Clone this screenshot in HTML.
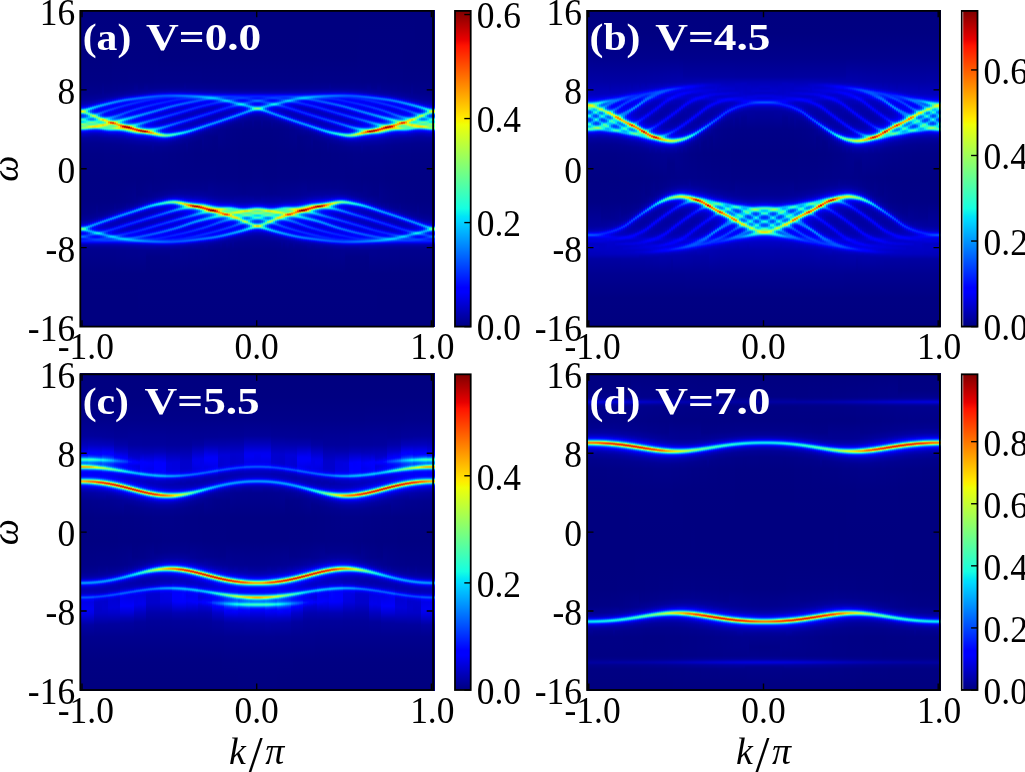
<!DOCTYPE html>
<html lang="en"><head><meta charset="utf-8"><title>Spectral function A(k,ω)</title>
<style>
html,body{margin:0;padding:0;background:#fff}
#f{position:relative;width:1025px;height:772px;overflow:hidden;background:#fff;font-family:"Liberation Serif",serif}
.hm{position:absolute;background:#00007f;overflow:hidden}
.hm i{position:absolute;top:0;height:100%;display:block}
.cb{position:absolute;background:linear-gradient(to top,#000080 0%,#00f 11%,#00f 12.5%,#00dbff 34%,#00e5f7 35%,#15ffe2 37.5%,#efff08 64%,#f7f600 65%,#ffec00 66%,#ff1300 89%,#e80000 91%,#800000 100%)}
svg{position:absolute;left:0;top:0}
.sp{fill:none;stroke:#000;stroke-width:1.8}
.tk{stroke:#000;stroke-width:1.4;fill:none}
.t{font-family:"Liberation Serif",serif;font-size:37.5px;fill:#000}
.ttl{font-family:"Liberation Serif",serif;font-weight:bold;font-size:37px;fill:#fff}
.om{font-family:"Liberation Serif",serif;font-style:italic;font-size:37px;fill:#000}
.xl{font-family:"Liberation Serif",serif;font-size:38px;fill:#000}
.it{font-style:italic}
.sl{font-size:52px}
.a0{background:linear-gradient(#000080,#000080 24px,#000081 48px,#000085 72px,#00008c 84px,#009 90px,#0000b4 94px,#0000d7 96px,#0000f9 97px,#001fff 98px,#0080ff 99px,#43ffb4 100px,#ffe000 101px,#f1fd06 102px,#2fffc7 103px,#08f 104px,#0045ff 105px,#03f 106px,#0048ff 107px,#0091ff 108px,#26ffd1 109px,#50ffa7 110px,#08efef 111px,#00cbff 112px,#24ffd2 113px,#93ff64 114px,#8bff6c 115px,#4dffaa 116px,#73ff84 117px,#a6ff51 118px,#31ffc6 119px,#007bff 120px,#001cff 121px,#0000f7 122px,#0000d6 123px,#0000c1 124px,#00009e 128px,#00008e 134px,#000086 144px,#000083 168px,#000084 192px,#00008a 204px,#00009a 210px,#0000b5 213px,#0000c8 214px,#0000e9 215px,#0012ff 216px,#0078ff 217px,#38ffbf 218px,#97ff60 219px,#21ffd6 220px,#006fff 221px,#001dff 222px,#00f 223px,#00f 224px,#001eff 225px,#0062ff 226px,#0078ff 227px,#0038ff 228px,#0010ff 229px,#0026ff 231px,#000aff 232px,#0000e8 233px,#0000c2 234px,#0000ad 235px,#009 237px,#00008e 240px,#000082 264px,#000080 288px,#000080 312px,#000080)}
.a1{background:linear-gradient(#000080,#000080 24px,#000081 48px,#000085 72px,#00008c 84px,#009 90px,#0000b4 94px,#0000d7 96px,#0000fa 97px,#0021ff 98px,#0084ff 99px,#47ffb0 100px,#faf200 101px,#e7ff0f 102px,#36ffc1 103px,#008eff 104px,#0048ff 105px,#0035ff 106px,#004bff 107px,#0094ff 108px,#23ffd4 109px,#4affad 110px,#0af2ed 111px,#00ceff 112px,#26ffd1 113px,#90ff67 114px,#8aff6c 115px,#50ffa7 116px,#a6ff51 118px,#2fffc8 119px,#0079ff 120px,#001cff 121px,#0000f7 122px,#0000d6 123px,#0000c1 124px,#00009e 128px,#00008e 134px,#000086 144px,#000083 168px,#000084 192px,#00008a 204px,#00009a 210px,#0000b5 213px,#0000c9 214px,#0000eb 215px,#0015ff 216px,#007dff 217px,#38ffbf 218px,#8aff6d 219px,#21ffd6 220px,#0072ff 221px,#001fff 222px,#00f 223px,#00f 224px,#001fff 225px,#0061ff 226px,#0075ff 227px,#0038ff 228px,#01f 229px,#0026ff 231px,#000aff 232px,#0000e8 233px,#0000c2 234px,#0000ad 235px,#009 237px,#00008e 240px,#000082 264px,#000080 288px,#000080 312px,#000080)}
.a2{background:linear-gradient(#000080,#000080 24px,#000081 48px,#000085 72px,#00008c 84px,#009 90px,#0000b5 94px,#00d 96px,#00f 97px,#0034ff 98px,#00a8ff 99px,#55ffa1 100px,#92ff65 101px,#9cff5b 102px,#5cff9b 103px,#0bf 104px,#0061ff 105px,#0047ff 106px,#005fff 107px,#0af 108px,#0df5ea 109px,#20ffd7 110px,#15ffe2 111px,#02e9f4 112px,#34ffc3 113px,#7cff7b 114px,#83ff74 115px,#62ff94 116px,#a5ff52 118px,#21ffd6 119px,#006eff 120px,#0016ff 121px,#0000f3 122px,#0000c0 124px,#00009d 128px,#00008e 134px,#000086 144px,#000083 168px,#000084 192px,#00008a 204px,#00009a 210px,#0000b8 213px,#0000cf 214px,#0000f7 215px,#002aff 216px,#009fff 217px,#27ffd0 218px,#39ffbe 219px,#19ffdd 220px,#008aff 221px,#002eff 222px,#0007ff 223px,#0007ff 224px,#002aff 225px,#005bff 226px,#0060ff 227px,#0016ff 229px,#0026ff 231px,#000aff 232px,#0000e8 233px,#0000c2 234px,#0000ad 235px,#009 237px,#00008e 240px,#000082 264px,#000080 288px,#000080 312px,#000080)}
.a3{background:linear-gradient(#000080,#000080 24px,#000081 48px,#000085 72px,#00008c 84px,#00009a 90px,#0000b9 94px,#0000e7 96px,#0009ff 97px,#005cff 98px,#00e3f9 99px,#3bffbc 100px,#16ffe0 101px,#29ffce 102px,#64ff93 103px,#26ffd1 104px,#009dff 105px,#0071ff 106px,#008aff 107px,#00c1ff 108px,#00c1ff 109px,#00cdff 110px,#1affdd 111px,#2affcd 112px,#4affad 113px,#75ff82 115px,#84ff73 116px,#abff4c 117px,#9fff58 118px,#09f0ee 119px,#005dff 120px,#000dff 121px,#00e 122px,#0000be 124px,#00009d 128px,#00008e 134px,#000086 144px,#000083 168px,#000084 192px,#00008b 204px,#00009c 210px,#0000bf 213px,#0001ff 215px,#0058ff 216px,#00c6ff 217px,#00ceff 218px,#00b8ff 219px,#00daff 220px,#00aeff 221px,#004cff 222px,#001aff 223px,#0019ff 224px,#003bff 225px,#004cff 226px,#0039ff 228px,#001fff 229px,#0026ff 231px,#000bff 232px,#0000e8 233px,#0000c2 234px,#0000ad 235px,#009 237px,#00008e 240px,#000082 264px,#000080 288px,#000080 312px,#000080)}
.a4{background:linear-gradient(#000080,#000080 24px,#000081 48px,#000085 72px,#00008c 84px,#00009b 90px,#0000be 94px,#0000d4 95px,#0000fa 96px,#002aff 97px,#09f 98px,#17ffe0 99px,#00d2ff 100px,#008fff 101px,#009fff 102px,#1bffdb 103px,#63ff94 104px,#20ffd7 105px,#00c3ff 106px,#00c9ff 107px,#00baff 108px,#008fff 109px,#009fff 110px,#0ef7e8 111px,#56ffa1 112px,#5eff99 113px,#42ffb5 114px,#65ff92 115px,#acff4a 116px,#d7ff20 117px,#8fff68 118px,#00ceff 119px,#004aff 120px,#0004ff 121px,#0000e8 122px,#0000bc 124px,#00009c 128px,#00008e 134px,#000086 144px,#000083 168px,#000084 192px,#00008a 203px,#009 209px,#0000b5 212px,#00c 213px,#0000f5 214px,#002cff 215px,#0096ff 216px,#00b6ff 217px,#0074ff 218px,#0060ff 219px,#00c0ff 221px,#003aff 223px,#0035ff 224px,#004bff 225px,#0026ff 227px,#0031ff 228px,#0026ff 231px,#000bff 232px,#0000e8 233px,#0000c2 234px,#0000ad 235px,#009 237px,#00008e 240px,#000082 264px,#000080 288px,#000080 312px,#000080)}
.a5{background:linear-gradient(#000080,#000080 24px,#000081 48px,#000085 72px,#00008d 84px,#00009c 90px,#0000b5 93px,#0000c6 94px,#0007ff 96px,#005eff 97px,#00d5ff 98px,#00d6ff 99px,#07f 100px,#0047ff 101px,#0053ff 102px,#009dff 103px,#3cffbb 104px,#87ff70 105px,#56ffa1 106px,#19ffde 107px,#00a5ff 108px,#0075ff 109px,#0089ff 110px,#02e8f5 111px,#6fff88 112px,#6bff8c 113px,#35ffc2 114px,#5dff9a 115px,#d2ff24 116px,#ffec00 117px,#77ff80 118px,#00aeff 119px,#003aff 120px,#00f 121px,#0000ca 123px,#0000ba 124px,#0000a1 127px,#00008f 133px,#000086 144px,#000083 168px,#000084 192px,#00008a 203px,#000096 208px,#0000ae 211px,#0000c1 212px,#0000e2 213px,#000eff 214px,#006dff 215px,#00afff 216px,#002eff 218px,#0026ff 219px,#0054ff 220px,#00a9ff 221px,#0af 222px,#006aff 223px,#0051ff 225px,#0024ff 226px,#01f 227px,#0035ff 229px,#0027ff 231px,#000bff 232px,#0000e8 233px,#0000c2 234px,#0000ad 235px,#009 237px,#00008e 240px,#000082 264px,#000080 288px,#000080 312px,#000080)}
.a6{background:linear-gradient(#000080,#000080 24px,#000081 48px,#000085 72px,#00008d 84px,#00009e 90px,#00b 93px,#0000d2 94px,#0000fa 95px,#002fff 96px,#009fff 97px,#00ddfe 98px,#0038ff 100px,#001cff 101px,#0027ff 102px,#005bff 103px,#00d1ff 104px,#8fff67 105px,#ceff29 106px,#47ffb0 107px,#00aeff 108px,#0079ff 109px,#008cff 110px,#02e8f5 111px,#68ff8f 112px,#6bff8c 113px,#39ffbd 114px,#62ff95 115px,#f0fd07 116px,#ffd200 117px,#60ff97 118px,#0098ff 119px,#002eff 120px,#00f 121px,#0000c8 123px,#0000ae 125px,#0000a0 127px,#00008f 133px,#000086 144px,#000083 168px,#000084 192px,#00008b 203px,#000098 208px,#0000b8 211px,#0000d3 212px,#00f 213px,#004aff 214px,#00a4ff 215px,#007dff 216px,#0029ff 217px,#0001ff 218px,#00f 219px,#0025ff 220px,#00c4ff 222px,#0084ff 224px,#0016ff 226px,#0004ff 227px,#0019ff 228px,#003cff 229px,#003dff 230px,#000cff 232px,#0000e8 233px,#0000c2 234px,#0000ad 235px,#009 237px,#00008e 240px,#000082 264px,#000080 288px,#000080 312px,#000080)}
.a7{background:linear-gradient(#000080,#000080 24px,#000081 48px,#000085 72px,#00008c 83px,#00009a 89px,#0000b3 92px,#0000c4 93px,#0000e3 94px,#000aff 95px,#06f 96px,#00cdff 97px,#00a5ff 98px,#04f 99px,#01f 100px,#0004ff 101px,#0013ff 102px,#0041ff 103px,#00a5ff 104px,#4fffa8 105px,#b8ff3f 106px,#8eff69 107px,#0bf3ec 108px,#00a1ff 109px,#00a9ff 110px,#10f9e7 111px,#48ffae 112px,#5aff9d 113px,#4effa9 114px,#77ff80 115px,#ffe800 116px,#ffd500 117px,#51ffa5 118px,#008eff 119px,#0029ff 120px,#00f 121px,#0000c7 123px,#0000ae 125px,#0000a0 127px,#00008f 133px,#000086 144px,#000083 168px,#000084 192px,#00008a 202px,#000096 207px,#0000b2 210px,#0000c8 211px,#0000f2 212px,#002cff 213px,#008fff 214px,#0090ff 215px,#0035ff 216px,#00f 217px,#0000f2 218px,#0006ff 220px,#004cff 221px,#0bf 222px,#01e7f6 223px,#0af 224px,#004aff 225px,#000eff 226px,#00f 227px,#0013ff 228px,#003fff 229px,#04f 230px,#000dff 232px,#0000e8 233px,#0000c2 234px,#0000ad 235px,#009 237px,#00008e 240px,#000082 264px,#000080 288px,#000080 312px,#000080)}
.a8{background:linear-gradient(#000080,#000080 24px,#000081 48px,#000085 72px,#00008c 83px,#00009c 89px,#0000ba 92px,#0000d1 93px,#0000fb 94px,#0034ff 95px,#00a2ff 96px,#00c0ff 97px,#0060ff 98px,#0018ff 99px,#00f 100px,#00f 101px,#0010ff 102px,#0048ff 103px,#00a3ff 104px,#00e2f9 105px,#31ffc5 106px,#8fff67 107px,#72ff85 108px,#13fee3 109px,#02e8f5 110px,#23ffd4 111px,#23ffd4 112px,#3affbc 113px,#9bff5c 115px,#ffdf00 116px,#fbf000 117px,#4fffa7 118px,#0090ff 119px,#002bff 120px,#00f 121px,#0000c8 123px,#0000ae 125px,#0000a0 127px,#00008f 133px,#000086 144px,#000083 168px,#000084 192px,#000095 206px,#0000ac 209px,#0000bf 210px,#0000e2 211px,#0012ff 212px,#0073ff 213px,#009eff 214px,#00f 216px,#00d 218px,#0000e5 219px,#00f 220px,#002eff 221px,#00a0ff 222px,#1effd9 223px,#00c6ff 224px,#004eff 225px,#000fff 226px,#00f 227px,#0013ff 228px,#0042ff 229px,#0048ff 230px,#000eff 232px,#0000e8 233px,#0000c2 234px,#0000ad 235px,#009 237px,#00008e 240px,#000082 264px,#000080 288px,#000080 312px,#000080)}
.a9{background:linear-gradient(#000080,#000080 24px,#000081 48px,#000085 72px,#00008b 82px,#009 88px,#0000b1 91px,#0000c3 92px,#0000e3 93px,#000cff 94px,#00c2ff 96px,#0087ff 97px,#002bff 98px,#00f 99px,#00f 101px,#0020ff 102px,#0065ff 103px,#008eff 104px,#0080ff 105px,#00a0ff 106px,#2affcd 107px,#a4ff52 108px,#8eff69 109px,#57ffa0 110px,#35ffc2 111px,#09f1ee 112px,#20ffd7 113px,#cfff28 115px,#ffe400 116px,#d1ff26 117px,#57ffa0 118px,#00a2ff 119px,#0034ff 120px,#00f 121px,#0000ca 123px,#0000ba 124px,#0000a1 127px,#00008f 133px,#000086 144px,#000083 168px,#000084 192px,#00008a 201px,#000097 206px,#0000b8 209px,#0000d5 210px,#00f 211px,#00a0ff 213px,#0063ff 214px,#000dff 215px,#0000eb 216px,#0000d5 217px,#0000d1 218px,#0000db 219px,#0000f8 220px,#0021ff 221px,#008aff 222px,#13fde4 223px,#00d7ff 224px,#005eff 225px,#0018ff 226px,#0005ff 227px,#0019ff 228px,#04f 229px,#0049ff 230px,#000eff 232px,#0000e8 233px,#0000c2 234px,#0000ad 235px,#009 237px,#00008e 240px,#000082 264px,#000080 288px,#000080 312px,#000080)}
.a10{background:linear-gradient(#000080,#000081 24px,#000081 48px,#000085 72px,#00008d 83px,#00009b 88px,#0000b8 91px,#0000d0 92px,#0000fb 93px,#0036ff 94px,#00a0ff 95px,#00acff 96px,#004bff 97px,#0009ff 98px,#0000fe 100px,#000aff 101px,#0070ff 103px,#003dff 105px,#0056ff 106px,#00acff 107px,#5eff99 108px,#eeff09 109px,#ceff29 110px,#54ffa3 111px,#08f0ef 112px,#18ffde 113px,#85ff71 114px,#ffe700 115px,#f1fc06 116px,#9dff5a 117px,#5fff98 118px,#00c3ff 119px,#0048ff 120px,#0003ff 121px,#0000e8 122px,#0000bd 124px,#00009d 128px,#00008e 134px,#000086 144px,#000083 168px,#000085 192px,#00008b 201px,#00009b 206px,#0000b2 208px,#0000ca 209px,#0000f7 210px,#0035ff 211px,#0094ff 212px,#007fff 213px,#0020ff 214px,#0000f2 215px,#0000d4 216px,#0000c9 217px,#0000ca 218px,#0000d7 219px,#0000f7 220px,#02f 221px,#007eff 222px,#00c6ff 223px,#00d1ff 224px,#002bff 226px,#0013ff 227px,#0045ff 229px,#0047ff 230px,#0035ff 231px,#000dff 232px,#0000e7 233px,#0000c2 234px,#0000ad 235px,#009 237px,#00008e 240px,#000082 264px,#000080 288px,#000080 312px,#000080)}
.a11{background:linear-gradient(#000080,#000081 24px,#000081 48px,#000085 72px,#000098 87px,#0000b0 90px,#0000c1 91px,#0000e1 92px,#000aff 93px,#0068ff 94px,#00b6ff 95px,#0076ff 96px,#0020ff 97px,#00f 98px,#00f 100px,#0028ff 101px,#005eff 102px,#004cff 103px,#0021ff 104px,#0018ff 105px,#002fff 106px,#0071ff 107px,#12fce4 108px,#d0ff27 109px,#ffbc00 110px,#96ff60 111px,#2affcd 112px,#2cffcb 113px,#9aff5d 114px,#fc0 115px,#d1ff26 116px,#6fff88 117px,#5bff9c 118px,#07efef 119px,#06f 120px,#0013ff 121px,#0000f2 122px,#0000c0 124px,#00009e 128px,#00008e 134px,#000086 144px,#000083 168px,#000085 192px,#00008c 201px,#009 205px,#0000ac 207px,#0000c0 208px,#0000e5 209px,#0018ff 210px,#007aff 211px,#0095ff 212px,#003aff 213px,#00f 214px,#0000d8 215px,#0000c6 216px,#0000c7 218px,#0000d9 219px,#00f 220px,#002fff 221px,#006fff 222px,#0085ff 223px,#00adff 224px,#0097ff 225px,#0049ff 226px,#0029ff 227px,#0042ff 229px,#04f 230px,#0039ff 231px,#000dff 232px,#0000e7 233px,#0000c2 234px,#0000ad 235px,#009 237px,#00008e 240px,#000082 264px,#000080 288px,#000080 312px,#000080)}
.a12{background:linear-gradient(#000080,#000081 24px,#000081 48px,#000085 72px,#00008c 82px,#00009a 87px,#0000b6 90px,#0000cd 91px,#0000f8 92px,#0031ff 93px,#0098ff 94px,#009fff 95px,#0042ff 96px,#0004ff 97px,#00f 99px,#0013ff 100px,#004bff 101px,#004eff 102px,#001dff 103px,#0002ff 104px,#0003ff 105px,#001dff 106px,#005aff 107px,#00d2ff 108px,#85ff72 109px,#ffe800 110px,#edff09 111px,#76ff81 112px,#60ff97 113px,#bdff39 114px,#ffe900 115px,#b0ff47 116px,#54ffa3 117px,#4fffa8 118px,#28ffcf 119px,#008aff 120px,#0026ff 121px,#0000fe 122px,#0000da 123px,#0000c5 124px,#00009f 128px,#00008f 134px,#000087 144px,#000083 168px,#000085 192px,#00008d 201px,#00009d 205px,#0000b8 207px,#00f 209px,#005aff 210px,#009eff 211px,#0059ff 212px,#0003ff 213px,#0000c7 215px,#0000be 216px,#0000c8 218px,#0001ff 220px,#003fff 221px,#0052ff 222px,#004cff 223px,#00a5ff 225px,#0071ff 226px,#004aff 227px,#003cff 231px,#000dff 232px,#0000e6 233px,#0000c2 234px,#0000ad 235px,#009 237px,#00008e 240px,#000082 264px,#000080 288px,#000080 312px,#000080)}
.a13{background:linear-gradient(#000080,#000081 24px,#000081 48px,#000085 72px,#00008d 82px,#00009c 87px,#0000bf 90px,#0006ff 92px,#0061ff 93px,#00acff 94px,#006dff 95px,#001aff 96px,#00f 97px,#0001ff 99px,#03f 100px,#0052ff 101px,#00f 103px,#00f 105px,#0019ff 106px,#0059ff 107px,#00c8ff 108px,#3effb9 109px,#91ff65 110px,#ffe500 111px,#eaff0d 112px,#bdff39 113px,#e3ff14 114px,#c6ff31 115px,#4effa9 117px,#3effb8 119px,#00aeff 120px,#003bff 121px,#00f 122px,#0000c9 124px,#0000b9 125px,#0000a0 128px,#00008f 134px,#000087 144px,#000083 168px,#000085 192px,#00008c 200px,#00009b 204px,#0000b2 206px,#0000ca 207px,#0000f9 208px,#0039ff 209px,#0096ff 210px,#0078ff 211px,#0019ff 212px,#0000eb 213px,#0000cb 214px,#0000ba 216px,#0000ce 218px,#0000ef 219px,#0019ff 220px,#0043ff 221px,#0020ff 223px,#0049ff 224px,#0096ff 225px,#009eff 226px,#0076ff 227px,#003aff 229px,#003dff 231px,#000cff 232px,#0000e6 233px,#0000c2 234px,#0000ad 235px,#00009a 237px,#00008e 240px,#000082 264px,#000080 288px,#000080 312px,#000080)}
.a14{background:linear-gradient(#000080,#000081 24px,#000081 48px,#000085 72px,#00008d 82px,#00009f 87px,#0000b4 89px,#0000cb 90px,#0000f4 91px,#002bff 92px,#008fff 93px,#0096ff 94px,#003cff 95px,#00f 96px,#00f 98px,#001bff 99px,#004bff 100px,#0034ff 101px,#0002ff 102px,#0000f6 104px,#00f 105px,#001fff 106px,#006aff 107px,#00c4ff 108px,#00e2f9 109px,#30ffc7 110px,#c4ff33 111px,#ff8f00 112px,#ff9e00 113px,#fbf100 114px,#8cff6b 115px,#6bff8b 116px,#59ff9e 117px,#4effa9 119px,#00c8ff 120px,#004aff 121px,#0003ff 122px,#0000bc 125px,#0000a1 128px,#00008f 134px,#000087 144px,#000083 168px,#000085 192px,#00008c 199px,#009 203px,#0000ac 205px,#0000c1 206px,#0000e6 207px,#001bff 208px,#007eff 209px,#0092ff 210px,#0034ff 211px,#0000fa 212px,#0000d2 213px,#0000bf 214px,#0000b9 216px,#0000c2 217px,#0000d9 218px,#00f 219px,#0030ff 220px,#0030ff 221px,#000aff 222px,#0002ff 223px,#0023ff 224px,#00bfff 226px,#00a8ff 227px,#06f 228px,#003bff 229px,#0043ff 230px,#003eff 231px,#000bff 232px,#0000e6 233px,#0000c2 234px,#0000ad 235px,#00009a 237px,#00008e 240px,#000082 264px,#000080 288px,#000080 312px,#000080)}
.a15{background:linear-gradient(#000080,#000081 24px,#000081 48px,#000085 72px,#00008c 81px,#00009b 86px,#0000bd 89px,#0001ff 91px,#0059ff 92px,#00a2ff 93px,#0067ff 94px,#0017ff 95px,#00f 96px,#0007ff 98px,#003aff 99px,#0041ff 100px,#000eff 101px,#0000f8 102px,#0000ec 103px,#00f 105px,#0031ff 106px,#0083ff 107px,#00acff 108px,#00a2ff 109px,#00d6ff 110px,#79ff7e 111px,#ff7c00 112px,#f60b00 113px,#ffda00 114px,#70ff87 115px,#50ffa6 116px,#68ff8f 117px,#6aff8d 118px,#5eff98 119px,#00d3ff 120px,#0050ff 121px,#0007ff 122px,#0000bd 125px,#0000a2 128px,#00008f 134px,#000087 144px,#000083 168px,#000086 192px,#00008d 199px,#00009d 203px,#0000b9 205px,#0002ff 207px,#005fff 208px,#009eff 209px,#00f 211px,#0000da 212px,#0000c2 213px,#0000b7 214px,#00b 216px,#0000ca 217px,#0000ed 218px,#0016ff 219px,#0036ff 220px,#0010ff 221px,#0000fe 222px,#000bff 224px,#05f 225px,#00c4ff 226px,#00d2ff 227px,#0076ff 228px,#04f 229px,#0048ff 230px,#003dff 231px,#000bff 232px,#0000e6 233px,#0000c2 234px,#0000ad 235px,#00009a 237px,#00008e 240px,#000082 264px,#000080 288px,#000080 312px,#000080)}
.a16{background:linear-gradient(#000080,#000081 24px,#000082 48px,#000086 72px,#00008d 81px,#00009d 86px,#0000b2 88px,#0000c7 89px,#00e 90px,#0023ff 91px,#0084ff 92px,#008fff 93px,#0039ff 94px,#00f 95px,#0000fb 96px,#00f 97px,#0046ff 99px,#00f 101px,#0000e9 102px,#0000e7 103px,#0000f7 104px,#000dff 105px,#008fff 107px,#0078ff 109px,#00b0ff 110px,#51ffa6 111px,#ffad00 112px,#d90000 113px,#fa0 114px,#7eff78 115px,#49ffae 116px,#95ff62 118px,#73ff84 119px,#00d4ff 120px,#0050ff 121px,#0008ff 122px,#0000be 125px,#0000a2 128px,#000090 134px,#000087 144px,#000083 168px,#000086 192px,#00008c 198px,#00009b 202px,#0000b2 204px,#00c 205px,#0000fc 206px,#003eff 207px,#09f 208px,#0073ff 209px,#0014ff 210px,#0000e6 211px,#0000c7 212px,#0000b9 213px,#0000b6 215px,#0000c1 216px,#0000da 217px,#00f 218px,#0030ff 219px,#0020ff 220px,#00f 221px,#0000e9 222px,#0000ed 223px,#00f 224px,#0042ff 225px,#00b3ff 226px,#00e2f9 227px,#008eff 228px,#0056ff 229px,#0051ff 230px,#003bff 231px,#000bff 232px,#0000e7 233px,#0000c2 234px,#0000ae 235px,#00009a 237px,#00008e 240px,#000082 264px,#000080 288px,#000080 312px,#000080)}
.a17{background:linear-gradient(#000080,#000081 24px,#000082 48px,#000086 72px,#00008e 81px,#0000a0 86px,#0000ba 88px,#0000d5 89px,#00f 90px,#09f 92px,#06f 93px,#0017ff 94px,#00f 95px,#00f 96px,#000eff 97px,#003dff 98px,#0031ff 99px,#00f 100px,#0000e2 102px,#0000e9 103px,#00f 104px,#0026ff 105px,#006fff 106px,#007cff 107px,#005bff 108px,#0062ff 109px,#00a7ff 110px,#4cffab 111px,#faf200 112px,#ff7200 113px,#ff7900 114px,#bdff3a 115px,#60ff96 116px,#81ff75 117px,#c5ff32 118px,#89ff6e 119px,#00d3ff 120px,#004fff 121px,#0008ff 122px,#0000bf 125px,#0000a3 128px,#000090 134px,#000087 144px,#000083 168px,#000086 192px,#009 201px,#0000ad 203px,#0000c2 204px,#0000e9 205px,#0020ff 206px,#0083ff 207px,#008fff 208px,#002fff 209px,#0000f6 210px,#0000ce 211px,#0000b4 213px,#0000ba 215px,#00c 216px,#0000f3 217px,#001eff 218px,#002eff 219px,#00f 220px,#0000e7 221px,#0000dc 222px,#0000e6 223px,#00f 224px,#003cff 225px,#09f 226px,#00ceff 227px,#00a9ff 228px,#0070ff 229px,#005cff 230px,#003aff 231px,#000cff 232px,#0000e8 233px,#0000c3 234px,#0000ae 235px,#00009a 237px,#00008e 240px,#000082 264px,#000080 288px,#000080 312px,#000080)}
.a18{background:linear-gradient(#000080,#000081 24px,#000082 48px,#000086 72px,#00008c 80px,#00009c 85px,#0000af 87px,#0000c3 88px,#0000e7 89px,#0018ff 90px,#0075ff 91px,#008dff 92px,#003cff 93px,#0001ff 94px,#00f 96px,#0029ff 97px,#003eff 98px,#000fff 99px,#0000f3 100px,#0000e1 101px,#0000e1 102px,#000aff 104px,#004cff 105px,#0078ff 106px,#0056ff 107px,#0041ff 108px,#005eff 109px,#00b9ff 110px,#59ff9d 111px,#a7ff4f 112px,#d7ff1f 113px,#ff9500 114px,#ffc700 115px,#a0ff56 116px,#a0ff57 117px,#eeff09 118px,#9eff59 119px,#00d6ff 120px,#0051ff 121px,#000aff 122px,#00e 123px,#0000c0 125px,#00009e 129px,#00008f 135px,#000087 144px,#000083 168px,#000087 192px,#00008f 198px,#00009e 201px,#0000ba 203px,#0006ff 205px,#0064ff 206px,#009eff 207px,#00f 209px,#0000d8 210px,#0000c0 211px,#0000b5 212px,#0000b6 214px,#0000c3 215px,#0000e1 216px,#0008ff 217px,#0032ff 218px,#0010ff 219px,#0000ef 220px,#0000d7 221px,#0000d5 222px,#00f 224px,#007aff 226px,#00a4ff 227px,#0bf 228px,#000dff 232px,#0000e9 233px,#0000c4 234px,#0000af 235px,#00009b 237px,#00008f 240px,#000082 264px,#000080 288px,#000080 312px,#000080)}
.a19{background:linear-gradient(#000080,#000081 24px,#000082 48px,#000086 72px,#00008f 81px,#00009f 85px,#0000b6 87px,#0000cf 88px,#0000fd 89px,#003bff 90px,#008eff 91px,#006bff 92px,#001cff 93px,#00f 94px,#00f 95px,#0013ff 96px,#003dff 97px,#00f 99px,#0000e4 100px,#00d 101px,#0000e7 102px,#00f 103px,#002dff 104px,#006aff 105px,#005aff 106px,#0035ff 107px,#0038ff 108px,#006cff 109px,#00dffc 110px,#55ffa2 111px,#4affad 112px,#60ff97 113px,#ecff0b 114px,#ff7400 115px,#ffdb00 116px,#dcff1b 117px,#ffe100 118px,#aeff49 119px,#00e4f8 120px,#005aff 121px,#0010ff 122px,#0000f3 123px,#0000c3 125px,#00009f 129px,#00008f 135px,#000087 144px,#000083 168px,#000087 192px,#000091 198px,#0000a4 201px,#0000cd 203px,#00f 204px,#0043ff 205px,#009cff 206px,#0071ff 207px,#01f 208px,#0000e4 209px,#0000c5 210px,#0000b7 211px,#0000b3 213px,#0000bc 214px,#0000d3 215px,#00f 216px,#002aff 217px,#0023ff 218px,#0000fc 219px,#0000d9 220px,#0000cd 221px,#0000d2 222px,#000aff 224px,#0046ff 225px,#0078ff 227px,#00baff 228px,#00b7ff 229px,#003eff 231px,#0010ff 232px,#0000eb 233px,#0000c5 234px,#0000b0 235px,#00009b 237px,#00008f 240px,#000082 264px,#000080 288px,#000080 312px,#000080)}
.a20{background:linear-gradient(#000080,#000081 24px,#000082 48px,#000086 72px,#000090 81px,#0000a1 85px,#0000bd 87px,#0007ff 89px,#0060ff 90px,#008dff 91px,#0007ff 93px,#0002ff 95px,#002dff 96px,#0036ff 97px,#0005ff 98px,#00d 100px,#0000e0 101px,#0000f6 102px,#0014ff 103px,#0056ff 104px,#005fff 105px,#0032ff 106px,#0023ff 107px,#003dff 108px,#008cff 109px,#19ffde 110px,#29ffce 111px,#00defd 112px,#0cf5eb 113px,#83ff74 114px,#ff8d00 115px,#ff4800 116px,#ffa200 117px,#ffc900 118px,#b8ff3f 119px,#17ffe0 120px,#006dff 121px,#001bff 122px,#0000fa 123px,#0000c6 125px,#0000a1 129px,#00008f 135px,#000087 144px,#000083 168px,#008 192px,#000090 197px,#0000a1 200px,#0000c3 202px,#0000eb 203px,#0023ff 204px,#0087ff 205px,#008fff 206px,#002dff 207px,#0000f5 208px,#0000cd 209px,#0000ba 210px,#0000b1 212px,#0000c9 214px,#0000ed 215px,#0018ff 216px,#0030ff 217px,#00f 218px,#00c 220px,#0000c9 221px,#0000d5 222px,#0000f4 223px,#001cff 224px,#04f 225px,#003dff 226px,#0057ff 227px,#00abff 228px,#00d4ff 229px,#04f 231px,#0014ff 232px,#0000ed 233px,#0000c6 234px,#0000b0 235px,#00009b 237px,#00008f 240px,#000082 264px,#000080 288px,#000080 312px,#000080)}
.a21{background:linear-gradient(#000080,#000081 24px,#000082 48px,#000086 72px,#00008e 80px,#00009c 84px,#0000b1 86px,#0000c6 87px,#00e 88px,#0024ff 89px,#007cff 90px,#07f 91px,#0028ff 92px,#00f 93px,#00f 94px,#0017ff 95px,#003aff 96px,#0000fa 98px,#0000e1 99px,#00d 100px,#0001ff 102px,#003fff 103px,#0060ff 104px,#0035ff 105px,#0017ff 106px,#001fff 107px,#0052ff 108px,#00b9ff 109px,#1bffdc 110px,#00caff 111px,#0096ff 112px,#00aeff 113px,#31ffc5 114px,#faf200 115px,#d90000 116px,#f50b00 117px,#ffa800 118px,#c1ff36 119px,#3bffbc 120px,#008dff 121px,#002dff 122px,#00f 123px,#0000cb 125px,#0000bc 126px,#0000a2 129px,#000090 135px,#008 144px,#000083 168px,#000089 192px,#000092 197px,#0000a8 200px,#0000ba 201px,#0007ff 203px,#0067ff 204px,#00a0ff 205px,#00f 207px,#0000d8 208px,#0000bf 209px,#0000b1 211px,#0000c1 213px,#0004ff 215px,#03f 216px,#0013ff 217px,#0000ec 218px,#0000ce 219px,#0000c4 220px,#0000c8 221px,#0000db 222px,#00f 223px,#002dff 224px,#0037ff 225px,#0025ff 226px,#0040ff 227px,#09f 228px,#00e3f9 229px,#004dff 231px,#0018ff 232px,#0000ef 233px,#0000c8 234px,#0000b1 235px,#00009c 237px,#00008f 240px,#000082 264px,#000080 288px,#000080 312px,#000080)}
.a22{background:linear-gradient(#000080,#000081 24px,#000082 48px,#000086 72px,#00008f 80px,#00009f 84px,#0000b7 86px,#0000d1 87px,#00f 88px,#0089ff 90px,#0059ff 91px,#0014ff 92px,#00f 93px,#0005ff 94px,#002dff 95px,#0030ff 96px,#00f 97px,#00d 99px,#0000e4 100px,#00f 101px,#005aff 103px,#0013ff 105px,#000cff 106px,#0029ff 107px,#0075ff 108px,#00dffc 109px,#00d8ff 110px,#0085ff 111px,#0064ff 112px,#007eff 113px,#00dcfe 114px,#a0ff57 115px,#ff1700 116px,#800000 117px,#f60 118px,#d2ff24 119px,#66ff90 120px,#0bf 121px,#0047ff 122px,#0006ff 123px,#0000c0 126px,#0000a4 129px,#000091 135px,#008 144px,#000083 168px,#000089 192px,#000091 196px,#0000a4 199px,#0000cd 201px,#00f 202px,#0043ff 203px,#009eff 204px,#0074ff 205px,#0013ff 206px,#0000e5 207px,#0000c6 208px,#0000b7 209px,#0000b2 211px,#00b 212px,#0000d1 213px,#00f 214px,#0029ff 215px,#0026ff 216px,#0000fd 217px,#0000d5 218px,#0000c4 219px,#0000c2 220px,#00c 221px,#000bff 223px,#0036ff 224px,#0013ff 226px,#03f 227px,#00e3f9 229px,#00abff 230px,#0057ff 231px,#001dff 232px,#0000f2 233px,#0000c9 234px,#0000b2 235px,#00009c 237px,#00008f 240px,#000082 264px,#000080 288px,#000080 312px,#000080)}
.a23{background:linear-gradient(#000080,#000081 24px,#000082 48px,#000086 72px,#00008f 80px,#0000a1 84px,#0000bd 86px,#0007ff 88px,#005dff 89px,#0084ff 90px,#003eff 91px,#0008ff 92px,#00f 93px,#0038ff 95px,#0017ff 96px,#0000f8 97px,#0000e1 98px,#0000e1 99px,#0000f5 100px,#0014ff 101px,#004eff 102px,#0045ff 103px,#0014ff 104px,#0001ff 105px,#000eff 106px,#0040ff 107px,#00a1ff 108px,#00e0fc 109px,#0052ff 111px,#0042ff 112px,#005eff 113px,#00afff 114px,#60ff97 115px,#ff7600 116px,#800000 117px,#f70c00 118px,#f5f701 119px,#94ff62 120px,#13fde4 121px,#006eff 122px,#001cff 123px,#0000fb 124px,#0000c7 126px,#0000a1 130px,#000091 135px,#008 144px,#000083 168px,#00008a 192px,#0000a1 198px,#0000c2 200px,#0000ea 201px,#02f 202px,#0087ff 203px,#0094ff 204px,#0032ff 205px,#0000f8 206px,#0000cf 207px,#00b 208px,#0000b1 210px,#0000c8 212px,#0000ec 213px,#0017ff 214px,#03f 215px,#0002ff 216px,#0000c6 218px,#0000be 219px,#0000c2 220px,#0000d3 221px,#0000fa 222px,#0021ff 223px,#002fff 224px,#000fff 225px,#0007ff 226px,#002cff 227px,#00d7ff 229px,#00b7ff 230px,#0064ff 231px,#0023ff 232px,#0000f5 233px,#0000cb 234px,#0000b3 235px,#00009d 237px,#000090 240px,#000082 264px,#000080 288px,#000080 312px,#000080)}
.a24{background:linear-gradient(#000080,#000081 24px,#000082 48px,#000087 72px,#00008e 79px,#00009c 83px,#0000af 85px,#0000c3 86px,#0000e9 87px,#001bff 88px,#0072ff 89px,#0074ff 90px,#002aff 91px,#0003ff 92px,#0008ff 93px,#002cff 94px,#002eff 95px,#00f 96px,#0000e0 98px,#0002ff 100px,#003dff 101px,#004dff 102px,#001bff 103px,#00f 104px,#00f 105px,#001bff 106px,#0064ff 107px,#00c6ff 108px,#00b4ff 109px,#005cff 110px,#002eff 111px,#002aff 112px,#0049ff 113px,#0094ff 114px,#3bffbb 115px,#ffd500 116px,#b70000 117px,#a10000 118px,#ffaf00 119px,#beff39 120px,#54ffa3 121px,#00a6ff 122px,#003bff 123px,#00f 124px,#0000be 127px,#0000a3 130px,#000092 135px,#008 144px,#000083 168px,#00008b 192px,#000097 196px,#0000a8 198px,#0000b9 199px,#0005ff 201px,#0063ff 202px,#00a5ff 203px,#00f 205px,#0000c1 207px,#0000b1 209px,#0000c0 211px,#0002ff 213px,#0034ff 214px,#0019ff 215px,#00e 216px,#00c 217px,#0000be 218px,#0000bd 219px,#0000c6 220px,#0002ff 222px,#0030ff 223px,#00f 225px,#0001ff 226px,#002dff 227px,#0080ff 228px,#00c2ff 229px,#00bdff 230px,#0029ff 232px,#0000f9 233px,#0000cd 234px,#0000b5 235px,#00009d 237px,#000090 240px,#000082 264px,#000080 288px,#000080 312px,#000080)}
.a25{background:linear-gradient(#000080,#000081 24px,#000082 48px,#000087 72px,#00008e 79px,#00009d 83px,#0000b3 85px,#0000cb 86px,#0000f6 87px,#0030ff 88px,#007eff 89px,#0060ff 90px,#001dff 91px,#0005ff 92px,#0035ff 94px,#0000f9 96px,#0000e4 97px,#0000e6 98px,#00f 99px,#004eff 101px,#00f 103px,#0002ff 105px,#0035ff 106px,#0093ff 107px,#00c5ff 108px,#0030ff 110px,#0015ff 111px,#001bff 112px,#003dff 113px,#008bff 114px,#2dffc9 115px,#c7ff30 116px,#ff8b00 117px,#c10000 118px,#ff5000 119px,#ecff0b 120px,#92ff65 121px,#06edf1 122px,#0062ff 123px,#0015ff 124px,#0000f6 125px,#0000c4 127px,#0000a6 130px,#000093 135px,#008 144px,#000084 168px,#00008c 192px,#0000a4 197px,#00c 199px,#0000fc 200px,#003eff 201px,#009fff 202px,#007fff 203px,#001bff 204px,#0000ea 205px,#0000c8 206px,#0000b2 208px,#0000ba 210px,#0000cf 211px,#0000fb 212px,#0028ff 213px,#002dff 214px,#00f 215px,#0000d6 216px,#0000c1 217px,#0000be 219px,#0000ce 220px,#0000f3 221px,#001bff 222px,#002fff 223px,#0009ff 224px,#00f 226px,#0034ff 227px,#007eff 228px,#00a8ff 229px,#0bf 230px,#0082ff 231px,#0030ff 232px,#0000fc 233px,#0000cf 234px,#0000b6 235px,#00009e 237px,#000090 240px,#000082 264px,#000080 288px,#000080 312px,#000080)}
.a26{background:linear-gradient(#000080,#000081 24px,#000082 48px,#000087 72px,#00008f 79px,#00009f 83px,#0000b8 85px,#0000d3 86px,#00f 87px,#0047ff 88px,#0080ff 89px,#0014ff 91px,#000cff 92px,#0029ff 93px,#002eff 94px,#00f 95px,#0000ed 96px,#0000e4 97px,#0000f4 98px,#01f 99px,#0046ff 100px,#0037ff 101px,#0005ff 102px,#00f 104px,#0013ff 105px,#005cff 106px,#00b6ff 107px,#0098ff 108px,#0040ff 109px,#01f 110px,#0005ff 111px,#0012ff 112px,#003bff 113px,#0091ff 114px,#2bffcc 115px,#c1ff36 117px,#ff5e00 118px,#f00700 119px,#ffb600 120px,#c8ff2e 121px,#45ffb2 122px,#0093ff 123px,#002fff 124px,#00f 125px,#0000cb 127px,#0000a8 130px,#000094 135px,#000089 144px,#000084 168px,#00008e 192px,#009 195px,#0000ad 197px,#0000c2 198px,#0000e8 199px,#001fff 200px,#0086ff 201px,#009fff 202px,#003dff 203px,#0000fe 204px,#0000d2 205px,#0000b3 207px,#0000b6 209px,#0000c6 210px,#0000e7 211px,#0013ff 212px,#0039ff 213px,#000cff 214px,#0000c6 216px,#00b 217px,#0000c3 219px,#00f 221px,#002eff 222px,#001eff 223px,#00f 224px,#0005ff 226px,#0078ff 228px,#008dff 229px,#00b3ff 230px,#0090ff 231px,#0037ff 232px,#00f 233px,#0000d1 234px,#0000b7 235px,#00009e 237px,#000090 240px,#000082 264px,#000080 288px,#000080 312px,#000080)}
.a27{background:linear-gradient(#000080,#000081 24px,#000082 48px,#000087 72px,#00009a 82px,#0000ab 84px,#0000bd 85px,#00d 86px,#0008ff 87px,#005cff 88px,#0078ff 89px,#0038ff 90px,#0010ff 91px,#0018ff 92px,#0032ff 93px,#0000fc 95px,#0000e6 96px,#0000eb 97px,#00f 98px,#0032ff 99px,#04f 100px,#0014ff 101px,#0000fe 102px,#0000f7 103px,#00f 104px,#0030ff 105px,#008cff 106px,#00b0ff 107px,#005eff 108px,#0019ff 109px,#00f 110px,#00f 111px,#01f 112px,#04f 113px,#00a7ff 114px,#1fffd7 115px,#26ffd0 116px,#4fffa8 117px,#f2fc05 118px,#fd1100 119px,#ff5000 120px,#ffe600 121px,#84ff73 122px,#00c7ff 123px,#004bff 124px,#0008ff 125px,#0000c0 128px,#0000a4 131px,#000092 136px,#000089 144px,#000084 168px,#000090 192px,#0000a9 196px,#0000ba 197px,#0006ff 199px,#06f 200px,#00aeff 201px,#0062ff 202px,#0006ff 203px,#0000c3 205px,#0000b6 206px,#0000b4 208px,#0000bf 209px,#0000d8 210px,#00f 211px,#0035ff 212px,#0024ff 213px,#0000f7 214px,#0000cf 215px,#0000bd 216px,#0000bc 218px,#00c 219px,#0000ef 220px,#0018ff 221px,#0030ff 222px,#0008ff 223px,#0000fb 225px,#0010ff 226px,#004fff 227px,#006cff 228px,#0074ff 229px,#00a7ff 230px,#009aff 231px,#0040ff 232px,#00f 233px,#0000d4 234px,#0000b8 235px,#00009f 237px,#000090 240px,#000082 264px,#000080 288px,#000080 312px,#000080)}
.a28{background:linear-gradient(#000080,#000081 24px,#000082 48px,#000087 72px,#00009b 82px,#0000af 84px,#0000c3 85px,#0000e8 86px,#001aff 87px,#006dff 88px,#0069ff 89px,#0029ff 90px,#0012ff 91px,#0025ff 92px,#002dff 93px,#0002ff 94px,#0000e7 96px,#0000f9 97px,#0018ff 98px,#0045ff 99px,#00f 101px,#0000f3 102px,#0000fb 103px,#000fff 104px,#00acff 106px,#0081ff 107px,#002cff 108px,#00f 109px,#00f 111px,#0017ff 112px,#005aff 113px,#00c0ff 114px,#00e0fc 115px,#00beff 116px,#00e2fa 117px,#7bff7c 118px,#ff7800 119px,#e10000 120px,#ff8700 121px,#c1ff36 122px,#0ff8e8 123px,#06f 124px,#0017ff 125px,#0000f8 126px,#0000c5 128px,#0000a5 131px,#000093 136px,#000089 144px,#000084 168px,#000087 185px,#000092 192px,#00009c 194px,#0000b4 196px,#0000ce 197px,#00f 198px,#0045ff 199px,#00a9ff 200px,#008aff 201px,#02f 202px,#00e 203px,#0000cb 204px,#0000b9 205px,#0000b2 207px,#0000cd 209px,#0000f6 210px,#0024ff 211px,#0037ff 212px,#00f 213px,#0000c2 215px,#0000b8 216px,#0000c2 218px,#0000da 219px,#00f 220px,#002eff 221px,#001fff 222px,#00f 223px,#0000f1 224px,#00f 225px,#02f 226px,#005cff 227px,#005eff 229px,#009aff 230px,#00a0ff 231px,#0048ff 232px,#00f 233px,#0000d6 234px,#0000ba 235px,#0000a9 236px,#000090 240px,#000082 264px,#000080 288px,#000080 312px,#000080)}
.a29{background:linear-gradient(#000080,#000081 24px,#000082 48px,#000087 72px,#00008e 78px,#00009c 82px,#0000b2 84px,#0000ca 85px,#0000f5 86px,#002eff 87px,#0076ff 88px,#0057ff 89px,#0020ff 90px,#0019ff 91px,#002eff 92px,#0000fe 94px,#0000e8 95px,#00e 96px,#0001ff 97px,#0036ff 98px,#0039ff 99px,#0007ff 100px,#0000f1 102px,#00f 103px,#002fff 104px,#008aff 105px,#009eff 106px,#0049ff 107px,#0009ff 108px,#0000fd 109px,#00f 111px,#0028ff 112px,#00c3ff 114px,#007bff 116px,#009aff 117px,#24ffd3 118px,#effe08 119px,#d30000 120px,#fa0f00 121px,#ffe900 122px,#2fffc8 123px,#007bff 124px,#0023ff 125px,#00f 126px,#0000c8 128px,#0000a7 131px,#000093 136px,#000089 144px,#000084 168px,#008 185px,#000095 192px,#0000af 195px,#0000c5 196px,#00e 197px,#0027ff 198px,#0094ff 199px,#00abff 200px,#04f 201px,#00f 202px,#0000d5 203px,#0000be 204px,#0000b2 206px,#0000c4 208px,#0000e3 209px,#000eff 210px,#003eff 211px,#0018ff 212px,#0000ec 213px,#0000c9 214px,#0000b6 216px,#00c 218px,#0000f0 219px,#0019ff 220px,#0031ff 221px,#0006ff 222px,#0000f0 224px,#00f 225px,#0038ff 226px,#005eff 227px,#0046ff 228px,#004dff 229px,#008cff 230px,#00a1ff 231px,#00f 233px,#00b 235px,#00a 236px,#000091 240px,#000082 264px,#000081 288px,#000080 312px,#000080)}
.a30{background:linear-gradient(#000080,#000081 24px,#000082 48px,#000087 72px,#00008e 78px,#00009e 82px,#0000b6 84px,#0000d1 85px,#00f 86px,#0043ff 87px,#07f 88px,#001cff 90px,#002bff 92px,#0005ff 93px,#0000e9 95px,#0000fd 96px,#0041ff 98px,#0000fe 100px,#00e 101px,#0000f8 102px,#000fff 103px,#00a3ff 105px,#006dff 106px,#001cff 107px,#00f 108px,#0000f2 109px,#0007ff 111px,#04f 112px,#009bff 113px,#009fff 114px,#0061ff 115px,#004bff 116px,#0069ff 117px,#00c6ff 118px,#8aff6d 119px,#ff3a00 120px,#800000 121px,#ff9200 122px,#50ffa7 123px,#008fff 124px,#002eff 125px,#00f 126px,#0000cb 128px,#0000a8 131px,#000093 136px,#000089 144px,#000084 168px,#008 185px,#009 192px,#0000ab 194px,#0000bd 195px,#0000df 196px,#000eff 197px,#0074ff 198px,#00beff 199px,#006dff 200px,#000cff 201px,#0000e2 202px,#0000c5 203px,#0000b7 204px,#0000b4 206px,#0000be 207px,#0000d6 208px,#00f 209px,#0035ff 210px,#0031ff 211px,#00f 212px,#0000d4 213px,#0000be 214px,#0000b8 216px,#0000c2 217px,#00f 219px,#0031ff 220px,#0000fe 222px,#0000ea 223px,#0000f6 224px,#0010ff 225px,#004eff 226px,#0054ff 227px,#03f 228px,#0041ff 229px,#007fff 230px,#009eff 231px,#0059ff 232px,#0005ff 233px,#0000bd 235px,#0000ab 236px,#000091 240px,#000082 264px,#000081 288px,#000080 312px,#000080)}
.a31{background:linear-gradient(#000080,#000081 24px,#000082 48px,#000087 72px,#00008e 78px,#0000a0 82px,#00b 84px,#0004ff 86px,#05f 87px,#006fff 88px,#0037ff 89px,#001dff 90px,#002aff 91px,#001dff 92px,#00f 93px,#0000eb 94px,#0005ff 96px,#0037ff 97px,#002fff 98px,#00f 99px,#0000f0 100px,#00e 101px,#00f 102px,#0031ff 103px,#0089ff 104px,#008dff 105px,#0037ff 106px,#00f 107px,#00e 109px,#00f 110px,#001bff 111px,#006aff 112px,#009dff 113px,#0032ff 115px,#0029ff 116px,#0046ff 117px,#0093ff 118px,#41ffb6 119px,#ffa500 120px,#800000 121px,#ff3900 122px,#79ff7e 123px,#00a8ff 124px,#003bff 125px,#00f 126px,#0000ce 128px,#0000a9 131px,#000093 136px,#000089 144px,#000084 168px,#000089 185px,#00009d 192px,#0000b7 194px,#0000d3 195px,#00f 196px,#0051ff 197px,#0bf 198px,#009aff 199px,#002bff 200px,#0000f4 201px,#0000ce 202px,#0000bc 203px,#0000b3 205px,#0000cb 207px,#0000f1 208px,#0021ff 209px,#0041ff 210px,#000cff 211px,#0000e3 212px,#0000c5 213px,#0000b8 214px,#0000bc 216px,#0000ce 217px,#0000f6 218px,#0020ff 219px,#0030ff 220px,#0001ff 221px,#0000ed 222px,#0000e9 223px,#00f 224px,#005cff 226px,#0024ff 228px,#003aff 229px,#0073ff 230px,#0098ff 231px,#0060ff 232px,#000aff 233px,#0000be 235px,#0000ac 236px,#000091 240px,#000082 264px,#000081 288px,#000080 312px,#000080)}
.a32{background:linear-gradient(#000080,#000081 24px,#000082 48px,#000087 72px,#00009a 81px,#0000ad 83px,#0000c0 84px,#0000e4 85px,#0015ff 86px,#0064ff 87px,#0063ff 88px,#002dff 89px,#02f 90px,#002aff 91px,#0009ff 92px,#0000f5 93px,#0000eb 94px,#00f 95px,#001fff 96px,#003cff 97px,#01f 98px,#0000f8 99px,#0000ea 100px,#0000f7 101px,#01f 102px,#005fff 103px,#009aff 104px,#000eff 106px,#0000f6 107px,#0000e9 108px,#00f 110px,#003bff 111px,#08f 112px,#07f 113px,#03f 114px,#0012ff 115px,#0012ff 116px,#002fff 117px,#0072ff 118px,#13fde4 119px,#eeff09 120px,#9e0000 121px,#df0000 122px,#afff48 123px,#00caff 124px,#004cff 125px,#0009ff 126px,#0000c0 129px,#0000a3 132px,#000091 137px,#000089 144px,#000084 168px,#00008b 186px,#0000a4 192px,#0000c8 194px,#0000f3 195px,#002fff 196px,#00a2ff 197px,#00c1ff 198px,#0054ff 199px,#00f 200px,#0000c2 202px,#0000b3 204px,#0000c3 206px,#0009ff 208px,#0042ff 209px,#0000f7 211px,#0000ce 212px,#0000bc 213px,#0000b9 215px,#0000c5 216px,#0008ff 218px,#0035ff 219px,#0000f7 221px,#0000e4 222px,#0005ff 224px,#0045ff 225px,#005aff 226px,#002bff 227px,#0019ff 228px,#0035ff 229px,#0090ff 231px,#0065ff 232px,#000eff 233px,#0000e1 234px,#0000bf 235px,#0000ac 236px,#000091 240px,#000082 264px,#000081 288px,#000080 312px,#000080)}
.a33{background:linear-gradient(#000080,#000081 24px,#000082 48px,#000087 72px,#00009b 81px,#0000b0 83px,#0000c6 84px,#0000ef 85px,#0026ff 86px,#006cff 87px,#05f 88px,#0028ff 89px,#0020ff 91px,#00f 92px,#00e 93px,#0006ff 95px,#0035ff 96px,#0028ff 97px,#00f 98px,#0000ec 99px,#0000ec 100px,#00f 101px,#0035ff 102px,#0089ff 103px,#007dff 104px,#0028ff 105px,#00f 106px,#0000e9 107px,#0000e7 108px,#0000f9 109px,#0016ff 110px,#0061ff 111px,#0082ff 112px,#000dff 114px,#00f 115px,#0002ff 116px,#001fff 117px,#005fff 118px,#00defc 119px,#b7ff40 120px,#ff4100 121px,#e10000 122px,#f2fb04 123px,#12fce4 124px,#0065ff 125px,#0015ff 126px,#0000f5 127px,#0000c2 129px,#0000a4 132px,#000091 137px,#000089 144px,#000084 168px,#00008c 186px,#00009a 190px,#0000ac 192px,#0000c0 193px,#0000e2 194px,#01f 195px,#007bff 196px,#00d4ff 197px,#0087ff 198px,#001bff 199px,#0000ec 200px,#0000cb 201px,#00b 202px,#0000b5 204px,#0000be 205px,#0000d4 206px,#00f 207px,#03f 208px,#003fff 209px,#0001ff 210px,#0000c2 212px,#0000b8 213px,#0000bf 215px,#0000d4 216px,#00f 217px,#002aff 218px,#002bff 219px,#00f 220px,#0000e6 221px,#0000e2 222px,#0000f9 223px,#001eff 224px,#005bff 225px,#0048ff 226px,#0019ff 227px,#0012ff 228px,#03f 229px,#08f 231px,#006aff 232px,#0013ff 233px,#0000e3 234px,#0000c0 235px,#0000ad 236px,#000091 240px,#000086 247px,#000082 264px,#000081 288px,#000080 312px,#000080)}
.a34{background:linear-gradient(#000080,#000081 24px,#000082 48px,#000087 72px,#000093 79px,#0000a5 82px,#00c 84px,#0000fc 85px,#006eff 87px,#0026ff 89px,#0028ff 90px,#0000fb 92px,#00e 93px,#00f 94px,#0037ff 96px,#000cff 97px,#0000e8 99px,#0000f7 100px,#0013ff 101px,#0064ff 102px,#0091ff 103px,#0003ff 105px,#0000e2 107px,#0000ea 108px,#00f 109px,#0079ff 111px,#0059ff 112px,#0016ff 113px,#00f 114px,#00f 116px,#0017ff 117px,#0057ff 118px,#00d4ff 119px,#90ff67 120px,#ffce00 121px,#ff4800 122px,#ffb000 123px,#49ffae 124px,#0087ff 125px,#0026ff 126px,#00f 127px,#0000dc 128px,#0000c6 129px,#0000a4 132px,#000092 137px,#000089 144px,#000084 168px,#00008e 186px,#00009e 190px,#0000b8 192px,#0000d3 193px,#00f 194px,#004fff 195px,#00c7ff 196px,#00bdff 197px,#0046ff 198px,#00f 199px,#0000d7 200px,#0000c1 201px,#0000b5 203px,#0000ca 205px,#0000ed 206px,#001cff 207px,#004bff 208px,#001dff 209px,#00e 210px,#0000cb 211px,#0000b6 213px,#0000ca 215px,#0000eb 216px,#0015ff 217px,#0037ff 218px,#000cff 219px,#0000ef 220px,#0000de 221px,#0000e7 222px,#00f 223px,#003cff 224px,#0061ff 225px,#000aff 227px,#000fff 228px,#0053ff 230px,#0080ff 231px,#006fff 232px,#0018ff 233px,#0000e6 234px,#0000c2 235px,#0000ad 236px,#000091 240px,#000086 247px,#000082 264px,#000081 288px,#000080 312px,#000080)}
.a35{background:linear-gradient(#000080,#000081 24px,#000082 48px,#000087 72px,#000090 78px,#00009e 81px,#0000b7 83px,#0000d3 84px,#00f 85px,#0046ff 86px,#006aff 87px,#003cff 88px,#0026ff 89px,#0023ff 90px,#0001ff 91px,#0000f3 92px,#0006ff 94px,#0032ff 95px,#0023ff 96px,#00f 97px,#0000ea 98px,#0000ec 99px,#00f 100px,#003aff 101px,#0089ff 102px,#006dff 103px,#001aff 104px,#0000f8 105px,#0000e2 106px,#0000e1 107px,#0000f4 108px,#0013ff 109px,#005bff 110px,#006cff 111px,#0029ff 112px,#00f 113px,#0000f0 114px,#0000ef 115px,#00f 116px,#0013ff 117px,#0058ff 118px,#00d7ff 119px,#6bff8c 120px,#a9ff4e 121px,#ffc400 122px,#ff8900 123px,#8dff6a 124px,#00b4ff 125px,#003cff 126px,#00f 127px,#0000ca 129px,#0000a6 132px,#000094 136px,#000089 144px,#000084 168px,#00008f 186px,#0000a4 190px,#0000c7 192px,#0000ef 193px,#0027ff 194px,#009dff 195px,#00e4f8 196px,#0016ff 198px,#0000ea 199px,#0000cb 200px,#0000bc 201px,#0000b8 203px,#0000c3 204px,#0004ff 206px,#04f 207px,#003aff 208px,#00f 209px,#0000d7 210px,#0000c0 211px,#0000b8 212px,#0000c2 214px,#00f 216px,#0034ff 217px,#0023ff 218px,#0000fd 219px,#0000e0 220px,#00d 221px,#0000f1 222px,#0014ff 223px,#0058ff 224px,#0054ff 225px,#001aff 226px,#0001ff 227px,#0010ff 228px,#0048ff 230px,#0079ff 231px,#0073ff 232px,#001dff 233px,#0000e9 234px,#0000c3 235px,#0000ae 236px,#000091 240px,#000087 247px,#000082 264px,#000081 288px,#000080 312px,#000080)}
.a36{background:linear-gradient(#000080,#000081 24px,#000082 48px,#000087 72px,#000090 78px,#00009f 81px,#00b 83px,#0006ff 85px,#0053ff 86px,#0062ff 87px,#0034ff 88px,#0019ff 90px,#00f 91px,#0000f2 92px,#00f 93px,#03f 95px,#0009ff 96px,#0000e8 98px,#0000f8 99px,#0017ff 100px,#0068ff 101px,#0087ff 102px,#003aff 103px,#00f 104px,#0000e6 105px,#0000dc 106px,#0000e5 107px,#00f 108px,#006cff 110px,#0043ff 111px,#0003ff 112px,#0000e3 114px,#0000e7 115px,#0000fb 116px,#0014ff 117px,#0060ff 118px,#00defd 119px,#3fffb8 120px,#4cffab 121px,#b2ff45 122px,#ffa100 123px,#d3ff24 124px,#08efef 125px,#0059ff 126px,#000bff 127px,#0000ec 128px,#0000bc 130px,#0000a0 133px,#000089 144px,#000084 168px,#000089 181px,#000095 187px,#0000ab 190px,#0000bd 191px,#0000db 192px,#0004ff 193px,#06f 194px,#00e0fb 195px,#00c3ff 196px,#0045ff 197px,#00f 198px,#0000d9 199px,#0000c3 200px,#0000b8 202px,#0000bf 203px,#0000d2 204px,#0000fc 205px,#002fff 206px,#004fff 207px,#0014ff 208px,#0000e8 209px,#0000c9 210px,#0000b8 212px,#0000be 213px,#0000d0 214px,#0000f7 215px,#0023ff 216px,#0035ff 217px,#0002ff 218px,#0000d9 220px,#0000e1 221px,#00f 222px,#06f 224px,#0007ff 226px,#00f 227px,#003fff 230px,#0072ff 231px,#0076ff 232px,#02f 233px,#0000ec 234px,#0000c4 235px,#0000af 236px,#000091 240px,#000087 247px,#000082 264px,#000081 288px,#000080 312px,#000080)}
.a37{background:linear-gradient(#000080,#000081 24px,#000082 48px,#008 72px,#000091 78px,#0000a0 81px,#0000bf 83px,#0000e2 84px,#0012ff 85px,#005dff 86px,#0059ff 87px,#002eff 88px,#0000fc 91px,#0000f6 92px,#0003ff 93px,#002dff 94px,#02f 95px,#00f 96px,#0000ea 97px,#0000ed 98px,#00f 99px,#0087ff 101px,#005dff 102px,#000eff 103px,#0000ef 104px,#0000dc 105px,#0000dc 106px,#0000ef 107px,#000eff 108px,#0053ff 109px,#005aff 110px,#0017ff 111px,#0000f5 112px,#0000df 113px,#0000da 114px,#0000e3 115px,#0000fb 116px,#001bff 117px,#0071ff 118px,#00e2f9 119px,#08efef 120px,#00ddfd 121px,#44ffb3 122px,#ebff0c 123px,#ffe100 124px,#47ffb0 125px,#0082ff 126px,#001fff 127px,#0000f8 128px,#0000d5 129px,#0000c0 130px,#0000a1 133px,#000092 137px,#000089 144px,#000085 168px,#00008a 181px,#000097 187px,#0000b4 190px,#0000cb 191px,#0000f6 192px,#0031ff 193px,#00aeff 194px,#0df6e9 195px,#008aff 196px,#001cff 197px,#0000ef 198px,#0000ce 199px,#0000ba 201px,#0000ca 203px,#0000e9 204px,#0015ff 205px,#0053ff 206px,#0035ff 207px,#00f 208px,#0000d4 209px,#0000c0 210px,#0000b9 211px,#0000c7 213px,#0000e5 214px,#000cff 215px,#003aff 216px,#0000f4 218px,#0000da 219px,#0000d8 220px,#0000eb 221px,#000cff 222px,#0053ff 223px,#005eff 224px,#001fff 225px,#00f 226px,#00f 227px,#0038ff 230px,#006cff 231px,#07f 232px,#0026ff 233px,#0000ef 234px,#0000c6 235px,#0000b0 236px,#000091 240px,#000087 247px,#000082 264px,#000081 288px,#000080 312px,#000080)}
.a38{background:linear-gradient(#000080,#000080 24px,#000082 48px,#008 72px,#000091 78px,#0000a2 81px,#0000c3 83px,#0000ea 84px,#001eff 85px,#0062ff 86px,#004fff 87px,#002aff 88px,#0020ff 89px,#0003ff 90px,#00f 92px,#0030ff 94px,#000bff 95px,#0000f4 96px,#0000ea 97px,#0000fc 98px,#001eff 99px,#006eff 100px,#007aff 101px,#002aff 102px,#0000fd 103px,#0000df 104px,#0000d7 105px,#0000e0 106px,#00f 107px,#0060ff 109px,#00f 111px,#0000e1 112px,#0000d4 113px,#0000d5 114px,#0000e2 115px,#00f 116px,#002aff 117px,#008cff 118px,#00d4ff 119px,#00a5ff 120px,#008bff 121px,#00c9ff 122px,#77ff80 123px,#ffea00 124px,#8dff69 125px,#00b8ff 126px,#0039ff 127px,#00f 128px,#0000c4 130px,#0000a2 133px,#000092 137px,#000089 144px,#000085 168px,#00008a 181px,#00009a 187px,#0000be 190px,#0006ff 192px,#0069ff 193px,#06edf1 194px,#00ddfe 195px,#0058ff 196px,#0001ff 197px,#0000c8 199px,#0000bd 201px,#0000c5 202px,#0000dc 203px,#00f 204px,#0042ff 205px,#0052ff 206px,#000fff 207px,#0000e5 208px,#0000c8 209px,#0000ba 211px,#0000c1 212px,#0000d6 213px,#00f 214px,#002fff 215px,#0030ff 216px,#00f 217px,#0000e1 218px,#0000d5 219px,#00d 220px,#0000fe 221px,#002cff 222px,#0069ff 223px,#04f 224px,#0008ff 225px,#00f 227px,#001dff 228px,#0031ff 230px,#06f 231px,#0076ff 232px,#002aff 233px,#0000f2 234px,#0000c7 235px,#0000b0 236px,#00009b 238px,#000091 240px,#000087 247px,#000082 264px,#000081 288px,#000080 312px,#000080)}
.a39{background:linear-gradient(#000080,#000080 24px,#000081 48px,#008 72px,#000091 78px,#0000a3 81px,#0000c7 83px,#0000f2 84px,#0029ff 85px,#0064ff 86px,#0027ff 88px,#001aff 89px,#00f 90px,#00f 92px,#0027ff 93px,#0024ff 94px,#00f 95px,#0000ed 96px,#0005ff 98px,#004aff 99px,#0084ff 100px,#004aff 101px,#0001ff 102px,#0000d6 104px,#0000d7 105px,#0000ec 106px,#000cff 107px,#004dff 108px,#004aff 109px,#0008ff 110px,#0000d3 112px,#0000cd 113px,#0000d3 114px,#00f 116px,#0045ff 117px,#00a7ff 118px,#00a8ff 119px,#0063ff 120px,#004dff 121px,#0078ff 122px,#10f9e7 123px,#b6ff41 124px,#beff39 125px,#0ef7e9 126px,#0059ff 127px,#0007ff 128px,#0000c9 130px,#0000a3 133px,#000092 137px,#000089 144px,#000085 168px,#00008a 180px,#000098 186px,#0000b4 189px,#0000ca 190px,#0000f3 191px,#002aff 192px,#00a7ff 193px,#21ffd6 194px,#00b2ff 195px,#0035ff 196px,#0000fe 197px,#0000d8 198px,#0000c0 200px,#0000c3 201px,#0000d2 202px,#0000f7 203px,#0028ff 204px,#005fff 205px,#0000fc 207px,#0000d3 208px,#0000c0 209px,#0000ba 210px,#00c 212px,#00e 213px,#0019ff 214px,#003dff 215px,#01f 216px,#00e 217px,#0000d7 218px,#0000d6 219px,#0009ff 221px,#0051ff 222px,#06f 223px,#0025ff 224px,#00f 225px,#0005ff 227px,#0021ff 228px,#001dff 229px,#002cff 230px,#0061ff 231px,#0074ff 232px,#002dff 233px,#0000f4 234px,#0000c8 235px,#0000b1 236px,#00009b 238px,#000091 240px,#000087 247px,#000082 264px,#000081 288px,#000080 312px,#000080)}
.a40{background:linear-gradient(#000080,#000080 24px,#000081 48px,#008 72px,#000092 78px,#0000a4 81px,#0000cb 83px,#0000fa 84px,#0063ff 86px,#0025ff 88px,#00f 90px,#00f 91px,#000fff 92px,#002eff 93px,#0010ff 94px,#0000f9 95px,#00e 96px,#00f 97px,#0028ff 98px,#0075ff 99px,#006aff 100px,#0019ff 101px,#0000f2 102px,#0000d8 103px,#0000d3 104px,#0000de 105px,#00f 106px,#05f 108px,#0021ff 109px,#0000f6 110px,#0000d6 111px,#0000ca 112px,#0000d4 114px,#0000ef 115px,#0013ff 116px,#006aff 117px,#00a8ff 118px,#002eff 120px,#0020ff 121px,#0041ff 122px,#009fff 123px,#5aff9d 124px,#beff38 125px,#3cffbb 126px,#007aff 127px,#0016ff 128px,#00e 129px,#0000cd 130px,#0000b9 131px,#0000a3 133px,#000092 137px,#000089 144px,#000085 168px,#00008a 180px,#00009b 186px,#0000bd 189px,#00f 191px,#0059ff 192px,#02e8f5 193px,#1fffd8 194px,#0085ff 195px,#001aff 196px,#0000f0 197px,#0000d3 198px,#0000c4 200px,#0000cd 201px,#0000e8 202px,#000eff 203px,#0057ff 204px,#0053ff 205px,#0009ff 206px,#0000c8 208px,#0000bc 210px,#0000c5 211px,#00f 213px,#0039ff 214px,#002bff 215px,#00f 216px,#0000de 217px,#0000d3 218px,#0000dc 219px,#0000fd 220px,#002cff 221px,#006dff 222px,#004bff 223px,#0009ff 224px,#00f 226px,#0021ff 228px,#0016ff 229px,#0029ff 230px,#005cff 231px,#0071ff 232px,#002fff 233px,#0000f5 234px,#0000c9 235px,#0000b1 236px,#00009b 238px,#000091 240px,#000087 247px,#000082 264px,#000081 288px,#000080 312px,#000080)}
.a41{background:linear-gradient(#000080,#000080 24px,#000081 48px,#008 72px,#000092 78px,#0000a5 81px,#0000cf 83px,#00f 84px,#003cff 85px,#0061ff 86px,#003bff 87px,#000cff 89px,#00f 90px,#00f 91px,#001fff 92px,#0026ff 93px,#00f 94px,#0000f2 95px,#0000f6 96px,#000dff 97px,#05f 98px,#007dff 99px,#0038ff 100px,#00f 101px,#0000df 102px,#0000d1 103px,#0000d5 104px,#0000eb 105px,#000dff 106px,#004aff 107px,#003bff 108px,#00f 109px,#0000de 110px,#0000ca 111px,#0000c5 112px,#0000ca 113px,#0000db 114px,#00f 115px,#0035ff 116px,#008dff 117px,#0083ff 118px,#03f 119px,#0008ff 120px,#0002ff 121px,#001dff 122px,#06f 123px,#13fde4 124px,#9bff5c 125px,#57ffa0 126px,#0094ff 127px,#02f 128px,#0000f4 129px,#0000cf 130px,#0000ba 131px,#0000a3 133px,#000091 137px,#008 144px,#000085 168px,#00008a 179px,#000098 185px,#0000b3 188px,#0000c8 189px,#00e 190px,#0020ff 191px,#0096ff 192px,#2fffc8 193px,#05ecf2 194px,#005cff 195px,#0005ff 196px,#0000d0 198px,#0000c8 199px,#00c 200px,#0000de 201px,#00f 202px,#0040ff 203px,#0069ff 204px,#002aff 205px,#0000f7 206px,#0000d1 207px,#0000bc 209px,#0000c0 210px,#0000d1 211px,#0000f8 212px,#003fff 214px,#000bff 215px,#0000ea 216px,#0000d5 217px,#0000d5 218px,#000aff 220px,#0054ff 221px,#006bff 222px,#0027ff 223px,#00f 224px,#0000f5 225px,#00f 226px,#001aff 227px,#001bff 228px,#0010ff 229px,#0028ff 230px,#0057ff 231px,#006eff 232px,#002fff 233px,#0000f6 234px,#0000c9 235px,#0000b1 236px,#00009b 238px,#000091 240px,#000087 247px,#000082 264px,#000081 288px,#000080 312px,#000080)}
.a42{background:linear-gradient(#000080,#000080 24px,#000081 48px,#008 72px,#000092 78px,#0000a6 81px,#0000b6 82px,#0000d2 83px,#00f 84px,#0043ff 85px,#0060ff 86px,#0039ff 87px,#0006ff 89px,#00f 90px,#0009ff 91px,#0029ff 92px,#0000fe 94px,#0000f3 95px,#00f 96px,#0032ff 97px,#0078ff 98px,#005aff 99px,#000cff 100px,#0000ea 101px,#0000d4 102px,#0000d0 103px,#00d 104px,#00f 105px,#002fff 106px,#004bff 107px,#0013ff 108px,#0000eb 109px,#0000ce 110px,#0000c3 111px,#0000ce 113px,#0000e8 114px,#000cff 115px,#0060ff 116px,#008fff 117px,#0009ff 119px,#0000fc 120px,#0008ff 122px,#0047ff 123px,#00cbff 124px,#76ff80 125px,#59ff9d 126px,#009dff 127px,#0025ff 128px,#0000f5 129px,#0000cf 130px,#0000b9 131px,#0000a2 133px,#000091 137px,#008 144px,#000085 168px,#00008b 179px,#00009b 185px,#0000bc 188px,#0000d7 189px,#00f 190px,#004bff 191px,#00dcfe 192px,#43ffb4 193px,#00bfff 194px,#003cff 195px,#00f 196px,#0000e0 197px,#0000d0 198px,#0000cd 199px,#0000d8 200px,#0000f9 201px,#0026ff 202px,#006cff 203px,#004eff 204px,#0002ff 205px,#0000c7 207px,#0000be 208px,#0000c9 210px,#000bff 212px,#0041ff 213px,#0000fd 215px,#0000dc 216px,#0000d3 217px,#00d 218px,#00f 219px,#0030ff 220px,#0072ff 221px,#004dff 222px,#0009ff 223px,#0000f6 224px,#0004ff 226px,#0021ff 227px,#000bff 229px,#0028ff 230px,#0053ff 231px,#006aff 232px,#002fff 233px,#0000f6 234px,#0000c9 235px,#0000b1 236px,#00009b 238px,#000091 240px,#000087 247px,#000082 264px,#000081 288px,#000080 312px,#000080)}
.a43{background:linear-gradient(#000080,#000080 24px,#000081 48px,#008 72px,#000093 78px,#0000a7 81px,#0000b8 82px,#00f 84px,#0049ff 85px,#005fff 86px,#0039ff 87px,#0002ff 89px,#00f 90px,#0026ff 92px,#0003ff 93px,#0000f7 94px,#0000fc 95px,#0014ff 96px,#005dff 97px,#0074ff 98px,#0029ff 99px,#0000fa 100px,#0000d9 101px,#0000cf 102px,#0000d4 103px,#0000ec 104px,#01f 105px,#0048ff 106px,#002dff 107px,#0000fe 108px,#0000d6 109px,#0000c5 110px,#0000c0 111px,#0000c6 112px,#0000d7 113px,#0000fe 114px,#03f 115px,#0082ff 116px,#0065ff 117px,#0017ff 118px,#0000fa 119px,#0000ea 120px,#00f 122px,#003dff 123px,#00bcff 124px,#65ff91 125px,#49ffae 126px,#0090ff 127px,#001eff 128px,#0000f0 129px,#00c 130px,#0000b7 131px,#0000a1 133px,#000090 137px,#008 144px,#000085 168px,#00008a 178px,#000098 184px,#0000b2 187px,#0000c6 188px,#0000e7 189px,#0013ff 190px,#007dff 191px,#2dffca 192px,#3effb8 193px,#09f 194px,#0027ff 195px,#0000fc 196px,#0000de 197px,#0000d3 198px,#0000d7 199px,#0000ed 200px,#000fff 201px,#005cff 202px,#006dff 203px,#0021ff 204px,#0000f2 205px,#0000d0 206px,#0000be 208px,#0000c4 209px,#0000d8 210px,#00f 211px,#0031ff 212px,#003eff 213px,#0005ff 214px,#0000d5 216px,#0000d6 217px,#0000ec 218px,#000eff 219px,#005bff 220px,#006eff 221px,#0027ff 222px,#00f 223px,#0000f0 224px,#0000fe 225px,#0020ff 227px,#0008ff 228px,#000aff 229px,#004fff 231px,#0067ff 232px,#002dff 233px,#0000f5 234px,#0000c8 235px,#0000b1 236px,#00009b 238px,#000091 240px,#000087 247px,#000082 264px,#000081 288px,#000080 312px,#000080)}
.a44{background:linear-gradient(#000080,#000080 24px,#000081 48px,#008 72px,#000090 77px,#00009e 80px,#0000b9 82px,#0003ff 84px,#004eff 85px,#005fff 86px,#003aff 87px,#0001ff 89px,#0006ff 90px,#0023ff 91px,#0019ff 92px,#00f 93px,#0000f7 94px,#00f 95px,#0039ff 96px,#0078ff 97px,#004dff 98px,#0002ff 99px,#0000d1 101px,#0000cf 102px,#0000de 103px,#00f 104px,#03f 105px,#0041ff 106px,#0006ff 107px,#0000c9 109px,#0000c0 110px,#00c 112px,#0000e8 113px,#000fff 114px,#0061ff 115px,#0078ff 116px,#002dff 117px,#00f 118px,#0000e4 119px,#0000de 120px,#00f 122px,#0040ff 123px,#00c5ff 124px,#5fff98 125px,#29ffce 126px,#0072ff 127px,#000eff 128px,#0000e5 129px,#0000c5 130px,#0000b2 131px,#00009e 133px,#00008f 137px,#000087 144px,#000085 168px,#00008c 179px,#00009b 184px,#0000b9 187px,#0000d0 188px,#0000f8 189px,#002fff 190px,#00b0ff 191px,#54ffa3 192px,#30ffc7 193px,#007fff 194px,#001bff 195px,#0000f8 196px,#0000e0 197px,#0000db 198px,#00f 200px,#007eff 202px,#0047ff 203px,#00f 204px,#00d 205px,#0000c7 206px,#0000bf 207px,#0000ce 209px,#00e 210px,#0019ff 211px,#0048ff 212px,#0000f8 214px,#0000da 215px,#0000d4 216px,#0000e0 217px,#00f 218px,#0078ff 220px,#004cff 221px,#0007ff 222px,#0000f3 223px,#0000f0 224px,#00f 225px,#0021ff 226px,#0017ff 227px,#00f 228px,#000bff 229px,#004cff 231px,#0064ff 232px,#0029ff 233px,#0000f2 234px,#0000c7 235px,#0000b0 236px,#00009a 238px,#000091 240px,#000087 247px,#000082 264px,#000081 288px,#000080 312px,#000080)}
.a45{background:linear-gradient(#000080,#000080 24px,#000081 48px,#008 72px,#000090 77px,#00009e 80px,#00b 82px,#0006ff 84px,#0052ff 85px,#0061ff 86px,#0019ff 88px,#0004ff 89px,#0025ff 91px,#0009ff 92px,#00f 94px,#0018ff 95px,#0060ff 96px,#006cff 97px,#0020ff 98px,#0000f5 99px,#0000d7 100px,#0000cd 101px,#0000d4 102px,#0000ef 103px,#0016ff 104px,#0045ff 105px,#001fff 106px,#0000f3 107px,#0000d0 108px,#0000be 110px,#0000c4 111px,#0000d8 112px,#00f 113px,#0079ff 115px,#0047ff 116px,#00f 117px,#0000d7 119px,#0000d8 120px,#0002ff 122px,#004fff 123px,#00defd 124px,#57ffa0 125px,#00e1fa 126px,#004dff 127px,#00f 128px,#0000be 130px,#0000a3 132px,#000090 136px,#000087 144px,#000086 168px,#00008d 179px,#00009d 184px,#0000be 187px,#0000d9 188px,#00f 189px,#0047ff 190px,#00daff 191px,#6eff89 192px,#27ffd0 193px,#0073ff 194px,#0017ff 195px,#0000fa 196px,#0000e7 197px,#0000e8 198px,#00f 199px,#0029ff 200px,#07f 201px,#006eff 202px,#001aff 203px,#0000ef 204px,#0000d0 205px,#0000c0 207px,#0000c8 208px,#00f 210px,#003eff 211px,#003cff 212px,#00f 213px,#0000d5 215px,#0000d9 216px,#0000f1 217px,#0017ff 218px,#06f 219px,#006fff 220px,#0023ff 221px,#00f 222px,#0000ec 223px,#0000f7 224px,#0026ff 226px,#000aff 227px,#00f 228px,#000eff 229px,#0062ff 232px,#0025ff 233px,#0000ef 234px,#0000c5 235px,#0000af 236px,#000091 240px,#000082 264px,#000081 288px,#000080 312px,#000080)}
.a46{background:linear-gradient(#000080,#000080 24px,#000081 48px,#008 72px,#000090 77px,#00009f 80px,#00b 82px,#0000dc 83px,#0008ff 84px,#05f 85px,#0065ff 86px,#0017ff 88px,#0009ff 89px,#001cff 90px,#001eff 91px,#00f 92px,#00f 94px,#0074ff 96px,#0046ff 97px,#00f 98px,#0000d0 100px,#0000cf 101px,#0000e0 102px,#00f 103px,#0036ff 104px,#0036ff 105px,#00f 106px,#0000da 107px,#0000c4 108px,#0000bd 109px,#00c 111px,#0000eb 112px,#0016ff 113px,#0064ff 114px,#005fff 115px,#0013ff 116px,#00e 117px,#0000d5 118px,#0000cf 119px,#0000d6 120px,#0000ed 121px,#000eff 122px,#0069ff 123px,#16ffe1 124px,#3fffb8 125px,#00a2ff 126px,#0027ff 127px,#0000f3 128px,#00c 129px,#0000b6 130px,#00009f 132px,#00008f 136px,#000087 144px,#000086 168px,#00008e 179px,#00009e 184px,#0000c2 187px,#0001ff 189px,#0056ff 190px,#0bf3ec 191px,#81ff76 192px,#2dffca 193px,#0078ff 194px,#001dff 195px,#00f 196px,#0000f3 197px,#0000fd 198px,#0015ff 199px,#0060ff 200px,#008bff 201px,#00f 203px,#00d 204px,#0000c9 205px,#0000c2 206px,#0000c5 207px,#0000d5 208px,#0000f9 209px,#004dff 211px,#001cff 212px,#0000f5 213px,#0000da 214px,#0000d6 215px,#0000e4 216px,#00f 217px,#007eff 219px,#0047ff 220px,#0002ff 221px,#0000ef 222px,#0000ec 223px,#00f 224px,#001fff 225px,#001fff 226px,#00f 227px,#00f 228px,#005fff 232px,#001fff 233px,#0000eb 234px,#0000c3 235px,#0000ae 236px,#000091 240px,#000082 264px,#000081 288px,#000080 312px,#000080)}
.a47{background:linear-gradient(#000080,#000080 24px,#000081 48px,#008 72px,#000090 77px,#00009f 80px,#0000bc 82px,#0000dc 83px,#0008ff 84px,#0057ff 85px,#0069ff 86px,#0017ff 88px,#01f 89px,#0023ff 90px,#00f 92px,#00f 93px,#0017ff 94px,#005bff 95px,#0069ff 96px,#001fff 97px,#0000f4 98px,#0000d6 99px,#0000ce 100px,#0000d6 101px,#0000f4 102px,#0041ff 104px,#0012ff 105px,#0000e9 106px,#0000cb 107px,#0000bc 109px,#0000c4 110px,#0000da 111px,#00f 112px,#0042ff 113px,#006bff 114px,#002bff 115px,#0000fb 116px,#0000d8 117px,#0000cb 118px,#0000cb 119px,#0000d8 120px,#0000f6 121px,#0021ff 122px,#0090ff 123px,#2effc9 124px,#12fce5 125px,#06f 126px,#0006ff 127px,#0000c0 129px,#00009c 132px,#00008e 136px,#000087 144px,#000086 168px,#00008e 179px,#00009f 184px,#0000c4 187px,#0001ff 189px,#05f 190px,#0bf3ec 191px,#92ff65 192px,#4fffa8 193px,#0095ff 194px,#0030ff 195px,#0003ff 196px,#00f 197px,#000bff 198px,#0046ff 199px,#0091ff 200px,#0072ff 201px,#001aff 202px,#0000f0 203px,#0000d3 204px,#0000c6 205px,#0000ce 207px,#0000e8 208px,#000dff 209px,#004aff 210px,#003bff 211px,#00f 212px,#0000e4 213px,#0000d7 214px,#00d 215px,#0000f9 216px,#0023ff 217px,#0073ff 218px,#006bff 219px,#001dff 220px,#0000fa 221px,#0000e8 222px,#0008ff 224px,#0029ff 225px,#00f 227px,#00f 228px,#002cff 230px,#004fff 231px,#005cff 232px,#0017ff 233px,#0000e6 234px,#0000c0 235px,#0000ac 236px,#000090 240px,#000082 264px,#000081 288px,#000080 312px,#000080)}
.a48{background:linear-gradient(#000080,#000080 24px,#000081 48px,#008 72px,#000090 77px,#00009f 80px,#0000bc 82px,#0000dc 83px,#0008ff 84px,#0058ff 85px,#006fff 86px,#001aff 88px,#02f 90px,#0005ff 91px,#00f 92px,#00f 93px,#006fff 95px,#0047ff 96px,#00f 97px,#0000d1 99px,#0000d1 100px,#0002ff 102px,#0039ff 103px,#002bff 104px,#0000fd 105px,#0000d4 106px,#0000c1 107px,#00b 108px,#0000ce 110px,#0000f0 111px,#001fff 112px,#0063ff 113px,#0045ff 114px,#00f 115px,#0000ca 117px,#0000ca 119px,#0000dc 120px,#00f 121px,#003cff 122px,#00beff 123px,#2fffc8 124px,#00b6ff 125px,#03f 126px,#0000f9 127px,#0000ce 128px,#0000b6 129px,#00009f 131px,#00008f 135px,#000086 144px,#000086 168px,#00008f 179px,#0000a0 184px,#0000c3 187px,#00f 189px,#0047ff 190px,#00d8ff 191px,#96ff61 192px,#8dff6a 193px,#00d2ff 194px,#0054ff 195px,#001eff 196px,#0015ff 197px,#0035ff 198px,#0080ff 199px,#009dff 200px,#0048ff 201px,#00f 202px,#0000ce 204px,#0000c7 205px,#0000cb 206px,#00d 207px,#00f 208px,#0036ff 209px,#0052ff 210px,#0019ff 211px,#0000f4 212px,#0000dc 213px,#0000d9 214px,#0008ff 216px,#05f 217px,#0082ff 218px,#00f 220px,#0000eb 221px,#0000e8 222px,#00f 223px,#001dff 224px,#0026ff 225px,#0001ff 226px,#00f 228px,#001dff 229px,#002dff 230px,#0054ff 231px,#0058ff 232px,#000fff 233px,#0000e0 234px,#0000be 235px,#0000ab 236px,#000090 240px,#000082 264px,#000081 288px,#000080 312px,#000080)}
.a49{background:linear-gradient(#000080,#000080 24px,#000081 48px,#008 72px,#000090 77px,#00009f 80px,#00b 82px,#0006ff 84px,#0058ff 85px,#0074ff 86px,#001eff 88px,#001cff 90px,#00f 91px,#00f 92px,#0012ff 93px,#0053ff 94px,#0068ff 95px,#02f 96px,#0000f6 97px,#0000d8 98px,#0000d0 99px,#0000d9 100px,#0000fa 101px,#003bff 103px,#0006ff 104px,#0000c6 106px,#00b 108px,#0000c5 109px,#00f 111px,#0048ff 112px,#0059ff 113px,#0014ff 114px,#0000ea 115px,#0000cd 116px,#0000c2 117px,#00c 119px,#0000e4 120px,#0005ff 121px,#005fff 122px,#03e9f4 123px,#14fee3 124px,#0075ff 125px,#000dff 126px,#0000e2 127px,#0000c1 128px,#0000af 129px,#00009c 131px,#00008c 136px,#000086 144px,#000086 168px,#00008d 178px,#0000a0 184px,#0000c0 187px,#0000d8 188px,#00f 189px,#0031ff 190px,#00adff 191px,#7aff7c 192px,#cfff27 193px,#40ffb7 194px,#0090ff 195px,#0047ff 196px,#003eff 197px,#006dff 198px,#00b1ff 199px,#0084ff 200px,#0025ff 201px,#0000fb 202px,#0000db 203px,#00c 205px,#0000d6 206px,#0000f3 207px,#001bff 208px,#0057ff 209px,#003bff 210px,#00f 211px,#0000e6 212px,#0000db 213px,#0000e4 214px,#00f 215px,#0037ff 216px,#0082ff 217px,#0061ff 218px,#0012ff 219px,#0000f4 220px,#0000e4 221px,#0003ff 223px,#002bff 224px,#00f 226px,#0000fd 227px,#0008ff 228px,#0030ff 230px,#005aff 231px,#0051ff 232px,#0007ff 233px,#00b 235px,#0000a9 236px,#000090 240px,#000082 264px,#000081 288px,#000080 312px,#000080)}
.a50{background:linear-gradient(#000080,#000080 24px,#000081 48px,#008 72px,#000090 77px,#00009f 80px,#00b 82px,#0004ff 84px,#0056ff 85px,#007aff 86px,#0048ff 87px,#0025ff 88px,#0026ff 89px,#00f 91px,#00f 92px,#002bff 93px,#0068ff 94px,#004bff 95px,#0003ff 96px,#0000d3 98px,#0000d3 99px,#0008ff 101px,#003aff 102px,#0000f3 104px,#0000ce 105px,#0000b9 107px,#0000cf 109px,#0000f4 110px,#0025ff 111px,#005cff 112px,#0000fb 114px,#0000d4 115px,#0000c2 116px,#0000bd 117px,#0000d0 119px,#0000ef 120px,#001bff 121px,#08f 122px,#16ffe1 123px,#00c5ff 124px,#0040ff 125px,#00f 126px,#0000d1 127px,#0000b7 128px,#00009f 130px,#00008d 135px,#000086 144px,#000086 168px,#00008d 178px,#00009f 184px,#0000bd 187px,#0000d2 188px,#0000f3 189px,#001bff 190px,#007eff 191px,#42ffb5 192px,#ebff0c 193px,#a9ff4e 194px,#04ebf3 195px,#0083ff 196px,#07f 197px,#00aeff 198px,#00c1ff 199px,#0061ff 200px,#000fff 201px,#0000f1 202px,#0000da 203px,#0000d1 204px,#0000d5 205px,#0004ff 207px,#0046ff 208px,#0059ff 209px,#001aff 210px,#0000f7 211px,#0000e1 212px,#0000e1 213px,#0000f9 214px,#001eff 215px,#0071ff 216px,#007dff 217px,#002cff 218px,#00f 219px,#0000e5 220px,#0000e3 221px,#0000fa 222px,#002cff 224px,#0006ff 225px,#00f 227px,#0035ff 230px,#0061ff 231px,#0049ff 232px,#00f 233px,#0000d5 234px,#0000b8 235px,#0000a7 236px,#000090 240px,#000082 264px,#000081 288px,#000080 312px,#000080)}
.a51{background:linear-gradient(#000080,#000080 24px,#000081 48px,#008 72px,#000090 77px,#00009f 80px,#0000ba 82px,#0001ff 84px,#0054ff 85px,#007fff 86px,#004dff 87px,#002cff 88px,#0027ff 89px,#000cff 90px,#00f 91px,#000eff 92px,#0048ff 93px,#0067ff 94px,#0028ff 95px,#0000fb 96px,#0000db 97px,#0000d2 98px,#00d 99px,#00f 100px,#0029ff 101px,#03f 102px,#00f 103px,#0000d9 104px,#0000c2 105px,#0000b9 106px,#0000c5 108px,#0004ff 110px,#0049ff 111px,#0047ff 112px,#0002ff 113px,#0000c5 115px,#00b 117px,#0000d8 119px,#00f 120px,#003dff 121px,#0bf 122px,#0ef6e9 123px,#0081ff 124px,#0014ff 125px,#0000e5 126px,#0000c2 127px,#0000af 128px,#00009b 130px,#00008c 135px,#000086 144px,#000086 168px,#00008d 178px,#00009f 184px,#0000ba 187px,#0007ff 190px,#0054ff 191px,#04eaf3 192px,#c6ff31 193px,#ffde00 194px,#6aff8d 195px,#00d7ff 196px,#00c0ff 197px,#03e9f4 198px,#00b4ff 199px,#0047ff 200px,#0003ff 201px,#0000dc 203px,#0000d8 204px,#0000e2 205px,#00f 206px,#002cff 207px,#0064ff 208px,#003eff 209px,#00f 210px,#0000e3 212px,#0000f2 213px,#000cff 214px,#0059ff 215px,#008cff 216px,#00f 218px,#0000de 220px,#00f 222px,#002bff 223px,#001fff 224px,#00f 225px,#0000f5 226px,#00f 227px,#003dff 230px,#06f 231px,#003eff 232px,#00f 233px,#0000d0 234px,#0000b5 235px,#00009d 237px,#00008f 240px,#000082 264px,#000081 288px,#000080 312px,#000080)}
.a52{background:linear-gradient(#000080,#000080 24px,#000081 48px,#008 72px,#00009e 80px,#0000b9 82px,#00f 84px,#0050ff 85px,#0082ff 86px,#0054ff 87px,#03f 88px,#0026ff 89px,#0009ff 90px,#0001ff 91px,#0023ff 92px,#005fff 93px,#0051ff 94px,#000aff 95px,#0000ea 96px,#0000d6 97px,#0000d7 98px,#0000ef 99px,#01f 100px,#0039ff 101px,#0012ff 102px,#0000e9 103px,#0000c9 104px,#0000b8 106px,#0000be 107px,#0000d0 108px,#0000f8 109px,#0052ff 111px,#001cff 112px,#0000ed 113px,#0000cb 114px,#0000b8 116px,#0000c9 118px,#000cff 120px,#006dff 121px,#00e6f6 122px,#00c2ff 123px,#0041ff 124px,#00f 125px,#0000d0 126px,#0000b6 127px,#00009e 129px,#00008c 134px,#000085 144px,#000086 168px,#00008e 178px,#00009e 184px,#0000ac 186px,#0000c6 188px,#00f 190px,#0035ff 191px,#0af 192px,#7fff78 193px,#ffb200 194px,#dfff17 195px,#4cffaa 196px,#28ffce 197px,#22ffd4 198px,#00a0ff 199px,#0037ff 200px,#00f 201px,#0000e1 203px,#0000e3 204px,#0000f6 205px,#0013ff 206px,#0058ff 207px,#0062ff 208px,#001eff 209px,#0000fd 210px,#0000ea 211px,#00f 213px,#008cff 215px,#06f 216px,#0013ff 217px,#0000f2 218px,#00d 219px,#0000de 220px,#0000f6 221px,#0030ff 223px,#000aff 224px,#0000f5 226px,#0002ff 227px,#02f 228px,#0027ff 229px,#0069ff 231px,#0000f8 233px,#0000ca 234px,#0000b2 235px,#00009c 237px,#00008f 240px,#000082 264px,#000081 288px,#000080 312px,#000080)}
.a53{background:linear-gradient(#000080,#000080 24px,#000081 48px,#008 72px,#000093 78px,#0000a8 81px,#0000b8 82px,#0000d4 83px,#00f 84px,#004cff 85px,#0085ff 86px,#003aff 88px,#0008ff 90px,#000dff 91px,#06f 93px,#00f 95px,#0000e0 96px,#0000d7 97px,#0000e3 98px,#00f 99px,#0030ff 100px,#0028ff 101px,#0000fc 102px,#0000d2 103px,#0000be 104px,#0000b7 105px,#0000c5 107px,#0000e2 108px,#000bff 109px,#004aff 110px,#0035ff 111px,#00f 112px,#0000d4 113px,#0000bf 114px,#0000b8 116px,#0000d3 118px,#0000fa 119px,#0032ff 120px,#0af 121px,#00e4f8 122px,#000eff 124px,#0000e1 125px,#0000bf 126px,#0000ad 127px,#000095 130px,#000085 144px,#000086 168px,#00008d 178px,#00009d 184px,#0000c2 188px,#0000d8 189px,#0000f9 190px,#001eff 191px,#007cff 192px,#3bffbc 193px,#ffd400 194px,#ff9d00 195px,#b3ff44 196px,#32ffc5 198px,#0093ff 199px,#0031ff 200px,#00f 201px,#0000ea 203px,#0002ff 205px,#0074ff 207px,#0045ff 208px,#0006ff 209px,#0000f0 211px,#00f 212px,#002dff 213px,#0080ff 214px,#0080ff 215px,#002aff 216px,#0000fe 217px,#0000e0 218px,#0000d9 219px,#0000e6 220px,#00f 221px,#002dff 222px,#0023ff 223px,#00f 224px,#0000f0 225px,#0000fb 226px,#0026ff 228px,#002aff 229px,#0051ff 230px,#0067ff 231px,#0023ff 232px,#0000ed 233px,#0000c5 234px,#0000af 235px,#00009b 237px,#00008f 240px,#000082 264px,#000081 288px,#000080 312px,#000080)}
.a54{background:linear-gradient(#000080,#000080 24px,#000081 48px,#008 72px,#000093 78px,#0000a7 81px,#0000d2 83px,#00f 84px,#0087ff 86px,#0023ff 89px,#000cff 90px,#001eff 91px,#0054ff 92px,#0058ff 93px,#0014ff 94px,#0000f1 95px,#0000db 96px,#00d 97px,#0000f7 98px,#0035ff 100px,#0004ff 101px,#0000c4 103px,#0000b7 105px,#0000be 106px,#0000d3 107px,#00f 108px,#0031ff 109px,#0046ff 110px,#0009ff 111px,#0000c4 113px,#0000b8 114px,#0000ba 116px,#0000c7 117px,#0000e3 118px,#0009ff 119px,#006aff 120px,#00d9ff 121px,#0af 122px,#0031ff 123px,#0000f5 124px,#0000ca 125px,#0000b3 126px,#000097 129px,#00008a 134px,#000085 144px,#000086 168px,#00008d 178px,#00009d 184px,#0000bf 188px,#0000ef 190px,#000dff 191px,#0059ff 192px,#03e9f4 193px,#d3ff24 194px,#ff5800 195px,#ffba00 196px,#bfff38 197px,#3affbd 198px,#008cff 199px,#0031ff 200px,#0002ff 201px,#0000f7 203px,#00f 204px,#0026ff 205px,#006dff 206px,#006cff 207px,#0024ff 208px,#00f 209px,#0000f5 210px,#00f 211px,#001cff 212px,#006cff 213px,#0094ff 214px,#00f 216px,#0000d8 218px,#0000dc 219px,#0000f6 220px,#0034ff 222px,#000cff 223px,#0000f6 224px,#00e 225px,#00f 226px,#001dff 227px,#002eff 229px,#005dff 230px,#0060ff 231px,#0014ff 232px,#0000e3 233px,#0000c0 234px,#0000ac 235px,#009 237px,#00008e 240px,#000082 264px,#000081 288px,#000080 312px,#000080)}
.a55{background:linear-gradient(#000080,#000080 24px,#000081 48px,#008 72px,#000093 78px,#0000a7 81px,#0000d0 83px,#00f 84px,#08f 86px,#0071ff 87px,#02f 89px,#0014ff 90px,#0032ff 91px,#0060ff 92px,#003dff 93px,#00f 94px,#0000e6 95px,#0000dc 96px,#0005ff 98px,#0034ff 99px,#001bff 100px,#0000f0 101px,#00c 102px,#0000b6 104px,#0000c8 106px,#0000e8 107px,#0014ff 108px,#0048ff 109px,#02f 110px,#0000f2 111px,#00c 112px,#0000b4 114px,#0000bf 116px,#0000d3 117px,#0000fc 118px,#0037ff 119px,#00acff 120px,#00cbff 121px,#005aff 122px,#00f 123px,#0000b9 125px,#000098 128px,#00008b 133px,#000085 144px,#000086 168px,#00008f 179px,#0000a1 185px,#0000bc 188px,#00f 191px,#003eff 192px,#00b3ff 193px,#8cff6b 194px,#ff5300 195px,#ff2400 196px,#ffd900 197px,#46ffb1 198px,#0090ff 199px,#0037ff 200px,#000aff 201px,#00f 203px,#0017ff 204px,#0057ff 205px,#0085ff 206px,#000cff 208px,#00f 210px,#000eff 211px,#009aff 213px,#0067ff 214px,#0013ff 215px,#0000f1 216px,#0000db 217px,#0000d7 218px,#00f 220px,#0030ff 221px,#0026ff 222px,#00f 223px,#0000ed 224px,#0006ff 226px,#0027ff 227px,#0023ff 228px,#0035ff 229px,#0069ff 230px,#0054ff 231px,#0005ff 232px,#00b 234px,#00a 235px,#000098 237px,#00008e 240px,#000082 264px,#000081 288px,#000080 312px,#000080)}
.a56{background:linear-gradient(#000080,#000080 24px,#000081 48px,#008 72px,#000093 78px,#0000a6 81px,#0000ce 83px,#0000fe 84px,#003aff 85px,#0089ff 86px,#007dff 87px,#0025ff 89px,#001fff 90px,#0047ff 91px,#005bff 92px,#001fff 93px,#0000f9 94px,#0000e1 95px,#0000e3 96px,#00f 97px,#0024ff 98px,#002eff 99px,#00f 100px,#0000d7 101px,#0000c0 102px,#0000b7 104px,#0000c0 105px,#0000d7 106px,#00f 107px,#0038ff 108px,#0037ff 109px,#00f 110px,#0000d6 111px,#0000bf 112px,#0000b5 113px,#0000b9 115px,#0000c8 116px,#0000e6 117px,#01f 118px,#07f 119px,#00cfff 120px,#0083ff 121px,#0017ff 122px,#0000e5 123px,#0000c1 124px,#0000ad 125px,#000095 128px,#00008a 133px,#000085 144px,#000086 168px,#00008f 179px,#0000a0 185px,#0000ae 187px,#0000c9 189px,#00f 191px,#002bff 192px,#008cff 193px,#4fffa8 194px,#f80 195px,#850000 196px,#ff7800 197px,#62ff95 198px,#00a2ff 199px,#04f 200px,#0017ff 201px,#0008ff 202px,#0014ff 203px,#0043ff 204px,#08f 205px,#0076ff 206px,#002aff 207px,#00f 208px,#0004ff 210px,#003bff 211px,#008eff 212px,#0089ff 213px,#002fff 214px,#00f 215px,#0000e1 216px,#0000d6 217px,#00d 218px,#0000f9 219px,#0037ff 221px,#000cff 222px,#0000f4 223px,#0000ea 224px,#0000fe 225px,#0029ff 227px,#0021ff 228px,#0040ff 229px,#0071ff 230px,#04f 231px,#00f 232px,#0000d2 233px,#0000b6 234px,#0000a7 235px,#00008e 240px,#000082 264px,#000081 288px,#000080 312px,#000080)}
.a57{background:linear-gradient(#000080,#000080 24px,#000081 48px,#008 72px,#000092 78px,#0000a6 81px,#0000cd 83px,#0000fa 84px,#0035ff 85px,#08f 86px,#008aff 87px,#002aff 89px,#002fff 90px,#0058ff 91px,#0046ff 92px,#0006ff 93px,#0000e2 95px,#0000f2 96px,#000eff 97px,#0034ff 98px,#000fff 99px,#0000e7 100px,#0000c7 101px,#0000b6 103px,#0000cb 105px,#0000f0 106px,#001fff 107px,#0042ff 108px,#000eff 109px,#0000e4 110px,#0000c5 111px,#0000b2 113px,#0000c0 115px,#0000d7 116px,#00f 117px,#0048ff 118px,#00b6ff 119px,#00a7ff 120px,#0035ff 121px,#0000f6 122px,#0000ca 123px,#0000b2 124px,#000096 127px,#000089 133px,#000084 144px,#000086 168px,#00008f 179px,#0000a0 185px,#0000c6 189px,#0000fc 191px,#001dff 192px,#0070ff 193px,#22ffd5 194px,#ffd300 195px,#800000 196px,#ff1400 197px,#96ff61 198px,#00c5ff 199px,#005bff 200px,#002bff 201px,#0020ff 202px,#0039ff 203px,#0079ff 204px,#09f 205px,#0013ff 207px,#00f 208px,#00f 209px,#0024ff 210px,#0074ff 211px,#00a1ff 212px,#0007ff 214px,#0000d9 216px,#0000d8 217px,#0005ff 219px,#0036ff 220px,#0025ff 221px,#00f 222px,#0000ea 223px,#00e 224px,#00f 225px,#0027ff 226px,#02f 228px,#0073ff 230px,#0032ff 231px,#0000f7 232px,#0000ca 233px,#0000a5 235px,#00008d 240px,#000082 264px,#000081 288px,#000080 312px,#000080)}
.a58{background:linear-gradient(#000080,#000080 24px,#000081 48px,#008 72px,#000092 78px,#0000a5 81px,#0000cb 83px,#0000f6 84px,#002eff 85px,#0086ff 86px,#0097ff 87px,#005dff 88px,#0034ff 89px,#005bff 91px,#00f 93px,#0000e8 94px,#0000e9 95px,#00f 96px,#002aff 97px,#0026ff 98px,#0000fc 99px,#0000d2 100px,#0000be 101px,#0000b6 102px,#0000c3 104px,#0004ff 106px,#003dff 107px,#0026ff 108px,#0000f6 109px,#0000cd 110px,#0000b3 112px,#0000ba 114px,#0000cb 115px,#0000ef 116px,#02f 117px,#008eff 118px,#0bf 119px,#0056ff 120px,#00f 121px,#0000d4 122px,#0000b8 123px,#000097 126px,#000089 132px,#000084 144px,#000086 168px,#00008f 179px,#00009f 185px,#0000c4 189px,#0000f5 191px,#0013ff 192px,#005dff 193px,#02e8f4 194px,#d7ff1f 195px,#b50000 196px,#a20000 197px,#e7ff10 198px,#15ffe2 199px,#007fff 200px,#0048ff 201px,#0042ff 202px,#006cff 203px,#00a9ff 204px,#0083ff 205px,#0032ff 206px,#0007ff 207px,#00f 208px,#0014ff 209px,#0052ff 210px,#00a2ff 211px,#0081ff 212px,#0025ff 213px,#0000fc 214px,#0000e0 215px,#0000d8 216px,#0000e1 217px,#00f 218px,#0025ff 219px,#0039ff 220px,#000aff 221px,#0000e7 223px,#0000f9 224px,#002dff 226px,#001cff 227px,#0027ff 228px,#005fff 229px,#006dff 230px,#001fff 231px,#0000eb 232px,#0000c4 233px,#0000a3 235px,#00008d 240px,#000082 264px,#000081 288px,#000080 312px,#000080)}
.a59{background:linear-gradient(#000080,#000080 24px,#000081 48px,#008 72px,#000092 78px,#0000a5 81px,#0000c9 83px,#0000f2 84px,#0027ff 85px,#0082ff 86px,#00a3ff 87px,#0068ff 88px,#0043ff 89px,#05f 90px,#004fff 91px,#01f 92px,#0000f5 93px,#0000e8 94px,#0000f7 95px,#0014ff 96px,#0032ff 97px,#0007ff 98px,#0000c5 100px,#0000b6 102px,#0000bd 103px,#0000d0 104px,#0000fb 105px,#002aff 106px,#0037ff 107px,#00f 108px,#0000d8 109px,#0000bf 110px,#0000b2 112px,#0000c3 114px,#0005ff 116px,#00b9ff 118px,#0078ff 119px,#01f 120px,#0000e1 121px,#0000be 122px,#0000ab 123px,#009 125px,#000089 131px,#000084 144px,#000086 168px,#00008f 179px,#00009f 185px,#0000c1 189px,#0000ef 191px,#000aff 192px,#004eff 193px,#00cbff 194px,#a3ff54 195px,#ff4800 196px,#9b0000 197px,#ff8f00 198px,#5cff9b 199px,#00b3ff 200px,#0071ff 201px,#0073ff 202px,#00a9ff 203px,#00b5ff 204px,#005fff 205px,#001eff 206px,#0005ff 207px,#000bff 208px,#0035ff 209px,#08f 210px,#00a6ff 211px,#004fff 212px,#0005ff 213px,#0000dc 215px,#00d 216px,#0000f1 217px,#000fff 218px,#003dff 219px,#00f 221px,#0000e8 222px,#0000eb 223px,#00f 224px,#0026ff 225px,#0027ff 226px,#0017ff 227px,#0032ff 228px,#006fff 229px,#005fff 230px,#000cff 231px,#0000df 232px,#0000be 233px,#0000a1 235px,#00008d 240px,#000082 264px,#000081 288px,#000080 312px,#000080)}
.a60{background:linear-gradient(#000080,#000080 24px,#000081 48px,#008 72px,#000092 78px,#0000a4 81px,#0000c7 83px,#00e 84px,#0021ff 85px,#007cff 86px,#00aeff 87px,#07f 88px,#0057ff 89px,#0061ff 90px,#0038ff 91px,#00f 92px,#00e 93px,#00e 94px,#00f 95px,#002bff 96px,#0021ff 97px,#0000f7 98px,#0000cf 99px,#0000bd 100px,#0000b7 101px,#0000c7 103px,#0000e7 104px,#01f 105px,#003dff 106px,#0013ff 107px,#0000e7 108px,#0000c6 109px,#0000b1 111px,#0000bd 113px,#0000d2 114px,#0000fd 115px,#003bff 116px,#00a3ff 117px,#0096ff 118px,#002bff 119px,#0000f0 120px,#0000c6 121px,#0000b0 122px,#000095 125px,#008 131px,#000084 144px,#000086 168px,#00008e 179px,#00009e 185px,#0000be 189px,#0001ff 192px,#003fff 193px,#00afff 194px,#75ff82 195px,#ffb400 196px,#fb1000 197px,#f20 198px,#bfff38 199px,#14fee3 200px,#00abff 201px,#00b4ff 202px,#00dbff 203px,#009dff 204px,#0043ff 205px,#0015ff 206px,#000bff 207px,#02f 208px,#00b0ff 210px,#0082ff 211px,#0026ff 212px,#00f 213px,#0000e4 214px,#00d 215px,#0000e7 216px,#00f 217px,#0031ff 218px,#0039ff 219px,#0005ff 220px,#0000ef 221px,#0000e5 222px,#0000f6 223px,#01f 224px,#0030ff 225px,#001cff 226px,#0016ff 227px,#0041ff 228px,#0079ff 229px,#004cff 230px,#00f 231px,#0000d5 232px,#0000b9 233px,#0000a9 234px,#000098 236px,#00008d 240px,#000082 264px,#000081 288px,#000080 312px,#000080)}
.a61{background:linear-gradient(#000080,#000080 24px,#000081 48px,#000087 72px,#000092 78px,#0000a3 81px,#0000c5 83px,#0000eb 84px,#001aff 85px,#0073ff 86px,#00b4ff 87px,#006eff 89px,#005fff 90px,#0020ff 91px,#00f 92px,#0000ed 93px,#0000fa 94px,#0030ff 96px,#0004ff 97px,#0000c4 99px,#0000b8 101px,#0000c0 102px,#0000d7 103px,#00f 104px,#0032ff 105px,#0029ff 106px,#0000fa 107px,#0000cf 108px,#0000ba 109px,#0000b2 110px,#0000b8 112px,#0000c8 113px,#0000ea 114px,#001bff 115px,#0080ff 116px,#00a9ff 117px,#004aff 118px,#00f 119px,#0000d0 120px,#0000a5 122px,#000092 125px,#000084 144px,#000086 168px,#000090 180px,#0000a2 186px,#00b 189px,#0000cb 190px,#00f 192px,#002cff 193px,#008eff 194px,#44ffb3 195px,#e4ff13 196px,#ff7f00 197px,#e40000 198px,#ffa700 199px,#6bff8c 200px,#14fee3 201px,#16ffe0 202px,#03e9f4 203px,#007fff 204px,#0034ff 205px,#0016ff 206px,#001aff 207px,#04f 208px,#0098ff 209px,#00afff 210px,#0053ff 211px,#0009ff 212px,#0000e1 214px,#0000e3 215px,#0000fb 216px,#04f 218px,#0000fc 220px,#0000e5 221px,#0000e9 222px,#00f 223px,#0027ff 224px,#002bff 225px,#01f 226px,#001aff 227px,#0054ff 228px,#007bff 229px,#0037ff 230px,#0000fb 231px,#0000cd 232px,#0000a6 234px,#000097 236px,#00008c 240px,#000082 264px,#000081 288px,#000080 312px,#000080)}
.a62{background:linear-gradient(#000080,#000080 24px,#000081 48px,#000087 72px,#000092 78px,#0000a3 81px,#0000c3 83px,#0000e7 84px,#0015ff 85px,#00b6ff 87px,#00a4ff 88px,#0083ff 89px,#0052ff 90px,#000eff 91px,#0000f8 92px,#0000f2 93px,#00f 94px,#0029ff 95px,#0020ff 96px,#0000f8 97px,#0000d0 98px,#0000be 99px,#0000b8 100px,#0000bc 101px,#00c 102px,#0000f1 103px,#001dff 104px,#0037ff 105px,#0001ff 106px,#0000c0 108px,#0000b1 110px,#0000c1 112px,#00f 114px,#00abff 116px,#006bff 117px,#0009ff 118px,#00b 120px,#00009e 122px,#00008d 126px,#000084 144px,#000086 168px,#00008f 180px,#0000a0 186px,#0000c5 190px,#0000f8 192px,#0017ff 193px,#0067ff 194px,#0ef7e9 195px,#a6ff51 196px,#ffde00 197px,#ff3600 198px,#ff2300 199px,#e3ff14 200px,#6eff89 201px,#4effa8 202px,#00ddfd 203px,#006cff 204px,#0031ff 205px,#001fff 206px,#0032ff 207px,#00beff 209px,#008bff 210px,#002dff 211px,#00f 212px,#0000ea 213px,#0000e4 214px,#0009ff 216px,#003eff 217px,#0036ff 218px,#00f 219px,#0000e3 221px,#0000f4 222px,#000fff 223px,#03f 224px,#000aff 226px,#0024ff 227px,#0067ff 228px,#0074ff 229px,#02f 230px,#0000ed 231px,#0000c5 232px,#0000a4 234px,#00008c 240px,#000082 264px,#000081 288px,#000080 312px,#000080)}
.a63{background:linear-gradient(#000080,#000080 24px,#000081 48px,#000087 72px,#000091 78px,#0000a2 81px,#0000c2 83px,#0000e5 84px,#0010ff 85px,#00b2ff 87px,#00beff 88px,#0090ff 89px,#0042ff 90px,#0003ff 91px,#0000f7 92px,#0000fd 93px,#002fff 95px,#0006ff 96px,#0000c6 98px,#0000ba 100px,#0000c4 101px,#0005ff 103px,#0036ff 104px,#0018ff 105px,#0000ec 106px,#0000c8 107px,#0000b1 109px,#00b 111px,#0000cf 112px,#0000f9 113px,#0034ff 114px,#0098ff 115px,#008bff 116px,#0024ff 117px,#0000ec 118px,#0000c3 119px,#0000ae 120px,#009 122px,#00008c 126px,#000084 144px,#000086 168px,#00008f 180px,#00009e 186px,#0000bf 190px,#0000ea 192px,#0003ff 193px,#0042ff 194px,#00b5ff 195px,#67ff90 196px,#d3ff24 197px,#ff9800 198px,#ce0000 199px,#ff6300 200px,#e0ff17 201px,#75ff82 202px,#00d2ff 203px,#0067ff 204px,#0037ff 205px,#0031ff 206px,#0056ff 207px,#00a8ff 208px,#00beff 209px,#005fff 210px,#0012ff 211px,#0000f9 212px,#0000e9 213px,#00e 214px,#00f 215px,#002fff 216px,#0046ff 217px,#0014ff 218px,#0000f5 219px,#0000e2 220px,#0000e7 221px,#00f 222px,#0026ff 223px,#002fff 224px,#000eff 225px,#000aff 226px,#03f 227px,#0079ff 228px,#0064ff 229px,#000eff 230px,#0000e0 231px,#0000bf 232px,#0000a1 234px,#00008c 240px,#000082 264px,#000081 288px,#000080 312px,#000080)}
.a64{background:linear-gradient(#000080,#000080 24px,#000081 48px,#000087 72px,#000091 78px,#0000a2 81px,#0000c0 83px,#000bff 85px,#0af 87px,#00d4ff 88px,#0097ff 89px,#0038ff 90px,#00f 91px,#00f 93px,#0027ff 94px,#0023ff 95px,#0000fc 96px,#0000d3 97px,#0000c0 98px,#00b 99px,#0000c0 100px,#0000d3 101px,#0000fd 102px,#0028ff 103px,#002cff 104px,#00f 105px,#0000d2 106px,#0000bc 107px,#0000b2 108px,#0000b7 110px,#0000c6 111px,#0000e6 112px,#0014ff 113px,#0076ff 114px,#00a1ff 115px,#0046ff 116px,#00f 117px,#0000ce 118px,#0000a5 120px,#000096 122px,#00008b 126px,#000084 144px,#000086 168px,#009 185px,#0000af 189px,#0000de 192px,#00f 193px,#0023ff 194px,#007bff 195px,#24ffd3 196px,#a4ff52 197px,#ffeb00 198px,#ff1800 199px,#9c0000 200px,#ff7c00 201px,#94ff63 202px,#00d6ff 203px,#006fff 204px,#0047ff 205px,#004dff 206px,#0086ff 207px,#00cfff 208px,#009dff 209px,#003aff 210px,#0001ff 211px,#0000f0 213px,#00f 214px,#0020ff 215px,#004cff 216px,#00f 218px,#0000e5 219px,#0000e0 220px,#0000f2 221px,#000dff 222px,#0035ff 223px,#0003ff 225px,#000eff 226px,#0083ff 228px,#004fff 229px,#00f 230px,#0000d6 231px,#0000b9 232px,#0000a9 233px,#000095 236px,#00008b 240px,#000082 264px,#000081 288px,#000080 312px,#000080)}
.a65{background:linear-gradient(#000080,#000080 24px,#000081 48px,#000087 72px,#000091 78px,#0000a1 81px,#0000bf 83px,#0008ff 85px,#009fff 87px,#00e0fb 88px,#009bff 89px,#0035ff 90px,#0002ff 91px,#00f 92px,#0030ff 94px,#000cff 95px,#0000e7 96px,#0000ca 97px,#0000be 99px,#0000ca 100px,#0000ea 101px,#0013ff 102px,#0035ff 103px,#0006ff 104px,#0000c1 106px,#0000b1 108px,#0000bf 110px,#0000d7 111px,#00f 112px,#00a2ff 114px,#006cff 115px,#000bff 116px,#00b 118px,#00009e 120px,#00008a 126px,#000083 144px,#000086 168px,#000098 185px,#0000ac 189px,#0000d4 192px,#0009ff 194px,#004dff 195px,#00c5ff 196px,#6fff88 197px,#cfff28 198px,#ff7500 199px,#800000 200px,#d30000 201px,#c1ff35 202px,#09f1ee 203px,#0084ff 204px,#0060ff 205px,#0074ff 206px,#00bdff 207px,#00d5ff 208px,#0073ff 209px,#0020ff 210px,#00f 211px,#0000f7 212px,#00f 213px,#0014ff 214px,#0048ff 215px,#003dff 216px,#0003ff 217px,#0000de 219px,#0000e5 220px,#00f 221px,#0026ff 222px,#0031ff 223px,#000cff 224px,#00f 225px,#0018ff 226px,#005dff 227px,#0083ff 228px,#0038ff 229px,#0000fb 230px,#0000cd 231px,#0000a6 233px,#000094 236px,#00008b 240px,#000082 264px,#000081 288px,#000080 312px,#000080)}
.a66{background:linear-gradient(#000080,#000080 24px,#000081 48px,#000087 72px,#000091 78px,#0000a1 81px,#0000be 83px,#0005ff 85px,#0046ff 86px,#00ddfd 88px,#00a0ff 89px,#003aff 90px,#000aff 91px,#0008ff 92px,#0027ff 93px,#0029ff 94px,#00f 95px,#0000d9 96px,#0000c5 97px,#0000bf 98px,#0000c5 99px,#0000dc 100px,#00f 101px,#0031ff 102px,#001bff 103px,#0000ef 104px,#0000c9 105px,#0000b8 106px,#0000b2 108px,#00c 110px,#0000f3 111px,#002aff 112px,#008dff 113px,#008dff 114px,#0028ff 115px,#00e 116px,#0000c4 117px,#0000ae 118px,#009 120px,#008 127px,#000083 144px,#000086 168px,#000097 185px,#0000a9 189px,#0000cb 192px,#00f 194px,#002bff 195px,#008aff 196px,#34ffc3 197px,#adff4a 198px,#ffc200 199px,#900000 200px,#800000 201px,#ffdf00 202px,#33ffc4 203px,#00a8ff 204px,#0084ff 205px,#00a7ff 206px,#03eaf3 207px,#00b9ff 208px,#004fff 209px,#01f 210px,#00f 211px,#00f 212px,#000cff 213px,#0040ff 214px,#004eff 215px,#0014ff 216px,#0000f4 217px,#0000df 218px,#0000de 219px,#0000f1 220px,#000eff 221px,#0037ff 222px,#00f 224px,#00f 225px,#0029ff 226px,#0076ff 227px,#0076ff 228px,#001eff 229px,#0000ea 230px,#0000c4 231px,#0000a4 233px,#000093 236px,#00008b 240px,#000082 264px,#000081 288px,#000080 312px,#000080)}
.a67{background:linear-gradient(#000080,#000080 24px,#000081 48px,#000087 72px,#000091 78px,#0000a0 81px,#0000bd 83px,#0002ff 85px,#003fff 86px,#00cdff 88px,#00a8ff 89px,#0047ff 90px,#0018ff 91px,#001cff 92px,#0035ff 93px,#0017ff 94px,#0000f1 95px,#0000d0 96px,#0000c3 97px,#0000c4 98px,#0000d3 99px,#0000f9 100px,#02f 101px,#002cff 102px,#00f 103px,#0000d3 104px,#0000bc 105px,#0000b1 107px,#0000c4 109px,#0000e2 110px,#000dff 111px,#006cff 112px,#00a0ff 113px,#00f 115px,#0000d0 116px,#0000b4 117px,#000096 120px,#000087 127px,#000083 144px,#000086 168px,#000095 185px,#0000a6 189px,#0000c5 192px,#0000f7 194px,#0015ff 195px,#0061ff 196px,#02e9f4 197px,#8fff68 198px,#ffeb00 199px,#ff2a00 200px,#800 201px,#ff7800 202px,#75ff82 203px,#00ddfd 204px,#00b7ff 205px,#00e4f8 206px,#10f9e7 207px,#0093ff 208px,#0037ff 209px,#000aff 210px,#00f 211px,#000aff 212px,#0059ff 214px,#00f 216px,#0000e3 217px,#0000db 218px,#0000e5 219px,#00f 220px,#002aff 221px,#03f 222px,#0009ff 223px,#00f 224px,#0007ff 225px,#0089ff 227px,#005dff 228px,#0006ff 229px,#0000bd 231px,#0000ab 232px,#000095 235px,#00008a 240px,#000082 264px,#000081 288px,#000080 312px,#000080)}
.a68{background:linear-gradient(#000080,#000080 24px,#000081 48px,#000087 72px,#000090 78px,#0000a0 81px,#0000bc 83px,#00f 85px,#00b2ff 88px,#00aeff 89px,#005eff 90px,#002eff 91px,#0036ff 93px,#0003ff 94px,#00c 96px,#0000c6 97px,#0000cd 98px,#0000e9 99px,#000eff 100px,#0032ff 101px,#0008ff 102px,#0000c2 104px,#0000b5 105px,#0000b3 107px,#0000be 108px,#0000d5 109px,#00f 110px,#0048ff 111px,#009eff 112px,#006eff 113px,#000cff 114px,#00d 115px,#0000bc 116px,#0000a9 117px,#000093 120px,#000087 127px,#000083 144px,#000085 168px,#000095 185px,#0000a4 189px,#0000c0 192px,#0005ff 195px,#0046ff 196px,#0bf 197px,#72ff84 198px,#f7f500 199px,#ff3c00 201px,#ff3800 202px,#d0ff26 203px,#37ffbf 204px,#12fbe5 205px,#2effc9 206px,#04eaf3 207px,#0073ff 208px,#002aff 209px,#000bff 210px,#000cff 211px,#002eff 212px,#005cff 213px,#0040ff 214px,#0002ff 215px,#0000eb 216px,#0000db 217px,#0000de 218px,#0000f4 219px,#0013ff 220px,#003bff 221px,#00f 223px,#00f 224px,#0018ff 225px,#0064ff 226px,#008bff 227px,#003cff 228px,#0000fe 229px,#0000cf 230px,#0000a7 232px,#000094 235px,#00008a 240px,#000082 264px,#000081 288px,#000080 312px,#000080)}
.a69{background:linear-gradient(#000080,#000080 24px,#000081 48px,#000087 72px,#000090 78px,#00009f 81px,#00b 83px,#00f 85px,#06f 87px,#0090ff 88px,#00acff 89px,#004dff 91px,#004aff 92px,#00f 94px,#0000db 95px,#00c 96px,#00c 97px,#0000de 98px,#00f 99px,#002dff 100px,#001cff 101px,#0000f1 102px,#0000cb 103px,#0000b8 104px,#0000b2 106px,#0000cb 108px,#0000f1 109px,#0027ff 110px,#0089ff 111px,#008cff 112px,#0029ff 113px,#00e 114px,#0000c4 115px,#0000ae 116px,#000090 120px,#000083 144px,#000085 168px,#000094 185px,#0000a2 189px,#0000bc 192px,#0000cd 193px,#00f 195px,#0034ff 196px,#009cff 197px,#5aff9d 198px,#f8f400 199px,#ffe100 200px,#ffda00 201px,#f60 202px,#ffb000 203px,#8fff68 204px,#59ff9e 205px,#4dffaa 206px,#00ceff 207px,#005eff 208px,#0026ff 209px,#0017ff 210px,#002aff 211px,#005aff 212px,#0057ff 213px,#0016ff 214px,#0000f6 215px,#0000e0 216px,#0000db 217px,#00f 219px,#0031ff 220px,#0032ff 221px,#0006ff 222px,#00f 224px,#0034ff 225px,#0084ff 226px,#07f 227px,#001bff 228px,#0000e8 229px,#0000c4 230px,#0000a4 232px,#000093 235px,#00008a 240px,#000082 264px,#000081 288px,#000080 312px,#000080)}
.a70{background:linear-gradient(#000080,#000080 24px,#000081 48px,#000087 72px,#000090 78px,#00009f 81px,#0000ba 83px,#00f 85px,#0059ff 87px,#006eff 88px,#009aff 89px,#00a0ff 90px,#0076ff 91px,#005aff 92px,#001dff 93px,#0000f6 94px,#0000d8 95px,#0000d0 96px,#0000d8 97px,#0000f9 98px,#001eff 99px,#002cff 100px,#00f 101px,#0000d6 102px,#0000be 103px,#0000b3 104px,#0000b6 106px,#0000c4 107px,#0000e2 108px,#000cff 109px,#006aff 110px,#009dff 111px,#00f 113px,#0000cf 114px,#0000b4 115px,#00009b 117px,#00008e 120px,#000083 144px,#000085 168px,#000093 185px,#0000a1 189px,#0000ba 192px,#0000e0 194px,#00f 195px,#002aff 196px,#008cff 197px,#48ffae 198px,#ecff0b 199px,#d9ff1e 200px,#aaff4d 201px,#ffe500 202px,#ff7500 203px,#ffe900 204px,#aeff48 205px,#5aff9d 206px,#00b9ff 207px,#0056ff 208px,#002dff 209px,#002dff 210px,#0054ff 211px,#006bff 212px,#00f 214px,#0000e7 215px,#0000dc 216px,#0000e2 217px,#0000fc 218px,#003fff 220px,#0019ff 221px,#00f 222px,#00f 223px,#0010ff 224px,#0059ff 225px,#0095ff 226px,#0053ff 227px,#00f 228px,#0000ba 230px,#0000a0 232px,#000089 240px,#000082 264px,#000081 288px,#000080 312px,#000080)}
.a71{background:linear-gradient(#000080,#000080 24px,#000081 48px,#000087 72px,#000090 78px,#00009e 81px,#0000b9 83px,#00f 85px,#0030ff 86px,#004eff 87px,#0052ff 88px,#007dff 89px,#00b9ff 90px,#00a5ff 91px,#0064ff 92px,#0015ff 93px,#0000f2 94px,#0000db 95px,#0000d9 96px,#000cff 98px,#0032ff 99px,#000dff 100px,#0000e5 101px,#0000c5 102px,#0000b7 103px,#0000b4 105px,#0000bf 106px,#0000d6 107px,#00f 108px,#009cff 110px,#006aff 111px,#000aff 112px,#00b 114px,#0000a9 115px,#000097 117px,#00008d 120px,#000083 144px,#000085 168px,#000093 185px,#0000a0 189px,#0000b8 192px,#00d 194px,#00f 195px,#0026ff 196px,#0087ff 197px,#3fffb8 198px,#cbff2c 199px,#b6ff41 200px,#71ff86 201px,#9dff59 202px,#ffa500 203px,#ff6300 204px,#fd0 205px,#63ff94 206px,#00b3ff 207px,#005bff 208px,#003fff 209px,#0051ff 210px,#07f 211px,#0053ff 212px,#000fff 213px,#0000f5 214px,#0000e2 215px,#0000e0 216px,#0009ff 218px,#003cff 219px,#0030ff 220px,#0001ff 221px,#00f 223px,#002cff 224px,#0081ff 225px,#08f 226px,#002bff 227px,#0000f2 228px,#0000c9 229px,#0000a6 231px,#000094 234px,#000089 240px,#000082 264px,#000081 288px,#000080 312px,#000080)}
.a72{background:linear-gradient(#000080,#000080 24px,#000081 48px,#000087 72px,#000090 78px,#00009e 81px,#0000b8 83px,#00f 85px,#002fff 86px,#0045ff 87px,#003cff 88px,#0060ff 89px,#00baff 90px,#00d0ff 91px,#0015ff 93px,#0000f5 94px,#0000e2 95px,#0000e8 96px,#00f 97px,#002bff 98px,#0023ff 99px,#0000f9 100px,#0000d0 101px,#0000bc 102px,#0000b4 104px,#0000cd 106px,#0000f3 107px,#0029ff 108px,#008aff 109px,#08f 110px,#0025ff 111px,#0000ec 112px,#0000c3 113px,#0000a1 115px,#00008c 120px,#000083 144px,#000085 168px,#000092 185px,#00009f 189px,#0000b7 192px,#0000db 194px,#0000fe 195px,#0026ff 196px,#08f 197px,#39ffbe 198px,#9fff58 199px,#96ff60 200px,#5aff9c 201px,#61ff96 202px,#eaff0d 203px,#ff2800 204px,#ff7600 205px,#7cff7b 206px,#00c2ff 207px,#006eff 208px,#005eff 209px,#007cff 210px,#0078ff 211px,#0031ff 212px,#00f 213px,#0000e3 215px,#0000ea 216px,#00f 217px,#002dff 218px,#0041ff 219px,#0013ff 220px,#00f 221px,#0000fd 222px,#000dff 223px,#009cff 225px,#0063ff 226px,#0008ff 227px,#0000be 229px,#0000a2 231px,#000093 234px,#000089 240px,#000082 264px,#000081 288px,#000080 312px,#000080)}
.a73{background:linear-gradient(#000080,#000080 24px,#000081 48px,#000087 72px,#000090 78px,#00009e 81px,#0000b8 83px,#0000d5 84px,#00f 85px,#002dff 86px,#003eff 87px,#002fff 88px,#004bff 89px,#00a7ff 90px,#00e1fb 91px,#0020ff 93px,#00f 94px,#0000f1 95px,#00f 96px,#03f 98px,#0003ff 99px,#0000c3 101px,#0000b4 103px,#0000c6 105px,#0000e4 106px,#000fff 107px,#006dff 108px,#009bff 109px,#04f 110px,#00f 111px,#0000cd 112px,#0000a4 114px,#000095 116px,#00008a 120px,#000083 144px,#000085 168px,#000092 185px,#00009f 189px,#0000b6 192px,#0000da 194px,#0000fd 195px,#0025ff 196px,#0089ff 197px,#32ffc5 198px,#76ff80 199px,#73ff84 200px,#59ff9e 201px,#4cffaa 202px,#b1ff46 203px,#ff5c00 204px,#ff3e00 205px,#b2ff45 206px,#06edf0 207px,#0093ff 208px,#008bff 209px,#009aff 210px,#005fff 211px,#0017ff 212px,#0000fe 213px,#0000eb 214px,#0000ea 215px,#0000fe 216px,#001aff 217px,#0047ff 218px,#002aff 219px,#00f 220px,#00f 222px,#002bff 223px,#0083ff 224px,#0094ff 225px,#0036ff 226px,#0000fa 227px,#0000cd 228px,#0000b6 229px,#00009f 231px,#000089 240px,#000082 264px,#000081 288px,#000080 312px,#000080)}
.a74{background:linear-gradient(#000080,#000080 24px,#000081 48px,#000087 72px,#00008f 78px,#00009d 81px,#0000b8 83px,#0000d5 84px,#00f 85px,#002cff 86px,#0039ff 87px,#0028ff 88px,#0040ff 89px,#008cff 90px,#00c9ff 91px,#009aff 92px,#0039ff 93px,#0003ff 94px,#00f 95px,#000fff 96px,#0036ff 97px,#0000f5 99px,#0000cf 100px,#0000b6 102px,#0000c2 104px,#0000d9 105px,#00f 106px,#009dff 108px,#0065ff 109px,#0006ff 110px,#0000ba 112px,#0000a8 113px,#000093 116px,#00008a 120px,#000083 144px,#000085 168px,#000092 185px,#00009e 189px,#0000b5 192px,#0000d8 194px,#0000fa 195px,#02f 196px,#0084ff 197px,#27ffd0 198px,#5aff9d 199px,#50ffa6 200px,#5cff9a 201px,#58ff9f 202px,#a0ff57 203px,#ffc200 204px,#ff7a00 205px,#faf100 206px,#47ffb0 207px,#00d1ff 208px,#00c2ff 209px,#009cff 210px,#04f 211px,#0009ff 212px,#0000f0 214px,#000bff 216px,#003fff 217px,#0040ff 218px,#000cff 219px,#0000fd 220px,#0000fd 221px,#000eff 222px,#00a4ff 224px,#006eff 225px,#000fff 226px,#0000e2 227px,#0000c1 228px,#0000af 229px,#00009c 231px,#008 240px,#000082 264px,#000081 288px,#000080 312px,#000080)}
.a75{background:linear-gradient(#000080,#000080 24px,#000081 48px,#000087 72px,#00008f 78px,#00009d 81px,#0000b7 83px,#0000d4 84px,#00f 85px,#0029ff 86px,#0036ff 87px,#0028ff 88px,#003dff 89px,#0097ff 91px,#00a8ff 92px,#0020ff 94px,#0014ff 95px,#0031ff 96px,#0039ff 97px,#0003ff 98px,#0000c6 100px,#0000b9 102px,#0000d1 104px,#0000f7 105px,#002fff 106px,#008eff 107px,#0083ff 108px,#0020ff 109px,#0000e9 110px,#0000c2 111px,#0000a1 113px,#000090 116px,#000089 120px,#000083 144px,#000085 168px,#000091 185px,#00009d 189px,#0000b3 192px,#0000d4 194px,#0000f4 195px,#0018ff 196px,#0072ff 197px,#14fee3 198px,#4bffac 199px,#3affbc 200px,#7aff7d 202px,#adff4a 203px,#d0ff27 204px,#e6ff10 205px,#ffd400 206px,#a8ff4f 207px,#3cffbb 208px,#0bf3ec 209px,#008dff 210px,#0034ff 211px,#0004ff 212px,#0002ff 215px,#0032ff 216px,#004fff 217px,#00f 219px,#0000f9 220px,#00f 221px,#002fff 222px,#008aff 223px,#009eff 224px,#003eff 225px,#00f 226px,#0000d1 227px,#0000b8 228px,#0000a0 230px,#000090 234px,#008 240px,#000082 264px,#000081 288px,#000080 312px,#000080)}
.a76{background:linear-gradient(#000080,#000080 24px,#000081 48px,#000087 72px,#00008f 78px,#00009d 81px,#0000b7 83px,#0000d4 84px,#00f 85px,#0027ff 86px,#0035ff 87px,#002dff 88px,#0064ff 91px,#009bff 92px,#008bff 93px,#0049ff 94px,#003aff 95px,#004cff 96px,#0000fb 98px,#0000d4 99px,#0000bc 101px,#0000cb 103px,#0000e9 104px,#0015ff 105px,#0073ff 106px,#09f 107px,#003eff 108px,#0000fc 109px,#00c 110px,#0000a4 112px,#000091 115px,#008 120px,#000083 144px,#000085 168px,#000091 185px,#00009c 189px,#0000b0 192px,#0000ce 194px,#0009ff 196px,#0056ff 197px,#00d8ff 198px,#43ffb3 199px,#36ffc1 200px,#58ff9f 201px,#a6ff51 202px,#c6ff31 203px,#8fff68 204px,#76ff81 205px,#ceff29 206px,#ffe800 207px,#a4ff53 208px,#29ffce 209px,#08f 210px,#0032ff 211px,#0008ff 212px,#0001ff 214px,#0053ff 216px,#003aff 217px,#0005ff 218px,#00f 220px,#0012ff 221px,#00adff 223px,#0076ff 224px,#0014ff 225px,#0000e6 226px,#0000c4 227px,#0000b1 228px,#00009d 230px,#008 240px,#000082 264px,#000081 288px,#000080 312px,#000080)}
.a77{background:linear-gradient(#000080,#000080 24px,#000081 48px,#000087 72px,#00008f 78px,#00009d 81px,#0000b6 83px,#0000d3 84px,#00f 85px,#0024ff 86px,#0035ff 87px,#003dff 89px,#03f 90px,#003bff 91px,#0079ff 92px,#00abff 93px,#0081ff 94px,#05f 96px,#0012ff 97px,#0000ec 98px,#0000cf 99px,#0000c0 101px,#0000c8 102px,#00f 104px,#009eff 106px,#0060ff 107px,#0003ff 108px,#0000ba 110px,#00009e 112px,#00008f 115px,#008 120px,#000083 144px,#000085 168px,#000090 185px,#0000ad 192px,#0000c8 194px,#00f 196px,#0038ff 197px,#0af 198px,#37ffc0 199px,#42ffb5 200px,#5eff98 201px,#cbff2c 202px,#d9ff1e 203px,#64ff93 204px,#2fffc8 205px,#6dff8a 206px,#ffe800 207px,#ffdf00 208px,#53ffa3 209px,#009aff 210px,#003fff 211px,#0016ff 212px,#000dff 213px,#0023ff 214px,#0052ff 215px,#0051ff 216px,#0018ff 217px,#00f 218px,#00f 220px,#0035ff 221px,#0094ff 222px,#00a8ff 223px,#04f 224px,#00f 225px,#0000d4 226px,#0000ba 227px,#0000a1 229px,#000090 233px,#008 240px,#000082 264px,#000081 288px,#000080 312px,#000080)}
.a78{background:linear-gradient(#000080,#000080 24px,#000081 48px,#000087 72px,#00008f 78px,#00009d 81px,#0000b6 83px,#0000d3 84px,#00f 85px,#0021ff 86px,#0040ff 88px,#0037ff 89px,#001cff 90px,#001fff 91px,#05f 92px,#00b0ff 93px,#00c1ff 94px,#09f 95px,#004fff 96px,#0004ff 97px,#0000ce 99px,#0000c5 100px,#0000c8 101px,#0000d8 102px,#0000fe 103px,#0036ff 104px,#0092ff 105px,#0080ff 106px,#001dff 107px,#0000e8 108px,#0000c2 109px,#0000a1 111px,#000091 114px,#000087 120px,#000083 144px,#000085 168px,#000090 185px,#0000ab 192px,#0000c2 194px,#0000d7 195px,#0000f9 196px,#001fff 197px,#007dff 198px,#1dffda 199px,#57ffa0 200px,#76ff80 201px,#e0ff17 202px,#daff1d 203px,#50ffa6 204px,#0df6ea 205px,#2fffc7 206px,#b1ff46 207px,#ffd400 208px,#9bff5c 209px,#00d6ff 210px,#0063ff 211px,#03f 212px,#0031ff 213px,#05f 214px,#06f 215px,#002eff 216px,#00f 217px,#00f 219px,#0018ff 220px,#00b9ff 222px,#007dff 223px,#0018ff 224px,#0000e9 225px,#0000c6 226px,#0000b2 227px,#00009f 229px,#000090 233px,#008 240px,#000082 264px,#000081 288px,#000080 312px,#000080)}
.a79{background:linear-gradient(#000080,#000080 24px,#000081 48px,#000087 72px,#00008f 78px,#00009c 81px,#0000b6 83px,#0000d3 84px,#00f 85px,#001fff 86px,#0047ff 88px,#000dff 90px,#000dff 91px,#003aff 92px,#009fff 93px,#0df6e9 94px,#00c1ff 95px,#004dff 96px,#00f 97px,#0000d2 99px,#0000cd 100px,#0000d6 101px,#0000f3 102px,#001eff 103px,#007bff 104px,#0097ff 105px,#003aff 106px,#0000fa 107px,#0000cb 108px,#0000a5 110px,#000092 113px,#000087 120px,#000082 144px,#000084 168px,#00008e 184px,#0000a9 192px,#0000be 194px,#0000ed 196px,#000cff 197px,#005aff 198px,#00e1fb 199px,#69ff8e 200px,#a0ff57 201px,#e5ff11 202px,#c4ff32 203px,#50ffa6 204px,#09f1ed 205px,#1cffdb 206px,#9cff5b 208px,#bfff38 209px,#4cffab 210px,#00abff 211px,#0069ff 212px,#006dff 213px,#0080ff 214px,#0010ff 216px,#00f 217px,#0005ff 219px,#0041ff 220px,#00a3ff 221px,#00b0ff 222px,#0047ff 223px,#00f 224px,#0000d6 225px,#0000bc 226px,#0000a3 228px,#000091 232px,#000087 240px,#000082 264px,#000081 288px,#000080 312px,#000080)}
.a80{background:linear-gradient(#000080,#000080 24px,#000081 48px,#000087 72px,#00008f 78px,#00009c 81px,#0000b6 83px,#0000d2 84px,#00f 85px,#004bff 88px,#0004ff 90px,#0003ff 91px,#002aff 92px,#008aff 93px,#19ffde 94px,#00dcfe 95px,#0058ff 96px,#0006ff 97px,#0000da 99px,#0000da 100px,#0000ed 101px,#000cff 102px,#0061ff 103px,#00a1ff 104px,#0058ff 105px,#00f 106px,#0000b9 108px,#00009e 110px,#00008e 114px,#000087 120px,#000082 144px,#000084 168px,#00008e 184px,#0000a7 192px,#00c 195px,#0001ff 197px,#04f 198px,#00bfff 199px,#70ff87 200px,#d1ff26 201px,#deff19 202px,#1fffd8 205px,#20ffd7 208px,#67ff90 209px,#99ff5e 210px,#36ffc1 211px,#00caff 212px,#00b5ff 213px,#007aff 214px,#002dff 215px,#0002ff 216px,#00f 218px,#0026ff 219px,#00c8ff 221px,#007eff 222px,#0018ff 223px,#0000ea 224px,#0000c8 225px,#0000b4 226px,#0000a0 228px,#000090 232px,#000087 240px,#000082 264px,#000081 288px,#000080 312px,#000080)}
.a81{background:linear-gradient(#000080,#000080 24px,#000081 48px,#000087 72px,#00008f 78px,#00009c 81px,#0000b6 83px,#0000d2 84px,#00f 85px,#0049ff 88px,#0003ff 90px,#00f 91px,#0025ff 92px,#007cff 93px,#00e4f8 94px,#00e6f7 95px,#0074ff 96px,#0019ff 97px,#0000fb 98px,#0000e9 99px,#0002ff 101px,#0049ff 102px,#009eff 103px,#07f 104px,#0016ff 105px,#0000e5 106px,#0000c1 107px,#0000ad 108px,#00009a 110px,#000086 120px,#000082 144px,#000084 168px,#00008d 184px,#0000a7 192px,#0000cb 195px,#00f 197px,#003aff 198px,#00afff 199px,#75ff82 200px,#fbf000 201px,#ceff29 202px,#71ff85 203px,#30ffc6 206px,#00daff 207px,#00afff 208px,#00defd 209px,#6aff8d 210px,#a8ff4f 211px,#62ff95 212px,#00e4f8 213px,#006aff 214px,#0023ff 215px,#0004ff 216px,#00f 217px,#0017ff 218px,#0059ff 219px,#00bdff 220px,#00b4ff 221px,#04f 222px,#00f 223px,#0000d7 224px,#0000bd 225px,#0000a4 227px,#000090 232px,#000087 240px,#000082 264px,#000081 288px,#000080 312px,#000080)}
.a82{background:linear-gradient(#000080,#000080 24px,#000081 48px,#000087 72px,#00008f 78px,#00009c 81px,#0000b5 83px,#0000d2 84px,#00f 85px,#0043ff 88px,#0007ff 90px,#0004ff 91px,#002aff 92px,#0072ff 93px,#00a9ff 94px,#00ceff 95px,#009cff 96px,#003aff 97px,#0003ff 98px,#0001ff 100px,#0037ff 101px,#0090ff 102px,#0093ff 103px,#0030ff 104px,#0000f5 105px,#0000ca 106px,#0000b3 107px,#00009d 109px,#00008d 113px,#000086 120px,#000082 144px,#000084 168px,#00008d 184px,#0000a7 192px,#0000cb 195px,#00f 197px,#003bff 198px,#00b1ff 199px,#81ff76 200px,#ffd300 201px,#bcff3b 202px,#52ffa5 203px,#56ffa0 204px,#72ff85 205px,#38ffbf 206px,#00b7ff 207px,#0081ff 208px,#0095ff 209px,#15ffe2 210px,#adff4a 211px,#c7ff30 212px,#25ffd2 213px,#007aff 214px,#0030ff 215px,#0014ff 216px,#0018ff 217px,#0043ff 218px,#00a1ff 219px,#00d8ff 220px,#0015ff 222px,#0000ea 223px,#0000c9 224px,#0000b6 225px,#0000a1 227px,#00008f 232px,#000087 240px,#000082 264px,#000081 288px,#000080 312px,#000080)}
.a83{background:linear-gradient(#000080,#000080 24px,#000081 48px,#000087 72px,#00008f 78px,#00009c 81px,#0000b5 83px,#0000d2 84px,#00f 85px,#002eff 87px,#0038ff 88px,#002eff 89px,#0012ff 90px,#000fff 91px,#0063ff 93px,#006eff 94px,#009bff 95px,#00b9ff 96px,#0026ff 98px,#0014ff 99px,#0031ff 100px,#0080ff 101px,#00a9ff 102px,#00f 104px,#0000d6 105px,#0000ba 106px,#0000a0 108px,#00008f 112px,#000086 120px,#000082 144px,#000084 168px,#00008e 184px,#0000a8 192px,#0000cd 195px,#0003ff 197px,#0047ff 198px,#00c8ff 199px,#98ff5f 200px,#ffdb00 201px,#aaff4d 202px,#43ffb4 203px,#4dffaa 204px,#84ff72 205px,#3cffbb 206px,#00acff 207px,#0074ff 208px,#0081ff 209px,#00d5ff 210px,#5bff9c 211px,#a0ff57 212px,#66ff91 213px,#00bcff 214px,#0058ff 215px,#0035ff 216px,#0042ff 217px,#08f 218px,#00e3f9 219px,#00b2ff 220px,#003dff 221px,#00f 222px,#0000d7 223px,#0000bf 224px,#00009f 227px,#00008f 232px,#000087 240px,#000082 264px,#000081 288px,#000080 312px,#000080)}
.a84{background:linear-gradient(#000080,#000080 24px,#000081 48px,#000087 72px,#00008f 78px,#00009c 81px,#0000b5 83px,#0000d2 84px,#00f 85px,#002aff 87px,#0030ff 89px,#02f 91px,#0043ff 92px,#004bff 93px,#003eff 94px,#0064ff 95px,#00b1ff 96px,#00a4ff 97px,#005bff 98px,#0048ff 99px,#0079ff 100px,#00b7ff 101px,#07f 102px,#0014ff 103px,#0000e6 104px,#0000c4 105px,#0000b0 106px,#00009c 108px,#00008e 112px,#000086 120px,#000082 144px,#000084 168px,#00008f 185px,#0000a9 192px,#0000bf 194px,#0000ef 196px,#000eff 197px,#005dff 198px,#0af2ed 199px,#b0ff47 200px,#e4ff13 201px,#47ffb0 203px,#4dffa9 204px,#70ff86 205px,#3cffbb 206px,#00baff 207px,#0082ff 208px,#0094ff 209px,#00d0ff 210px,#00e3f9 211px,#1fffd7 212px,#67ff90 213px,#33ffc3 214px,#00a5ff 215px,#006fff 216px,#08f 217px,#00dffc 218px,#03e9f4 219px,#0070ff 220px,#01f 221px,#0000eb 222px,#0000cb 223px,#0000b8 224px,#00009e 227px,#00008f 232px,#000087 240px,#000082 264px,#000081 288px,#000080 312px,#000080)}
.a85{background:linear-gradient(#000080,#000080 24px,#000081 48px,#000087 72px,#00008f 78px,#00009c 81px,#0000b5 83px,#0000d2 84px,#00f 85px,#001cff 86px,#0027ff 87px,#001fff 88px,#004aff 92px,#001dff 94px,#0038ff 95px,#0089ff 96px,#00cfff 97px,#00a7ff 98px,#0098ff 99px,#00c7ff 100px,#00a5ff 101px,#0038ff 102px,#0000fd 103px,#0000d1 104px,#0000b8 105px,#0000a0 107px,#00008d 112px,#000086 120px,#000082 144px,#000084 168px,#000090 185px,#0000ab 192px,#0000c3 194px,#0000d8 195px,#0000f9 196px,#001fff 197px,#007dff 198px,#34ffc2 199px,#b7ff3f 200px,#abff4b 201px,#8aff6c 202px,#5dff9a 203px,#46ffb1 205px,#2effc9 206px,#00dcff 207px,#0af 208px,#0bf 209px,#00b6ff 210px,#008bff 211px,#0098ff 212px,#0ff8e8 213px,#5fff97 214px,#29ffce 215px,#00d0ff 216px,#08efef 217px,#2bffcc 218px,#00b2ff 219px,#003aff 220px,#00f 221px,#0000c3 223px,#0000a2 226px,#000090 231px,#000087 240px,#000082 264px,#000081 288px,#000080 312px,#000080)}
.a86{background:linear-gradient(#000080,#000080 24px,#000081 48px,#000087 72px,#00008f 78px,#00009c 81px,#0000b6 83px,#0000d2 84px,#00f 85px,#001cff 86px,#0024ff 87px,#0015ff 88px,#0026ff 89px,#004cff 90px,#005aff 91px,#0047ff 92px,#001aff 93px,#0008ff 94px,#001cff 95px,#005fff 96px,#00d1ff 97px,#19ffdd 98px,#18ffdf 99px,#02e7f5 100px,#006eff 101px,#000eff 102px,#0000e5 103px,#0000c5 104px,#0000b2 105px,#000098 108px,#000086 120px,#000082 144px,#000085 168px,#000090 185px,#0000ad 192px,#0000c7 194px,#00f 196px,#0031ff 197px,#00a0ff 198px,#5cff9b 199px,#aeff49 200px,#7aff7d 201px,#7eff79 203px,#5cff9a 204px,#1dffd9 205px,#11fae6 206px,#18ffdf 207px,#04ebf2 208px,#00d5ff 209px,#008cff 210px,#0058ff 211px,#005aff 212px,#009aff 213px,#30ffc6 214px,#7eff78 215px,#66ff91 216px,#68ff8f 217px,#1fffd8 218px,#0075ff 219px,#0017ff 220px,#0000f2 221px,#0000d1 222px,#0000be 223px,#0000a1 226px,#000090 231px,#000087 240px,#000082 264px,#000081 288px,#000080 312px,#000080)}
.a87{background:linear-gradient(#000080,#000080 24px,#000081 48px,#000087 72px,#00008f 78px,#00009c 81px,#0000b6 83px,#0000d2 84px,#00f 85px,#001dff 86px,#02f 87px,#0010ff 88px,#0020ff 89px,#0058ff 90px,#0073ff 91px,#000cff 93px,#00f 94px,#000dff 95px,#0045ff 96px,#00bcff 97px,#59ff9e 98px,#67ff90 99px,#00d5ff 100px,#0047ff 101px,#00f 102px,#0000bf 104px,#00009d 107px,#00008c 112px,#000086 120px,#000082 144px,#000085 168px,#000090 185px,#00009b 189px,#0000ae 192px,#0000ca 194px,#00f 196px,#003fff 197px,#00bcff 198px,#75ff82 199px,#a0ff57 200px,#5bff9c 201px,#69ff8e 202px,#9bff5c 203px,#5eff99 204px,#03eaf3 205px,#00daff 206px,#2bffcc 207px,#3bffbc 208px,#00d3ff 209px,#006dff 210px,#003fff 211px,#003eff 212px,#006bff 213px,#00dcff 214px,#93ff64 215px,#f0fe07 216px,#a1ff55 217px,#00dffc 218px,#0051ff 219px,#0006ff 220px,#00b 223px,#0000a0 226px,#000090 231px,#000087 240px,#000082 264px,#000081 288px,#000080 312px,#000080)}
.a88{background:linear-gradient(#000080,#000080 24px,#000081 48px,#000087 72px,#00008f 78px,#00009c 81px,#0000b6 83px,#0000d2 84px,#00f 85px,#001dff 86px,#0021ff 87px,#000eff 88px,#001eff 89px,#005bff 90px,#007bff 91px,#0009ff 93px,#00f 94px,#0009ff 95px,#003eff 96px,#00b4ff 97px,#6cff8b 98px,#7fff78 99px,#00caff 100px,#003dff 101px,#00f 102px,#0000d7 103px,#0000bd 104px,#00009c 107px,#00008c 112px,#000086 120px,#000082 144px,#000085 168px,#000090 185px,#00009b 189px,#0000ae 192px,#0000cb 194px,#00f 196px,#04f 197px,#00c5ff 198px,#7cff7b 199px,#9bff5c 200px,#53ffa4 201px,#64ff93 202px,#a4ff52 203px,#5dff9a 204px,#00e1fa 205px,#00d1ff 206px,#2fffc8 207px,#4effa9 208px,#00ceff 209px,#0065ff 210px,#0039ff 211px,#0037ff 212px,#005fff 213px,#00c7ff 214px,#8eff69 215px,#ffbf00 216px,#abff4b 217px,#00cfff 218px,#0048ff 219px,#0001ff 220px,#0000ba 223px,#0000a0 226px,#000090 231px,#000087 240px,#000082 264px,#000081 288px,#000080 312px,#000080)}
.b0{background:linear-gradient(#000080,#000082 24px,#00008e 48px,#0000a6 72px,#0000c1 85px,#0000db 88px,#00f 90px,#001aff 91px,#0058ff 92px,#00c8ff 93px,#84ff73 94px,#ffcf00 95px,#e7ff10 96px,#82ff74 97px,#6cff8a 98px,#40ffb7 99px,#00bdff 100px,#006aff 101px,#0049ff 102px,#004fff 103px,#0080ff 104px,#00e3f9 105px,#30ffc6 106px,#00ceff 107px,#0069ff 108px,#0036ff 109px,#0027ff 110px,#0037ff 111px,#006dff 112px,#00d8ff 113px,#47ffb0 114px,#23ffd3 115px,#00bfff 116px,#00b9ff 117px,#1dffda 118px,#63ff94 119px,#1fffd7 120px,#007cff 121px,#0020ff 122px,#0000fa 123px,#0000d9 124px,#0000c4 125px,#0000a5 128px,#000091 134px,#000087 144px,#000082 168px,#000085 192px,#00009e 216px,#0000ab 219px,#0000c1 221px,#0000d8 222px,#00f 223px,#005eff 225px,#0038ff 226px,#00f 227px,#0000d9 229px,#0000e1 231px,#0000c4 234px,#0000cd 237px,#0000c3 240px,#0000b9 245px,#0000a2 249px,#000091 264px,#000083 288px,#000080 312px,#000080)}
.b1{background:linear-gradient(#000080,#000082 24px,#00008e 48px,#0000a6 72px,#0000c1 85px,#0000db 88px,#00f 90px,#001bff 91px,#0059ff 92px,#00caff 93px,#82ff75 94px,#ffdc00 95px,#eaff0d 96px,#8bff6c 97px,#34ffc2 99px,#00c5ff 100px,#0074ff 101px,#0050ff 102px,#0057ff 103px,#008aff 104px,#00defd 105px,#17ffdf 106px,#00cdff 107px,#0073ff 108px,#003dff 109px,#002dff 110px,#003fff 111px,#0079ff 112px,#00daff 113px,#2bffcc 114px,#1bffdb 115px,#00c9ff 116px,#00c2ff 117px,#22ffd5 118px,#62ff95 119px,#1dffda 120px,#007bff 121px,#001fff 122px,#0000fa 123px,#0000d8 124px,#0000c4 125px,#0000a5 128px,#000091 134px,#000087 144px,#000082 168px,#000085 192px,#00009e 216px,#0000ab 219px,#0000c1 221px,#0000d8 222px,#00f 223px,#005eff 225px,#0038ff 226px,#00f 227px,#0000d9 229px,#0000e1 231px,#0000c4 234px,#0000cd 237px,#0000c3 240px,#0000b9 245px,#0000a2 249px,#000091 264px,#000083 288px,#000080 312px,#000080)}
.b2{background:linear-gradient(#000080,#000082 24px,#00008e 48px,#0000a6 72px,#0000c1 85px,#0000dc 88px,#00f 90px,#001eff 91px,#0060ff 92px,#00d5ff 93px,#77ff80 94px,#d2ff24 95px,#f1fc06 96px,#acff4b 97px,#3cffbb 98px,#01e7f6 99px,#00d7ff 100px,#0083ff 102px,#008bff 103px,#00b0ff 104px,#0af 105px,#0097ff 106px,#0af 107px,#009fff 108px,#006bff 109px,#0058ff 110px,#0075ff 111px,#0af 112px,#00a5ff 114px,#00ceff 115px,#07eef0 116px,#0cf4eb 117px,#3dffba 118px,#5dff9a 119px,#11fbe5 120px,#0074ff 121px,#001cff 122px,#0000f8 123px,#0000d7 124px,#0000c3 125px,#0000a4 128px,#000091 134px,#000087 144px,#000082 168px,#000085 192px,#00009e 216px,#0000ab 219px,#0000c1 221px,#0000d8 222px,#00f 223px,#005aff 225px,#0037ff 226px,#00f 227px,#0000d9 229px,#0000e1 231px,#0000c4 234px,#00c 237px,#0000c3 240px,#0000b9 245px,#0000a2 249px,#000091 264px,#000083 288px,#000080 312px,#000080)}
.b3{background:linear-gradient(#000080,#000082 24px,#00008d 48px,#0000a6 72px,#0000c1 85px,#00d 88px,#00f 90px,#0025ff 91px,#006fff 92px,#02e8f5 93px,#60ff97 94px,#8cff6a 95px,#c9ff2e 96px,#b5ff42 97px,#3cffbb 98px,#00caff 99px,#00b9ff 100px,#00dffc 101px,#09f1ee 102px,#00e4f8 103px,#0068ff 105px,#0052ff 106px,#006bff 107px,#00a6ff 108px,#00c2ff 109px,#00beff 111px,#005dff 113px,#005cff 114px,#008eff 115px,#09f1ee 116px,#4affad 117px,#6cff8b 118px,#5bff9b 119px,#01e7f5 120px,#0067ff 121px,#0015ff 122px,#0000f4 123px,#0000c1 125px,#00009f 129px,#00008f 135px,#000087 144px,#000082 168px,#000085 192px,#00009e 216px,#0000ab 219px,#0000c2 221px,#0000d9 222px,#00f 223px,#05f 225px,#0035ff 226px,#00f 227px,#0000da 229px,#0000e1 231px,#0000c4 234px,#00c 237px,#0000c3 240px,#0000b9 245px,#0000a2 249px,#000091 264px,#000083 288px,#000080 312px,#000080)}
.b4{background:linear-gradient(#000080,#000082 24px,#00008d 48px,#0000a6 72px,#0000bc 84px,#0000d1 87px,#0001ff 90px,#0031ff 91px,#0085ff 92px,#10fae6 93px,#44ffb3 94px,#61ff96 96px,#8eff69 97px,#6dff8a 98px,#0ff8e8 99px,#00c6ff 100px,#02e9f4 101px,#39ffbe 102px,#1effd9 103px,#00a0ff 104px,#005aff 105px,#0043ff 106px,#0054ff 107px,#0094ff 108px,#14fee3 109px,#2dffca 110px,#00b8ff 111px,#0061ff 112px,#003dff 113px,#0041ff 114px,#006fff 115px,#00d8ff 116px,#70ff87 117px,#9eff59 118px,#60ff96 119px,#00d1ff 120px,#0056ff 121px,#000cff 122px,#00e 123px,#0000c0 125px,#00009e 129px,#00008f 135px,#000087 144px,#000082 168px,#000085 192px,#00009e 216px,#0000b5 220px,#0000dc 222px,#00f 223px,#0030ff 224px,#004cff 225px,#0030ff 226px,#00f 227px,#0000db 229px,#0000e0 231px,#0000c5 234px,#00c 237px,#0000c3 240px,#0000b9 245px,#0000a2 249px,#000091 264px,#000083 288px,#000080 312px,#000080)}
.b5{background:linear-gradient(#000080,#000082 24px,#00008d 48px,#0000a6 72px,#0000bd 84px,#0000d2 87px,#0000f6 89px,#0009ff 90px,#0042ff 91px,#00a1ff 92px,#19ffde 93px,#23ffd4 94px,#02e8f5 95px,#00e1fa 96px,#3cffbb 97px,#8eff69 98px,#71ff86 99px,#38ffbf 100px,#1bffdb 101px,#00d6ff 102px,#00c1ff 104px,#008cff 105px,#0069ff 106px,#0079ff 107px,#00b2ff 108px,#00d4ff 109px,#00d5ff 110px,#00bcff 111px,#07f 112px,#004bff 113px,#0049ff 114px,#0075ff 115px,#00ddfe 116px,#6dff89 117px,#a7ff50 118px,#66ff91 119px,#00c1ff 120px,#0049ff 121px,#0005ff 122px,#0000be 125px,#0000a3 128px,#000090 134px,#000087 144px,#000082 168px,#000085 192px,#00009e 216px,#0000b6 220px,#0000c5 221px,#00f 223px,#0032ff 224px,#0041ff 225px,#0029ff 226px,#00f 227px,#00d 229px,#0000e0 231px,#0000c5 234px,#0000cb 237px,#0000c4 240px,#0000b9 245px,#0000a2 249px,#000091 264px,#000083 288px,#000080 312px,#000080)}
.b6{background:linear-gradient(#000080,#000082 24px,#00008d 48px,#0000a6 72px,#0000bd 84px,#0000d4 87px,#0000fd 89px,#0014ff 90px,#0058ff 91px,#00bfff 92px,#14fee3 93px,#00d1ff 94px,#0096ff 95px,#0093ff 96px,#00d7ff 97px,#6eff89 98px,#dbff1c 99px,#9bff5c 100px,#15ffe2 101px,#009cff 102px,#0081ff 103px,#009fff 104px,#00d0ff 105px,#00d3ff 106px,#00d0ff 107px,#00acff 108px,#0075ff 109px,#006aff 110px,#00abff 112px,#008aff 113px,#0079ff 114px,#00a3ff 115px,#14fee3 116px,#4effa9 117px,#7bff7c 118px,#5cff9b 119px,#00bfff 120px,#0047ff 121px,#0004ff 122px,#0000bd 125px,#0000a3 128px,#000090 134px,#000087 144px,#000082 168px,#000085 192px,#00009f 216px,#0000b8 220px,#0000c9 221px,#0008ff 223px,#03f 224px,#03f 225px,#00f 227px,#0000de 229px,#0000df 231px,#0000c6 234px,#0000c4 240px,#0000b9 245px,#0000a2 249px,#000091 264px,#000083 288px,#000080 312px,#000080)}
.b7{background:linear-gradient(#000080,#000082 24px,#00008d 48px,#0000a6 72px,#0000bd 84px,#0000d6 87px,#00f 89px,#0023ff 90px,#0073ff 91px,#00d5ff 92px,#00d7ff 93px,#008eff 94px,#06f 95px,#0073ff 96px,#00b8ff 97px,#43ffb3 98px,#acff4b 99px,#bbff3c 100px,#45ffb2 101px,#00b9ff 102px,#0082ff 103px,#008aff 104px,#00cfff 105px,#36ffc1 106px,#16ffe0 107px,#0093ff 108px,#0050ff 109px,#003bff 110px,#004cff 111px,#0086ff 112px,#00cdff 113px,#00e2f9 114px,#12fce4 115px,#29ffce 117px,#43ffb4 118px,#36ffc1 119px,#00c6ff 120px,#0053ff 121px,#000aff 122px,#0000ec 123px,#0000be 125px,#00009e 129px,#00008f 135px,#000087 144px,#000082 168px,#000085 192px,#00008f 207px,#00009f 216px,#00b 220px,#0000cf 221px,#0000f3 222px,#0015ff 223px,#0030ff 224px,#00f 227px,#0000df 229px,#0000de 231px,#0000c6 234px,#0000c4 240px,#0000bd 244px,#0000a2 249px,#000091 264px,#000083 288px,#000080 312px,#000080)}
.b8{background:linear-gradient(#000080,#000082 24px,#00008d 48px,#0000a5 72px,#0000be 84px,#0000d9 87px,#00f 89px,#0037ff 90px,#0091ff 91px,#00d0ff 92px,#0064ff 94px,#0059ff 95px,#007eff 96px,#00b9ff 97px,#00d4ff 98px,#1bffdb 99px,#7dff7a 100px,#9cff5b 101px,#37ffc0 102px,#00c8ff 103px,#0bf 104px,#00dffc 105px,#01e7f6 106px,#00defd 107px,#00adff 108px,#0064ff 109px,#003dff 110px,#003bff 111px,#005fff 112px,#00b6ff 113px,#40ffb6 114px,#60ff97 115px,#32ffc5 116px,#11fae6 118px,#03e9f4 119px,#00c5ff 120px,#0063ff 121px,#0014ff 122px,#0000f2 123px,#0000c0 125px,#00009e 129px,#00008f 135px,#000087 144px,#000082 168px,#000085 192px,#000090 207px,#0000a0 216px,#00a 218px,#0000c1 220px,#0000d9 221px,#00f 222px,#02f 223px,#0024ff 224px,#000eff 225px,#00f 227px,#0000e9 228px,#0000e1 229px,#0000e2 230px,#0000c7 234px,#0000c4 240px,#0000bd 244px,#0000a2 249px,#000091 264px,#000083 288px,#000080 312px,#000080)}
.b9{background:linear-gradient(#000080,#000082 24px,#00008d 48px,#0000a5 72px,#0000be 84px,#0000ce 86px,#0000f5 88px,#000dff 89px,#004eff 90px,#00a3ff 91px,#00b0ff 92px,#0076ff 93px,#005aff 94px,#008bff 96px,#006bff 98px,#008eff 99px,#0df6ea 100px,#90ff66 101px,#b9ff3e 102px,#67ff90 103px,#2effc9 104px,#00d5ff 105px,#0094ff 106px,#008cff 107px,#00abff 108px,#009dff 109px,#0068ff 110px,#05f 111px,#0070ff 112px,#00beff 113px,#25ffd1 114px,#4fffa7 115px,#5fff97 116px,#2affcc 117px,#00c7ff 118px,#00b6ff 119px,#00bfff 120px,#007bff 121px,#0024ff 122px,#0000fc 123px,#0000d8 124px,#0000c3 125px,#0000a4 128px,#000090 134px,#000087 144px,#000082 168px,#000085 192px,#000091 208px,#0000a1 216px,#0000b7 219px,#0000c9 220px,#0000e9 221px,#000aff 222px,#0028ff 223px,#00f 225px,#0000fe 227px,#0000e9 228px,#0000c9 234px,#0000c5 240px,#0000be 244px,#0000a2 249px,#000091 264px,#000083 288px,#000080 312px,#000080)}
.b10{background:linear-gradient(#000080,#000082 24px,#00008d 48px,#0000a5 72px,#0000bf 84px,#0000d0 86px,#0000fd 88px,#001bff 89px,#00a0ff 91px,#008dff 92px,#06f 93px,#07f 95px,#0056ff 96px,#0035ff 97px,#0032ff 98px,#004fff 99px,#0097ff 100px,#36ffc1 101px,#ddff1a 102px,#fd0 103px,#7fff77 104px,#00d8ff 105px,#007fff 106px,#0064ff 107px,#0079ff 108px,#00aeff 109px,#00b6ff 110px,#00a0ff 111px,#00d9ff 113px,#00d7ff 114px,#10f9e7 115px,#37ffbf 116px,#24ffd2 117px,#00c5ff 118px,#00a6ff 119px,#00baff 120px,#0097ff 121px,#003dff 122px,#00f 123px,#0000c8 125px,#0000ad 127px,#0000a0 129px,#00008f 135px,#000087 144px,#000082 168px,#000085 192px,#000091 208px,#0000a3 216px,#0000be 219px,#0000d6 220px,#00f 221px,#001fff 222px,#0021ff 223px,#00f 224px,#0000f9 227px,#0000ea 228px,#0000e4 230px,#0000d1 232px,#0000c5 240px,#0000be 244px,#0000a2 249px,#000091 264px,#000083 288px,#000080 312px,#000080)}
.b11{background:linear-gradient(#000080,#000082 24px,#00008d 48px,#0000a5 72px,#0000b1 80px,#0000c0 84px,#0000d3 86px,#00f 88px,#002bff 89px,#0070ff 90px,#0091ff 91px,#0079ff 92px,#006eff 93px,#0070ff 94px,#0020ff 96px,#0010ff 97px,#0016ff 98px,#03f 99px,#006fff 100px,#00e4f8 101px,#91ff66 102px,#ffdb00 103px,#e2ff15 104px,#40ffb6 105px,#00acff 106px,#0070ff 107px,#0069ff 108px,#0095ff 109px,#04eaf3 110px,#2fffc8 111px,#1bffdc 112px,#0cf 113px,#00bdff 114px,#00beff 115px,#00abff 116px,#00daff 118px,#00c3ff 119px,#00c6ff 120px,#00b2ff 121px,#0057ff 122px,#000bff 123px,#0000eb 124px,#0000bc 126px,#0000a1 129px,#00008f 135px,#000087 144px,#000082 168px,#000086 192px,#000091 208px,#0000a5 216px,#0000b7 218px,#0000c9 219px,#0000e9 220px,#000bff 221px,#0029ff 222px,#000dff 223px,#0000f8 224px,#0000ea 225px,#0000f5 227px,#0000d0 232px,#0000c5 240px,#0000bf 244px,#0000a2 249px,#000091 264px,#000083 288px,#000080 312px,#000080)}
.b12{background:linear-gradient(#000080,#000082 24px,#00008d 48px,#0000a5 72px,#00b 83px,#0000d6 86px,#0003ff 88px,#0073ff 90px,#0084ff 91px,#0070ff 93px,#0017ff 95px,#0001ff 96px,#00f 97px,#000dff 98px,#0031ff 99px,#0073ff 100px,#00caff 101px,#18ffdf 102px,#60ff97 103px,#dbff1b 104px,#d8ff1f 105px,#48ffaf 106px,#00c1ff 107px,#0097ff 108px,#00b2ff 109px,#1affdd 110px,#4cffab 111px,#2fffc8 112px,#00e5f7 113px,#00b7ff 114px,#007aff 115px,#005bff 116px,#0070ff 117px,#00b4ff 118px,#06edf1 119px,#09f1ed 120px,#00d2ff 121px,#006fff 122px,#0019ff 123px,#0000f4 124px,#0000d3 125px,#0000bf 126px,#0000a2 129px,#000091 134px,#000087 144px,#000082 168px,#000086 192px,#000093 209px,#0000a8 216px,#0000bf 218px,#0000d9 219px,#00f 220px,#0025ff 221px,#0020ff 222px,#00f 223px,#0000e6 224px,#0000de 225px,#0000f0 227px,#0000e4 230px,#0000cf 232px,#0000c5 240px,#0000bf 244px,#0000a2 249px,#000091 264px,#000083 288px,#000080 312px,#000080)}
.b13{background:linear-gradient(#000080,#000082 24px,#00008d 48px,#0000a5 72px,#00b 83px,#0000cb 85px,#0000f5 87px,#0010ff 88px,#0073ff 90px,#0083ff 91px,#07f 92px,#0014ff 94px,#00f 95px,#00f 96px,#00f 97px,#0019ff 98px,#0086ff 100px,#007eff 102px,#00acff 103px,#37ffc0 104px,#d5ff21 105px,#ffe700 106px,#89ff6e 107px,#36ffc0 108px,#0ef6e9 110px,#09f1ed 111px,#32ffc4 112px,#25ffd2 113px,#00a6ff 114px,#0058ff 115px,#003bff 116px,#0045ff 117px,#007dff 118px,#00e5f8 119px,#3bffbc 120px,#15ffe1 121px,#0084ff 122px,#0024ff 123px,#0000fb 124px,#0000d8 125px,#0000c3 126px,#0000a4 129px,#000092 134px,#000087 144px,#000082 168px,#000086 192px,#000093 209px,#0000ad 216px,#0000ce 218px,#0000f4 219px,#0019ff 220px,#002cff 221px,#0004ff 222px,#0000d7 224px,#0000d5 225px,#0000ed 227px,#00e 229px,#0000ce 232px,#0000c5 240px,#0000bf 244px,#0000a2 249px,#000091 264px,#000083 288px,#000080 312px,#000080)}
.b14{background:linear-gradient(#000080,#000082 24px,#00008d 48px,#0000a5 72px,#0000bc 83px,#0000ce 85px,#0000e0 86px,#00f 87px,#001eff 88px,#0079ff 90px,#0080ff 91px,#0017ff 93px,#00f 94px,#00f 96px,#01f 97px,#006cff 99px,#0035ff 101px,#0032ff 102px,#0050ff 103px,#0098ff 104px,#35ffc2 105px,#f3fa04 106px,#ff6b00 107px,#ffe000 108px,#6aff8d 109px,#12fbe5 110px,#00e6f7 111px,#00e2fa 113px,#00bcff 114px,#006fff 115px,#0041ff 116px,#003cff 117px,#0062ff 118px,#00c0ff 119px,#48ffaf 120px,#3cffbb 121px,#009fff 122px,#0032ff 123px,#00f 124px,#0000c6 126px,#0000a5 129px,#000092 134px,#000087 144px,#000082 168px,#000086 192px,#000096 210px,#0000a3 214px,#0000b5 216px,#0000c7 217px,#0000e8 218px,#000dff 219px,#0031ff 220px,#0000f3 222px,#0000d7 223px,#00c 224px,#0000cd 225px,#0000ea 227px,#0000f1 229px,#0000d3 231px,#0000cd 232px,#0000d3 234px,#0000c6 237px,#0000c6 240px,#0000bf 244px,#0000a2 249px,#000091 264px,#000083 288px,#000080 312px,#000080)}
.b15{background:linear-gradient(#000080,#000082 24px,#00008d 48px,#0000a5 72px,#0000bd 83px,#0000d2 85px,#00f 87px,#005dff 89px,#007dff 90px,#005bff 91px,#001fff 92px,#00f 93px,#00f 95px,#0012ff 96px,#0042ff 97px,#005dff 98px,#0014ff 100px,#0007ff 101px,#000eff 102px,#0028ff 103px,#005eff 104px,#00c5ff 105px,#74ff83 106px,#ffbf00 107px,#ff4e00 108px,#ffd100 109px,#7dff79 110px,#0bf3ec 111px,#00a0ff 112px,#0090ff 113px,#00afff 114px,#00acff 115px,#0073ff 116px,#0054ff 117px,#0067ff 118px,#00b3ff 119px,#2dffc9 120px,#3cffbb 121px,#00c2ff 122px,#004cff 123px,#0004ff 124px,#00b 127px,#0000a1 130px,#000091 135px,#008 144px,#000082 168px,#000086 192px,#000097 210px,#0000a8 214px,#0000c3 216px,#0004ff 218px,#0031ff 219px,#0000fc 221px,#0000d9 222px,#0000c4 224px,#0000c8 225px,#0000f6 228px,#0000f5 229px,#0000d1 231px,#0000cd 232px,#0000d6 234px,#0000c6 237px,#0000c6 240px,#0000c0 244px,#0000a2 249px,#000091 264px,#000083 288px,#000080 312px,#000080)}
.b16{background:linear-gradient(#000080,#000082 24px,#00008d 48px,#0000a5 72px,#0000b9 82px,#0000c8 84px,#0000f2 86px,#000dff 87px,#0068ff 89px,#0063ff 90px,#002dff 91px,#0004ff 92px,#00f 94px,#0018ff 95px,#0046ff 96px,#004eff 97px,#00f 99px,#0004ff 102px,#0026ff 103px,#0065ff 104px,#00bfff 105px,#16ffe1 106px,#58ff9e 107px,#f2fb04 108px,#ff5200 109px,#ffca00 110px,#57ffa0 111px,#00bcff 112px,#007dff 113px,#007aff 114px,#00a4ff 115px,#00bdff 116px,#09f 117px,#0091ff 118px,#00c4ff 119px,#0ef7e8 120px,#10f9e7 121px,#00d7ff 122px,#0073ff 123px,#001cff 124px,#0000f6 125px,#0000d5 126px,#0000c1 127px,#0000a3 130px,#000092 135px,#008 144px,#000083 168px,#000086 192px,#00009c 211px,#0000b1 214px,#0000c1 215px,#00d 216px,#00f 217px,#0031ff 218px,#0027ff 219px,#00f 220px,#0000dc 221px,#0000c0 223px,#0000c5 225px,#0000fe 228px,#0000f8 229px,#0000d0 231px,#00c 232px,#0000d9 234px,#0000c9 236px,#0000c6 240px,#0000c0 244px,#0000a2 249px,#000091 264px,#000083 288px,#000080 312px,#000080)}
.b17{background:linear-gradient(#000080,#000082 24px,#00008d 48px,#0000a5 72px,#0000ba 82px,#00c 84px,#0000df 85px,#00f 86px,#0020ff 87px,#004fff 88px,#005dff 89px,#01f 91px,#00f 92px,#0002ff 93px,#0049ff 95px,#003eff 96px,#0010ff 97px,#00f 98px,#0000f3 99px,#00f 101px,#0012ff 102px,#0048ff 103px,#008cff 104px,#0af 106px,#00dffc 107px,#38ffbf 108px,#aaff4d 109px,#ffa300 110px,#ffdc00 111px,#57ffa0 112px,#00bcff 113px,#007cff 114px,#0078ff 115px,#00a8ff 116px,#00e5f7 117px,#0cf5ea 119px,#00defd 120px,#00c2ff 121px,#0cf 122px,#009bff 123px,#003dff 124px,#00f 125px,#0000c8 127px,#0000a5 130px,#000093 135px,#008 144px,#000083 168px,#000086 192px,#000090 205px,#0000a0 211px,#0000c0 214px,#00f 216px,#0032ff 217px,#002dff 218px,#00f 219px,#0000c8 221px,#00b 223px,#0000c5 225px,#0000f3 227px,#00f 228px,#0000f9 229px,#00d 230px,#0000ce 231px,#00c 232px,#0000dc 234px,#0000c9 236px,#0000c6 240px,#0000c0 244px,#0000a3 249px,#000091 264px,#000083 288px,#000080 312px,#000080)}
.b18{background:linear-gradient(#000080,#000082 24px,#00008d 48px,#0000a5 72px,#0000bc 82px,#0000d2 84px,#0001ff 86px,#0034ff 87px,#0050ff 88px,#0041ff 89px,#0008ff 91px,#000aff 92px,#0048ff 94px,#002fff 95px,#0002ff 96px,#0000eb 98px,#0000ec 99px,#0000fb 100px,#0009ff 101px,#007aff 103px,#0083ff 104px,#0083ff 106px,#07f 107px,#0086ff 108px,#00d6ff 109px,#7fff78 110px,#ffb500 111px,#ffd000 112px,#63ff94 113px,#00c8ff 114px,#0089ff 115px,#008cff 116px,#00ceff 117px,#44ffb3 118px,#4affad 119px,#00ddfd 120px,#00a7ff 121px,#00b6ff 122px,#00b4ff 123px,#01f 125px,#0000ef 126px,#0000bd 128px,#0000a2 131px,#000091 136px,#008 144px,#000083 168px,#000086 192px,#000090 204px,#0000a0 210px,#0000c0 213px,#00f 215px,#0036ff 216px,#0030ff 217px,#00f 218px,#0000c7 220px,#0000b7 222px,#0000c6 225px,#0000db 226px,#0000fc 227px,#00f 228px,#0000f5 229px,#0000d9 230px,#0000cd 231px,#00c 232px,#0000de 234px,#0000c9 236px,#0000cd 239px,#0000c6 240px,#0000c0 244px,#0000a3 249px,#000091 264px,#000083 288px,#000080 312px,#000080)}
.b19{background:linear-gradient(#000080,#000082 24px,#00008d 48px,#0000a5 72px,#0000b8 81px,#0000c8 83px,#0000d9 84px,#0000f6 85px,#0015ff 86px,#0040ff 87px,#0040ff 88px,#0017ff 90px,#0015ff 91px,#0045ff 93px,#00f 95px,#0000ef 96px,#0000e8 98px,#0005ff 100px,#0075ff 102px,#007bff 103px,#0070ff 104px,#0057ff 105px,#0031ff 106px,#0023ff 107px,#0032ff 108px,#0061ff 109px,#00c4ff 110px,#7cff7b 111px,#ffac00 112px,#ffbf00 113px,#73ff84 114px,#00e2fa 115px,#00b3ff 116px,#00d2ff 117px,#25ffd2 118px,#35ffc2 119px,#12fce4 120px,#00b9ff 121px,#00b1ff 122px,#00c5ff 123px,#0089ff 124px,#002eff 125px,#00f 126px,#0000db 127px,#0000c5 128px,#0000a4 131px,#000092 136px,#000089 144px,#000083 168px,#000086 192px,#00008f 203px,#0000a0 209px,#0000b2 211px,#0000c5 212px,#0000e7 213px,#000eff 214px,#0040ff 215px,#0028ff 216px,#00f 217px,#0000d8 218px,#0000c3 219px,#0000b4 221px,#0000bc 224px,#0000ca 225px,#00f 227px,#00f 228px,#0000d5 230px,#0000cb 231px,#0000e0 234px,#0000c9 236px,#0000ce 239px,#0000c7 240px,#0000c0 244px,#0000a3 249px,#000091 264px,#000083 288px,#000080 312px,#000080)}
.b20{background:linear-gradient(#000080,#000082 24px,#00008d 48px,#0000a5 72px,#0000ba 81px,#0000cd 83px,#00f 85px,#0026ff 86px,#003eff 87px,#0024ff 89px,#0020ff 90px,#0043ff 92px,#00f 94px,#0000e3 96px,#0000e6 97px,#0005ff 99px,#07f 101px,#007fff 102px,#0067ff 103px,#000cff 105px,#00f 106px,#0004ff 108px,#02f 109px,#005cff 110px,#00c9ff 111px,#89ff6e 112px,#ff9500 113px,#ffa600 114px,#93ff64 115px,#34ffc2 116px,#1affdd 117px,#00d7ff 118px,#00baff 119px,#00d7ff 120px,#04eaf3 121px,#00d4ff 122px,#00dbff 123px,#00b5ff 124px,#0052ff 125px,#0008ff 126px,#0000bc 129px,#0000a8 131px,#000093 136px,#000089 144px,#000083 168px,#000087 192px,#000091 203px,#0000a2 208px,#0000b8 210px,#0000d0 211px,#0000fb 212px,#0045ff 214px,#0015ff 215px,#0000ef 216px,#0000ce 217px,#0000bd 218px,#0000b1 220px,#0000b1 222px,#0000bf 224px,#0000d1 225px,#0000f0 226px,#00f 227px,#00f 228px,#0000d2 230px,#0000ca 231px,#0000e1 234px,#0000c9 236px,#0000cf 238px,#0000c7 240px,#0000c5 243px,#0000a3 249px,#000091 264px,#000083 288px,#000080 312px,#000080)}
.b21{background:linear-gradient(#000080,#000082 24px,#00008d 48px,#0000a5 72px,#0000bc 81px,#0000d3 83px,#0000ec 84px,#0006ff 85px,#0030ff 86px,#002bff 89px,#0043ff 91px,#00f 93px,#0000e3 95px,#0000e6 96px,#0008ff 98px,#0080ff 100px,#0085ff 101px,#0056ff 102px,#001aff 103px,#00f 104px,#0000e8 106px,#00f 109px,#02f 110px,#0063ff 111px,#00daff 112px,#a4ff53 113px,#ff6500 114px,#ff6a00 115px,#d3ff24 116px,#43ffb4 117px,#00baff 118px,#0085ff 119px,#0090ff 120px,#00d1ff 121px,#1cffdb 122px,#1effd8 123px,#01e6f6 124px,#007bff 125px,#0021ff 126px,#0000fa 127px,#0000d8 128px,#0000c3 129px,#0000a4 132px,#000092 137px,#000089 144px,#000083 168px,#000087 192px,#00008f 201px,#00009e 206px,#0000b0 208px,#0000c2 209px,#000bff 211px,#04f 212px,#0037ff 213px,#00f 214px,#0000c4 216px,#0000ad 219px,#0000b1 222px,#0000c5 224px,#00f 226px,#00f 227px,#0000fa 228px,#0000cf 230px,#0000ca 231px,#0000e2 234px,#0000ca 236px,#0000d1 238px,#0000c7 240px,#0000c5 243px,#0000a3 249px,#000091 264px,#000083 288px,#000080 312px,#000080)}
.b22{background:linear-gradient(#000080,#000082 24px,#00008d 48px,#0000a5 72px,#0000b0 78px,#0000be 81px,#0000da 83px,#0000f9 84px,#0031ff 86px,#002dff 88px,#0041ff 89px,#0047ff 90px,#00f 92px,#0000e5 94px,#0000e8 95px,#0000f9 96px,#000eff 97px,#008dff 99px,#0082ff 100px,#0003ff 102px,#0000f0 103px,#0000de 104px,#0000d6 106px,#0000e4 108px,#0001ff 110px,#002cff 111px,#07f 112px,#17ffe0 113px,#dfff18 114px,#fc1100 115px,#ff5300 116px,#9cff5b 117px,#01e7f5 118px,#008fff 119px,#007aff 120px,#00a0ff 121px,#14fee3 122px,#4fffa8 123px,#32ffc4 124px,#00a6ff 125px,#003aff 126px,#00f 127px,#0000ca 129px,#0000a7 132px,#000093 137px,#00008a 144px,#000083 168px,#000087 192px,#000091 201px,#0000a1 205px,#0000b8 207px,#0000d2 208px,#00f 209px,#0030ff 210px,#004eff 211px,#001bff 212px,#0000f1 213px,#0000ce 214px,#0000b2 216px,#00a 219px,#0000b3 222px,#0000d0 224px,#0000ef 225px,#00f 226px,#0000fe 227px,#0000cd 230px,#0000ca 231px,#0000e3 234px,#0000cb 236px,#0000d3 238px,#0000c8 240px,#0000c6 243px,#0000a3 249px,#000091 264px,#000083 288px,#000080 312px,#000080)}
.b23{background:linear-gradient(#000080,#000082 24px,#00008d 48px,#0000a5 72px,#0000b9 80px,#0000cd 82px,#00f 84px,#0020ff 85px,#002cff 86px,#002bff 87px,#004eff 89px,#00f 91px,#0000e8 93px,#0000ec 94px,#00f 95px,#0018ff 96px,#0098ff 98px,#0070ff 99px,#0023ff 100px,#00f 101px,#0000e3 102px,#0000d3 103px,#0000c9 105px,#0000d8 108px,#0000fe 110px,#01f 111px,#004cff 112px,#00b2ff 113px,#57ff9f 114px,#f9f300 115px,#ff4100 116px,#ff9b00 117px,#76ff81 118px,#00d5ff 119px,#0091ff 120px,#0093ff 121px,#00daff 122px,#5cff9b 123px,#69ff8e 124px,#00d5ff 125px,#0054ff 126px,#000bff 127px,#0000ed 128px,#0000bf 130px,#00a 132px,#000094 137px,#00008a 144px,#000083 168px,#008 192px,#000092 200px,#0000a5 204px,#0000c4 206px,#0000e8 207px,#0013ff 208px,#0050ff 209px,#003eff 210px,#00f 211px,#0000c3 213px,#00a 216px,#0000a9 219px,#0000b9 222px,#0000c8 223px,#00f 225px,#00f 226px,#0000ec 227px,#00c 230px,#0000ca 231px,#0000e3 233px,#0000e3 234px,#0000cd 236px,#0000d4 238px,#0000c8 240px,#0000c7 243px,#0000a3 249px,#000091 264px,#000083 288px,#000080 312px,#000080)}
.b24{background:linear-gradient(#000080,#000082 24px,#00008d 48px,#0000a5 72px,#00b 80px,#0000d3 82px,#0004ff 84px,#0025ff 85px,#0039ff 87px,#004fff 88px,#0034ff 89px,#0004ff 90px,#0000ed 92px,#00f 94px,#0029ff 95px,#0075ff 96px,#0097ff 97px,#000cff 99px,#0000f1 100px,#0000cb 102px,#0000c1 105px,#0000d2 108px,#0000f9 110px,#0010ff 111px,#0092ff 113px,#00bdff 114px,#22ffd5 115px,#bdff39 116px,#ff6700 117px,#ffa800 118px,#76ff81 119px,#00e2f9 120px,#00b3ff 121px,#00d7ff 122px,#49ffae 123px,#74ff83 124px,#1bffdc 125px,#0079ff 126px,#0020ff 127px,#0000fc 128px,#0000da 129px,#0000c5 130px,#0000a5 133px,#000095 137px,#00008a 144px,#000083 168px,#008 192px,#000090 198px,#0000a0 202px,#0000b8 204px,#0000d2 205px,#00f 206px,#0036ff 207px,#005aff 208px,#0025ff 209px,#0000f7 210px,#0000d0 211px,#00b 212px,#00a 214px,#0000a6 216px,#0000b5 221px,#0000c3 222px,#0000fe 224px,#00f 225px,#0000dc 227px,#00c 230px,#00c 231px,#0000e6 233px,#0000ce 236px,#0000d5 238px,#0000c9 240px,#0000cd 242px,#0000a3 249px,#000091 264px,#000083 288px,#000080 312px,#000080)}
.b25{background:linear-gradient(#000080,#000082 24px,#00008d 48px,#0000a6 72px,#0000bd 80px,#0000d9 82px,#0000f8 83px,#0047ff 87px,#003cff 88px,#0012ff 89px,#00f 90px,#0000f5 91px,#0000fc 92px,#0009ff 93px,#0041ff 94px,#008aff 95px,#0082ff 96px,#03f 97px,#00f 98px,#0000d0 100px,#0000bf 102px,#00b 104px,#0000c7 107px,#0000d3 108px,#00f 110px,#002cff 111px,#004cff 112px,#0042ff 113px,#0046ff 114px,#0074ff 115px,#00e1fb 116px,#a3ff53 117px,#ff7200 118px,#ff9600 119px,#90ff67 120px,#25ffd1 121px,#1bffdc 122px,#43ffb4 123px,#4bffac 124px,#2bffcc 125px,#00adff 126px,#0042ff 127px,#0001ff 128px,#0000cd 130px,#0000a8 133px,#000096 137px,#00008b 144px,#000083 168px,#000089 192px,#000093 198px,#0000a3 201px,#0000c2 203px,#0000e5 204px,#01f 205px,#0056ff 206px,#0052ff 207px,#000eff 208px,#0000e6 209px,#0000c7 210px,#0000b6 211px,#0000a8 213px,#0000a4 216px,#0000b3 220px,#0000d8 222px,#0000fa 223px,#00f 224px,#0000d6 226px,#0000d0 227px,#0000d0 231px,#0000ea 233px,#0000d0 236px,#0000d7 238px,#0000ca 240px,#0000cf 242px,#0000a3 249px,#000091 264px,#000083 288px,#000080 312px,#000080)}
.b26{background:linear-gradient(#000080,#000082 24px,#00008d 48px,#0000a6 72px,#0000b0 77px,#0000c0 80px,#0000cd 81px,#00f 83px,#0031ff 85px,#0040ff 86px,#003bff 87px,#0002ff 89px,#00f 91px,#001fff 92px,#0060ff 93px,#0090ff 94px,#005fff 95px,#0015ff 96px,#0000f5 97px,#0000d9 98px,#0000c9 99px,#0000b7 103px,#00b 105px,#0000cd 107px,#00f 109px,#0021ff 110px,#0026ff 111px,#000aff 112px,#00f 113px,#0005ff 114px,#0020ff 115px,#0059ff 116px,#00c6ff 117px,#88ff6f 118px,#ff7f00 119px,#ff6300 120px,#d7ff20 121px,#7dff7a 122px,#59ff9e 123px,#26ffd1 124px,#16ffe1 125px,#00dcfe 126px,#0074ff 127px,#001fff 128px,#0000fb 129px,#0000d9 130px,#0000c4 131px,#0000ac 133px,#000098 137px,#00008b 144px,#000083 168px,#00008a 192px,#000095 197px,#0000a8 200px,#0000d0 202px,#00f 203px,#006aff 205px,#003dff 206px,#00f 207px,#0000d8 208px,#0000b2 210px,#0000a6 212px,#0000a4 216px,#0000ab 218px,#0000bf 220px,#0000d6 221px,#0000f9 222px,#00f 223px,#0000d4 225px,#0000c8 226px,#0000d0 230px,#0000ec 233px,#0000d5 235px,#0000d7 238px,#0000cb 240px,#0000d1 242px,#0000b0 246px,#0000a3 249px,#000091 264px,#000083 288px,#000080 312px,#000080)}
.b27{background:linear-gradient(#000080,#000082 24px,#00008d 48px,#0000a6 72px,#00b 79px,#0000d3 81px,#0004ff 83px,#0026ff 84px,#003dff 85px,#003bff 86px,#02f 87px,#0007ff 89px,#0012ff 90px,#003cff 91px,#0078ff 92px,#007dff 93px,#00f 95px,#0000e6 96px,#0000d0 97px,#0000bc 99px,#0000b5 103px,#00c 106px,#00f 108px,#001bff 109px,#0000f8 111px,#0000e6 112px,#0000e4 113px,#00f 115px,#0013ff 116px,#004cff 117px,#00b2ff 118px,#6fff88 119px,#f80 120px,#f30900 121px,#f90 122px,#a4ff53 123px,#2cffcb 124px,#07eef0 125px,#09f1ed 126px,#00acff 127px,#0047ff 128px,#0004ff 129px,#0000bd 132px,#0000a9 134px,#000096 138px,#00008c 144px,#000083 168px,#00008c 192px,#0000a3 198px,#0000c1 200px,#0000e3 201px,#000fff 202px,#005cff 203px,#006bff 204px,#0024ff 205px,#0000f3 206px,#0000cd 207px,#0000ae 209px,#0000a2 212px,#0000a6 216px,#0000bf 219px,#0000d6 220px,#0000fb 221px,#00f 222px,#0000f0 223px,#0000d3 224px,#0000c0 226px,#0000d4 230px,#00e 232px,#0000d5 235px,#0000d8 238px,#00c 240px,#0000d3 242px,#0000b0 246px,#0000a3 249px,#000091 264px,#000083 288px,#000080 312px,#000080)}
.b28{background:linear-gradient(#000080,#000082 24px,#00008d 48px,#0000a6 72px,#0000bd 79px,#0000da 81px,#0000fa 82px,#0013ff 83px,#0034ff 84px,#003fff 85px,#0018ff 87px,#001cff 88px,#002fff 89px,#007bff 91px,#0062ff 92px,#0020ff 93px,#0000fc 94px,#0000dc 95px,#0000ca 96px,#0000b5 99px,#0000b8 103px,#0000ce 105px,#0003ff 107px,#01f 108px,#00f 109px,#0000e1 110px,#0000d1 111px,#0000ce 113px,#0000e5 115px,#0000fd 116px,#01f 117px,#004cff 118px,#00b4ff 119px,#75ff82 120px,#ff6900 121px,#960000 122px,#ff9000 123px,#7eff79 124px,#22ffd5 125px,#18ffdf 126px,#00e0fb 127px,#0076ff 128px,#0021ff 129px,#0000fd 130px,#0000db 131px,#0000c6 132px,#0000ad 134px,#000098 138px,#00008c 144px,#000084 168px,#00008e 192px,#0000a7 197px,#0000cf 199px,#0000fd 200px,#0035ff 201px,#007bff 202px,#005bff 203px,#000dff 204px,#0000e4 205px,#0000c5 206px,#0000b5 207px,#0000a6 209px,#0000a1 213px,#00a 216px,#0000c0 218px,#0000d9 219px,#00f 220px,#00f 221px,#00e 222px,#0000d1 223px,#00b 225px,#0000c1 227px,#0000f4 232px,#0000d5 235px,#0000dc 237px,#0000ce 240px,#0000d6 242px,#0000b0 246px,#0000a3 249px,#000091 264px,#000083 288px,#000080 312px,#000080)}
.b29{background:linear-gradient(#000080,#000082 24px,#00008d 48px,#0000a6 72px,#0000af 76px,#0000c1 79px,#0000ce 80px,#00f 82px,#003dff 84px,#001fff 86px,#0027ff 87px,#006cff 89px,#0072ff 90px,#004dff 91px,#000fff 92px,#0000f1 93px,#0000d6 94px,#0000bd 96px,#0000b2 99px,#0000b8 102px,#0000c2 103px,#0000d3 104px,#0000f4 105px,#0009ff 106px,#0002ff 107px,#0000d1 109px,#0000c4 110px,#0000bf 112px,#0000d5 115px,#00f 117px,#02f 118px,#006eff 119px,#09f1ee 120px,#9cff5a 121px,#ffa300 122px,#ff1900 123px,#ffa600 124px,#8bff6b 125px,#44ffb3 126px,#2affcd 127px,#00b4ff 128px,#0048ff 129px,#0006ff 130px,#0000bf 133px,#00a 135px,#000097 139px,#00008d 144px,#000084 168px,#000087 184px,#000092 192px,#0000ad 196px,#0000c0 197px,#000bff 199px,#005eff 200px,#0089ff 201px,#00f 203px,#0000bf 205px,#0000a9 207px,#0000a1 212px,#0000b5 216px,#0000c5 217px,#00f 219px,#00f 220px,#0000ca 222px,#0000b7 224px,#0000bf 227px,#0000f7 231px,#0000f4 232px,#0000d7 234px,#0000de 237px,#0000d0 240px,#0000da 242px,#0000af 246px,#0000a6 248px,#000091 264px,#000083 288px,#000080 312px,#000080)}
.b30{background:linear-gradient(#000080,#000082 24px,#00008d 48px,#0000a7 72px,#00b 78px,#0000d4 80px,#0000ef 81px,#0009ff 82px,#0030ff 83px,#003dff 84px,#002cff 85px,#002eff 86px,#006fff 88px,#006cff 89px,#0043ff 90px,#0007ff 91px,#0000d3 93px,#0000b7 96px,#0000b3 99px,#00b 101px,#00d 103px,#00f 104px,#000aff 105px,#00f 106px,#0000da 107px,#00b 109px,#0000b7 112px,#0000ce 115px,#0000fd 117px,#001bff 118px,#06f 119px,#00bfff 120px,#08efef 121px,#45ffb2 122px,#e1ff16 123px,#ff4800 124px,#ff9200 125px,#b4ff42 126px,#6cff8a 127px,#17ffe0 128px,#007eff 129px,#0026ff 130px,#00f 131px,#0000c9 133px,#0000af 135px,#000098 139px,#00008e 144px,#000084 168px,#000089 185px,#000098 192px,#0000b4 195px,#0000cb 196px,#0000f5 197px,#002bff 198px,#0084ff 199px,#08f 200px,#0031ff 201px,#0000fb 202px,#0000d2 203px,#00b 204px,#0000a3 207px,#0000a7 213px,#0000ba 215px,#0000d1 216px,#0000f6 217px,#0003ff 218px,#0000fc 219px,#0000d7 220px,#0000c2 221px,#0000b2 223px,#0000b2 225px,#0000c0 227px,#0000f6 230px,#00f 231px,#0000da 233px,#0000d4 234px,#0000df 237px,#0000d3 240px,#00d 242px,#0000b8 245px,#0000a6 248px,#000091 264px,#000083 288px,#000080 312px,#000080)}
.b31{background:linear-gradient(#000080,#000082 24px,#00008d 48px,#0000a7 72px,#0000be 78px,#0000db 80px,#0000fc 81px,#003aff 83px,#0037ff 85px,#0064ff 87px,#006aff 88px,#0043ff 89px,#0007ff 90px,#0000c5 93px,#0000b4 96px,#0000bf 100px,#0000ce 101px,#0001ff 103px,#00f 104px,#00c 106px,#0000bc 107px,#0000b0 109px,#0000b3 112px,#0000cd 115px,#00f 117px,#0030ff 118px,#0070ff 119px,#007aff 120px,#006fff 121px,#0095ff 122px,#1cffda 123px,#d1ff25 124px,#ff4500 125px,#ff7600 126px,#deff18 127px,#67ff90 128px,#00bfff 129px,#004cff 130px,#000aff 131px,#0000ef 132px,#0000c1 134px,#0000ab 136px,#00008e 144px,#000084 168px,#00008a 185px,#0000a1 192px,#0000bc 194px,#00f 196px,#00a2ff 198px,#007dff 199px,#0020ff 200px,#0000f0 201px,#00c 202px,#0000ad 204px,#0000a0 209px,#0000b3 213px,#0000c5 214px,#00f 216px,#00f 217px,#0000c9 219px,#0000ba 220px,#0000ae 222px,#0000b7 226px,#0000c2 227px,#0000f1 229px,#00f 230px,#0000fe 231px,#0000d4 233px,#0000e0 237px,#0000d6 240px,#0000e1 242px,#0000b7 245px,#0000a6 248px,#000091 264px,#000083 288px,#000080 312px,#000080)}
.b32{background:linear-gradient(#000080,#000082 24px,#00008d 48px,#0000a7 72px,#0000c1 78px,#0000ce 79px,#00f 81px,#0028ff 82px,#0040ff 83px,#0060ff 87px,#0045ff 88px,#000cff 89px,#0000ef 90px,#0000c6 92px,#0000b4 96px,#0000c5 99px,#0000d9 100px,#0000fd 101px,#0000fd 103px,#0000d8 104px,#0000c1 105px,#0000af 107px,#0000ab 109px,#0000b8 113px,#0000d3 115px,#0000f2 116px,#0013ff 117px,#0049ff 118px,#004aff 119px,#002bff 120px,#0026ff 121px,#0043ff 122px,#008bff 123px,#2dffca 124px,#faf100 125px,#ff1900 126px,#ff5b00 127px,#d1ff26 128px,#1fffd8 129px,#07f 130px,#0023ff 131px,#00f 132px,#0000c9 134px,#0000af 136px,#00009c 139px,#00008f 144px,#000084 168px,#00008e 186px,#00009d 190px,#0000b1 192px,#0000c6 193px,#0000eb 194px,#001bff 195px,#007cff 196px,#00b5ff 197px,#0069ff 198px,#000fff 199px,#0000e6 200px,#0000c7 201px,#0000ab 203px,#0000a1 208px,#0000a7 210px,#0000bc 212px,#0000d5 213px,#0000fd 214px,#0000f8 216px,#0000d3 217px,#0000be 218px,#0000ab 221px,#0000ae 224px,#0000ba 226px,#0000c7 227px,#00f 229px,#00f 230px,#0000d0 233px,#0000e2 236px,#0000db 240px,#0000e5 242px,#0000b6 245px,#0000a6 248px,#000091 264px,#000083 288px,#000080 312px,#000080)}
.b33{background:linear-gradient(#000080,#000082 24px,#00008d 48px,#0000a8 72px,#00b 77px,#0000d4 79px,#0000f0 80px,#000cff 81px,#0037ff 82px,#0049ff 83px,#05f 85px,#0054ff 86px,#003eff 87px,#0012ff 88px,#0000f7 89px,#0000d9 90px,#0000bf 92px,#0000b9 96px,#0000cd 98px,#00f 100px,#00f 101px,#0000cb 103px,#0000ba 104px,#0000a8 108px,#0000ad 111px,#0000bc 113px,#0000cb 114px,#0006ff 116px,#03f 117px,#002bff 118px,#0007ff 119px,#00f 120px,#00f 121px,#0013ff 122px,#0045ff 123px,#00a3ff 124px,#5bff9b 125px,#ff9600 126px,#b10000 127px,#ff7b00 128px,#6fff88 129px,#00acff 130px,#0040ff 131px,#0004ff 132px,#0000d2 134px,#0000b4 136px,#00009e 139px,#000090 144px,#000085 168px,#000091 186px,#00a 190px,#0000d3 192px,#00f 193px,#003fff 194px,#00a8ff 195px,#00b9ff 196px,#0056ff 197px,#0002ff 198px,#0000c3 200px,#0000a5 203px,#0000a0 206px,#00a 209px,#0000c8 211px,#0000eb 212px,#0002ff 213px,#00f 214px,#0000c4 216px,#0000b5 217px,#00a 219px,#0000af 224px,#0000bf 226px,#0000d2 227px,#0000f3 228px,#0003ff 229px,#00f 230px,#0000d2 232px,#00c 233px,#0000e5 236px,#0000db 238px,#0000e0 240px,#0000ea 241px,#0000e8 242px,#0000b5 245px,#0000a9 247px,#000091 264px,#000083 288px,#000080 312px,#000080)}
.b34{background:linear-gradient(#000080,#000082 24px,#00008d 48px,#0000a8 72px,#0000bd 77px,#0000dc 79px,#0000fe 80px,#0045ff 82px,#0057ff 83px,#0058ff 84px,#0050ff 85px,#0036ff 86px,#000eff 87px,#00f 88px,#0000e2 89px,#0000c2 91px,#0000b9 94px,#0000c5 96px,#0000d8 97px,#0000f9 98px,#0004ff 99px,#0000fe 100px,#0000d8 101px,#0000b4 103px,#0000a7 106px,#0000ab 110px,#0000b9 112px,#0000c8 113px,#0003ff 115px,#0026ff 116px,#0000fb 118px,#0000e7 119px,#0000e4 120px,#00f 122px,#001cff 123px,#0060ff 124px,#00defd 125px,#b6ff41 126px,#ff1900 127px,#d90000 128px,#dfff18 129px,#0ff9e7 130px,#006aff 131px,#001cff 132px,#0000fc 133px,#0000c7 135px,#0000ae 137px,#000090 144px,#000085 168px,#00008a 180px,#000097 186px,#0000af 189px,#0000c2 190px,#000aff 192px,#06f 193px,#00cfff 194px,#00b7ff 195px,#0048ff 196px,#00f 197px,#0000c1 199px,#0000a4 202px,#0000a1 205px,#0000ae 208px,#0000bd 209px,#0000d7 210px,#00f 211px,#0000f5 213px,#0000d0 214px,#0000b0 216px,#0000a6 220px,#0000b2 224px,#0000ca 226px,#00f 228px,#0000f3 230px,#0000d9 231px,#00c 232px,#0000cb 233px,#0000e9 236px,#00d 238px,#0000e6 240px,#0000f1 241px,#0000ea 242px,#0000c0 244px,#0000a9 247px,#000091 264px,#000083 288px,#000080 312px,#000080)}
.b35{background:linear-gradient(#000080,#000082 24px,#00008d 48px,#0000a8 72px,#0000c1 77px,#0000ce 78px,#00f 80px,#0032ff 81px,#0053ff 82px,#005cff 83px,#0052ff 84px,#0035ff 85px,#0009ff 86px,#0000fc 87px,#0000c8 90px,#0000bc 92px,#0000c1 94px,#0000cd 95px,#0000e6 96px,#00f 97px,#00f 98px,#0000ba 101px,#0000a6 105px,#00a 109px,#0000b8 111px,#0000c9 112px,#0007ff 114px,#001aff 115px,#00f 116px,#0000d2 118px,#0000d1 120px,#0005ff 123px,#003dff 124px,#00a1ff 125px,#5aff9d 126px,#ffc100 127px,#ff1b00 128px,#ff8e00 129px,#6aff8d 130px,#00a6ff 131px,#003cff 132px,#0001ff 133px,#0000cf 135px,#0000b2 137px,#00009d 140px,#000091 144px,#000085 168px,#00008a 179px,#009 185px,#0000b5 188px,#0000ca 189px,#0000f0 190px,#0020ff 191px,#008aff 192px,#07efef 193px,#00b9ff 194px,#0043ff 195px,#00f 196px,#0000da 197px,#0000c1 198px,#0000a5 201px,#00a 206px,#0000c7 208px,#0000ea 209px,#0002ff 210px,#00f 211px,#0000c4 213px,#0000b4 214px,#0000a8 216px,#0000a6 220px,#0000b0 223px,#0000c6 225px,#00f 227px,#0000fa 229px,#0000d1 231px,#0000c9 232px,#0000cb 233px,#0000ed 236px,#0000df 238px,#00e 240px,#0000f7 241px,#0000eb 242px,#0000bf 244px,#0000a9 247px,#000091 264px,#000083 288px,#000080 312px,#000080)}
.b36{background:linear-gradient(#000080,#000082 24px,#00008d 48px,#0000a9 72px,#0000c4 77px,#0000d5 78px,#0000f2 79px,#0012ff 80px,#0045ff 81px,#005bff 82px,#0057ff 83px,#003cff 84px,#000cff 85px,#0000f8 86px,#0000c6 90px,#0000c1 91px,#0000c9 93px,#0000db 94px,#0000fb 95px,#0003ff 96px,#0000fb 97px,#0000d7 98px,#0000c1 99px,#0000ad 101px,#0000a7 103px,#0000a5 106px,#0000b0 109px,#0000cf 111px,#0000f3 112px,#000eff 113px,#000bff 114px,#0000f2 115px,#0000d3 116px,#0000c4 117px,#0000c7 120px,#0000d3 121px,#00f 123px,#002dff 124px,#08f 125px,#2affcd 126px,#a6ff51 127px,#ffc100 128px,#ff6800 129px,#d2ff24 130px,#0ff8e8 131px,#0067ff 132px,#0018ff 133px,#0000f8 134px,#0000d8 135px,#0000b6 137px,#00009e 140px,#000091 144px,#000086 168px,#00008c 179px,#00009a 184px,#0000b9 187px,#0000d1 188px,#0000fa 189px,#0030ff 190px,#00a4ff 191px,#1dffda 192px,#00c6ff 193px,#004aff 194px,#00f 195px,#0000c3 197px,#0000a6 200px,#0000a4 203px,#0000ae 205px,#0000bc 206px,#0000d6 207px,#00f 208px,#0008ff 209px,#0000f9 210px,#0000d1 211px,#00b 212px,#0000a8 214px,#0000a4 216px,#0000a7 220px,#0000b6 223px,#0000c4 224px,#00f 226px,#0000f6 228px,#00c 231px,#0000c8 232px,#0000cd 233px,#0000ed 235px,#0000f0 236px,#0000e1 238px,#0000f6 240px,#0000fc 241px,#0000bd 244px,#0000ad 246px,#000091 264px,#000083 288px,#000080 312px,#000080)}
.b37{background:linear-gradient(#000080,#000082 24px,#00008d 48px,#0000a9 72px,#0000b5 75px,#0000c9 77px,#00d 78px,#00f 79px,#0052ff 81px,#0059ff 82px,#0046ff 83px,#0016ff 84px,#0000fb 85px,#0000e5 86px,#0000c9 90px,#0000d5 92px,#00f 94px,#00f 95px,#0000e5 96px,#0000c9 97px,#0000b9 98px,#0000a6 102px,#0000a7 106px,#0000b2 108px,#0000d7 110px,#00f 111px,#000fff 112px,#00f 113px,#0000c6 115px,#0000ba 116px,#0000b6 118px,#0000c1 120px,#0000e2 122px,#00f 123px,#002bff 124px,#0086ff 125px,#0ef7e9 126px,#46ffb1 127px,#9dff5a 128px,#ffb200 129px,#ffc900 130px,#59ff9e 131px,#09f 132px,#0032ff 133px,#00f 134px,#0000ca 136px,#0000ae 138px,#000092 144px,#000086 168px,#00008c 178px,#00009b 183px,#00b 186px,#0000d3 187px,#0000fe 188px,#0035ff 189px,#00adff 190px,#30ffc7 191px,#00e5f7 192px,#005fff 193px,#0008ff 194px,#0000c9 196px,#0000a8 199px,#0000a6 202px,#0000b4 204px,#0000c7 205px,#0003ff 207px,#00f 208px,#0000c5 210px,#0000b3 211px,#0000a6 213px,#0000a2 216px,#0000a9 220px,#0000b5 222px,#0000c3 223px,#00f 225px,#00f 226px,#00d 228px,#0000c9 232px,#0000d1 233px,#0000f6 235px,#0000e3 237px,#0000e4 238px,#00f 240px,#00f 241px,#0000bc 244px,#0000ac 246px,#000091 264px,#000083 288px,#000080 312px,#000080)}
.b38{background:linear-gradient(#000080,#000082 24px,#00008d 48px,#00a 72px,#0000c0 76px,#0000ce 77px,#0002ff 79px,#0039ff 80px,#0057ff 81px,#004dff 82px,#00f 84px,#0000db 86px,#0000d5 89px,#0000d6 90px,#0000e4 91px,#00f 92px,#0002ff 93px,#0000f6 94px,#0000d4 95px,#0000c0 96px,#00a 99px,#0000a8 105px,#0000b5 107px,#0000c5 108px,#00f 110px,#0009ff 111px,#0000f4 112px,#0000d0 113px,#0000bd 114px,#0000b3 115px,#0000b1 118px,#0000bf 120px,#0000cd 121px,#00f 123px,#003cff 124px,#0097ff 125px,#00cdff 126px,#00d8ff 127px,#39ffbe 128px,#d4ff22 129px,#ffb500 130px,#98ff5f 131px,#00caff 132px,#004bff 133px,#0006ff 134px,#0000cf 136px,#0000b0 138px,#000092 144px,#000087 168px,#00008d 177px,#00009c 182px,#0000bc 185px,#0000d4 186px,#00f 187px,#0035ff 188px,#00afff 189px,#3fffb8 190px,#1effd9 191px,#007aff 192px,#0018ff 193px,#0000f0 194px,#0000cf 195px,#0000bc 196px,#0000ab 198px,#0000a7 200px,#0000bc 203px,#0000d5 204px,#00f 205px,#000aff 206px,#0000fd 207px,#0000d4 208px,#0000ae 210px,#0000a4 212px,#0000a2 216px,#0000b6 221px,#0000c4 222px,#00f 224px,#00f 225px,#0000d6 227px,#0000ce 228px,#0000ca 231px,#0000d8 233px,#0000fc 235px,#0000e2 237px,#00f 240px,#00f 241px,#0000ca 243px,#0000ac 246px,#000091 264px,#000083 288px,#000080 312px,#000080)}
.b39{background:linear-gradient(#000080,#000082 24px,#00008d 48px,#00a 72px,#0000c3 76px,#0000d4 77px,#0000f2 78px,#0014ff 79px,#0047ff 80px,#0051ff 81px,#0006ff 83px,#0000f1 84px,#00d 85px,#0000d6 86px,#0000e6 89px,#0001ff 91px,#00f 92px,#0000ca 94px,#0000b2 96px,#0000a5 101px,#0000af 105px,#00c 107px,#0000f0 108px,#0006ff 109px,#00f 110px,#0000c5 112px,#0000ae 114px,#0000ab 117px,#0000c0 120px,#0000d2 121px,#0000f0 122px,#0013ff 123px,#005eff 124px,#0093ff 125px,#0082ff 126px,#0083ff 127px,#00ceff 128px,#78ff7e 129px,#ffd600 130px,#cfff27 131px,#17ffe0 132px,#0069ff 133px,#0015ff 134px,#0000f4 135px,#0000d4 136px,#0000b2 138px,#0000a1 140px,#000092 144px,#000087 168px,#00008d 176px,#00009c 181px,#0000bc 184px,#0000d4 185px,#0000fc 186px,#0030ff 187px,#00a6ff 188px,#46ffb1 189px,#41ffb6 190px,#009fff 191px,#002dff 192px,#0000fe 193px,#0000d8 194px,#0000c2 195px,#0000ae 197px,#00a 199px,#0000b5 201px,#0000c6 202px,#0002ff 204px,#0006ff 205px,#0000eb 206px,#0000c8 207px,#00a 209px,#0000a0 212px,#0000a3 216px,#0000b9 220px,#00f 223px,#00f 224px,#0000cd 226px,#0000c4 227px,#0000d1 232px,#0000fc 234px,#0000fc 235px,#0000e9 236px,#0000e2 237px,#00f 239px,#0002ff 240px,#00f 241px,#0000c8 243px,#0000b9 244px,#0000ac 246px,#000091 264px,#000083 288px,#000080 312px,#000080)}
.b40{background:linear-gradient(#000080,#000082 24px,#00008d 48px,#0000ab 72px,#0000c7 76px,#0000db 77px,#00f 78px,#004cff 80px,#003eff 81px,#0013ff 82px,#00f 83px,#0000e5 84px,#0000d8 85px,#0000d7 86px,#00f 89px,#0007ff 90px,#00f 91px,#0000dc 92px,#0000c5 93px,#0000ac 96px,#0000a6 101px,#0000b2 104px,#0000d8 106px,#00f 107px,#0007ff 108px,#0000f8 109px,#0000d2 110px,#00b 111px,#00a 113px,#00a 117px,#0000c6 120px,#00f 122px,#006dff 124px,#003bff 126px,#0048ff 127px,#008bff 128px,#2fffc8 129px,#daff1d 130px,#f0fe07 131px,#43ffb3 132px,#08f 133px,#0025ff 134px,#0000fd 135px,#0000d9 136px,#0000b4 138px,#0000a2 140px,#000092 144px,#008 153px,#008 168px,#00008f 176px,#00009c 180px,#0000ba 183px,#0000d0 184px,#0000f5 185px,#0023ff 186px,#008fff 187px,#3cffbb 188px,#68ff8f 189px,#00d7ff 190px,#004eff 191px,#0002ff 192px,#0000ca 194px,#0000ae 197px,#0000bc 200px,#0000d2 201px,#0000f9 202px,#000dff 203px,#00f 204px,#0000bf 206px,#0000a8 208px,#00009f 212px,#0000a6 216px,#0000bf 219px,#0000d6 220px,#0000fb 221px,#0001ff 222px,#0000f6 223px,#0000d6 224px,#0000c4 225px,#0000bc 227px,#0000d0 231px,#00f 234px,#0000e5 236px,#0000e3 237px,#00f 239px,#000aff 240px,#00f 241px,#0000c5 243px,#0000ab 246px,#000091 264px,#000083 288px,#000080 312px,#000080)}
.b41{background:linear-gradient(#000080,#000082 24px,#00008d 48px,#0000ab 72px,#0000b5 74px,#0000cb 76px,#00f 78px,#0031ff 79px,#0045ff 80px,#00f 82px,#0000d8 85px,#00d 86px,#00f 88px,#000bff 89px,#00f 90px,#0000db 91px,#0000c5 92px,#0000b1 94px,#00a 96px,#0000af 102px,#0000c9 104px,#00f 106px,#00f 107px,#0000c5 109px,#0000b4 110px,#0000a6 112px,#0000ab 117px,#0000be 119px,#0000d2 120px,#0000f7 121px,#0021ff 122px,#0052ff 123px,#003dff 124px,#0017ff 125px,#000dff 126px,#0024ff 127px,#0062ff 128px,#00e3f8 129px,#a6ff51 130px,#f4f903 131px,#62ff95 132px,#009fff 133px,#0031ff 134px,#00f 135px,#00d 136px,#0000b5 138px,#0000a2 140px,#000092 144px,#008 153px,#008 168px,#000091 176px,#0000a1 180px,#0000b6 182px,#0000ca 183px,#0000e9 184px,#000eff 185px,#0068ff 186px,#18ffdf 187px,#83ff73 188px,#3affbd 189px,#08f 190px,#02f 191px,#0000f9 192px,#0000d7 193px,#0000c4 194px,#0000b4 196px,#0000b8 198px,#0000c5 199px,#00f 201px,#0010ff 202px,#0000fb 203px,#0000d1 204px,#0000b9 205px,#0000a6 207px,#0000a0 212px,#0000ad 216px,#0000c9 218px,#00f 220px,#00f 221px,#0000c9 223px,#0000bc 224px,#0000b6 226px,#0000d7 231px,#00f 233px,#00f 234px,#0000e2 236px,#0000e7 237px,#0000fd 238px,#000fff 240px,#0000fb 241px,#0000d8 242px,#0000c3 243px,#0000ab 246px,#000091 264px,#000083 288px,#000080 312px,#000080)}
.b42{background:linear-gradient(#000080,#000082 24px,#00008d 48px,#0000ac 72px,#0000bf 75px,#0000cf 76px,#0000eb 77px,#0009ff 78px,#0037ff 79px,#0035ff 80px,#000aff 81px,#0000f8 82px,#00d 84px,#0000dc 85px,#00f 87px,#000eff 88px,#00f 89px,#0000c7 91px,#0000ba 92px,#0000a9 96px,#0000b3 101px,#0000d5 103px,#0000fc 104px,#0005ff 105px,#0000f9 106px,#0000d2 107px,#00b 108px,#0000a7 110px,#0000a2 112px,#0000ae 117px,#0000ca 119px,#0000eb 120px,#0010ff 121px,#003eff 122px,#002bff 123px,#0001ff 124px,#00f 126px,#01f 127px,#004eff 128px,#00c8ff 129px,#89ff6e 130px,#e8ff0f 131px,#66ff91 132px,#00a3ff 133px,#0032ff 134px,#00f 135px,#0000dc 136px,#0000b4 138px,#0000a2 140px,#000092 144px,#008 153px,#000089 168px,#000093 176px,#0000a7 180px,#0000c1 182px,#00f 184px,#0038ff 185px,#00b4ff 186px,#68ff8e 187px,#8dff6a 188px,#09f0ee 189px,#005eff 190px,#000dff 191px,#0000ed 192px,#0000d2 193px,#0000c3 194px,#00b 196px,#0000d1 198px,#0000f4 199px,#000eff 200px,#000bff 201px,#0000ec 202px,#0000c8 203px,#0000b5 204px,#0000a1 207px,#0000a5 213px,#0000c0 216px,#00f 218px,#0001ff 219px,#0000f0 220px,#0000d0 221px,#0000bf 222px,#0000b1 225px,#0000bf 228px,#0000e4 231px,#0000fa 232px,#00f 233px,#0000e2 236px,#00f 238px,#0018ff 239px,#0010ff 240px,#0000f5 241px,#0000d4 242px,#0000c1 243px,#0000af 245px,#0000a1 250px,#000091 264px,#000083 288px,#000080 312px,#000080)}
.b43{background:linear-gradient(#000080,#000082 24px,#00008d 48px,#0000ac 72px,#0000c1 75px,#0000d3 76px,#0000f3 77px,#0013ff 78px,#0036ff 79px,#00f 81px,#0000ed 82px,#0000df 84px,#0000e7 85px,#00f 86px,#0009ff 87px,#00f 88px,#0000cb 90px,#0000bd 91px,#00a 96px,#0000b8 100px,#0000c8 101px,#00f 103px,#00f 104px,#0000c5 106px,#00a 108px,#0000a0 111px,#0000a6 115px,#0000b5 117px,#0000c6 118px,#0008ff 120px,#002fff 121px,#0000fe 123px,#0000e8 124px,#0000e7 125px,#000aff 127px,#004cff 128px,#00caff 129px,#8aff6d 130px,#d4ff23 131px,#4affad 132px,#008dff 133px,#0026ff 134px,#0000fb 135px,#0000d6 136px,#0000b1 138px,#0000a0 140px,#000091 144px,#008 154px,#000089 168px,#000092 175px,#0000a3 179px,#0000b9 181px,#00c 182px,#0000ec 183px,#01f 184px,#0069ff 185px,#1bffdc 186px,#a4ff53 187px,#77ff80 188px,#00bfff 189px,#0042ff 190px,#00f 191px,#0000e7 192px,#0000d1 193px,#0000c4 195px,#00c 196px,#00f 198px,#001aff 199px,#0001ff 200px,#0000c2 202px,#0000b2 203px,#0000a4 205px,#00009f 208px,#0000ad 213px,#0000cd 215px,#0000f1 216px,#0002ff 217px,#00f 218px,#0000c4 220px,#0000b1 222px,#0000ae 224px,#0000b8 227px,#0000f8 231px,#00f 232px,#00f 233px,#0000e4 235px,#0000e5 236px,#0000f6 237px,#000aff 238px,#0024ff 239px,#000cff 240px,#00e 241px,#0000d0 242px,#0000bf 243px,#0000af 245px,#000091 264px,#000083 288px,#000080 312px,#000080)}
.b44{background:linear-gradient(#000080,#000082 24px,#00008d 48px,#0000ac 72px,#0000c3 75px,#0000d7 76px,#0000fb 77px,#002cff 79px,#000aff 80px,#0000f6 81px,#0000e6 82px,#0000e3 83px,#00f 86px,#00f 87px,#0000c2 90px,#0000b7 91px,#0000ac 96px,#0000bf 99px,#0000d5 100px,#0000f9 101px,#0004ff 102px,#0000fa 103px,#0000d3 104px,#0000af 106px,#00009f 110px,#0000a5 114px,#0000b4 116px,#0000c6 117px,#0000e7 118px,#0009ff 119px,#0023ff 120px,#0003ff 121px,#0000d7 123px,#0000d4 124px,#00d 125px,#0000f3 126px,#000eff 127px,#0059ff 128px,#00e5f7 129px,#9cff5b 130px,#b0ff47 131px,#18ffdf 132px,#0067ff 133px,#0010ff 134px,#0000ed 135px,#0000cd 136px,#0000ad 138px,#000090 144px,#000089 168px,#000093 175px,#0000a7 179px,#0000c1 181px,#0000d9 182px,#00f 183px,#0030ff 184px,#00a2ff 185px,#60ff97 186px,#c3ff34 187px,#53ffa3 188px,#09f 189px,#002fff 190px,#00f 191px,#0000e6 192px,#0000d5 193px,#0000d1 194px,#0000d9 195px,#0000f3 196px,#0020ff 198px,#00f 199px,#0000bf 201px,#0000b0 202px,#0000a3 204px,#0000a0 208px,#0000b2 212px,#0000c1 213px,#00f 215px,#0001ff 216px,#00b 219px,#0000ac 223px,#00b 227px,#0000c8 228px,#0000f9 230px,#00f 231px,#00f 232px,#0000e5 234px,#0000e3 235px,#0000ea 236px,#00f 237px,#001cff 238px,#002bff 239px,#0005ff 240px,#00c 242px,#0000ae 245px,#000091 264px,#000083 288px,#000080 312px,#000080)}
.b45{background:linear-gradient(#000080,#000082 24px,#00008d 48px,#0000ad 72px,#0000c6 75px,#0000dc 76px,#00f 77px,#001eff 78px,#001dff 79px,#00f 80px,#0000e3 82px,#00f 85px,#00f 86px,#0000cb 89px,#0000b5 91px,#0000b2 96px,#0000c8 98px,#00f 100px,#00f 101px,#0000c6 103px,#0000ab 105px,#0000a0 108px,#0000a1 112px,#0000b6 115px,#0000ca 116px,#00e 117px,#000eff 118px,#0016ff 119px,#0000fd 120px,#0000da 121px,#0000ca 122px,#0000c6 123px,#0000db 125px,#0000f7 126px,#0019ff 127px,#0072ff 128px,#24ffd3 129px,#aaff4d 130px,#74ff83 131px,#00baff 132px,#003cff 133px,#00f 134px,#0000c3 136px,#0000b3 137px,#00009b 140px,#00008f 144px,#00008a 168px,#000092 174px,#0000a3 178px,#0000c9 181px,#0003ff 183px,#004eff 184px,#00d7ff 185px,#98ff5f 186px,#cbff2c 187px,#38ffbe 188px,#0083ff 189px,#0026ff 190px,#00f 191px,#0000eb 192px,#0000e2 193px,#0000ea 194px,#00f 195px,#0023ff 196px,#0026ff 197px,#00f 198px,#0000d8 199px,#0000b1 201px,#0000a0 205px,#0000ac 210px,#00c 212px,#0000f0 213px,#0003ff 214px,#00f 215px,#0000dc 216px,#0000c3 217px,#0000b6 218px,#0000ab 223px,#0000c1 227px,#0000d4 228px,#0000f4 229px,#0004ff 230px,#0002ff 231px,#0000e2 233px,#0000e6 235px,#0000f4 236px,#0006ff 237px,#002fff 238px,#002bff 239px,#00f 240px,#0000c9 242px,#0000ae 245px,#000091 264px,#000083 288px,#000080 312px,#000080)}
.b46{background:linear-gradient(#000080,#000082 24px,#00008c 48px,#0000ad 72px,#0000c8 75px,#00f 77px,#001cff 78px,#0000fb 80px,#0000e6 81px,#0000e3 82px,#00f 84px,#00f 85px,#0000c6 89px,#0000b4 91px,#0000b2 94px,#0000c2 96px,#0000d7 97px,#0000fb 98px,#0003ff 99px,#0000f7 100px,#0000d2 101px,#00b 102px,#0000a8 104px,#0000a1 106px,#0000a0 110px,#0000ad 113px,#0000d1 115px,#0000fb 116px,#0013ff 117px,#0005ff 118px,#00c 120px,#0000bf 121px,#0000bf 123px,#00d 125px,#00f 126px,#002bff 127px,#0098ff 128px,#4dffa9 129px,#9cff5b 130px,#2affcd 131px,#0076ff 132px,#0017ff 133px,#0000ef 134px,#0000ce 135px,#0000ac 137px,#000098 140px,#00008e 144px,#00008a 168px,#000093 174px,#0000a5 178px,#00b 180px,#0000ed 182px,#000eff 183px,#0061ff 184px,#0ff8e8 185px,#b7ff3f 186px,#d1ff26 187px,#32ffc5 188px,#0080ff 189px,#0029ff 190px,#00f 191px,#0000fa 192px,#000bff 194px,#0036ff 195px,#0031ff 196px,#00f 197px,#0000c2 199px,#0000b3 200px,#0000a6 202px,#0000a1 205px,#0000b1 209px,#0000c0 210px,#00f 212px,#0003ff 213px,#0000f0 214px,#0000ce 215px,#00b 216px,#0000a9 219px,#0000af 224px,#0000be 226px,#0003ff 229px,#000bff 230px,#0000fc 231px,#0000e3 232px,#0000db 233px,#0000e1 234px,#00f 236px,#003dff 238px,#00f 240px,#0000dc 241px,#0000c6 242px,#0000ae 245px,#000091 264px,#000083 288px,#000080 312px,#000080)}
.b47{background:linear-gradient(#000080,#000082 24px,#00008c 48px,#0000ad 72px,#0000cb 75px,#00f 77px,#0014ff 78px,#00f 79px,#0000e2 81px,#00f 84px,#0000f7 85px,#0000e0 86px,#0000b6 91px,#0000be 94px,#0000ce 95px,#0000eb 96px,#00f 97px,#00f 98px,#0000c3 100px,#0000b4 101px,#0000a3 104px,#00009f 108px,#0000b0 112px,#0000bf 113px,#00f 115px,#01f 116px,#00f 117px,#0000d7 118px,#0000c1 119px,#0000b7 120px,#0000bd 123px,#0000cb 124px,#00f 126px,#0047ff 127px,#00cbff 128px,#70ff87 129px,#68ff8f 130px,#00bdff 131px,#003dff 132px,#00f 133px,#0000c1 135px,#0000a6 137px,#00008d 144px,#00008a 168px,#000093 174px,#0000a6 178px,#0000bc 180px,#00e 182px,#000fff 183px,#0061ff 184px,#0ef7e8 185px,#bcff3a 186px,#e6ff11 187px,#47ffaf 188px,#0093ff 189px,#0039ff 190px,#0010ff 191px,#0008ff 192px,#001eff 193px,#0048ff 194px,#04f 195px,#0009ff 196px,#0000e6 197px,#0000c8 198px,#0000ae 200px,#0000a3 204px,#0000a7 206px,#0000b7 208px,#0000cb 209px,#0000ef 210px,#0004ff 211px,#00f 212px,#0000c3 214px,#0000ad 216px,#0000a7 220px,#0000b3 224px,#0000cb 226px,#00f 228px,#000cff 229px,#00f 230px,#0000da 232px,#0000da 233px,#0000f9 235px,#000aff 236px,#0035ff 237px,#0042ff 238px,#0019ff 239px,#0000f7 240px,#0000d6 241px,#0000c3 242px,#0000ad 245px,#000091 264px,#000083 288px,#000080 312px,#000080)}
.b48{background:linear-gradient(#000080,#000082 24px,#00008c 48px,#00009f 66px,#0000ae 72px,#0000bd 74px,#0002ff 77px,#0009ff 78px,#00f 79px,#0000ea 80px,#0000e2 81px,#00f 83px,#00f 84px,#0000d5 86px,#0000ba 91px,#0000c7 93px,#00d 94px,#00f 95px,#00f 96px,#0000f0 97px,#0000ce 98px,#0000ba 99px,#0000a5 102px,#0000a0 107px,#00a 110px,#0000c6 112px,#0000e9 113px,#0006ff 114px,#0007ff 115px,#0000b9 118px,#0000ae 120px,#0000c1 123px,#0000d3 124px,#0000f4 125px,#001cff 126px,#007fff 127px,#2dffca 128px,#71ff85 129px,#09f1ee 130px,#005eff 131px,#0008ff 132px,#0000c7 134px,#0000a8 136px,#000096 139px,#00008b 144px,#00008a 168px,#000094 174px,#0000a6 178px,#00b 180px,#0008ff 183px,#0052ff 184px,#00dbff 185px,#a6ff51 186px,#ffe600 187px,#7bff7c 188px,#00c0ff 189px,#005bff 190px,#0034ff 191px,#003bff 192px,#0061ff 193px,#005eff 194px,#001dff 195px,#0000f5 196px,#0000d2 197px,#0000b3 199px,#0000a6 203px,#0000b2 206px,#0000c0 207px,#00f 209px,#0006ff 210px,#0000f4 211px,#0000cf 212px,#00b 213px,#0000a8 216px,#0000a8 220px,#0000b3 223px,#0000cb 225px,#00f 227px,#00f 229px,#0000dc 231px,#0000d6 232px,#0000dc 233px,#00f 235px,#0049ff 237px,#003fff 238px,#000bff 239px,#0000ec 240px,#0000d0 241px,#0000c1 242px,#0000ad 245px,#000091 264px,#000083 288px,#000080 312px,#000080)}
.b49{background:linear-gradient(#000080,#000082 24px,#00008c 48px,#00009f 66px,#0000ae 72px,#0000bf 74px,#0000d2 75px,#0000f1 76px,#00f 77px,#00f 78px,#0000e6 80px,#0000e3 81px,#00f 83px,#0000ce 86px,#0000c2 90px,#0000d2 92px,#00f 94px,#00f 95px,#0000de 96px,#0000c4 97px,#0000ad 99px,#0000a1 106px,#0000ad 109px,#0000d0 111px,#0000f9 112px,#000bff 113px,#00f 114px,#0000c0 116px,#0000ac 118px,#0000ac 120px,#0000c9 123px,#0003ff 125px,#0053ff 126px,#00dcfe 127px,#5dff9a 128px,#1effd9 129px,#0073ff 130px,#0013ff 131px,#0000eb 132px,#0000ca 133px,#0000b6 134px,#0000a0 136px,#00008a 144px,#00008a 168px,#000093 174px,#0000a5 178px,#0000c9 181px,#00f 183px,#003cff 184px,#00b1ff 185px,#78ff7f 186px,#ffd500 187px,#c5ff31 188px,#1dffd9 189px,#0093ff 190px,#0070ff 191px,#0084ff 192px,#0082ff 193px,#00f 195px,#0000c9 197px,#0000ad 200px,#0000af 204px,#0000cb 206px,#0000ed 207px,#0005ff 208px,#00f 209px,#0000c5 211px,#0000b5 212px,#0000a5 216px,#0000b4 222px,#0000d0 224px,#0000f0 225px,#0001ff 226px,#00f 227px,#0000e6 229px,#0000d8 232px,#0000e4 233px,#00f 234px,#0016ff 235px,#0041ff 236px,#0053ff 237px,#0032ff 238px,#00f 239px,#0000e2 240px,#0000be 242px,#0000ac 245px,#000092 264px,#000083 288px,#000080 312px,#000080)}
.b50{background:linear-gradient(#000080,#000082 24px,#00008c 48px,#00009f 66px,#0000ae 72px,#0000c1 74px,#0000f5 76px,#00f 77px,#00f 78px,#0000e3 80px,#0000fb 83px,#0000d1 85px,#0000ca 86px,#0000ce 90px,#0000db 91px,#0000f8 92px,#00f 93px,#0000f8 94px,#0000d5 95px,#0000bf 96px,#0000a4 100px,#0000a4 106px,#0000b1 108px,#0000c1 109px,#00f 111px,#0008ff 112px,#0000f2 113px,#00c 114px,#0000b8 115px,#0000ad 116px,#0000ad 120px,#0000c3 122px,#0000da 123px,#00f 124px,#0037ff 125px,#00b0ff 126px,#41ffb6 127px,#22ffd5 128px,#007dff 129px,#0018ff 130px,#0000ed 131px,#0000ca 132px,#0000b6 133px,#0000a0 135px,#000092 138px,#000089 144px,#00008a 168px,#000096 175px,#0000ab 179px,#0000c5 181px,#0000dc 182px,#00f 183px,#0027ff 184px,#0087ff 185px,#40ffb6 186px,#feee00 187px,#ffd500 188px,#70ff86 189px,#00e5f7 190px,#00c3ff 191px,#00b9ff 192px,#001cff 194px,#0000f8 195px,#0000d8 196px,#0000c6 197px,#0000b3 199px,#0000ae 201px,#0000c1 204px,#0000d8 205px,#00f 206px,#000cff 207px,#00f 208px,#0000d7 209px,#0000b2 211px,#0000a5 216px,#0000b7 221px,#0000dc 223px,#00f 224px,#0000fa 226px,#0000e0 227px,#0000d6 228px,#0000de 232px,#0000f1 233px,#0008ff 234px,#0037ff 235px,#0054ff 236px,#0050ff 237px,#0020ff 238px,#0000fc 239px,#0000da 240px,#00b 242px,#0000ab 245px,#000092 264px,#000083 288px,#000080 312px,#000080)}
.b51{background:linear-gradient(#000080,#000082 24px,#00008c 48px,#00009f 66px,#0000af 72px,#0000c3 74px,#0000f7 76px,#00f 77px,#0000e2 80px,#0000f6 82px,#0000f0 83px,#00c 85px,#0000c8 86px,#0000d7 89px,#0000e1 90px,#0000fc 91px,#00f 92px,#0000f3 93px,#0000d2 94px,#0000bd 95px,#0000b2 96px,#0000a3 100px,#0000a7 105px,#0000b7 107px,#00c 108px,#0000f1 109px,#0007ff 110px,#00f 111px,#0000c0 113px,#0000b1 114px,#0000a5 117px,#0000b2 120px,#0000d2 122px,#0000f6 123px,#0024ff 124px,#008fff 125px,#25ffd2 126px,#1bffdc 127px,#007dff 128px,#0018ff 129px,#0000ec 130px,#0000c9 131px,#0000b5 132px,#00009f 134px,#00008f 138px,#008 144px,#00008a 168px,#0000a3 178px,#0000c1 181px,#0000f5 183px,#0014ff 184px,#0063ff 185px,#0cf4eb 186px,#c9ff2d 187px,#ff9800 188px,#d7ff20 189px,#57ffa0 190px,#25ffd2 191px,#00c0ff 192px,#05f 193px,#000dff 194px,#0000f1 195px,#0000c6 197px,#0000b4 200px,#0000bc 202px,#0000cb 203px,#0003ff 205px,#000bff 206px,#0000f2 207px,#0000ce 208px,#0000ba 209px,#0000af 210px,#0000a6 216px,#0000bc 220px,#00f 223px,#00f 224px,#0000d1 226px,#0000ca 227px,#0000df 231px,#00f 233px,#0051ff 235px,#005aff 236px,#0043ff 237px,#000dff 238px,#0000ef 239px,#0000d2 240px,#0000b9 242px,#0000ab 245px,#000092 264px,#000083 288px,#000080 312px,#000080)}
.b52{background:linear-gradient(#000080,#000082 24px,#00008c 48px,#00009f 66px,#0000af 72px,#0000c5 74px,#0000f6 76px,#0000fd 77px,#0000e1 80px,#0000f3 82px,#0000d3 84px,#0000c8 86px,#0000e8 89px,#0000fe 90px,#00f 91px,#0000f3 92px,#0000d2 93px,#0000be 94px,#0000ac 96px,#0000a3 100px,#00a 104px,#0000bf 106px,#00f 108px,#0007ff 109px,#0000f3 110px,#0000cd 111px,#0000ac 113px,#0000a4 117px,#0000b9 120px,#0000cb 121px,#0000ec 122px,#0014ff 123px,#0074ff 124px,#0bf3ec 125px,#0ef7e9 126px,#0078ff 127px,#0015ff 128px,#0000ea 129px,#0000c7 130px,#0000b3 131px,#00009e 133px,#00008f 137px,#000087 144px,#00008a 168px,#000095 175px,#0000a8 179px,#0000ce 182px,#0001ff 184px,#003fff 185px,#00aeff 186px,#75ff81 187px,#ff9f00 188px,#ff8d00 189px,#ccff2b 190px,#61ff96 191px,#00c8ff 192px,#0052ff 193px,#000eff 194px,#0000f5 195px,#0000cb 197px,#0000bf 200px,#0000d9 202px,#0000fd 203px,#01f 204px,#0003ff 205px,#0000c7 207px,#0000ae 209px,#0000a5 212px,#00a 216px,#0000c5 219px,#00f 221px,#0001ff 222px,#0000f1 223px,#0000d5 224px,#0000c2 226px,#0000cb 228px,#0000eb 231px,#00f 232px,#001eff 233px,#004aff 234px,#005aff 235px,#0056ff 236px,#00f 238px,#00c 240px,#0000b7 242px,#00a 245px,#000092 264px,#000083 288px,#000080 312px,#000080)}
.b53{background:linear-gradient(#000080,#000082 24px,#00008c 48px,#00009f 66px,#0000b0 72px,#0000c7 74px,#0000f4 76px,#0000f5 77px,#0000e1 79px,#0000ec 82px,#0000c8 85px,#0000d7 87px,#00f 89px,#00f 90px,#0000f6 91px,#0000d4 92px,#0000c0 93px,#0000a9 96px,#0000a5 100px,#0000ae 103px,#0000cb 105px,#0000ed 106px,#0004ff 107px,#00f 108px,#0000c0 110px,#0000b0 111px,#0000a4 113px,#0000a7 117px,#0000b7 119px,#0000c8 120px,#0000e7 121px,#000eff 122px,#006aff 123px,#00dffc 124px,#00dcff 125px,#0064ff 126px,#0009ff 127px,#0000c2 129px,#00009d 132px,#00008e 136px,#000087 144px,#00008a 168px,#000094 175px,#0000a5 179px,#0000c7 182px,#0000fd 184px,#001eff 185px,#0071ff 186px,#1cffdb 187px,#ebff0c 188px,#ff2e00 189px,#ff7500 190px,#aeff49 191px,#01e7f5 192px,#0063ff 193px,#001aff 194px,#00f 195px,#0000e4 196px,#00c 198px,#0000d4 200px,#0004ff 202px,#001aff 203px,#00f 204px,#0000c3 206px,#0000ad 208px,#0000a5 212px,#0000b3 216px,#0000d2 218px,#0000f5 219px,#0003ff 220px,#00f 221px,#0000de 222px,#0000c9 223px,#0000bc 225px,#0000cd 228px,#00f 231px,#0018ff 232px,#0043ff 233px,#0057ff 234px,#005bff 235px,#0049ff 236px,#001bff 237px,#0000fa 238px,#0000da 239px,#0000c7 240px,#0000b5 242px,#0000a7 246px,#000092 264px,#000083 288px,#000080 312px,#000080)}
.b54{background:linear-gradient(#000080,#000082 24px,#00008c 48px,#00009f 66px,#0000b0 72px,#0000c9 74px,#0000f1 76px,#00d 79px,#0000e7 82px,#0000ca 85px,#0000d0 86px,#00f 88px,#0003ff 89px,#0000fd 90px,#0000da 91px,#0000b6 93px,#0000a8 96px,#0000a8 100px,#0000b2 102px,#0000bf 103px,#0000d9 104px,#00f 105px,#0000f4 107px,#0000ce 108px,#0000b8 109px,#0000a2 112px,#0000ac 117px,#0000c8 119px,#0000e8 120px,#0010ff 121px,#00d4ff 123px,#00b7ff 124px,#0046ff 125px,#00f 126px,#0000d6 127px,#00b 128px,#00009a 131px,#00008c 136px,#000086 144px,#00008a 168px,#000094 175px,#0000a3 179px,#0000c0 182px,#0005ff 185px,#0043ff 186px,#00b1ff 187px,#79ff7e 188px,#ff6300 189px,#b60000 190px,#ffc300 191px,#3dffb9 192px,#008cff 193px,#0034ff 194px,#0003ff 195px,#0000df 198px,#0000e8 199px,#00f 200px,#001aff 201px,#001eff 202px,#00f 203px,#0000d8 204px,#0000c1 205px,#00a 208px,#00a 213px,#0000c6 216px,#00f 218px,#0001ff 219px,#0000c2 222px,#0000ba 225px,#0000c6 227px,#00f 230px,#001aff 231px,#0042ff 232px,#005bff 234px,#0052ff 235px,#0038ff 236px,#0008ff 237px,#0000c3 240px,#0000b3 242px,#0000a7 246px,#000092 264px,#000083 288px,#000080 312px,#000080)}
.b55{background:linear-gradient(#000080,#000082 24px,#00008c 48px,#00009f 66px,#0000b1 72px,#0000ec 76px,#0000db 79px,#0000e6 81px,#0000cd 85px,#0000d7 86px,#0000f2 87px,#0001ff 88px,#00f 89px,#0000c9 91px,#0000ba 92px,#0000a8 96px,#0000ab 99px,#0000b8 101px,#0001ff 104px,#00f 105px,#0000c2 107px,#0000b1 108px,#0000a1 111px,#0000a2 114px,#0000b8 117px,#0000ca 118px,#0000ec 119px,#0019ff 120px,#0079ff 121px,#00c9ff 122px,#008bff 123px,#0024ff 124px,#0000f1 125px,#0000ca 126px,#0000b4 127px,#000098 130px,#00008b 135px,#000085 144px,#000089 168px,#000093 175px,#0000a7 180px,#0000c9 183px,#00f 185px,#02f 186px,#0075ff 187px,#1fffd7 188px,#f5f701 189px,#cf0000 190px,#f20 191px,#b2ff45 192px,#00defd 193px,#0063ff 194px,#02f 195px,#00f 196px,#00f 198px,#000eff 199px,#0031ff 200px,#0025ff 201px,#00f 202px,#0000da 203px,#0000b7 205px,#0000a8 209px,#0000ad 212px,#0000bd 214px,#0000d1 215px,#0000f4 216px,#00f 218px,#0000c8 220px,#0000b6 223px,#00b 225px,#0000ce 227px,#00f 229px,#0049ff 231px,#0056ff 233px,#0045ff 235px,#00f 237px,#00c 239px,#0000bf 240px,#0000a7 246px,#000092 264px,#000083 288px,#000080 312px,#000080)}
.b56{background:linear-gradient(#000080,#000082 24px,#00008c 48px,#00009f 66px,#0000b1 72px,#0000e7 76px,#0000d8 78px,#0000e4 81px,#0000cf 84px,#0000d2 85px,#0000e2 86px,#00f 87px,#00f 88px,#0000f5 89px,#0000d4 90px,#0000b6 92px,#00a 96px,#0000b5 99px,#0000c2 100px,#00f 102px,#0004ff 103px,#0000f2 104px,#0000cd 105px,#0000b7 106px,#0000ac 107px,#0000a0 110px,#0000a3 113px,#0000ba 116px,#0000cf 117px,#0000f5 118px,#0028ff 119px,#008aff 120px,#00b4ff 121px,#0006ff 123px,#0000de 124px,#0000bf 125px,#0000ad 126px,#000096 129px,#000085 144px,#000089 168px,#000092 175px,#0000a4 180px,#0000c2 183px,#0000f0 185px,#000bff 186px,#004cff 187px,#00c0ff 188px,#82ff75 189px,#ff9c00 190px,#f20900 191px,#ff8700 192px,#71ff86 193px,#00b7ff 194px,#0056ff 195px,#0028ff 196px,#001cff 197px,#004dff 199px,#0035ff 200px,#00f 201px,#0000cb 203px,#0000bd 204px,#0000ab 208px,#0000b8 212px,#0000c6 213px,#00f 215px,#0003ff 216px,#0000f1 217px,#0000d2 218px,#0000c1 219px,#0000b5 222px,#0000ca 226px,#00d 227px,#0000fe 228px,#0021ff 229px,#0054ff 230px,#005cff 231px,#003aff 235px,#0015ff 236px,#0000f8 237px,#0000d9 238px,#0000bc 240px,#0000a7 246px,#000092 264px,#000083 288px,#000080 312px,#000080)}
.b57{background:linear-gradient(#000080,#000082 24px,#00008c 48px,#0000a0 67px,#0000b2 72px,#00d 75px,#0000e3 76px,#0000d5 78px,#0000e2 81px,#0000d2 84px,#0000d9 85px,#00f 87px,#00f 88px,#0000cb 90px,#0000bc 91px,#0000af 93px,#0000af 96px,#0000bd 98px,#0000cf 99px,#0000f1 100px,#0003ff 101px,#00f 102px,#0000bf 104px,#0000b0 105px,#0000a1 108px,#0000a3 112px,#0000bd 115px,#0000d5 116px,#00f 117px,#003bff 118px,#0097ff 119px,#0093ff 120px,#0035ff 121px,#0000fc 122px,#0000cf 123px,#0000b6 124px,#000098 127px,#00008a 133px,#000085 144px,#000089 168px,#000093 176px,#0000a8 181px,#0000cb 184px,#00f 186px,#002bff 187px,#0086ff 188px,#2dffca 189px,#b7ff3f 190px,#ffab00 191px,#ff2f00 192px,#ffc200 193px,#52ffa5 194px,#00b0ff 195px,#006cff 196px,#0063ff 197px,#0075ff 198px,#0056ff 199px,#0015ff 200px,#0000f4 201px,#0000d7 202px,#0000c6 203px,#0000af 207px,#0000b1 209px,#0000bf 211px,#0000d2 212px,#0000f4 213px,#0006ff 214px,#00f 215px,#0000e1 216px,#0000c8 217px,#0000bc 218px,#0000b5 222px,#0000c9 225px,#0000da 226px,#0000f9 227px,#001bff 228px,#0057ff 229px,#0069ff 230px,#0038ff 233px,#003fff 234px,#002eff 235px,#0004ff 236px,#0000d2 238px,#0000ba 240px,#0000a6 246px,#000092 264px,#000083 288px,#000080 312px,#000080)}
.b58{background:linear-gradient(#000080,#000082 24px,#00008c 48px,#0000a0 67px,#0000b2 72px,#0000da 75px,#0000de 76px,#0000d2 78px,#0000df 81px,#0000d5 84px,#0000f8 86px,#00f 87px,#0000ba 91px,#0000b0 94px,#0000b9 96px,#0000c6 97px,#00f 99px,#00f 100px,#0000eb 101px,#0000c9 102px,#0000ac 104px,#0000a1 107px,#0000a4 111px,#0000c1 114px,#00f 116px,#0098ff 118px,#006dff 119px,#0014ff 120px,#0000e6 121px,#0000c3 122px,#0000af 123px,#000096 126px,#000089 132px,#000084 144px,#000089 168px,#000092 176px,#0000a4 181px,#0000c2 184px,#0000f1 186px,#000dff 187px,#0053ff 188px,#00c8ff 189px,#55ffa2 190px,#9bff5b 191px,#ffd100 192px,#ff3e00 193px,#ffc300 194px,#66ff91 195px,#07eef0 196px,#0cf 197px,#0094ff 198px,#003eff 199px,#0003ff 200px,#0000c7 203px,#0000b8 205px,#0000bc 209px,#0000c9 210px,#00f 212px,#0008ff 213px,#0000f7 214px,#0000d5 215px,#0000c2 216px,#0000b2 219px,#0000b8 222px,#0000c9 224px,#0000da 225px,#0000f8 226px,#001aff 227px,#0056ff 228px,#0070ff 229px,#0067ff 230px,#0043ff 231px,#002bff 232px,#003dff 234px,#00f 236px,#00c 238px,#0000b8 240px,#0000a6 246px,#000092 264px,#000083 288px,#000080 312px,#000080)}
.b59{background:linear-gradient(#000080,#000082 24px,#00008c 48px,#0000a0 67px,#0000b3 72px,#0000d7 75px,#0000d0 78px,#0000dc 80px,#0000da 84px,#0000fa 86px,#0000c5 90px,#0000b6 92px,#0000b7 94px,#0000d1 96px,#0000f1 97px,#00f 98px,#00f 99px,#0000d9 100px,#0000b1 102px,#0000a5 104px,#0000a0 108px,#0000b5 112px,#0000c6 113px,#0000e5 114px,#000eff 115px,#0061ff 116px,#008bff 117px,#00f 119px,#0000d5 120px,#0000a9 122px,#000095 125px,#000089 131px,#000084 144px,#008 168px,#000093 177px,#0000a7 182px,#0000c9 185px,#00f 187px,#0028ff 188px,#0082ff 189px,#10fae7 190px,#6dff8a 192px,#f9f300 193px,#ff3000 194px,#ff7500 195px,#c6ff31 196px,#41ffb5 197px,#00a1ff 198px,#003fff 199px,#0007ff 200px,#0000cd 203px,#0000bd 206px,#0000c6 208px,#0000d6 209px,#0000f6 210px,#0009ff 211px,#0001ff 212px,#0000cd 214px,#0000b7 216px,#0000b3 219px,#0000bf 222px,#00d 224px,#0000fd 225px,#0021ff 226px,#005eff 227px,#0073ff 228px,#0065ff 229px,#0021ff 231px,#0026ff 232px,#003cff 233px,#0035ff 234px,#0010ff 235px,#0000f6 236px,#0000d8 237px,#0000c7 238px,#0000b6 240px,#0000a6 246px,#000092 264px,#000083 288px,#000080 312px,#000080)}
.b60{background:linear-gradient(#000080,#000082 24px,#00008c 48px,#0000a0 67px,#0000b4 72px,#0000d4 75px,#0000cf 78px,#0000db 80px,#0000d7 83px,#0000f3 86px,#0000bd 91px,#0000bc 93px,#0000d9 95px,#0000fb 96px,#00f 97px,#0000f3 98px,#0000cf 99px,#0000af 101px,#0000a1 105px,#0000ad 110px,#0000cd 112px,#0000f2 113px,#0023ff 114px,#0071ff 115px,#006fff 116px,#001eff 117px,#0000ed 118px,#0000c6 119px,#0000b1 120px,#00009c 122px,#00008e 126px,#000084 144px,#008 168px,#000092 177px,#0000a3 182px,#0000bf 185px,#0008ff 188px,#004dff 189px,#00b6ff 190px,#18ffdf 191px,#1dffda 192px,#52ffa5 193px,#f6f701 194px,#d50000 195px,#ef0600 196px,#cbff2c 197px,#09f1ee 198px,#006cff 199px,#0023ff 200px,#00f 201px,#0000da 203px,#0000ca 205px,#0000d3 207px,#00f 209px,#0012ff 210px,#00f 211px,#0000c8 213px,#0000b3 216px,#0000b6 219px,#0000c2 221px,#0000ce 222px,#00f 224px,#006fff 226px,#0075ff 227px,#002aff 229px,#001bff 230px,#001bff 231px,#003fff 233px,#0027ff 234px,#0001ff 235px,#0000d1 237px,#0000b4 240px,#0000a6 246px,#000092 264px,#000083 288px,#000080 312px,#000080)}
.b61{background:linear-gradient(#000080,#000081 24px,#00008c 48px,#0000a0 67px,#0000b4 72px,#0000d2 75px,#0000cd 78px,#0000da 80px,#0000d4 82px,#0000f0 85px,#0000d9 87px,#0000c0 92px,#0000db 94px,#0000fc 95px,#00f 96px,#00e 97px,#0000cd 98px,#0000af 100px,#0000a2 105px,#0000a9 108px,#0000be 110px,#0000d6 111px,#00f 112px,#0075ff 114px,#0048ff 115px,#00f 116px,#00b 118px,#0000a0 120px,#00008a 127px,#000084 144px,#008 168px,#000093 178px,#0000a6 183px,#0000c6 186px,#0000dc 187px,#00f 188px,#0026ff 189px,#00e0fb 191px,#09f1ed 192px,#12fce4 193px,#69ff8e 194px,#ffd600 195px,#ff1600 196px,#f30 197px,#b9ff3e 198px,#00e6f6 199px,#0067ff 200px,#02f 201px,#00f 202px,#0000e3 204px,#0000df 205px,#0000e6 206px,#0000fe 207px,#01f 208px,#0014ff 209px,#0000fd 210px,#0000da 211px,#0000c7 212px,#0000b7 214px,#0000b4 216px,#0000c6 220px,#0000ef 222px,#000dff 223px,#0050ff 224px,#0084ff 225px,#0069ff 226px,#002eff 227px,#000fff 228px,#000cff 229px,#0017ff 230px,#0040ff 232px,#0035ff 233px,#00f 235px,#0000cb 237px,#0000b3 240px,#000092 264px,#000083 288px,#000080 312px,#000080)}
.b62{background:linear-gradient(#000080,#000081 24px,#00008c 48px,#0000a0 67px,#0000b5 72px,#0000cf 75px,#0000cd 78px,#0000d9 80px,#0000d3 82px,#0000ec 85px,#0000d2 87px,#0000d3 89px,#0000c6 91px,#0000ca 92px,#0000db 93px,#0000fa 94px,#00f 95px,#0000ed 96px,#00c 97px,#0000ba 98px,#0000a9 100px,#0000a3 103px,#0000a7 106px,#0000b5 108px,#0000c5 109px,#0000e3 110px,#000aff 111px,#0053ff 112px,#0065ff 113px,#0020ff 114px,#0000ef 115px,#0000c7 116px,#0000b2 117px,#000097 120px,#008 128px,#000083 144px,#000087 168px,#000090 177px,#0000a3 183px,#0000be 186px,#0006ff 189px,#004bff 190px,#00b3ff 191px,#0ff8e7 192px,#15ffe2 193px,#3fffb7 194px,#bbff3c 196px,#ff9100 197px,#ff4a00 198px,#cfff27 199px,#11fbe5 200px,#0075ff 201px,#002eff 202px,#0008ff 203px,#00f 204px,#00f 205px,#0027ff 207px,#0000f8 209px,#0000d9 210px,#0000be 212px,#0000b8 216px,#00c 219px,#0000df 220px,#00f 221px,#0028ff 222px,#0074ff 223px,#008aff 224px,#0013ff 226px,#00f 227px,#00f 228px,#000dff 229px,#0041ff 231px,#003bff 232px,#000cff 234px,#0000f4 235px,#0000d7 236px,#0000c6 237px,#0000b2 240px,#000092 264px,#000083 288px,#000080 312px,#000080)}
.b63{background:linear-gradient(#000080,#000081 24px,#00008c 48px,#0000a0 67px,#0000b5 72px,#0000cd 75px,#00c 78px,#0000d7 80px,#0000d2 82px,#0000e8 84px,#0000e7 85px,#0000cd 87px,#0000d5 89px,#0000d0 91px,#0000db 92px,#0000f7 93px,#00f 94px,#00e 95px,#0000ce 96px,#00b 97px,#00a 99px,#0000a6 104px,#0000ba 107px,#0000ce 108px,#0000f4 109px,#02f 110px,#0060ff 111px,#0045ff 112px,#00f 113px,#0000bc 115px,#0000ab 116px,#000092 120px,#000083 144px,#000087 168px,#00008f 177px,#0000a0 183px,#0000c5 187px,#0000db 188px,#0000fd 189px,#02f 190px,#007aff 191px,#08efef 192px,#3affbd 193px,#49ffae 194px,#24ffd3 196px,#67ff90 197px,#ffda00 198px,#ff5400 199px,#ecff0b 200px,#29ffce 201px,#008cff 202px,#0049ff 203px,#03f 204px,#0042ff 206px,#0018ff 207px,#0000fb 208px,#00d 209px,#0000c3 211px,#00b 213px,#0000c0 216px,#0000d4 218px,#0006ff 220px,#0090ff 222px,#07f 223px,#002dff 224px,#00f 225px,#00f 228px,#0045ff 230px,#0040ff 231px,#0021ff 233px,#00f 234px,#0000d0 236px,#0000c2 237px,#0000b1 240px,#000092 264px,#000083 288px,#000080 312px,#000080)}
.b64{background:linear-gradient(#000080,#000081 24px,#00008c 48px,#0000a0 67px,#0000b6 72px,#0000cb 75px,#0000d5 80px,#0000d0 82px,#0000e7 84px,#0000cb 87px,#0000de 91px,#00f 93px,#0000f2 94px,#0000d1 95px,#0000bd 96px,#0000a8 99px,#0000ac 104px,#0000c0 106px,#0000d9 107px,#00f 108px,#003aff 109px,#005bff 110px,#02f 111px,#0000f2 112px,#0000c9 113px,#0000a6 115px,#00008f 120px,#000083 144px,#000087 168px,#000090 178px,#0000a3 184px,#0000be 187px,#0006ff 190px,#004bff 191px,#00c3ff 192px,#55ffa2 193px,#69ff8e 194px,#1bffdc 195px,#00c1ff 196px,#00cdff 197px,#43ffb3 198px,#f5f702 199px,#ff5600 200px,#ffe900 201px,#46ffb1 202px,#00c2ff 203px,#0071ff 205px,#002eff 206px,#00f 207px,#0000d8 209px,#0000c5 211px,#0000c1 214px,#0000ce 216px,#0000de 217px,#0000fb 218px,#001eff 219px,#006cff 220px,#0098ff 221px,#0018ff 223px,#00f 224px,#0000f0 225px,#0000ef 226px,#00f 227px,#0015ff 228px,#0045ff 229px,#0049ff 230px,#0031ff 231px,#0019ff 233px,#00f 234px,#0000df 235px,#0000cb 236px,#0000b0 240px,#000092 264px,#000083 288px,#000080 312px,#000080)}
.b65{background:linear-gradient(#000080,#000081 24px,#00008c 48px,#0000a0 67px,#0000b6 72px,#0000ca 75px,#0000cf 82px,#0000e6 84px,#0000ca 87px,#00f 92px,#0000f8 93px,#0000d7 94px,#0000b5 96px,#0000a8 99px,#0000af 103px,#0000c8 105px,#0000e8 106px,#000fff 107px,#004dff 108px,#04f 109px,#0002ff 110px,#0000bd 112px,#0000ad 113px,#000097 116px,#00008d 120px,#000083 144px,#000087 168px,#00008f 178px,#0000a1 184px,#0000ae 186px,#0000c8 188px,#00f 190px,#002dff 191px,#0093ff 192px,#3bffbc 193px,#7aff7d 194px,#25ffd2 195px,#00acff 196px,#008fff 197px,#00b5ff 198px,#3cffbb 199px,#f8f500 200px,#ff4100 201px,#ffb700 202px,#87ff6f 203px,#09f1ee 204px,#0075ff 205px,#0028ff 206px,#00f 207px,#0000d2 210px,#0000c8 212px,#0000cd 214px,#0000e9 216px,#00f 217px,#0038ff 218px,#0086ff 219px,#008fff 220px,#0045ff 221px,#0009ff 222px,#0000f8 223px,#0000ea 224px,#0000ea 225px,#000bff 227px,#003bff 228px,#004fff 229px,#0036ff 230px,#002aff 231px,#002bff 232px,#000eff 233px,#0000f4 234px,#0000d7 235px,#0000c7 236px,#0000af 240px,#000092 264px,#000083 288px,#000080 312px,#000080)}
.b66{background:linear-gradient(#000080,#000081 24px,#00008c 48px,#0000a0 67px,#0000b6 72px,#0000c8 75px,#0000c7 77px,#0000d2 79px,#0000cf 82px,#0000e5 84px,#00c 86px,#0000ca 87px,#00f 91px,#00f 92px,#0000c7 94px,#0000b1 96px,#0000a9 99px,#0000b4 102px,#0000d5 104px,#00f 105px,#0050ff 107px,#001fff 108px,#0000f1 109px,#0000c9 110px,#0000a7 112px,#000096 115px,#00008c 120px,#000083 144px,#000086 168px,#00008f 178px,#00009f 184px,#0000c2 188px,#0000f6 190px,#0019ff 191px,#006fff 192px,#0af2ed 193px,#56ffa1 194px,#39ffbd 195px,#00c4ff 196px,#0083ff 197px,#0080ff 198px,#0bf 199px,#52ffa5 200px,#ffbf00 201px,#e10000 202px,#ff9e00 203px,#5bff9c 204px,#00a5ff 205px,#0045ff 206px,#000fff 207px,#0000fe 208px,#0000dc 210px,#0000d3 212px,#0000e1 214px,#0000f8 215px,#01f 216px,#0091ff 218px,#007eff 219px,#0035ff 220px,#00f 221px,#0000e6 223px,#0000e7 224px,#0005ff 226px,#03f 227px,#004aff 228px,#0029ff 230px,#0029ff 232px,#0001ff 233px,#0000d1 235px,#0000c3 236px,#0000ae 240px,#000092 264px,#000083 288px,#000080 312px,#000080)}
.b67{background:linear-gradient(#000080,#000081 24px,#00008c 48px,#0000a0 67px,#0000b6 72px,#0000d1 79px,#0000c9 81px,#0000e3 84px,#0000cb 86px,#0000cb 87px,#0000d6 88px,#00f 90px,#00f 91px,#0000f0 92px,#0000d1 93px,#0000bf 94px,#0000af 96px,#0000b2 100px,#0000c9 102px,#0000e7 103px,#000cff 104px,#04f 105px,#0039ff 106px,#00f 107px,#0000bc 109px,#0000a3 111px,#000095 114px,#00008b 120px,#000083 144px,#000086 168px,#00008e 178px,#00009d 184px,#0000bc 188px,#0000e9 190px,#0006ff 191px,#004eff 192px,#00bcff 193px,#1fffd8 194px,#26ffd1 195px,#08f0ee 196px,#00a3ff 197px,#007fff 198px,#0097ff 199px,#0cf4eb 200px,#98ff5e 201px,#ff9a00 202px,#ff3400 203px,#faf200 204px,#2dffc9 205px,#0087ff 206px,#0036ff 207px,#0009ff 208px,#0000fd 209px,#0000e5 211px,#0000e6 212px,#00f 214px,#0029ff 215px,#0068ff 216px,#008cff 217px,#0070ff 218px,#002bff 219px,#00f 220px,#0000e4 222px,#0000e5 223px,#0002ff 225px,#0030ff 226px,#0045ff 227px,#0029ff 229px,#0036ff 231px,#00f 233px,#0000df 234px,#0000cb 235px,#0000b9 237px,#0000ae 240px,#000092 264px,#000083 288px,#000080 312px,#000080)}
.b68{background:linear-gradient(#000080,#000081 24px,#00008c 48px,#0000a0 67px,#0000b6 72px,#0000d0 79px,#0000c8 81px,#0000e1 84px,#0000cb 86px,#00c 87px,#0000da 88px,#0000f5 89px,#00f 91px,#0000c8 93px,#0000b0 96px,#0000b1 98px,#0000c1 100px,#0000d5 101px,#0000fc 102px,#0046ff 104px,#0017ff 105px,#0000ec 106px,#0000c8 107px,#0000a8 109px,#000094 113px,#00008a 120px,#000083 144px,#000086 168px,#00008f 179px,#00009f 185px,#0000ac 187px,#0000c5 189px,#0000dc 190px,#00f 191px,#002dff 192px,#008bff 193px,#00dbff 194px,#01e6f6 196px,#00e2f9 197px,#00b5ff 198px,#00b6ff 199px,#08f0ee 200px,#32ffc5 201px,#70ff86 202px,#ffe300 203px,#ff6e00 204px,#d5ff21 205px,#19ffde 206px,#007bff 207px,#0032ff 208px,#000bff 209px,#00f 210px,#00f 212px,#0013ff 213px,#0072ff 215px,#0083ff 216px,#0067ff 217px,#0026ff 218px,#00f 219px,#0000e4 221px,#0000e5 222px,#0002ff 224px,#002fff 225px,#0043ff 226px,#002cff 227px,#0021ff 228px,#0039ff 231px,#0010ff 232px,#0000f3 233px,#0000d7 234px,#0000c7 235px,#0000ad 240px,#000092 264px,#000083 288px,#000080 312px,#000080)}
.b69{background:linear-gradient(#000080,#000081 24px,#00008c 48px,#0000a0 67px,#0000b5 72px,#0000cf 79px,#0000c7 81px,#0000df 84px,#0000cb 86px,#0000ce 87px,#0000df 88px,#0000fe 89px,#0001ff 90px,#0000f7 91px,#0000d6 92px,#0000c2 93px,#0000b3 96px,#0000c8 99px,#0001ff 101px,#0038ff 102px,#0037ff 103px,#00f 104px,#0000be 106px,#0000a5 108px,#000094 112px,#00008a 120px,#000083 144px,#000086 168px,#000090 180px,#0000a2 186px,#0000bd 189px,#00e 191px,#0010ff 192px,#00b8ff 194px,#00c0ff 195px,#00b1ff 196px,#00defd 197px,#24ffd3 198px,#25ffd1 199px,#0cf4eb 200px,#00c4ff 201px,#00cfff 202px,#43ffb4 203px,#ecff0b 204px,#ff8900 205px,#c3ff34 206px,#11fae6 207px,#007bff 208px,#003bff 209px,#001fff 210px,#001dff 211px,#0036ff 212px,#005fff 213px,#007fff 215px,#0064ff 216px,#0025ff 217px,#00f 218px,#0000e5 220px,#0000e7 221px,#0005ff 223px,#03f 224px,#0043ff 225px,#0024ff 226px,#0014ff 227px,#04f 230px,#0030ff 231px,#00f 232px,#0000d0 234px,#0000c3 235px,#0000ad 240px,#000092 264px,#000083 288px,#000080 312px,#000080)}
.b70{background:linear-gradient(#000080,#000081 24px,#00008c 48px,#0000a0 67px,#0000b5 72px,#0000ce 79px,#0000c7 81px,#0000db 83px,#0000dc 84px,#0000cb 86px,#0000d1 87px,#00f 89px,#00f 90px,#0000c0 93px,#0000b8 96px,#0000cd 98px,#000cff 100px,#003cff 101px,#0027ff 102px,#0000fd 103px,#0000d2 104px,#0000ba 105px,#0000a4 107px,#000094 111px,#000089 120px,#000083 144px,#000086 168px,#00008f 180px,#00009f 186px,#0000ad 188px,#0000c7 190px,#00f 192px,#0039ff 193px,#0094ff 194px,#00c0ff 195px,#00a6ff 196px,#00b9ff 197px,#28ffcf 198px,#5bff9b 199px,#16ffe1 200px,#00a3ff 201px,#0087ff 202px,#00acff 203px,#31ffc6 204px,#dcff1a 205px,#ff9700 206px,#c0ff37 207px,#17ffe0 208px,#0091ff 209px,#0068ff 210px,#007dff 212px,#007aff 213px,#0084ff 214px,#0067ff 215px,#0027ff 216px,#00f 217px,#0000ea 219px,#0000ec 220px,#0000fc 221px,#000eff 222px,#003cff 223px,#0042ff 224px,#001dff 225px,#0008ff 226px,#0010ff 227px,#0049ff 229px,#0049ff 230px,#001dff 231px,#0000fd 232px,#00d 233px,#0000c0 235px,#0000ac 240px,#000092 264px,#000083 288px,#000080 312px,#000080)}
.b71{background:linear-gradient(#000080,#000081 24px,#00008c 48px,#0000a0 67px,#0000b5 72px,#0000cd 79px,#0000c6 81px,#0000da 83px,#00c 86px,#0000d4 87px,#00f 89px,#00f 90px,#00c 92px,#0000bf 93px,#0000c0 96px,#0000ce 97px,#0000ea 98px,#000cff 99px,#0039ff 100px,#02f 101px,#0000f9 102px,#0000d0 103px,#0000b9 104px,#0000a4 106px,#000093 111px,#000089 120px,#000083 144px,#000086 168px,#00008e 180px,#00009e 186px,#0000c0 190px,#0000d4 191px,#0000f6 192px,#001cff 193px,#00c0ff 195px,#00c5ff 197px,#0cf4eb 198px,#16ffe1 199px,#10fae7 200px,#00c5ff 201px,#0085ff 202px,#0076ff 203px,#009fff 204px,#25ffd2 205px,#cfff28 206px,#ff9500 207px,#d9ff1d 208px,#48ffaf 209px,#05ecf2 210px,#00b9ff 211px,#09f 212px,#009aff 213px,#0073ff 214px,#0030ff 215px,#0004ff 216px,#0000f1 218px,#00f 220px,#001dff 221px,#0048ff 222px,#003eff 223px,#0014ff 224px,#00f 225px,#0002ff 226px,#0020ff 227px,#004cff 228px,#005bff 229px,#003cff 230px,#0009ff 231px,#0000ef 232px,#0000d5 233px,#0000be 235px,#0000ac 240px,#000092 264px,#000083 288px,#000080 312px,#000080)}
.b72{background:linear-gradient(#000080,#000081 24px,#00008c 48px,#0000a0 67px,#0000b5 72px,#00c 79px,#0000c6 81px,#0000d8 83px,#0000cd 86px,#0000d6 87px,#00f 89px,#0000f8 90px,#00c 92px,#0000c1 93px,#0000c2 95px,#0000ce 96px,#0007ff 98px,#0035ff 99px,#02f 100px,#0000fa 101px,#0000d1 102px,#0000ba 103px,#0000a4 105px,#000094 110px,#000089 120px,#000082 144px,#000085 168px,#00008c 179px,#00009c 186px,#0000ba 190px,#0000e5 192px,#0002ff 193px,#0048ff 194px,#00aeff 195px,#05ebf2 196px,#0af3ec 197px,#00e5f7 198px,#00acff 199px,#009aff 200px,#00baff 201px,#00b5ff 202px,#0083ff 203px,#0075ff 204px,#009dff 205px,#21ffd6 206px,#ceff28 207px,#ff6400 208px,#ffb400 209px,#81ff75 210px,#1effd9 211px,#00dbff 212px,#0046ff 214px,#0014ff 215px,#00f 216px,#0006ff 219px,#0053ff 221px,#0037ff 222px,#000cff 223px,#00f 225px,#01f 226px,#006cff 228px,#0057ff 229px,#00f 231px,#0000d0 233px,#0000c4 234px,#0000ac 240px,#000092 264px,#000083 288px,#000080 312px,#000080)}
.b73{background:linear-gradient(#000080,#000081 24px,#00008c 48px,#0000a0 67px,#0000b5 72px,#0000cb 79px,#0000c6 81px,#0000d6 83px,#0000cd 86px,#0000f8 89px,#0000f2 90px,#0000cd 92px,#0000c4 93px,#0000cd 95px,#0000e4 96px,#00f 97px,#002eff 98px,#0025ff 99px,#00f 100px,#0000d4 101px,#0000bc 102px,#0000a0 105px,#000089 120px,#000082 144px,#000085 168px,#00008c 179px,#00009a 186px,#0000b5 190px,#0000d9 192px,#0000fd 193px,#0027ff 194px,#0087ff 195px,#18ffdf 196px,#3cffba 197px,#02e8f5 198px,#0087ff 199px,#005cff 200px,#0067ff 201px,#009cff 202px,#00b5ff 203px,#0093ff 204px,#008bff 205px,#00c2ff 206px,#4bffac 207px,#e5ff12 208px,#ff6100 209px,#ff8f00 210px,#b4ff43 211px,#1effd9 212px,#0087ff 213px,#003dff 214px,#0016ff 215px,#0005ff 216px,#0005ff 217px,#001aff 218px,#0045ff 219px,#005aff 220px,#0006ff 222px,#00f 224px,#0007ff 225px,#0034ff 226px,#0070ff 227px,#0073ff 228px,#0017ff 230px,#0000fa 231px,#0000dc 232px,#0000c1 234px,#0000ac 240px,#000092 264px,#000083 288px,#000080 312px,#000080)}
.b74{background:linear-gradient(#000080,#000081 24px,#00008c 48px,#00009f 67px,#0000b5 72px,#0000c0 74px,#0000c6 81px,#0000d4 83px,#0000ce 86px,#0000ec 88px,#0000f2 89px,#0000ef 90px,#0000ca 93px,#0000ce 94px,#0000df 95px,#00f 96px,#0025ff 97px,#002aff 98px,#00f 99px,#0000bf 101px,#0000a1 104px,#000093 109px,#008 120px,#000082 144px,#000085 168px,#009 186px,#0000b2 190px,#0000d2 192px,#0000f0 193px,#0012ff 194px,#0065ff 195px,#07eef0 196px,#59ff9e 197px,#14fee3 198px,#0086ff 199px,#0049ff 200px,#003dff 201px,#0059ff 202px,#009cff 203px,#00d2ff 204px,#00d1ff 205px,#0af2ed 207px,#3fffb8 208px,#ccff2b 209px,#ff6800 210px,#ff9e00 211px,#76ff80 212px,#00c2ff 213px,#0062ff 214px,#0035ff 215px,#0028ff 216px,#0038ff 217px,#005fff 218px,#0061ff 219px,#0005ff 221px,#0002ff 224px,#0029ff 225px,#06f 226px,#0083ff 227px,#0068ff 228px,#0007ff 230px,#0000d7 232px,#0000bf 234px,#0000ac 240px,#000092 264px,#000083 288px,#000080 312px,#000080)}
.b75{background:linear-gradient(#000080,#000081 24px,#00008c 48px,#00009f 67px,#0000b5 72px,#0000c0 74px,#0000c7 81px,#0000d2 83px,#0000cf 86px,#0000eb 88px,#00e 89px,#00e 90px,#0000d3 93px,#0000dc 94px,#0000f8 95px,#0017ff 96px,#002dff 97px,#0005ff 98px,#0000c5 100px,#0000a3 103px,#000093 109px,#008 120px,#000082 144px,#000085 168px,#000096 185px,#0000a7 189px,#0000cd 192px,#0006ff 194px,#0050ff 195px,#00c9ff 196px,#3dffba 197px,#27ffd0 198px,#00a6ff 199px,#0056ff 200px,#0039ff 201px,#0043ff 202px,#0079ff 203px,#00dffc 204px,#38ffbf 205px,#17ffe0 206px,#00e4f8 207px,#1dffda 208px,#3fffb8 209px,#75ff82 210px,#eeff09 211px,#ffe700 212px,#6aff8d 213px,#00c8ff 214px,#007dff 215px,#0070ff 216px,#0084ff 217px,#0072ff 218px,#0036ff 219px,#000bff 220px,#00f 221px,#0001ff 223px,#0023ff 224px,#005bff 225px,#0080ff 226px,#007fff 227px,#0061ff 228px,#00f 230px,#0000d2 232px,#0000c6 233px,#0000b5 236px,#0000ac 240px,#000092 264px,#000083 288px,#000080 312px,#000080)}
.b76{background:linear-gradient(#000080,#000081 24px,#00008c 48px,#00009f 67px,#0000b5 72px,#0000bf 74px,#0000d0 86px,#0000ea 88px,#0000ef 90px,#0000de 93px,#0000ef 94px,#0006ff 95px,#002bff 96px,#0014ff 97px,#0000f1 98px,#0000cd 99px,#0000b9 100px,#0000a0 103px,#008 120px,#000082 144px,#000085 168px,#000095 185px,#0000a6 189px,#0000c9 192px,#00f 194px,#0042ff 195px,#00a9ff 196px,#0bf3ec 197px,#10fae7 198px,#00d4ff 199px,#0084ff 200px,#0057ff 201px,#005dff 202px,#0091ff 203px,#00d4ff 204px,#1bffdb 205px,#41ffb6 206px,#36ffc1 207px,#00e1fb 208px,#00a9ff 209px,#00b3ff 210px,#22ffd5 211px,#aeff49 212px,#f4f903 213px,#1cffdb 215px,#00daff 216px,#00a0ff 217px,#0051ff 218px,#001dff 219px,#0003ff 220px,#0005ff 222px,#0023ff 223px,#0057ff 224px,#0076ff 225px,#0080ff 227px,#005bff 228px,#001eff 229px,#00f 230px,#0000e1 231px,#0000c4 233px,#0000ac 240px,#000092 264px,#000083 288px,#000080 312px,#000080)}
.b77{background:linear-gradient(#000080,#000081 24px,#00008c 48px,#00009f 67px,#0000b5 72px,#0000bd 73px,#0000d2 86px,#0000e8 88px,#0000f4 91px,#0000ec 93px,#00f 94px,#001eff 95px,#0024ff 96px,#00f 97px,#0000d9 98px,#0000c0 99px,#0000a3 102px,#000093 108px,#008 120px,#000082 144px,#000085 168px,#000094 185px,#0000a4 189px,#0000c4 192px,#0000db 193px,#00f 194px,#0030ff 195px,#008cff 196px,#00cbff 197px,#00c6ff 198px,#00d5ff 199px,#00caff 200px,#00a0ff 201px,#00a4ff 202px,#00bcff 203px,#00beff 204px,#02e8f5 205px,#37ffbf 206px,#2bffcc 207px,#00bdff 208px,#0079ff 209px,#006bff 210px,#0090ff 211px,#10f9e7 212px,#a6ff51 213px,#ffda00 214px,#c4ff33 215px,#3bffbc 216px,#009eff 217px,#004aff 218px,#001fff 219px,#000eff 220px,#01f 221px,#002aff 222px,#0059ff 223px,#0072ff 224px,#006fff 225px,#0085ff 226px,#08f 227px,#0010ff 229px,#0000f6 230px,#0000dc 231px,#0000c3 233px,#0000ac 240px,#000092 264px,#000083 288px,#000080 312px,#000080)}
.b78{background:linear-gradient(#000080,#000081 24px,#00008c 48px,#00009f 67px,#0000b5 72px,#0000bd 73px,#00c 84px,#0000e6 89px,#0000fc 91px,#0000fd 93px,#000cff 94px,#0028ff 95px,#000dff 96px,#0000eb 97px,#0000ca 98px,#0000b8 99px,#0000a6 101px,#000094 107px,#008 120px,#000082 144px,#000085 168px,#000094 185px,#0000a2 189px,#0000c0 192px,#0000d4 193px,#0000f5 194px,#001bff 195px,#00b7ff 197px,#00b0ff 199px,#05ecf1 200px,#2affcd 201px,#1cffdb 202px,#00daff 203px,#00d5ff 205px,#00b6ff 206px,#00bfff 208px,#0065ff 210px,#006bff 211px,#00a6ff 212px,#3bffbc 213px,#e3ff14 214px,#ffd000 215px,#7dff7a 216px,#00c9ff 217px,#0065ff 218px,#0036ff 219px,#0029ff 220px,#003aff 221px,#0063ff 222px,#0076ff 223px,#0065ff 224px,#0073ff 225px,#009cff 226px,#008aff 227px,#003fff 228px,#0004ff 229px,#0000d8 231px,#0000c2 233px,#0000ac 240px,#000092 264px,#000083 288px,#000080 312px,#000080)}
.b79{background:linear-gradient(#000080,#000081 24px,#00008c 48px,#00009f 67px,#0000b5 72px,#0000bd 73px,#0000ca 84px,#0000e4 89px,#00f 91px,#0001ff 93px,#001fff 94px,#0021ff 95px,#00f 96px,#0000d9 97px,#0000c0 98px,#0000a4 101px,#000094 107px,#008 120px,#000082 144px,#000085 168px,#000093 185px,#0000a1 189px,#0000bc 192px,#0008ff 195px,#0050ff 196px,#00a9ff 197px,#0bf 198px,#00b1ff 199px,#03e9f4 200px,#51ffa6 201px,#5aff9c 202px,#30ffc6 203px,#05ecf2 204px,#09f 205px,#0064ff 206px,#0062ff 207px,#00aeff 209px,#0091ff 210px,#0081ff 211px,#00a9ff 212px,#17ffe0 213px,#abff4c 215px,#bbff3c 216px,#3effb9 217px,#00a9ff 218px,#006aff 219px,#0061ff 220px,#007dff 221px,#0082ff 222px,#0062ff 223px,#0060ff 224px,#00b6ff 226px,#007dff 227px,#002cff 228px,#00f 229px,#0000d5 231px,#0000c1 233px,#0000ac 240px,#000092 264px,#000083 288px,#000080 312px,#000080)}
.b80{background:linear-gradient(#000080,#000081 24px,#00008c 48px,#00009f 67px,#0000b5 72px,#0000c4 77px,#0000ca 84px,#0000e0 87px,#0000e3 89px,#00f 91px,#0007ff 92px,#002aff 94px,#0010ff 95px,#0000ef 96px,#0000cd 97px,#0000ba 98px,#0000a2 101px,#008 120px,#000082 144px,#000085 168px,#000093 185px,#0000a0 189px,#0000b9 192px,#0000c9 193px,#00f 195px,#0039ff 196px,#09f 197px,#00dbff 198px,#00e4f8 199px,#18ffdf 200px,#2affcd 201px,#50ffa7 202px,#64ff92 203px,#0bf3ec 204px,#0081ff 205px,#0048ff 206px,#003aff 207px,#0051ff 208px,#00caff 210px,#00e0fb 212px,#00c7ff 214px,#18ffdf 215px,#81ff76 216px,#9bff5c 217px,#35ffc2 218px,#00d0ff 219px,#00bdff 220px,#009fff 221px,#0069ff 222px,#0057ff 223px,#07f 224px,#0bf 225px,#00beff 226px,#0064ff 227px,#001aff 228px,#0000fe 229px,#0000e3 230px,#0000c8 232px,#0000b7 235px,#0000ac 240px,#000092 264px,#000083 288px,#000080 312px,#000080)}
.b81{background:linear-gradient(#000080,#000081 24px,#00008c 48px,#00009f 67px,#0000b5 72px,#0000c4 77px,#0000c9 84px,#0000e1 87px,#0000e2 89px,#0000f6 90px,#0006ff 91px,#0028ff 93px,#002aff 94px,#00f 95px,#0000e0 96px,#0000b5 98px,#0000a1 101px,#008 120px,#000082 144px,#000085 168px,#000093 185px,#0000a0 189px,#0000b8 192px,#00d 194px,#00f 195px,#002bff 196px,#008bff 197px,#13fce4 198px,#3bffbc 199px,#20ffd6 201px,#26ffd1 202px,#15ffe2 203px,#02e8f5 204px,#005cff 206px,#003bff 207px,#003fff 208px,#006bff 209px,#00c9ff 210px,#36ffc1 211px,#16ffe1 212px,#00a7ff 213px,#0082ff 214px,#009dff 215px,#15ffe2 216px,#91ff65 217px,#b7ff40 218px,#6bff8b 219px,#09f1ee 220px,#008eff 221px,#0063ff 222px,#006dff 223px,#00e4f8 225px,#00abff 226px,#004aff 227px,#000bff 228px,#0000f5 229px,#0000de 230px,#0000c6 232px,#0000ac 240px,#000092 264px,#000083 288px,#000080 312px,#000080)}
.b82{background:linear-gradient(#000080,#000081 24px,#00008c 48px,#00009f 67px,#0000b5 72px,#0000cb 81px,#0000c8 84px,#0000e1 87px,#0000e2 89px,#0000f7 90px,#0036ff 93px,#0023ff 94px,#00f 95px,#0000d7 96px,#0000b3 98px,#0000a0 101px,#008 120px,#000082 144px,#000085 168px,#000093 185px,#0000a0 189px,#0000b7 192px,#0000da 194px,#0000fc 195px,#0021ff 196px,#007dff 197px,#20ffd7 198px,#75ff81 199px,#5dff9a 200px,#33ffc4 201px,#00d7ff 202px,#0091ff 203px,#0089ff 204px,#00a9ff 205px,#009cff 206px,#006bff 207px,#005fff 208px,#0084ff 209px,#00c7ff 210px,#00e4f8 211px,#00e3f9 212px,#0084ff 214px,#0084ff 215px,#00c4ff 216px,#5aff9d 217px,#dcff1b 218px,#b0ff47 219px,#22ffd5 220px,#00a3ff 221px,#0084ff 222px,#00a3ff 223px,#02e8f4 224px,#06edf1 225px,#008dff 226px,#0034ff 227px,#00f 228px,#0000db 230px,#0000c6 232px,#0000ac 240px,#000092 264px,#000083 288px,#000080 312px,#000080)}
.b83{background:linear-gradient(#000080,#000081 24px,#00008c 48px,#00009f 67px,#0000b5 72px,#00c 81px,#0000c8 84px,#00d 86px,#0000e1 89px,#0000f8 90px,#0012ff 91px,#0037ff 92px,#003fff 93px,#0000f5 95px,#0000d1 96px,#0000b1 98px,#0000a0 101px,#008 120px,#000082 144px,#000085 168px,#000093 185px,#0000a0 189px,#0000b7 192px,#0000db 194px,#0000fc 195px,#0021ff 196px,#007bff 197px,#23ffd3 198px,#95ff62 199px,#92ff65 200px,#35ffc2 201px,#00a5ff 202px,#005dff 203px,#004aff 204px,#0063ff 205px,#00a1ff 206px,#00c5ff 207px,#00c5ff 209px,#0076ff 211px,#0081ff 212px,#00b2ff 213px,#00c0ff 214px,#00b9ff 215px,#00e5f7 216px,#34ffc3 217px,#98ff5e 219px,#61ff95 220px,#07eef0 221px,#00cdff 222px,#0af2ed 223px,#24ffd2 224px,#00dcfe 225px,#0070ff 226px,#0023ff 227px,#00f 228px,#0000d9 230px,#0000c5 232px,#0000ac 240px,#000092 264px,#000083 288px,#000080 312px,#000080)}
.b84{background:linear-gradient(#000080,#000081 24px,#00008c 48px,#00009f 67px,#0000b5 72px,#00c 81px,#0000c4 83px,#0000de 86px,#0000e0 89px,#0000f9 90px,#0016ff 91px,#0043ff 92px,#0045ff 93px,#0014ff 94px,#0000ef 95px,#0000ce 96px,#0000b0 98px,#00009d 102px,#008 120px,#000082 144px,#000085 168px,#000093 185px,#0000a1 189px,#0000b9 192px,#0000de 194px,#00f 195px,#002aff 196px,#008aff 197px,#2affcd 198px,#8bff6b 199px,#9dff5a 200px,#32ffc5 201px,#09f 202px,#0051ff 203px,#003aff 204px,#0049ff 205px,#0085ff 206px,#08f0ef 207px,#32ffc5 208px,#00c9ff 209px,#006eff 210px,#0048ff 211px,#004cff 212px,#007aff 213px,#00d7ff 214px,#33ffc4 215px,#21ffd6 216px,#00d6ff 217px,#00e0fb 218px,#47ffb0 219px,#8dff6a 220px,#45ffb2 222px,#32ffc4 224px,#00c3ff 225px,#0058ff 226px,#0017ff 227px,#00f 228px,#0000d7 230px,#0000c5 232px,#0000ad 240px,#000092 264px,#000083 288px,#000080 312px,#000080)}
.b85{background:linear-gradient(#000080,#000081 24px,#00008c 48px,#00009f 67px,#0000b5 72px,#0000cd 81px,#0000c4 83px,#0000df 86px,#0000d9 88px,#0000e0 89px,#0000f9 90px,#0018ff 91px,#004bff 92px,#0049ff 93px,#01f 94px,#0000ec 95px,#00c 96px,#0000af 98px,#00009d 102px,#008 120px,#000082 144px,#000085 168px,#000093 185px,#0000a1 189px,#0000ba 192px,#0000ca 193px,#00f 195px,#0036ff 196px,#009fff 197px,#34ffc2 198px,#71ff86 199px,#68ff8f 200px,#31ffc5 201px,#00b5ff 202px,#0067ff 203px,#004fff 204px,#06f 205px,#00a5ff 206px,#00cfff 207px,#00d2ff 208px,#00c0ff 209px,#007fff 210px,#0053ff 211px,#0052ff 212px,#007eff 213px,#00ceff 214px,#15ffe1 215px,#0ef7e8 216px,#00c6ff 217px,#00b7ff 218px,#0ef7e9 219px,#7eff78 220px,#c8ff2e 221px,#70ff87 223px,#37ffbf 224px,#00a9ff 225px,#0047ff 226px,#000fff 227px,#0000fc 228px,#0000d6 230px,#0000c4 232px,#0000ad 240px,#000092 264px,#000083 288px,#000080 312px,#000080)}
.b86{background:linear-gradient(#000080,#000081 24px,#00008c 48px,#00009f 67px,#0000b5 72px,#0000c5 77px,#0000c2 79px,#0000cd 81px,#0000c3 83px,#0000e0 86px,#0000d8 88px,#0000df 89px,#0000f8 90px,#0019ff 91px,#0051ff 92px,#004cff 93px,#000fff 94px,#0000ea 95px,#0000cb 96px,#0000af 98px,#00009d 102px,#008 120px,#000082 144px,#000085 168px,#000094 185px,#0000a2 189px,#00b 192px,#00c 193px,#00f 195px,#0041ff 196px,#00b2ff 197px,#41ffb6 198px,#5aff9c 199px,#27ffd0 200px,#0ef7e9 201px,#00e1fa 202px,#00a7ff 203px,#0095ff 204px,#00adff 205px,#009bff 206px,#006cff 207px,#0067ff 208px,#00abff 210px,#0090ff 211px,#008eff 212px,#00afff 213px,#00a8ff 214px,#008dff 215px,#00a0ff 216px,#0cf 217px,#00d5ff 218px,#10fae7 219px,#71ff85 220px,#dfff18 221px,#e2ff15 222px,#a5ff51 223px,#34ffc2 224px,#0095ff 225px,#003cff 226px,#0009ff 227px,#0000f9 228px,#0000d5 230px,#0000c4 232px,#0000ad 240px,#000092 264px,#000083 288px,#000080 312px,#000080)}
.b87{background:linear-gradient(#000080,#000081 24px,#00008c 48px,#00009f 67px,#0000b5 72px,#0000c5 77px,#0000c1 79px,#0000cd 81px,#0000c3 83px,#0000e1 86px,#0000d7 88px,#0000de 89px,#0000f8 90px,#0019ff 91px,#0054ff 92px,#004eff 93px,#000eff 94px,#0000e9 95px,#0000cb 96px,#0000af 98px,#00009d 102px,#008 120px,#000082 144px,#000085 168px,#000094 185px,#0000a2 189px,#0000bc 192px,#0002ff 195px,#0046ff 196px,#00bdff 197px,#4fffa8 198px,#4dffa9 199px,#00e4f8 200px,#00c0ff 201px,#03e9f4 202px,#20ffd7 203px,#10f9e7 204px,#00acff 205px,#005cff 206px,#0036ff 207px,#0034ff 208px,#0057ff 209px,#02e8f5 211px,#08efef 212px,#00b6ff 213px,#0070ff 214px,#0053ff 215px,#0061ff 216px,#009dff 217px,#0ff8e8 218px,#73ff84 220px,#baff3d 221px,#ffdb00 222px,#d1ff25 223px,#2fffc7 224px,#008aff 225px,#0036ff 226px,#0007ff 227px,#0000f8 228px,#0000d5 230px,#0000c4 232px,#0000ad 240px,#000092 264px,#000083 288px,#000080 312px,#000080)}
.b88{background:linear-gradient(#000080,#000081 24px,#00008c 48px,#00009f 67px,#0000b5 72px,#0000c5 77px,#0000c1 79px,#0000cd 81px,#0000c3 83px,#0000e1 86px,#0000d7 88px,#0000de 89px,#0000f8 90px,#0019ff 91px,#0054ff 92px,#004eff 93px,#000eff 94px,#0000e9 95px,#0000cb 96px,#0000af 98px,#00009d 102px,#008 120px,#000082 144px,#000085 168px,#000094 185px,#0000a2 189px,#0000bc 192px,#0002ff 195px,#0047ff 196px,#00bfff 197px,#52ffa4 198px,#4affac 199px,#00d9ff 200px,#00b3ff 201px,#00e3f9 202px,#3fffb8 203px,#24ffd2 204px,#009eff 205px,#004eff 206px,#002cff 207px,#002bff 208px,#004bff 209px,#0097ff 210px,#16ffe0 211px,#21ffd6 212px,#00aeff 213px,#0063ff 214px,#0049ff 215px,#0056ff 216px,#008eff 217px,#10f9e7 218px,#5eff99 219px,#71ff86 220px,#adff49 221px,#ffd100 222px,#dcff1b 223px,#2effc9 224px,#08f 225px,#0035ff 226px,#0006ff 227px,#0000f7 228px,#0000d5 230px,#0000c4 232px,#0000ad 240px,#000092 264px,#000083 288px,#000080 312px,#000080)}
.c0{background:linear-gradient(#000080,#000082 24px,#00008c 48px,#00009c 63px,#00b 72px,#0000da 77px,#00f 81px,#0006ff 82px,#0023ff 83px,#0053ff 84px,#00a7ff 85px,#28ffcf 86px,#3fffb8 87px,#00d9ff 88px,#008fff 89px,#007aff 90px,#009cff 91px,#23ffd4 92px,#e9ff0e 93px,#ff8000 94px,#90ff66 95px,#00baff 96px,#004cff 97px,#0016ff 98px,#00f 99px,#0000f7 101px,#00f 103px,#001cff 104px,#0057ff 105px,#00c6ff 106px,#8bff6c 107px,#ff9c00 108px,#ffd400 109px,#48ffae 110px,#008fff 111px,#002fff 112px,#00f 113px,#0000bf 116px,#0000a0 120px,#00008e 128px,#000084 144px,#000082 168px,#008 192px,#000090 199px,#00009f 203px,#0000b2 205px,#0000c5 206px,#0000e7 207px,#01f 208px,#0069ff 209px,#00a3ff 210px,#0063ff 211px,#000fff 212px,#0000ea 213px,#0000cd 214px,#0000b7 216px,#0000b4 218px,#0000c0 220px,#0000ce 221px,#0000e9 222px,#000bff 223px,#0052ff 224px,#0052ff 225px,#0015ff 226px,#00f 227px,#0000eb 229px,#0000f4 236px,#0000e9 240px,#0000a3 252px,#00008e 264px,#000083 288px,#000080 312px,#000080)}
.c1{background:linear-gradient(#000080,#000082 24px,#00008c 48px,#00009c 63px,#00b 72px,#0000da 77px,#00f 81px,#0006ff 82px,#02f 83px,#0053ff 84px,#00a6ff 85px,#28ffcf 86px,#3fffb8 87px,#00d9ff 88px,#008fff 89px,#007aff 90px,#009bff 91px,#22ffd5 92px,#e7ff10 93px,#ff8100 94px,#90ff66 95px,#00baff 96px,#004cff 97px,#0016ff 98px,#00f 99px,#0000f7 101px,#00f 103px,#001cff 104px,#0056ff 105px,#00c6ff 106px,#8bff6c 107px,#ff9b00 108px,#ffd300 109px,#49ffad 110px,#0090ff 111px,#0030ff 112px,#00f 113px,#0000bf 116px,#0000a0 120px,#00008e 128px,#000084 144px,#000082 168px,#008 192px,#000090 199px,#00009f 203px,#0000b2 205px,#0000c5 206px,#0000e7 207px,#01f 208px,#0069ff 209px,#00a3ff 210px,#0063ff 211px,#000fff 212px,#0000ea 213px,#0000cd 214px,#0000b7 216px,#0000b4 218px,#0000c0 220px,#0000ce 221px,#0000e9 222px,#000cff 223px,#0052ff 224px,#0052ff 225px,#0014ff 226px,#00f 227px,#0000eb 229px,#0000f4 236px,#0000e9 240px,#0000a3 252px,#00008e 264px,#000083 288px,#000080 312px,#000080)}
.c2{background:linear-gradient(#000080,#000082 24px,#00008c 48px,#00009c 63px,#00b 72px,#0000d9 77px,#00f 81px,#0006ff 82px,#02f 83px,#0051ff 84px,#00a4ff 85px,#26ffd1 86px,#3dffba 87px,#00d8ff 88px,#008dff 89px,#07f 90px,#0097ff 91px,#1bffdc 92px,#dcff1b 93px,#f80 94px,#91ff66 95px,#00baff 96px,#004cff 97px,#0016ff 98px,#00f 99px,#0000f7 101px,#00f 103px,#001cff 104px,#0056ff 105px,#00c5ff 106px,#89ff6e 107px,#ff9800 108px,#ffc700 109px,#52ffa5 110px,#0096ff 111px,#03f 112px,#00f 113px,#0000bf 116px,#0000a0 120px,#00008e 128px,#000084 144px,#000082 168px,#008 192px,#000090 199px,#00009f 203px,#0000b3 205px,#0000c6 206px,#0000e8 207px,#0013ff 208px,#006cff 209px,#00a3ff 210px,#0060ff 211px,#000dff 212px,#0000e9 213px,#0000cd 214px,#0000b7 216px,#0000b4 218px,#0000c0 220px,#0000cf 221px,#0000ea 222px,#000dff 223px,#0053ff 224px,#0050ff 225px,#0013ff 226px,#00f 227px,#0000eb 229px,#0000f4 236px,#0000e9 240px,#0000a3 252px,#00008e 264px,#000083 288px,#000080 312px,#000080)}
.c3{background:linear-gradient(#000080,#000082 24px,#00008c 48px,#00009c 63px,#0000ba 72px,#0000d9 77px,#00f 81px,#0005ff 82px,#0020ff 83px,#004eff 84px,#009fff 85px,#21ffd6 86px,#3affbd 87px,#00d5ff 88px,#008aff 89px,#0073ff 90px,#008fff 91px,#0ff8e8 92px,#c7ff30 93px,#ff9400 94px,#93ff63 95px,#00bcff 96px,#004cff 97px,#0016ff 98px,#00f 99px,#0000f6 101px,#00f 103px,#001cff 104px,#05f 105px,#00c2ff 106px,#86ff71 107px,#ff9300 108px,#ffb000 109px,#63ff94 110px,#00a2ff 111px,#003aff 112px,#0001ff 113px,#0000c1 116px,#0000a1 120px,#00008e 128px,#000084 144px,#000082 168px,#008 192px,#000091 199px,#00009f 203px,#0000b3 205px,#0000c7 206px,#0000ea 207px,#0017ff 208px,#0071ff 209px,#00a2ff 210px,#000aff 212px,#00c 214px,#0000b6 216px,#0000b4 218px,#0000c1 220px,#0000cf 221px,#0000eb 222px,#0010ff 223px,#0056ff 224px,#004dff 225px,#01f 226px,#0000fe 227px,#0000ea 229px,#0000f4 236px,#0000e9 240px,#0000a3 252px,#00008e 264px,#000083 288px,#000080 312px,#000080)}
.c4{background:linear-gradient(#000080,#000082 24px,#00008c 48px,#00009c 63px,#0000bf 72px,#00f 80px,#0003ff 81px,#0015ff 82px,#0030ff 83px,#005dff 84px,#00acff 85px,#2affcd 86px,#45ffb2 87px,#00e5f7 88px,#0098ff 89px,#007dff 90px,#0094ff 91px,#0af2ed 92px,#b5ff42 93px,#ff9a00 94px,#a0ff57 95px,#00c8ff 96px,#0054ff 97px,#001cff 98px,#00f 99px,#00f 103px,#001cff 104px,#0053ff 105px,#00bdff 106px,#7fff78 107px,#ff9000 108px,#ff9100 109px,#7cff7b 110px,#00b4ff 111px,#04f 112px,#0007ff 113px,#0000c3 116px,#0000a2 120px,#00008e 128px,#000084 144px,#000082 168px,#008 192px,#000091 199px,#0000a0 203px,#0000b5 205px,#0000c9 206px,#00e 207px,#001dff 208px,#0079ff 209px,#00a1ff 210px,#0005ff 212px,#0000ca 214px,#0000b6 216px,#0000b4 218px,#0000c1 220px,#0000d1 221px,#00e 222px,#0014ff 223px,#0059ff 224px,#0049ff 225px,#000dff 226px,#0000fc 227px,#0000ea 229px,#0000f4 236px,#0000e9 240px,#0000a3 252px,#00008e 264px,#000083 288px,#000080 312px,#000080)}
.c5{background:linear-gradient(#000080,#000082 24px,#00008c 48px,#00009c 63px,#0000bf 72px,#00f 80px,#0001ff 81px,#0012ff 82px,#002dff 83px,#0058ff 84px,#00a4ff 85px,#21ffd6 86px,#3fffb8 87px,#00e1fa 88px,#0093ff 89px,#0076ff 90px,#08f 91px,#00daff 92px,#93ff64 93px,#ffb100 94px,#a8ff4f 95px,#00cfff 96px,#0057ff 97px,#001cff 98px,#00f 99px,#00f 103px,#001aff 104px,#004fff 105px,#00b5ff 106px,#73ff84 107px,#ff9400 108px,#ff6c00 109px,#9dff5a 110px,#0cf 111px,#0052ff 112px,#000fff 113px,#0000f5 114px,#0000c6 116px,#0000a3 120px,#00008e 128px,#000084 144px,#000082 168px,#008 192px,#000091 199px,#0000a1 203px,#0000b6 205px,#0000cd 206px,#0000f4 207px,#0026ff 208px,#0082ff 209px,#009dff 210px,#00f 212px,#0000c8 214px,#0000b5 216px,#0000b4 218px,#0000c2 220px,#0000d2 221px,#0000f1 222px,#001bff 223px,#005cff 224px,#0042ff 225px,#0008ff 226px,#0000f9 227px,#0000e9 229px,#0000f3 236px,#0000e9 240px,#0000a3 252px,#00008e 264px,#000083 288px,#000080 312px,#000080)}
.c6{background:linear-gradient(#000080,#000082 24px,#00008c 48px,#00009c 63px,#0000bf 72px,#00f 80px,#00f 81px,#0010ff 82px,#0029ff 83px,#0052ff 84px,#009aff 85px,#16ffe0 86px,#38ffbf 87px,#00dcfe 88px,#008fff 89px,#006fff 90px,#007bff 91px,#00c2ff 92px,#6fff88 93px,#ffcd00 94px,#b3ff44 95px,#00d9ff 96px,#005bff 97px,#001eff 98px,#00f 99px,#0000f9 101px,#00f 103px,#0017ff 104px,#004aff 105px,#0af 106px,#62ff95 107px,#ffa100 108px,#ff4700 109px,#c6ff30 110px,#05ecf2 111px,#0063ff 112px,#0019ff 113px,#0000fc 114px,#0000c9 116px,#0000a4 120px,#00008f 128px,#000084 144px,#000082 168px,#008 192px,#000091 199px,#0000a2 203px,#0000b9 205px,#0000d1 206px,#0000fb 207px,#0032ff 208px,#008eff 209px,#0096ff 210px,#003eff 211px,#00f 212px,#0000dc 213px,#0000c6 214px,#0000b4 216px,#0000b4 218px,#0000c3 220px,#0000d4 221px,#0000f6 222px,#0023ff 223px,#005fff 224px,#003aff 225px,#0003ff 226px,#0000e8 229px,#0000f3 236px,#0000e9 240px,#0000a3 252px,#00008e 264px,#000083 288px,#000080 312px,#000080)}
.c7{background:linear-gradient(#000080,#000082 24px,#00008c 48px,#00009b 63px,#0000be 72px,#00f 80px,#00f 81px,#000dff 82px,#0025ff 83px,#004cff 84px,#008fff 85px,#0af2ec 86px,#30ffc7 87px,#00d8ff 88px,#0089ff 89px,#0067ff 90px,#006eff 91px,#0af 92px,#4affad 93px,#fcf000 94px,#c1ff36 95px,#02e8f4 96px,#0062ff 97px,#0021ff 98px,#00f 99px,#0000f8 101px,#00f 103px,#0013ff 104px,#0042ff 105px,#009bff 106px,#4cffaa 107px,#fb0 108px,#ff2800 109px,#f8f400 110px,#25ffd2 111px,#0079ff 112px,#0025ff 113px,#00f 114px,#0000cd 116px,#0000be 117px,#0000a5 120px,#00008f 128px,#000085 144px,#000082 168px,#008 192px,#000092 199px,#0000a3 203px,#0000bc 205px,#0000d6 206px,#00f 207px,#0040ff 208px,#09f 209px,#008bff 210px,#0031ff 211px,#0000fe 212px,#0000d7 213px,#0000c2 214px,#0000b2 216px,#0000b2 218px,#0000c0 220px,#0000d2 221px,#0000f6 222px,#0025ff 223px,#0057ff 224px,#0025ff 225px,#0000fe 226px,#0000e2 227px,#0000d1 229px,#0000c8 240px,#00009d 252px,#00008e 264px,#000083 288px,#000080 312px,#000080)}
.c8{background:linear-gradient(#000080,#000082 24px,#00008c 48px,#00009b 63px,#0000be 72px,#0000fe 80px,#000aff 82px,#0020ff 83px,#04f 84px,#0083ff 85px,#00e2fa 86px,#26ffd1 87px,#00d2ff 88px,#0084ff 89px,#005fff 90px,#0062ff 91px,#0092ff 92px,#25ffd2 93px,#d4ff23 94px,#ceff29 95px,#12fce5 96px,#006aff 97px,#0024ff 98px,#0001ff 99px,#0000f7 101px,#00f 103px,#000eff 104px,#0039ff 105px,#008aff 106px,#32ffc5 107px,#ffe300 108px,#ff1700 109px,#ffb300 110px,#4cffab 111px,#0094ff 112px,#0035ff 113px,#00f 114px,#0000c1 117px,#0000a7 120px,#00008f 128px,#000085 144px,#000082 168px,#000089 192px,#000092 199px,#0000a4 203px,#0000c0 205px,#0001ff 207px,#00a2ff 209px,#007cff 210px,#02f 211px,#0000f5 212px,#0000d2 213px,#0000c0 214px,#0000b1 216px,#0000b2 218px,#0000c2 220px,#0000d6 221px,#0000fe 222px,#0031ff 223px,#05f 224px,#001aff 225px,#0000f7 226px,#0000df 227px,#0000d0 229px,#0000c8 240px,#00009d 252px,#00008e 264px,#000083 288px,#000080 312px,#000080)}
.c9{background:linear-gradient(#000080,#000082 24px,#00008c 48px,#00009b 63px,#0000bd 72px,#0000fc 80px,#0007ff 82px,#001bff 83px,#003cff 84px,#0076ff 85px,#00d0ff 86px,#1bffdc 87px,#0cf 88px,#007eff 89px,#0057ff 90px,#05f 91px,#007aff 92px,#00e5f7 93px,#a4ff53 94px,#d4ff23 95px,#25ffd2 96px,#0075ff 97px,#0028ff 98px,#0002ff 99px,#0000f5 101px,#0008ff 104px,#002fff 105px,#07f 106px,#14ffe3 107px,#daff1d 108px,#ff1f00 109px,#ff7000 110px,#7cff7b 111px,#00b5ff 112px,#0047ff 113px,#0009ff 114px,#0000f1 115px,#0000c5 117px,#0000a8 120px,#000090 128px,#000085 144px,#000082 168px,#000089 192px,#00009f 202px,#0000b2 204px,#0000c5 205px,#0000e6 206px,#0010ff 207px,#0068ff 208px,#00a7ff 209px,#0069ff 210px,#0013ff 211px,#0000ec 212px,#0000cd 213px,#0000bd 214px,#0000b1 216px,#0000b2 218px,#0000c4 220px,#0000db 221px,#00f 222px,#003eff 223px,#004eff 224px,#000fff 225px,#0000f1 226px,#0000db 227px,#0000cf 229px,#0000c8 240px,#00009d 252px,#00008e 264px,#000083 288px,#000080 312px,#000080)}
.c10{background:linear-gradient(#000080,#000082 24px,#00008c 48px,#00009b 63px,#0000bd 72px,#0000fa 80px,#0003ff 82px,#0034ff 84px,#0069ff 85px,#00bcff 86px,#0ef7e8 87px,#00c5ff 88px,#0079ff 89px,#0050ff 90px,#0048ff 91px,#0065ff 92px,#00baff 93px,#6fff88 94px,#cfff27 95px,#3affbc 96px,#0082ff 97px,#002dff 98px,#0004ff 99px,#0000fd 100px,#0000f4 102px,#0001ff 104px,#0023ff 105px,#0062ff 106px,#00d8ff 107px,#a5ff52 108px,#ff4300 109px,#f30 110px,#b5ff42 111px,#00ddfd 112px,#005dff 113px,#0016ff 114px,#0000fa 115px,#0000c9 117px,#00a 120px,#000090 128px,#000085 144px,#000082 168px,#000089 192px,#000091 198px,#0000a0 202px,#0000b5 204px,#0000cb 205px,#0000f1 206px,#02f 207px,#007fff 208px,#00a3ff 209px,#0004ff 211px,#0000c8 213px,#0000b0 216px,#0000ba 219px,#0000c7 220px,#0005ff 222px,#004aff 223px,#0043ff 224px,#0003ff 225px,#0000d8 227px,#0000d0 228px,#0000c8 240px,#00009d 252px,#00008e 264px,#000083 288px,#000080 312px,#000080)}
.c11{background:linear-gradient(#000080,#000082 24px,#00008c 48px,#00009c 64px,#0000bd 72px,#0000fc 79px,#0004ff 81px,#0013ff 82px,#04f 84px,#0075ff 85px,#00c4ff 86px,#17ffe0 87px,#00daff 88px,#008fff 89px,#0064ff 90px,#0058ff 91px,#006aff 92px,#00acff 93px,#4bffab 94px,#ccff2b 95px,#61ff96 96px,#00a3ff 97px,#0041ff 98px,#01f 99px,#00f 100px,#0000f8 102px,#00f 104px,#001bff 105px,#0050ff 106px,#00b4ff 107px,#70ff87 108px,#ff7f00 109px,#ed0400 110px,#fbf000 111px,#24ffd2 112px,#007aff 113px,#0026ff 114px,#00f 115px,#0000ce 117px,#0000ab 120px,#000090 128px,#000085 144px,#000082 168px,#000089 192px,#000091 198px,#0000a2 202px,#0000ba 204px,#0000d3 205px,#00f 206px,#003aff 207px,#0096ff 208px,#0095ff 209px,#003aff 210px,#00f 211px,#0000da 212px,#0000c3 213px,#0000af 216px,#00b 219px,#0000cb 220px,#0000e9 221px,#0013ff 222px,#0053ff 223px,#0034ff 224px,#00f 225px,#0000e4 226px,#0000cf 228px,#0000d0 236px,#0000c8 240px,#00009d 252px,#00008e 264px,#000083 288px,#000080 312px,#000080)}
.c12{background:linear-gradient(#000080,#000082 24px,#00008c 48px,#00009c 64px,#0000bc 72px,#0000fa 79px,#0002ff 81px,#000fff 82px,#003cff 84px,#0068ff 85px,#00b0ff 86px,#08f0ee 87px,#00d2ff 88px,#008aff 89px,#005dff 90px,#004eff 91px,#0059ff 92px,#008bff 93px,#1affdd 94px,#a9ff4e 95px,#78ff7f 96px,#00b9ff 97px,#004aff 98px,#0014ff 99px,#00f 100px,#0000f5 102px,#00f 104px,#0010ff 105px,#003dff 106px,#0091ff 107px,#3cffbb 108px,#ffce00 109px,#d00 110px,#ff9500 111px,#5cff9b 112px,#009fff 113px,#003bff 114px,#0003ff 115px,#0000c3 118px,#0000ae 120px,#000091 128px,#000085 144px,#000082 168px,#000089 192px,#000092 198px,#0000a4 202px,#0000c0 204px,#0003ff 206px,#00a6ff 208px,#007eff 209px,#0023ff 210px,#0000f5 211px,#0000d2 212px,#0000bf 213px,#0000af 216px,#0000be 219px,#0000d0 220px,#0000f4 221px,#0024ff 222px,#0056ff 223px,#0024ff 224px,#0000fb 225px,#0000de 226px,#0000cd 228px,#0000d0 236px,#0000c8 240px,#00009d 252px,#00008e 264px,#000083 288px,#000080 312px,#000080)}
.c13{background:linear-gradient(#000080,#000082 24px,#00008c 48px,#00009b 64px,#00b 72px,#0000f8 79px,#00f 81px,#000cff 82px,#0034ff 84px,#005cff 85px,#00ddfe 87px,#00c9ff 88px,#0084ff 89px,#0056ff 90px,#04f 91px,#004aff 92px,#006fff 93px,#00cfff 94px,#79ff7d 95px,#8bff6c 96px,#00d6ff 97px,#0057ff 98px,#0019ff 99px,#00f 100px,#0000f2 102px,#0005ff 105px,#002bff 106px,#0071ff 107px,#0bf4eb 108px,#cdff2a 109px,#ff1700 110px,#ff3b00 111px,#a3ff54 112px,#00d0ff 113px,#0056ff 114px,#0012ff 115px,#0000f7 116px,#0000c7 118px,#0000b0 120px,#00009e 123px,#000091 128px,#000085 144px,#000082 168px,#000089 192px,#00009f 201px,#0000b4 203px,#0000c8 204px,#0000ec 205px,#001aff 206px,#0076ff 207px,#0af 208px,#000cff 210px,#0000e7 211px,#0000ca 212px,#00b 213px,#0000ae 216px,#0000c1 219px,#0000d6 220px,#00f 221px,#0037ff 222px,#0051ff 223px,#0012ff 224px,#0000f1 225px,#0000d9 226px,#00c 228px,#0000d0 235px,#0000c8 240px,#00009d 252px,#00008e 264px,#000083 288px,#000080 312px,#000080)}
.c14{background:linear-gradient(#000080,#000082 24px,#00008c 48px,#00009b 64px,#00b 72px,#00f 80px,#0009ff 82px,#002dff 84px,#0050ff 85px,#00c8ff 87px,#00bfff 88px,#007fff 89px,#0050ff 90px,#003cff 91px,#003dff 92px,#0058ff 93px,#00a2ff 94px,#45ffb2 95px,#91ff66 96px,#10f9e7 97px,#0068ff 98px,#0020ff 99px,#00f 100px,#0000f0 102px,#00f 105px,#001bff 106px,#0054ff 107px,#00beff 108px,#81ff76 109px,#ff6300 110px,#dc0000 111px,#fbf100 112px,#23ffd4 113px,#0079ff 114px,#0026ff 115px,#00f 116px,#0000cd 118px,#0000b3 120px,#0000a0 123px,#000091 128px,#000085 144px,#000082 168px,#000089 192px,#000093 198px,#0000a2 201px,#0000ba 203px,#0000d2 204px,#00f 205px,#0038ff 206px,#0096ff 207px,#009cff 208px,#0041ff 209px,#00f 210px,#0000c5 212px,#0000b2 214px,#0000b0 216px,#0000c9 219px,#0008ff 221px,#004fff 222px,#004bff 223px,#000bff 224px,#0000f3 225px,#0000da 227px,#0000db 235px,#0000cb 240px,#00009e 251px,#00008e 264px,#000083 288px,#000080 312px,#000080)}
.c15{background:linear-gradient(#000080,#000082 24px,#00008b 48px,#00009b 64px,#0000ba 72px,#00f 80px,#0005ff 82px,#0026ff 84px,#04f 85px,#00b4ff 87px,#00b4ff 88px,#0079ff 89px,#004bff 90px,#0035ff 91px,#0032ff 92px,#04f 93px,#007cff 94px,#10fae7 95px,#82ff75 96px,#2fffc8 97px,#007eff 98px,#0029ff 99px,#00f 100px,#0000ec 103px,#00f 105px,#000dff 106px,#003bff 107px,#0090ff 108px,#3cffbb 109px,#ffcb00 110px,#c90000 111px,#ff7f00 112px,#69ff8e 113px,#00a8ff 114px,#0040ff 115px,#0005ff 116px,#0000d5 118px,#0000b7 120px,#0000a1 123px,#000094 127px,#000085 144px,#000082 168px,#00008a 192px,#000094 198px,#0000a5 201px,#0000c1 203px,#0007ff 205px,#00abff 207px,#007fff 208px,#02f 209px,#0000f5 210px,#0000d2 211px,#0000bf 212px,#0000b0 214px,#0000b0 216px,#0000be 218px,#0000ce 219px,#0000ef 220px,#001bff 221px,#005bff 222px,#0038ff 223px,#00f 224px,#00d 226px,#0000d7 227px,#0000da 235px,#0000cb 240px,#00009e 251px,#00008e 264px,#000083 288px,#000080 312px,#000080)}
.c16{background:linear-gradient(#000080,#000082 24px,#00008b 48px,#00009b 64px,#0000ba 72px,#0000fd 80px,#0002ff 82px,#001fff 84px,#003aff 85px,#06f 86px,#009fff 87px,#00a8ff 88px,#0046ff 90px,#002eff 91px,#0028ff 92px,#0034ff 93px,#005cff 94px,#00bfff 95px,#5eff99 96px,#4affac 97px,#009aff 98px,#0035ff 99px,#0004ff 100px,#0000fa 101px,#0000e9 103px,#00f 106px,#0025ff 107px,#0068ff 108px,#01e6f6 109px,#bcff3b 110px,#ff1d00 111px,#ff1400 112px,#c3ff33 113px,#01e7f6 114px,#0062ff 115px,#0019ff 116px,#0000fc 117px,#0000de 118px,#00b 120px,#0000a3 123px,#000095 127px,#000085 144px,#000082 168px,#00008a 192px,#000096 198px,#0000a8 201px,#0000cb 203px,#0000f2 204px,#0024ff 205px,#0084ff 206px,#00abff 207px,#0007ff 209px,#0000c9 211px,#0000ba 212px,#0000af 214px,#0000b1 216px,#0000c1 218px,#0000d5 219px,#0000fd 220px,#005cff 222px,#0023ff 223px,#0000fe 224px,#0000e4 225px,#0000d5 227px,#0000db 234px,#0000cb 240px,#00009e 251px,#00008e 264px,#000083 288px,#000080 312px,#000080)}
.c17{background:linear-gradient(#000080,#000082 24px,#00008b 48px,#000098 64px,#0000ab 72px,#0000c5 77px,#0000fe 83px,#00f 84px,#0018ff 85px,#0040ff 86px,#07f 87px,#008bff 88px,#0035ff 90px,#001fff 91px,#001aff 92px,#02f 93px,#0041ff 94px,#008dff 95px,#2dffca 96px,#5bff9b 97px,#00beff 98px,#0048ff 99px,#000dff 100px,#00f 101px,#0000e9 103px,#0000ea 104px,#00f 106px,#0014ff 107px,#0049ff 108px,#0af 109px,#64ff93 110px,#ff8900 111px,#ba0000 112px,#ffb200 113px,#46ffb0 114px,#0090ff 115px,#03f 116px,#00f 117px,#0000c0 120px,#0000a5 123px,#000096 127px,#000085 144px,#000082 168px,#00008a 192px,#000094 197px,#0000a3 200px,#0000bd 202px,#00f 204px,#004aff 205px,#00a6ff 206px,#0093ff 207px,#03f 208px,#00f 209px,#0000d7 210px,#0000b6 212px,#0000b1 216px,#0000c5 218px,#00f 220px,#0046ff 221px,#0051ff 222px,#000fff 223px,#0000f2 224px,#0000de 225px,#0000d6 226px,#0000da 235px,#0000cb 240px,#00009e 251px,#00008e 264px,#000083 288px,#000080 312px,#000080)}
.c18{background:linear-gradient(#000080,#000082 24px,#00008b 48px,#000098 64px,#00a 72px,#0000cb 78px,#00f 84px,#000fff 85px,#0032ff 86px,#0063ff 87px,#007dff 88px,#0031ff 90px,#001aff 91px,#0012ff 92px,#0017ff 93px,#002dff 94px,#0065ff 95px,#00dcfe 96px,#55ffa1 97px,#00e4f8 98px,#005cff 99px,#0015ff 100px,#00f 101px,#0000ef 102px,#0000e5 104px,#0004ff 107px,#002dff 108px,#0078ff 109px,#19ffde 110px,#e5ff11 111px,#d00 112px,#ff3000 113px,#a3ff54 114px,#00d0ff 115px,#05f 116px,#0012ff 117px,#0000f7 118px,#0000c7 120px,#0000a8 123px,#000097 127px,#000085 144px,#000082 168px,#00008b 192px,#000095 197px,#0000a7 200px,#0000c7 202px,#0000eb 203px,#0019ff 204px,#07f 205px,#00b2ff 206px,#006bff 207px,#0012ff 208px,#0000ea 209px,#00c 210px,#0000b2 212px,#0000b2 216px,#0000ca 218px,#0000e8 219px,#0013ff 220px,#0057ff 221px,#003dff 222px,#00f 223px,#0000d9 225px,#0000d3 226px,#0000db 234px,#0000cb 240px,#00009e 251px,#00008e 264px,#000083 288px,#000080 312px,#000080)}
.c19{background:linear-gradient(#000080,#000082 24px,#00008b 48px,#000098 64px,#00a 72px,#0000ca 78px,#00f 84px,#0007ff 85px,#006eff 88px,#0054ff 89px,#002cff 90px,#0015ff 91px,#000dff 93px,#001cff 94px,#0045ff 95px,#00a2ff 96px,#38ffbf 97px,#1bffdc 98px,#0075ff 99px,#0020ff 100px,#00f 101px,#0000e4 103px,#0000e1 104px,#0000e5 105px,#00f 107px,#0016ff 108px,#0050ff 109px,#00b9ff 110px,#7cff7b 111px,#ff6300 112px,#ba0000 113px,#ffcf00 114px,#35ffc2 115px,#0084ff 116px,#002cff 117px,#00f 118px,#0000cf 120px,#0000ab 123px,#000098 127px,#000085 144px,#000083 168px,#00008b 192px,#000097 197px,#0000ac 200px,#0000d6 202px,#00f 203px,#0042ff 204px,#00a2ff 205px,#009fff 206px,#0040ff 207px,#00f 208px,#0000da 209px,#0000b6 211px,#0000ac 213px,#0000b3 216px,#0000d1 218px,#0000f7 219px,#005bff 221px,#0025ff 222px,#0000fd 223px,#0000e1 224px,#0000d1 226px,#0000da 234px,#0000cb 240px,#00009e 251px,#00008e 264px,#000083 288px,#000080 312px,#000080)}
.c20{background:linear-gradient(#000080,#000082 24px,#00008b 48px,#000097 64px,#0000a9 72px,#0000c9 78px,#00f 84px,#00f 85px,#0019ff 86px,#005fff 88px,#004dff 89px,#0028ff 90px,#0010ff 91px,#0005ff 93px,#000fff 94px,#002cff 95px,#0072ff 96px,#0bf3ec 97px,#2dffca 98px,#0094ff 99px,#002eff 100px,#00f 101px,#0000de 104px,#0000e7 106px,#0004ff 108px,#0030ff 109px,#007fff 110px,#25ffd2 111px,#fbf100 112px,#c80000 113px,#ff3f00 114px,#94ff62 115px,#00c5ff 116px,#0050ff 117px,#000eff 118px,#0000f4 119px,#0000d8 120px,#0000ae 123px,#009 127px,#000085 144px,#000083 168px,#00008c 192px,#000095 196px,#0000a6 199px,#0000c7 201px,#0000ea 202px,#0017ff 203px,#0075ff 204px,#00b9ff 205px,#07f 206px,#001bff 207px,#0000f0 208px,#0000cf 209px,#0000b5 211px,#0000b1 214px,#0000bf 216px,#0000cd 217px,#0009ff 219px,#0054ff 220px,#0065ff 221px,#0025ff 222px,#00f 223px,#0000f2 226px,#0000fc 233px,#0000d7 240px,#0000b5 245px,#0000a0 250px,#00008e 264px,#000083 288px,#000080 312px,#000080)}
.c21{background:linear-gradient(#000080,#000082 24px,#00008b 48px,#000097 64px,#0000a9 72px,#0000c8 78px,#00f 85px,#000fff 86px,#0050ff 88px,#0045ff 89px,#000cff 91px,#00f 93px,#0005ff 94px,#0019ff 95px,#004cff 96px,#00b7ff 97px,#2affcc 98px,#00b8ff 99px,#0041ff 100px,#0004ff 101px,#0000e3 103px,#0000db 105px,#0000e0 106px,#00f 108px,#0016ff 109px,#0052ff 110px,#00bfff 111px,#86ff71 112px,#ff5400 113px,#b00 114px,#ffd900 115px,#2fffc8 116px,#0080ff 117px,#002aff 118px,#00f 119px,#0000e4 120px,#0000cd 121px,#0000b3 123px,#00009b 127px,#000086 144px,#000083 168px,#00008d 192px,#000097 196px,#0000ac 199px,#0000d6 201px,#00f 202px,#04f 203px,#00a9ff 204px,#00acff 205px,#0049ff 206px,#00f 207px,#0000c6 209px,#0000b2 211px,#0000b2 214px,#0000c1 216px,#0000d3 217px,#0000f3 218px,#001eff 219px,#06f 220px,#0050ff 221px,#0012ff 222px,#00f 223px,#0000f0 225px,#0000fb 233px,#0000d7 240px,#0000b5 245px,#0000a0 250px,#00008e 264px,#000083 288px,#000080 312px,#000080)}
.c22{background:linear-gradient(#000080,#000082 24px,#00008b 48px,#000097 64px,#0000a9 72px,#0000ce 79px,#00f 85px,#0006ff 86px,#0041ff 88px,#003eff 89px,#0008ff 91px,#00f 94px,#000bff 95px,#002fff 96px,#0082ff 97px,#12fbe5 98px,#00daff 99px,#0059ff 100px,#000eff 101px,#0000f7 102px,#0000e3 103px,#0000d7 105px,#0000e3 107px,#0002ff 109px,#002fff 110px,#007fff 111px,#26ffd1 112px,#feed00 113px,#c50000 114px,#ff4100 115px,#92ff64 116px,#00c3ff 117px,#004eff 118px,#000dff 119px,#0000f3 120px,#0000c5 122px,#0000a1 126px,#00008e 133px,#000086 144px,#000083 168px,#00008d 192px,#0000a7 198px,#0000c9 200px,#0000ed 201px,#001cff 202px,#007eff 203px,#00c6ff 204px,#0082ff 205px,#0021ff 206px,#0000f4 207px,#0000d1 208px,#0000b4 210px,#0000ae 213px,#0000c5 216px,#0000da 217px,#00f 218px,#006cff 220px,#0003ff 222px,#00e 225px,#0000fb 233px,#0000d7 240px,#0000b5 245px,#00009f 250px,#00008e 264px,#000083 288px,#000080 312px,#000080)}
.c23{background:linear-gradient(#000080,#000082 24px,#00008b 48px,#000097 64px,#0000a8 72px,#0000cd 79px,#0000fe 85px,#00f 86px,#0032ff 88px,#0035ff 89px,#0005ff 91px,#00f 92px,#00f 95px,#0019ff 96px,#0057ff 97px,#00cbff 98px,#08f0ee 99px,#0076ff 100px,#001bff 101px,#0000fd 102px,#0000e4 103px,#0000d4 105px,#0000db 107px,#00f 109px,#0013ff 110px,#004fff 111px,#0bf 112px,#82ff75 113px,#ff5900 114px,#b90000 115px,#ffd600 116px,#31ffc6 117px,#0081ff 118px,#002aff 119px,#00f 120px,#0000cd 122px,#0000bd 123px,#0000a3 126px,#000090 132px,#000086 144px,#000083 168px,#00008e 192px,#00009c 196px,#0000ae 198px,#0000be 199px,#00f 201px,#004fff 202px,#00b8ff 203px,#00b9ff 204px,#0051ff 205px,#0001ff 206px,#0000c7 208px,#0000b1 210px,#0000ae 213px,#0000c9 216px,#0006ff 218px,#0051ff 219px,#0062ff 220px,#0021ff 221px,#00f 222px,#0000f2 223px,#0000ec 225px,#0000fb 233px,#0000d7 240px,#0000b5 245px,#00009f 250px,#00008e 264px,#000083 288px,#000080 312px,#000080)}
.c24{background:linear-gradient(#000080,#000082 24px,#00008b 48px,#0000a0 72px,#0000c5 82px,#00d 85px,#00f 87px,#0018ff 89px,#0004ff 90px,#00f 91px,#0000ef 93px,#0003ff 96px,#0032ff 97px,#0094ff 98px,#07eef0 99px,#0096ff 100px,#002cff 101px,#00f 102px,#0000d9 104px,#0000d2 106px,#0000e0 108px,#00f 110px,#002bff 111px,#007aff 112px,#20ffd7 113px,#f4f802 114px,#c00 115px,#ff3900 116px,#99ff5e 117px,#00c8ff 118px,#0050ff 119px,#000eff 120px,#0000f4 121px,#0000c5 123px,#0000a1 127px,#00008f 133px,#000086 144px,#000083 168px,#000090 192px,#0000a9 197px,#0000cd 199px,#0000f4 200px,#0026ff 201px,#008fff 202px,#00d7ff 203px,#008cff 204px,#0026ff 205px,#0000f7 206px,#0000d3 207px,#0000bf 208px,#0000ae 210px,#0000af 213px,#0000be 215px,#0000cf 216px,#0000ef 217px,#001bff 218px,#0064ff 219px,#004dff 220px,#000dff 221px,#0000fb 222px,#0000e9 224px,#0000fb 233px,#0000d7 240px,#0000b5 245px,#00009f 250px,#00008e 264px,#000083 288px,#000080 312px,#000080)}
.c25{background:linear-gradient(#000080,#000082 24px,#00008b 48px,#00009f 72px,#0000ca 83px,#0002ff 88px,#000fff 89px,#00f 90px,#0000eb 93px,#00f 96px,#0019ff 97px,#0067ff 98px,#00d6ff 99px,#00b8ff 100px,#0043ff 101px,#00f 102px,#0000d9 104px,#0000ce 106px,#0000d8 108px,#0000fc 110px,#0010ff 111px,#004aff 112px,#00b3ff 113px,#76ff81 114px,#ff6900 115px,#b70000 116px,#ffc900 117px,#38ffbf 118px,#0085ff 119px,#002cff 120px,#00f 121px,#0000bd 124px,#0000a3 127px,#000090 133px,#000086 144px,#000083 168px,#000091 192px,#00009d 195px,#0000b0 197px,#0000c2 198px,#0007ff 200px,#0060ff 201px,#00ceff 202px,#00c7ff 203px,#0058ff 204px,#0005ff 205px,#0000c8 207px,#0000ac 210px,#0000b6 214px,#0000d6 216px,#00f 217px,#006aff 219px,#00f 221px,#0000e9 223px,#0000e7 224px,#0000fb 233px,#0000d7 240px,#0000b5 245px,#00009f 250px,#00008e 264px,#000083 288px,#000080 312px,#000080)}
.c26{background:linear-gradient(#000080,#000082 24px,#00008b 48px,#00009f 72px,#0000c8 83px,#0000e0 86px,#00f 88px,#00f 90px,#0000e8 93px,#0000ed 95px,#0000fa 96px,#0007ff 97px,#0042ff 98px,#00afff 99px,#00d0ff 100px,#005fff 101px,#000dff 102px,#0000f1 103px,#0000db 104px,#00c 106px,#0000d1 108px,#00f 111px,#0026ff 112px,#0072ff 113px,#15ffe1 114px,#e4ff13 115px,#db0000 116px,#ff2d00 117px,#a4ff53 118px,#00cfff 119px,#0054ff 120px,#0010ff 121px,#0000f5 122px,#0000c5 124px,#0000a0 128px,#00008f 134px,#000086 144px,#000083 168px,#000087 184px,#000093 192px,#0000a2 195px,#0000ba 197px,#0000d3 198px,#0000fe 199px,#0035ff 200px,#00a7ff 201px,#06ecf1 202px,#0096ff 203px,#002bff 204px,#0000fa 205px,#0000d5 206px,#0000c0 207px,#0000ab 210px,#0000b8 214px,#0000e0 216px,#0002ff 217px,#004eff 218px,#0061ff 219px,#001eff 220px,#00f 221px,#0000ec 222px,#0000e5 223px,#0000fc 232px,#0000f0 236px,#0000d7 240px,#0000b5 245px,#00009f 250px,#00008e 264px,#000083 288px,#000080 312px,#000080)}
.c27{background:linear-gradient(#000080,#000082 24px,#00008b 48px,#00009f 72px,#00c 84px,#0000dc 86px,#0000fc 88px,#00f 90px,#0000e5 93px,#0000f2 96px,#00f 97px,#0027ff 98px,#00d6ff 100px,#0080ff 101px,#001eff 102px,#0000fa 103px,#0000de 104px,#0000d0 105px,#0000c9 107px,#0000d4 109px,#0000f8 111px,#000bff 112px,#0043ff 113px,#00a9ff 114px,#68ff8e 115px,#ff7d00 116px,#b70000 117px,#ffba00 118px,#40ffb6 119px,#008bff 120px,#002fff 121px,#00f 122px,#0000bd 125px,#0000a3 128px,#000090 134px,#000087 144px,#000083 168px,#008 184px,#000095 192px,#0000b4 196px,#0000c7 197px,#0000e9 198px,#0014ff 199px,#0075ff 200px,#03e9f4 201px,#00d7ff 202px,#005fff 203px,#0009ff 204px,#0000ca 206px,#00b 207px,#0000ac 210px,#0000af 212px,#0000bf 214px,#0000d1 215px,#0000f1 216px,#001dff 217px,#0067ff 218px,#0053ff 219px,#01f 220px,#0000fd 221px,#0000e8 223px,#0000ea 232px,#0000c0 240px,#00009c 249px,#00008e 264px,#000083 288px,#000080 312px,#000080)}
.c28{background:linear-gradient(#000080,#000082 24px,#00008b 48px,#00009f 72px,#0000cb 84px,#0000d8 86px,#00f 89px,#00f 90px,#0000e2 93px,#0000eb 96px,#0000fd 97px,#0012ff 98px,#005eff 99px,#00c7ff 100px,#00a2ff 101px,#03f 102px,#00f 103px,#0000d2 105px,#0000c7 107px,#0000d8 110px,#00f 112px,#0021ff 113px,#006bff 114px,#0bf4eb 115px,#d4ff23 116px,#ec0400 117px,#ff2400 118px,#aeff49 119px,#00d6ff 120px,#0057ff 121px,#0012ff 122px,#0000f6 123px,#0000c5 125px,#0000a0 129px,#00008f 135px,#000087 144px,#000083 168px,#008 184px,#000098 192px,#0000a4 194px,#0000be 196px,#00f 198px,#0047ff 199px,#00c1ff 200px,#19ffde 201px,#00a1ff 202px,#0031ff 203px,#00f 204px,#0000d8 205px,#0000c2 206px,#0000af 208px,#0000ab 210px,#0000b0 212px,#0000c3 214px,#0000d8 215px,#00f 216px,#0070ff 218px,#0002ff 220px,#0000e5 223px,#0000ea 232px,#0000c0 240px,#00009c 249px,#00008e 264px,#000083 288px,#000080 312px,#000080)}
.c29{background:linear-gradient(#000080,#000082 24px,#00008b 48px,#00009f 72px,#0000c9 84px,#0000de 87px,#0000fa 89px,#0000fb 90px,#0000e0 93px,#0000e5 96px,#0002ff 98px,#003eff 99px,#00a9ff 100px,#00bcff 101px,#004dff 102px,#0001ff 103px,#0000d3 105px,#0000c5 108px,#0000d0 110px,#0007ff 113px,#003eff 114px,#00a1ff 115px,#5eff99 116px,#ff8e00 117px,#b00 118px,#ffb100 119px,#46ffb1 120px,#008eff 121px,#0030ff 122px,#00f 123px,#0000bd 126px,#0000a3 129px,#000090 135px,#000087 144px,#000083 168px,#00008a 185px,#00009b 192px,#0000b7 195px,#0000cd 196px,#0000f2 197px,#0020ff 198px,#008bff 199px,#19ffde 200px,#03eaf3 201px,#0069ff 202px,#000fff 203px,#0000ea 204px,#0000cd 205px,#0000bc 206px,#0000ad 208px,#0000ab 210px,#0000b1 212px,#0000c7 214px,#0002ff 216px,#004fff 217px,#006bff 218px,#0027ff 219px,#00f 220px,#0000e6 222px,#0000ec 231px,#0000c0 240px,#00009c 249px,#00008e 264px,#000083 288px,#000080 312px,#000080)}
.c30{background:linear-gradient(#000080,#000082 24px,#00008b 48px,#00009f 72px,#0000c2 81px,#0000e5 86px,#0000fc 88px,#0000fd 96px,#000cff 98px,#003aff 99px,#0098ff 100px,#00d9ff 101px,#001dff 103px,#0000fc 104px,#0000e1 105px,#0000d2 106px,#0000c8 108px,#0000d8 111px,#00f 113px,#001fff 114px,#0067ff 115px,#06edf1 116px,#cbff2c 117px,#f80d00 118px,#ff2400 119px,#b0ff46 120px,#00d7ff 121px,#0058ff 122px,#0012ff 123px,#0000f5 124px,#0000c4 126px,#0000a0 130px,#000090 135px,#000087 144px,#000084 168px,#00008b 185px,#00009e 192px,#0000c3 195px,#0003ff 197px,#0057ff 198px,#00dbff 199px,#2effc9 200px,#00b2ff 201px,#003bff 202px,#00f 203px,#0000db 204px,#0000c4 205px,#0000b0 207px,#00a 209px,#0000bc 213px,#00c 214px,#0000ec 215px,#0016ff 216px,#0065ff 217px,#005cff 218px,#0015ff 219px,#0000fc 220px,#0000e3 222px,#0000ec 231px,#0000c0 240px,#00009c 249px,#00008e 264px,#000083 288px,#000080 312px,#000080)}
.c31{background:linear-gradient(#000080,#000082 24px,#00008b 48px,#00009e 72px,#0000bc 80px,#00f 89px,#0000f9 96px,#0002ff 98px,#0026ff 99px,#0076ff 100px,#00d3ff 101px,#0097ff 102px,#002eff 103px,#00f 104px,#0000d3 106px,#0000c6 109px,#0000d1 111px,#0007ff 114px,#003dff 115px,#009fff 116px,#5cff9b 117px,#ff9200 118px,#c30000 119px,#ffb800 120px,#42ffb5 121px,#008bff 122px,#002eff 123px,#00f 124px,#0000cd 126px,#0000bd 127px,#0000a2 130px,#000091 135px,#000087 144px,#000084 168px,#00008b 185px,#0000a3 192px,#00b 194px,#0000d2 195px,#0000fa 196px,#002dff 197px,#00a0ff 198px,#33ffc4 199px,#1bffdb 200px,#007cff 201px,#001aff 202px,#0000f2 203px,#0000d1 204px,#0000bf 205px,#0000ae 207px,#0000a9 209px,#0000ae 211px,#0000bf 213px,#0000d3 214px,#0000f9 215px,#002dff 216px,#0073ff 217px,#0049ff 218px,#0007ff 219px,#0000f4 220px,#0000e1 222px,#0000ed 229px,#0000ea 232px,#0000c0 240px,#00009c 249px,#00008e 264px,#000083 288px,#000080 312px,#000080)}
.c32{background:linear-gradient(#000080,#000082 24px,#00008b 48px,#00009e 72px,#00b 80px,#0000e1 86px,#0000fe 89px,#0000f6 96px,#00f 98px,#0017ff 99px,#0059ff 100px,#00bfff 101px,#00b1ff 102px,#0042ff 103px,#00f 104px,#0000d5 106px,#0000c3 109px,#0000d5 112px,#00f 114px,#001fff 115px,#0068ff 116px,#09f0ee 117px,#d0ff27 118px,#f80d00 119px,#ff3400 120px,#a4ff53 121px,#00ceff 122px,#0052ff 123px,#000eff 124px,#0000f3 125px,#0000c3 127px,#0000a5 130px,#000092 135px,#008 144px,#000084 168px,#00008c 185px,#000096 189px,#0000a8 192px,#0000c7 194px,#0000e7 195px,#000cff 196px,#06f 197px,#0ef7e9 198px,#4fffa7 199px,#00d5ff 200px,#0050ff 201px,#0002ff 202px,#0000ca 204px,#0000ba 205px,#0000a9 209px,#0000af 211px,#0000c3 213px,#0000db 214px,#00f 215px,#0046ff 216px,#0076ff 217px,#00f 219px,#0000e3 221px,#0000e0 222px,#0000ec 231px,#0000c0 240px,#00009c 249px,#00008e 264px,#000083 288px,#000080 312px,#000080)}
.c33{background:linear-gradient(#000080,#000082 24px,#00008b 48px,#00009e 72px,#00b 80px,#00f 90px,#0000f3 96px,#00f 98px,#000cff 99px,#0041ff 100px,#00a5ff 101px,#00c3ff 102px,#0059ff 103px,#0009ff 104px,#00e 105px,#0000ca 107px,#0000c1 109px,#0000cf 112px,#0008ff 115px,#0040ff 116px,#00a7ff 117px,#67ff8f 118px,#ff8100 119px,#d10000 120px,#ffd500 121px,#31ffc6 122px,#0080ff 123px,#0028ff 124px,#00f 125px,#0000ca 127px,#0000a7 130px,#000093 135px,#008 144px,#000084 168px,#00008e 185px,#009 189px,#0000af 192px,#0000d8 194px,#00f 195px,#0037ff 196px,#00b2ff 197px,#50ffa6 198px,#45ffb2 199px,#00a1ff 200px,#002fff 201px,#00f 202px,#0000da 203px,#0000c4 204px,#0000b0 206px,#00a 208px,#0000b9 212px,#0000c8 213px,#0009ff 215px,#005cff 216px,#006dff 217px,#0020ff 218px,#0000fb 219px,#0000e1 220px,#0000d1 222px,#00c 230px,#0000ab 240px,#00009a 248px,#00008e 264px,#000083 288px,#000080 312px,#000080)}
.c34{background:linear-gradient(#000080,#000082 24px,#00008b 48px,#00009e 72px,#00b 80px,#0000fd 90px,#0000f1 96px,#0002ff 99px,#002eff 100px,#0089ff 101px,#00cbff 102px,#0015ff 104px,#0000f4 105px,#0000d9 106px,#0000cb 107px,#0000bf 110px,#0000d5 113px,#00f 115px,#0023ff 116px,#0072ff 117px,#19ffde 118px,#ebff0c 119px,#e90100 120px,#ff5b00 121px,#84ff73 122px,#00b7ff 123px,#0046ff 124px,#0007ff 125px,#0000c0 128px,#0000a3 131px,#000092 136px,#008 144px,#000084 168px,#00008f 185px,#00009c 189px,#0000b8 192px,#0000cb 193px,#0000ec 194px,#0012ff 195px,#0070ff 196px,#1effd8 197px,#7aff7d 198px,#22ffd4 199px,#0075ff 200px,#0017ff 201px,#0000f2 202px,#0000d3 203px,#0000c1 204px,#0000af 206px,#00a 208px,#0000bc 212px,#0000cd 213px,#00e 214px,#001cff 215px,#0070ff 216px,#0061ff 217px,#0013ff 218px,#0000f4 219px,#00d 220px,#0000d0 222px,#00c 230px,#0000ab 240px,#00009a 248px,#00008e 264px,#000083 288px,#000080 312px,#000080)}
.c35{background:linear-gradient(#000080,#000082 24px,#00008a 48px,#00009e 72px,#0000b5 79px,#0000f9 90px,#0000ef 96px,#00f 99px,#0020ff 100px,#00c7ff 102px,#0086ff 103px,#02f 104px,#0000fa 105px,#0000dc 106px,#0000cb 107px,#0000bd 110px,#0000ce 113px,#0000f7 115px,#000eff 116px,#004cff 117px,#00bdff 118px,#89ff6e 119px,#ff5700 120px,#f30900 121px,#e0ff17 122px,#11fae6 123px,#006aff 124px,#001bff 125px,#0000fb 126px,#0000c6 128px,#0000a6 131px,#000092 136px,#008 144px,#000084 168px,#000093 186px,#0000a7 190px,#0000c2 192px,#00f 194px,#003aff 195px,#00b6ff 196px,#66ff90 197px,#7fff78 198px,#00defd 199px,#0053ff 200px,#0006ff 201px,#0000be 204px,#00a 208px,#0000ae 210px,#0000bf 212px,#0000d3 213px,#0000fa 214px,#0031ff 215px,#007eff 216px,#0053ff 217px,#0008ff 218px,#00e 219px,#0000db 220px,#0000cf 222px,#00c 230px,#0000ab 240px,#00009a 248px,#00008e 264px,#000083 288px,#000080 312px,#000080)}
.c36{background:linear-gradient(#000080,#000082 24px,#00008a 48px,#00009e 72px,#0000b5 79px,#0000f6 90px,#00e 96px,#00f 99px,#0014ff 100px,#005aff 101px,#00bcff 102px,#009aff 103px,#0030ff 104px,#00f 105px,#0000df 106px,#00c 107px,#0000bc 110px,#0000c9 113px,#00f 116px,#002fff 117px,#0089ff 118px,#3dffba 119px,#ffc400 120px,#d00 121px,#ffa600 122px,#4effa8 123px,#0093ff 124px,#0031ff 125px,#00f 126px,#0000cd 128px,#0000a8 131px,#000093 136px,#000089 144px,#000085 168px,#000095 186px,#0000ac 190px,#0000cd 192px,#0000ed 193px,#01f 194px,#006bff 195px,#1cffdb 196px,#9eff58 197px,#69ff8e 198px,#00b2ff 199px,#003aff 200px,#00f 201px,#0000ca 203px,#00b 204px,#00a 208px,#0000b0 210px,#0000c3 212px,#0000da 213px,#00f 214px,#0085ff 216px,#00f 218px,#0000d9 220px,#0000d1 221px,#00c 230px,#0000ab 240px,#00009a 248px,#00008e 264px,#000083 288px,#000080 312px,#000080)}
.c37{background:linear-gradient(#000080,#000082 24px,#00008a 48px,#00009e 72px,#0000b8 79px,#00f 89px,#00f 96px,#0002ff 99px,#001bff 100px,#0056ff 101px,#00b9ff 102px,#00b5ff 103px,#0048ff 104px,#0001ff 105px,#0000d4 107px,#0000c8 108px,#0000be 111px,#0000d1 114px,#00f 116px,#001aff 117px,#0063ff 118px,#04eaf3 119px,#c9ff2e 120px,#ff2000 121px,#ff5200 122px,#90ff67 123px,#00bfff 124px,#004aff 125px,#0008ff 126px,#0000c0 129px,#0000a3 132px,#000091 137px,#000089 144px,#000085 168px,#00008b 180px,#000097 186px,#0000b2 190px,#0000da 192px,#00f 193px,#0031ff 194px,#00a4ff 195px,#61ff96 196px,#bbff3b 197px,#47ffb0 198px,#008eff 199px,#0027ff 200px,#0000fe 201px,#0000db 202px,#0000ba 204px,#0000ab 208px,#0000b1 210px,#0000c6 212px,#0004ff 214px,#005aff 215px,#0086ff 216px,#0038ff 217px,#00f 218px,#0000e6 219px,#0000d0 221px,#00c 230px,#0000ab 240px,#00009a 248px,#00008e 264px,#000083 288px,#000080 312px,#000080)}
.c38{background:linear-gradient(#000080,#000082 24px,#00008a 48px,#00009e 72px,#0000b8 79px,#0000fe 89px,#00f 96px,#00f 99px,#0014ff 100px,#0048ff 101px,#00a8ff 102px,#00bfff 103px,#05f 104px,#0008ff 105px,#0000c8 108px,#0000bc 111px,#00c 114px,#0000f4 116px,#000aff 117px,#0047ff 118px,#00b5ff 119px,#7fff78 120px,#ff6a00 121px,#f20 122px,#d0ff27 123px,#07eef0 124px,#0062ff 125px,#0016ff 126px,#0000f7 127px,#0000c4 129px,#0000a5 132px,#000092 137px,#000089 144px,#000085 168px,#00008b 180px,#009 186px,#0000b8 190px,#0000e8 192px,#0007ff 193px,#05f 194px,#00e4f8 195px,#a2ff55 196px,#c0ff37 197px,#27ffd0 198px,#0073ff 199px,#001aff 200px,#0000f7 201px,#0000d7 202px,#0000c5 203px,#0000b2 205px,#0000ab 207px,#00b 211px,#0000ca 212px,#0000e8 213px,#01f 214px,#006cff 215px,#0084ff 216px,#002eff 217px,#00f 218px,#0000e3 219px,#0000d0 221px,#00c 230px,#0000ab 240px,#00009a 248px,#00008e 264px,#000083 288px,#000080 312px,#000080)}
.c39{background:linear-gradient(#000080,#000082 24px,#00008a 48px,#00009e 72px,#0000b8 79px,#0000fc 89px,#00f 96px,#00f 99px,#000fff 100px,#003dff 101px,#0098ff 102px,#00c5ff 103px,#0061ff 104px,#000eff 105px,#0000f0 106px,#0000c8 108px,#0000ba 111px,#0000c8 114px,#00f 117px,#0031ff 118px,#008eff 119px,#46ffb1 120px,#fb0 121px,#ff1800 122px,#ffe300 123px,#2bffcc 124px,#007aff 125px,#0023ff 126px,#00f 127px,#0000c7 129px,#0000a6 132px,#000092 137px,#000089 144px,#000085 168px,#00008c 180px,#00009b 186px,#0000bf 190px,#0000d4 191px,#0000f7 192px,#001eff 193px,#007eff 194px,#37ffc0 195px,#d8ff1e 196px,#b7ff40 197px,#0df6ea 198px,#0061ff 199px,#01f 200px,#0000f2 201px,#0000c3 203px,#0000b2 205px,#0000ac 207px,#0000bd 211px,#0000ce 212px,#0000ef 213px,#001eff 214px,#007cff 215px,#007fff 216px,#0026ff 217px,#0000fd 218px,#0000e1 219px,#0000d0 221px,#00c 230px,#0000ab 240px,#00009a 248px,#00008e 264px,#000083 288px,#000080 312px,#000080)}
.c40{background:linear-gradient(#000080,#000082 24px,#00008a 48px,#00009e 72px,#0000b8 79px,#0000fb 89px,#00f 96px,#00f 99px,#000aff 100px,#0034ff 101px,#008bff 102px,#00c7ff 103px,#0013ff 105px,#0000f2 106px,#0000c8 108px,#00b 110px,#0000ba 112px,#0000d0 115px,#00f 117px,#0020ff 118px,#0070ff 119px,#1affdd 120px,#ebff0c 121px,#ff2b00 122px,#ffb300 123px,#4bffab 124px,#008fff 125px,#002eff 126px,#00f 127px,#0000ca 129px,#0000a7 132px,#000092 137px,#000089 144px,#000085 168px,#00008d 180px,#00009d 186px,#0000ab 188px,#0000c6 190px,#00f 192px,#0036ff 193px,#00a9ff 194px,#70ff87 195px,#ffe800 196px,#abff4c 197px,#00e0fc 198px,#0056ff 199px,#000cff 200px,#0000ef 201px,#0000d4 202px,#0000b9 204px,#0000b0 208px,#0000c5 211px,#0000d8 212px,#0000fe 213px,#0032ff 214px,#0092ff 215px,#0085ff 216px,#002cff 217px,#00f 218px,#0000e2 221px,#0000de 229px,#0000ad 240px,#00009a 248px,#00008e 264px,#000083 288px,#000080 312px,#000080)}
.c41{background:linear-gradient(#000080,#000082 24px,#00008a 48px,#00009e 72px,#0000b8 79px,#00f 90px,#00f 96px,#0007ff 100px,#002dff 101px,#0080ff 102px,#00c5ff 103px,#0017ff 105px,#0000f4 106px,#0000d8 107px,#0000c8 108px,#0000b8 111px,#00b 113px,#00c 115px,#0000f9 117px,#0014ff 118px,#005bff 119px,#00defd 120px,#b8ff3f 121px,#ff4d00 122px,#ff9600 123px,#65ff92 124px,#00a0ff 125px,#0037ff 126px,#00f 127px,#00c 129px,#0000a7 132px,#000092 137px,#000089 144px,#000086 168px,#00008e 180px,#00009f 186px,#00b 189px,#0006ff 192px,#004eff 193px,#00d4ff 194px,#a4ff53 195px,#ffc600 196px,#a0ff57 197px,#00d1ff 198px,#004fff 199px,#0009ff 200px,#00e 201px,#0000d4 202px,#0000ba 204px,#0000b1 208px,#0000c7 211px,#0000dc 212px,#00f 213px,#003cff 214px,#009cff 215px,#0080ff 216px,#0028ff 217px,#00f 218px,#0000e2 221px,#0000de 229px,#0000ad 240px,#00009a 248px,#00008e 264px,#000083 288px,#000080 312px,#000080)}
.c42{background:linear-gradient(#000080,#000082 24px,#00008a 48px,#00009e 72px,#0000b2 78px,#00f 90px,#0000fe 96px,#0004ff 100px,#0028ff 101px,#00c3ff 103px,#0078ff 104px,#001aff 105px,#0000f5 106px,#0000d8 107px,#0000c8 108px,#0000b7 111px,#0000ba 113px,#0000c9 115px,#0000f2 117px,#000aff 118px,#004bff 119px,#00c2ff 120px,#92ff65 121px,#ff7200 122px,#ff8b00 123px,#75ff81 124px,#00acff 125px,#003cff 126px,#00f 127px,#0000cd 129px,#0000a7 132px,#000092 137px,#000089 144px,#000086 168px,#00008d 179px,#00009c 185px,#0000bf 189px,#0000f2 191px,#0013ff 192px,#0064ff 193px,#11fbe6 194px,#d1ff25 195px,#ffac00 196px,#9aff5d 197px,#00caff 198px,#004cff 199px,#0008ff 200px,#00e 201px,#0000d5 202px,#00b 204px,#0000b2 208px,#0000c9 211px,#00f 213px,#0045ff 214px,#00a3ff 215px,#007eff 216px,#0025ff 217px,#00f 218px,#0000e6 220px,#0000de 229px,#0000ad 240px,#00009a 248px,#00008e 264px,#000083 288px,#000080 312px,#000080)}
.c43{background:linear-gradient(#000080,#000082 24px,#00008a 48px,#00009c 72px,#0000ac 78px,#0000e2 90px,#0000e2 96px,#0000e6 98px,#00f 100px,#0015ff 101px,#00b4ff 103px,#0071ff 104px,#0013ff 105px,#00e 106px,#0000d1 107px,#0000c2 108px,#0000b4 112px,#0000c6 115px,#0003ff 118px,#003fff 119px,#00aeff 120px,#76ff80 121px,#ff9200 122px,#ff8d00 123px,#7cff7b 124px,#00b0ff 125px,#003eff 126px,#00f 127px,#0000cd 129px,#0000a7 132px,#000092 137px,#000089 144px,#000086 168px,#00008d 179px,#00009d 185px,#0000c2 189px,#0000d8 190px,#0000f9 191px,#001dff 192px,#0076ff 193px,#2affcd 194px,#f4f802 195px,#ff9700 196px,#9aff5d 197px,#00c9ff 198px,#004cff 199px,#0009ff 200px,#0000f0 201px,#0000d6 202px,#0000bc 204px,#0000b2 208px,#0000ca 211px,#00f 213px,#004bff 214px,#00a9ff 215px,#007dff 216px,#0024ff 217px,#00f 218px,#0000e6 220px,#0000de 229px,#0000ad 240px,#00009a 248px,#00008e 264px,#000083 288px,#000080 312px,#000080)}
.c44{background:linear-gradient(#000080,#000082 24px,#00008a 48px,#00009c 72px,#0000ac 78px,#0000e1 90px,#0000e2 96px,#0000e5 98px,#0000fe 100px,#0013ff 101px,#00b1ff 103px,#0070ff 104px,#0013ff 105px,#0000ed 106px,#0000d1 107px,#0000c2 108px,#0000b3 112px,#0000c4 115px,#00f 118px,#0038ff 119px,#00a2ff 120px,#66ff91 121px,#ffab00 122px,#ff9a00 123px,#78ff7f 124px,#00adff 125px,#003cff 126px,#00f 127px,#0000cb 129px,#0000a6 132px,#000092 137px,#000089 144px,#000086 168px,#00008e 179px,#00009e 185px,#0000ab 187px,#0000c5 189px,#0000db 190px,#0000fe 191px,#0024ff 192px,#0081ff 193px,#3affbd 194px,#ffde00 195px,#ff8400 196px,#a1ff56 197px,#00ceff 198px,#004fff 199px,#000bff 200px,#0000f2 201px,#0000c7 203px,#0000b6 205px,#0000b2 207px,#0000b7 209px,#0000cb 211px,#00f 213px,#004fff 214px,#00acff 215px,#007dff 216px,#0025ff 217px,#00f 218px,#0000e6 220px,#0000df 229px,#0000ad 240px,#00009a 248px,#00008e 264px,#000083 288px,#000080 312px,#000080)}
.c45{background:linear-gradient(#000080,#000082 24px,#00008a 48px,#00009c 72px,#0000ac 78px,#0000e1 90px,#0000e2 96px,#0000e5 98px,#0000fd 100px,#0013ff 101px,#00aeff 103px,#006dff 104px,#01f 105px,#0000ec 106px,#0000d0 107px,#0000c1 108px,#0000b2 112px,#0000c3 115px,#0000d1 116px,#00f 118px,#0034ff 119px,#009cff 120px,#5eff99 121px,#fb0 122px,#ffb000 123px,#6aff8d 124px,#00a3ff 125px,#0036ff 126px,#00f 127px,#0000c9 129px,#0000a5 132px,#000091 137px,#000089 144px,#000086 168px,#00008e 179px,#00009f 185px,#0000ac 187px,#0000c6 189px,#00f 191px,#0027ff 192px,#0086ff 193px,#40ffb7 194px,#ffd000 195px,#ff6f00 196px,#b0ff47 197px,#00d9ff 198px,#0056ff 199px,#0010ff 200px,#0000f5 201px,#0000c9 203px,#0000b8 205px,#0000b3 207px,#0000bf 210px,#00c 211px,#00f 213px,#0050ff 214px,#00afff 215px,#0081ff 216px,#0026ff 217px,#00f 218px,#0000e3 221px,#0000e2 228px,#0000ad 240px,#00009a 248px,#00008e 264px,#000083 288px,#000080 312px,#000080)}
.c46{background:linear-gradient(#000080,#000082 24px,#00008a 48px,#00009c 72px,#0000ac 78px,#00d 89px,#0000e1 96px,#0000e4 98px,#0000fd 100px,#0013ff 101px,#00abff 103px,#0067ff 104px,#000dff 105px,#0000e9 106px,#0000ce 107px,#0000c0 108px,#0000b1 112px,#0000c2 115px,#0000cf 116px,#00f 118px,#03f 119px,#009bff 120px,#5dff9a 121px,#ffc800 122px,#ffd300 123px,#50ffa7 124px,#0090ff 125px,#002bff 126px,#00f 127px,#0000c5 129px,#0000a4 132px,#000091 137px,#000089 144px,#000086 168px,#00008e 179px,#00009f 185px,#0000ad 187px,#0000c7 189px,#00f 191px,#0027ff 192px,#0085ff 193px,#3effb9 194px,#ffd000 195px,#ff5700 196px,#caff2d 197px,#06edf1 198px,#0062ff 199px,#0017ff 200px,#0000fa 201px,#00c 203px,#0000ba 205px,#0000b6 207px,#0000c4 210px,#0008ff 213px,#0058ff 214px,#0bf 215px,#0093ff 216px,#0039ff 217px,#000bff 218px,#00f 219px,#00f 228px,#0000b4 240px,#00009b 248px,#00008e 264px,#000083 288px,#000080 312px,#000080)}
.c47{background:linear-gradient(#000080,#000082 24px,#00008a 48px,#00009c 72px,#0000ac 78px,#00d 89px,#0000e1 96px,#0000e4 98px,#0000fe 100px,#0014ff 101px,#00a7ff 103px,#005eff 104px,#0008ff 105px,#0000cd 107px,#0000be 108px,#0000b0 111px,#0000c1 115px,#0000cf 116px,#00f 118px,#0034ff 119px,#009fff 120px,#62ff95 121px,#ffd300 122px,#edff0a 123px,#2effc9 124px,#0078ff 125px,#001dff 126px,#0000f8 127px,#0000d6 128px,#0000c1 129px,#0000a2 132px,#000090 137px,#008 144px,#000086 168px,#00008e 179px,#00009f 185px,#0000ad 187px,#0000c7 189px,#00f 191px,#0024ff 192px,#007dff 193px,#32ffc5 194px,#fd0 195px,#ff3f00 196px,#f0fe07 197px,#1fffd8 198px,#0072ff 199px,#0021ff 200px,#00f 201px,#0000cf 203px,#0000b8 206px,#0000c5 210px,#0000ea 212px,#0006ff 213px,#0054ff 214px,#0bf 215px,#009bff 216px,#003eff 217px,#000eff 218px,#00f 219px,#0000fc 229px,#0000b4 240px,#00009b 248px,#00008e 264px,#000083 288px,#000080 312px,#000080)}
.c48{background:linear-gradient(#000080,#000082 24px,#00008a 48px,#00009c 72px,#0000ab 78px,#00d 89px,#0000e1 96px,#0000e4 98px,#00f 100px,#0017ff 101px,#0067ff 102px,#00a3ff 103px,#0001ff 105px,#0000ca 107px,#0000bd 108px,#0000af 111px,#0000c0 115px,#0000ce 116px,#00f 118px,#0038ff 119px,#00a8ff 120px,#6dff89 121px,#ffe100 122px,#bbff3c 123px,#06edf0 124px,#005cff 125px,#000dff 126px,#0000ed 127px,#0000bc 129px,#00009f 132px,#00008f 137px,#008 144px,#000086 168px,#00008e 179px,#00009f 185px,#0000c5 189px,#0000fc 191px,#001dff 192px,#0071ff 193px,#1fffd8 194px,#f3fa04 195px,#ff2e00 196px,#ffc600 197px,#41ffb6 198px,#008aff 199px,#002eff 200px,#00f 201px,#0000d3 203px,#0000ba 206px,#0000c5 210px,#0000e9 212px,#0003ff 213px,#004eff 214px,#00b8ff 215px,#00a5ff 216px,#0046ff 217px,#0012ff 218px,#00f 219px,#0000fd 229px,#0000b4 240px,#00009b 248px,#00008e 264px,#000083 288px,#000080 312px,#000080)}
.c49{background:linear-gradient(#000080,#000082 24px,#00008a 48px,#00009c 72px,#0000ab 78px,#00d 89px,#0000e1 96px,#0000e5 98px,#00f 100px,#001cff 101px,#006dff 102px,#009cff 103px,#0046ff 104px,#00f 105px,#0000c8 107px,#0000b4 109px,#0000ae 111px,#0000c0 115px,#0000cf 116px,#00f 118px,#0040ff 119px,#00b9ff 120px,#7fff78 121px,#f5f802 122px,#82ff75 123px,#00baff 124px,#003fff 125px,#00f 126px,#0000c7 128px,#0000a3 131px,#000090 136px,#008 144px,#000086 168px,#00008e 179px,#00009e 185px,#0000b5 188px,#0000d7 190px,#0000f6 191px,#0015ff 192px,#0060ff 193px,#05ecf1 194px,#cdff2a 195px,#ff2f00 196px,#ff8300 197px,#6fff88 198px,#0af 199px,#0040ff 200px,#0005ff 201px,#0000ca 204px,#0000ba 207px,#0000c5 210px,#0000d1 211px,#00f 213px,#0046ff 214px,#00b2ff 215px,#00b1ff 216px,#004fff 217px,#0017ff 218px,#00f 219px,#0000fe 229px,#0000b4 240px,#00009b 248px,#00008e 264px,#000083 288px,#000080 312px,#000080)}
.c50{background:linear-gradient(#000080,#000082 24px,#00008a 48px,#00009c 72px,#00c 88px,#0000cd 96px,#0000d3 98px,#00d 99px,#0000f4 100px,#0015ff 101px,#006aff 102px,#08f 103px,#002fff 104px,#0000f9 105px,#0000d3 106px,#0000bf 107px,#0000af 109px,#0000ab 111px,#0000c0 115px,#0005ff 118px,#004dff 119px,#00d1ff 120px,#93ff64 121px,#d4ff23 122px,#44ffb3 123px,#08f 124px,#0023ff 125px,#0000fa 126px,#0000d6 127px,#0000c0 128px,#0000a0 131px,#00008f 136px,#000087 144px,#000086 168px,#00008e 179px,#00009e 185px,#0000c0 189px,#0000ef 191px,#000aff 192px,#004dff 193px,#00c8ff 194px,#9cff5b 195px,#ff4c00 196px,#ff3f00 197px,#abff4c 198px,#00d5ff 199px,#0057ff 200px,#0013ff 201px,#0000fa 202px,#0000ce 204px,#0000be 206px,#0000bc 208px,#0000d1 211px,#00f 213px,#003cff 214px,#00a8ff 215px,#00bdff 216px,#005cff 217px,#001dff 218px,#0002ff 219px,#00f 229px,#0000b4 240px,#00009b 248px,#00008e 264px,#000083 288px,#000080 312px,#000080)}
.c51{background:linear-gradient(#000080,#000082 24px,#00008a 48px,#00009c 72px,#0000cb 88px,#0000ce 96px,#0000d4 98px,#0000df 99px,#0000f9 100px,#001dff 101px,#0073ff 102px,#007aff 103px,#001fff 104px,#0000f0 105px,#0000ce 106px,#0000bd 107px,#0000ab 111px,#0000c1 115px,#0000ef 117px,#000fff 118px,#0060ff 119px,#0bf4eb 120px,#a6ff51 121px,#a3ff54 122px,#07efef 123px,#005bff 124px,#000aff 125px,#0000e9 126px,#0000b8 128px,#0000a3 130px,#000090 135px,#000087 144px,#000086 168px,#00008e 179px,#00009d 185px,#0000bd 189px,#00f 192px,#0039ff 193px,#00a1ff 194px,#65ff92 195px,#f80 196px,#f50a00 197px,#f7f600 198px,#21ffd6 199px,#0076ff 200px,#0025ff 201px,#00f 202px,#0000d4 204px,#0000c8 205px,#0000bd 208px,#0000d0 211px,#00f 213px,#0031ff 214px,#009bff 215px,#00c9ff 216px,#006cff 217px,#0025ff 218px,#0006ff 219px,#00f 229px,#0000b4 240px,#00009b 248px,#00008e 264px,#000083 288px,#000080 312px,#000080)}
.c52{background:linear-gradient(#000080,#000082 24px,#00008a 48px,#00009c 72px,#0000cb 88px,#0000ce 96px,#0000d5 98px,#0000e2 99px,#0000fe 100px,#0027ff 101px,#007aff 102px,#0068ff 103px,#0010ff 104px,#0000e7 105px,#0000ca 106px,#0000ba 107px,#0000ab 111px,#0000b1 113px,#0000c4 115px,#0000d7 116px,#0000f7 117px,#001cff 118px,#007bff 119px,#2effc8 120px,#aaff4c 121px,#63ff93 122px,#00a9ff 123px,#03f 124px,#00f 125px,#0000da 126px,#0000c1 127px,#0000a0 130px,#00008f 135px,#000086 144px,#000086 168px,#00008f 180px,#0000a1 186px,#0000af 188px,#0000c9 190px,#00f 192px,#0025ff 193px,#007cff 194px,#2cffca 195px,#ffde00 196px,#e40000 197px,#ff9100 198px,#5eff99 199px,#00a0ff 200px,#003cff 201px,#0004ff 202px,#0000f1 203px,#00c 205px,#0000be 208px,#0000cf 211px,#0000e0 212px,#00f 213px,#0026ff 214px,#0089ff 215px,#00d1ff 216px,#002fff 218px,#000bff 219px,#00f 220px,#00f 229px,#0000b4 240px,#00009b 248px,#00008e 264px,#000083 288px,#000080 312px,#000080)}
.c53{background:linear-gradient(#000080,#000082 24px,#00008a 48px,#00009c 72px,#0000cb 88px,#0000ce 96px,#0000d7 98px,#00f 100px,#0034ff 101px,#007fff 102px,#0054ff 103px,#0001ff 104px,#0000c5 106px,#0000b0 108px,#00a 110px,#0000ba 114px,#0000dc 116px,#00f 117px,#002fff 118px,#009eff 119px,#53ffa4 120px,#94ff63 121px,#1cffdb 122px,#006bff 123px,#01f 124px,#0000ec 125px,#00c 126px,#0000b9 127px,#00009d 130px,#00008e 135px,#000086 144px,#000086 168px,#00008e 180px,#00009f 186px,#0000c3 190px,#0000f5 192px,#01f 193px,#0058ff 194px,#00daff 195px,#b6ff41 196px,#ff2900 197px,#ff3000 198px,#aeff48 199px,#00d7ff 200px,#005aff 201px,#0015ff 202px,#0000fc 203px,#0000d0 205px,#0000bd 208px,#0000c8 211px,#0000d6 212px,#0000f1 213px,#01f 214px,#00c7ff 216px,#0087ff 217px,#002dff 218px,#0001ff 219px,#0000ef 222px,#0000f9 228px,#0000b2 240px,#00009b 248px,#00008e 264px,#000083 288px,#000080 312px,#000080)}
.c54{background:linear-gradient(#000080,#000082 24px,#00008a 48px,#00009c 72px,#0000cb 88px,#0000cf 96px,#0000d9 98px,#00f 100px,#007eff 102px,#00f 104px,#0000d7 105px,#0000c1 106px,#0000af 108px,#00a 110px,#0000bc 114px,#0000cb 115px,#00f 117px,#0048ff 118px,#00cbff 119px,#6dff8a 120px,#5eff98 121px,#00b3ff 122px,#0038ff 123px,#00f 124px,#0000d9 125px,#0000c0 126px,#00009f 129px,#00008e 134px,#000086 144px,#000086 168px,#00008c 179px,#00009d 186px,#0000be 190px,#0000e8 192px,#00f 193px,#0039ff 194px,#00a0ff 195px,#62ff95 196px,#ff8900 197px,#d70000 198px,#ffd600 199px,#32ffc5 200px,#0083ff 201px,#002cff 202px,#00f 203px,#0000d7 205px,#0000bf 208px,#0000c8 211px,#0000eb 213px,#0007ff 214px,#0056ff 215px,#00c0ff 216px,#00a0ff 217px,#003dff 218px,#0009ff 219px,#00f 220px,#0000f0 223px,#0000fd 228px,#0000b2 240px,#00009b 248px,#00008e 264px,#000083 288px,#000080 312px,#000080)}
.c55{background:linear-gradient(#000080,#000082 24px,#00008a 48px,#00009c 72px,#0000cb 88px,#0000d0 96px,#0000db 98px,#0009ff 100px,#0052ff 101px,#0075ff 102px,#0027ff 103px,#0000f4 104px,#0000d0 105px,#0000be 106px,#0000ae 108px,#00a 110px,#0000ae 112px,#0000bf 114px,#0000d0 115px,#00e 116px,#01f 117px,#0069ff 118px,#14fee3 119px,#6cff8b 120px,#17ffe0 121px,#006bff 122px,#000fff 123px,#0000ea 124px,#0000ca 125px,#0000b6 126px,#00009b 129px,#00008d 134px,#000085 144px,#000085 168px,#000098 185px,#0000ae 189px,#00d 192px,#0000fe 193px,#001eff 194px,#006fff 195px,#18ffdf 196px,#ecff0b 197px,#e50000 198px,#ff5900 199px,#86ff71 200px,#0bf 201px,#004bff 202px,#000eff 203px,#0000f8 204px,#0000d0 206px,#0000c0 209px,#0000d3 212px,#00f 214px,#0042ff 215px,#00b0ff 216px,#00b8ff 217px,#0052ff 218px,#0013ff 219px,#00f 220px,#0000f2 223px,#00f 228px,#0000b2 240px,#00009b 248px,#00008e 264px,#000083 288px,#000080 312px,#000080)}
.c56{background:linear-gradient(#000080,#000082 24px,#00008a 48px,#000096 65px,#0000a3 72px,#0000ec 87px,#0000df 96px,#0000e8 98px,#0000fd 99px,#001bff 100px,#06f 101px,#06f 102px,#0014ff 103px,#0000e9 104px,#0000cb 105px,#00b 106px,#0000a9 110px,#0000af 112px,#0000c3 114px,#0000d7 115px,#0000fc 116px,#0029ff 117px,#0096ff 118px,#38ffbf 119px,#45ffb2 120px,#00a9ff 121px,#0032ff 122px,#0000fe 123px,#0000d5 124px,#0000bd 125px,#00009d 128px,#00008c 134px,#000085 144px,#000085 168px,#000097 185px,#0000ab 189px,#0000d3 192px,#0007ff 194px,#0046ff 195px,#00b7ff 196px,#83ff73 197px,#ff5900 198px,#de0000 199px,#f3fa04 200px,#1effd9 201px,#0076ff 202px,#0026ff 203px,#00f 204px,#0000d7 206px,#0000c2 209px,#0000d1 212px,#00f 214px,#002fff 215px,#09f 216px,#0cf 217px,#006cff 218px,#0020ff 219px,#00f 220px,#0000f4 223px,#00f 229px,#0000dc 233px,#0000b3 240px,#00009b 248px,#00008e 264px,#000083 288px,#000080 312px,#000080)}
.c57{background:linear-gradient(#000080,#000082 24px,#00008a 48px,#000096 65px,#0000a3 72px,#0000e9 86px,#0000ed 90px,#0000e0 96px,#0000ed 98px,#00f 99px,#002bff 100px,#0071ff 101px,#0050ff 102px,#0001ff 103px,#0000c6 105px,#0000b0 107px,#00a 109px,#0000b9 113px,#0000c8 114px,#00f 116px,#004aff 117px,#00cbff 118px,#44ffb3 119px,#04eaf3 120px,#005fff 121px,#0008ff 122px,#0000c5 124px,#0000b3 125px,#00009a 128px,#00008b 134px,#000085 144px,#000085 168px,#000096 185px,#0000a8 189px,#0000ca 192px,#00f 194px,#0025ff 195px,#007bff 196px,#2affcd 197px,#ffe100 198px,#cf0000 199px,#ff6c00 200px,#76ff81 201px,#00b1ff 202px,#0047ff 203px,#000cff 204px,#0000f7 205px,#0000d2 207px,#0000c5 210px,#0000d0 212px,#0000df 213px,#0000fb 214px,#001eff 215px,#007dff 216px,#00d4ff 217px,#008bff 218px,#0032ff 219px,#0006ff 220px,#00f 221px,#0000f6 224px,#00f 229px,#0000d6 234px,#0000b3 240px,#00009b 248px,#00008e 264px,#000083 288px,#000080 312px,#000080)}
.c58{background:linear-gradient(#000080,#000082 24px,#00008a 48px,#000096 65px,#0000a3 72px,#0000e9 86px,#0000ed 90px,#0000e2 96px,#0001ff 99px,#0073ff 101px,#00f 103px,#0000d6 104px,#0000c1 105px,#0000af 107px,#00a 109px,#0000ad 111px,#0000be 113px,#0000d0 114px,#0000ef 115px,#0017ff 116px,#07f 117px,#14fee3 118px,#28ffcf 119px,#0095ff 120px,#0026ff 121px,#0000f6 122px,#0000cf 123px,#0000b9 124px,#00009b 127px,#00008b 133px,#000085 144px,#000085 168px,#000094 185px,#0000a5 189px,#0000c2 192px,#0000f1 194px,#000bff 195px,#004cff 196px,#00c2ff 197px,#92ff65 198px,#ff4500 199px,#de0000 200px,#eaff0c 201px,#19ffde 202px,#0073ff 203px,#0025ff 204px,#00f 205px,#0000d9 207px,#0000c7 210px,#0000d0 212px,#0000f4 214px,#0010ff 215px,#0061ff 216px,#00ceff 217px,#00adff 218px,#0048ff 219px,#01f 220px,#00f 221px,#0000f8 224px,#0000fe 230px,#0000df 233px,#0000b3 240px,#00009c 248px,#00008e 264px,#000083 288px,#000080 312px,#000080)}
.c59{background:linear-gradient(#000080,#000082 24px,#00008a 48px,#000096 65px,#0000a3 72px,#0000e9 86px,#00e 89px,#0000e4 96px,#0000f9 98px,#000fff 99px,#0053ff 100px,#006aff 101px,#001eff 102px,#0000f1 103px,#0000cf 104px,#0000be 105px,#00a 109px,#0000af 111px,#0000c4 113px,#0000db 114px,#00f 115px,#0039ff 116px,#00afff 117px,#27ffd0 118px,#00cfff 119px,#004fff 120px,#00f 121px,#0000c1 123px,#00009d 126px,#00008c 132px,#000084 144px,#000085 168px,#000093 185px,#0000a2 189px,#0000bc 192px,#0000cb 193px,#00f 195px,#0028ff 196px,#007fff 197px,#2fffc8 198px,#ffd800 199px,#c50000 200px,#ff6a00 201px,#76ff81 202px,#00b1ff 203px,#0047ff 204px,#000cff 205px,#0000f7 206px,#0000d1 208px,#0000c4 211px,#0000d0 213px,#00f 215px,#0039ff 216px,#00a8ff 217px,#00baff 218px,#004fff 219px,#0009ff 220px,#0000f7 221px,#0000e6 222px,#00d 224px,#0000e2 226px,#0000fa 229px,#0000d7 232px,#0000b0 240px,#00009c 248px,#00008e 264px,#000083 288px,#000080 312px,#000080)}
.c60{background:linear-gradient(#000080,#000082 24px,#00008a 48px,#000096 65px,#0000a3 72px,#0000e9 86px,#0000e6 96px,#00f 98px,#0020ff 99px,#0065ff 100px,#0056ff 101px,#0009ff 102px,#0000e5 103px,#0000c9 104px,#00b 105px,#0000ab 109px,#0000bc 112px,#00c 113px,#0000ea 114px,#000eff 115px,#0068ff 116px,#00e6f7 117px,#10fae6 118px,#0081ff 119px,#001aff 120px,#00e 121px,#0000ca 122px,#0000b6 123px,#00009a 126px,#00008b 132px,#000084 144px,#000085 168px,#000092 185px,#00009f 189px,#0000b6 192px,#0000d6 194px,#0000f1 195px,#000bff 196px,#004dff 197px,#00c2ff 198px,#92ff65 199px,#f40 200px,#d50000 201px,#f1fc05 202px,#1dffda 203px,#0076ff 204px,#0027ff 205px,#00f 206px,#0000d9 208px,#0000c6 211px,#0000cf 213px,#00d 214px,#0000fb 215px,#0023ff 216px,#0089ff 217px,#00ceff 218px,#001cff 220px,#00f 221px,#0000ec 222px,#0000e0 224px,#0000e4 226px,#00f 229px,#0000d2 233px,#0000b1 240px,#00009c 248px,#00008f 264px,#000083 288px,#000080 312px,#000080)}
.c61{background:linear-gradient(#000080,#000082 24px,#00008a 48px,#000096 65px,#0000a3 72px,#0000e9 86px,#0000e9 96px,#00f 98px,#006fff 100px,#003dff 101px,#00f 102px,#0000db 103px,#0000c5 104px,#0000b1 106px,#0000ab 108px,#0000af 110px,#0000c2 112px,#0000d7 113px,#00f 114px,#0031ff 115px,#00a1ff 116px,#13fde4 117px,#00b6ff 118px,#003fff 119px,#00f 120px,#0000d6 121px,#0000bd 122px,#00009c 125px,#00008b 131px,#000084 144px,#000084 168px,#000091 185px,#00009d 189px,#0000b1 192px,#0000cb 194px,#00f 196px,#0027ff 197px,#007dff 198px,#2bffcb 199px,#ffde00 200px,#c30000 201px,#ff5c00 202px,#80ff77 203px,#00b9ff 204px,#004cff 205px,#0010ff 206px,#0000fb 207px,#0000d4 209px,#0000c8 211px,#0000ce 213px,#0000da 214px,#0000f2 215px,#0010ff 216px,#0068ff 217px,#00d0ff 218px,#09f 219px,#03f 220px,#00f 221px,#0000e8 223px,#0000e3 225px,#00f 228px,#00f 230px,#0000d5 233px,#0000b1 240px,#00009c 248px,#00008f 264px,#000083 288px,#000080 312px,#000080)}
.c62{background:linear-gradient(#000080,#000082 24px,#00008a 48px,#000096 64px,#0000ae 72px,#0000e9 81px,#0000fa 85px,#0000fa 88px,#0000e5 94px,#0000e7 96px,#0007ff 98px,#0046ff 99px,#0065ff 100px,#001fff 101px,#0000f0 102px,#0000ce 103px,#0000bc 104px,#0000ad 106px,#00a 108px,#0000ba 111px,#0000ca 112px,#0009ff 114px,#005fff 115px,#00d4ff 116px,#00defd 117px,#006bff 118px,#000eff 119px,#0000e5 120px,#0000c5 121px,#0000b2 122px,#000095 126px,#000084 144px,#000084 168px,#00008f 184px,#0000ac 192px,#0000c3 194px,#0000f1 196px,#000aff 197px,#004aff 198px,#00bdff 199px,#8aff6d 200px,#ff4d00 201px,#c70000 202px,#ffe900 203px,#27ffcf 204px,#007eff 205px,#002cff 206px,#00f 207px,#0000d2 210px,#0000cb 212px,#0000d8 214px,#0002ff 216px,#004aff 217px,#00bdff 218px,#00c0ff 219px,#0052ff 220px,#000eff 221px,#0000fd 222px,#0000ed 223px,#0000e6 225px,#00f 228px,#00f 230px,#0000d0 234px,#0000b1 240px,#00009c 248px,#00008f 264px,#000083 288px,#000080 312px,#000080)}
.c63{background:linear-gradient(#000080,#000082 24px,#00008a 48px,#000096 64px,#0000ae 72px,#0000e9 81px,#0000fa 85px,#0000fa 88px,#0000e6 94px,#0000ec 96px,#00f 97px,#0019ff 98px,#005cff 99px,#05f 100px,#0008ff 101px,#0000c8 103px,#0000ba 104px,#0000ab 107px,#0000ae 109px,#0000c0 111px,#0000d5 112px,#0000fa 113px,#002bff 114px,#0095ff 115px,#00e5f7 116px,#009cff 117px,#002eff 118px,#0000f9 119px,#0000d0 120px,#00a 122px,#000093 126px,#000084 144px,#000084 168px,#00008e 184px,#0000a9 192px,#0000cb 195px,#00f 197px,#0024ff 198px,#0078ff 199px,#24ffd3 200px,#ffed00 201px,#c60000 202px,#ff4800 203px,#8fff68 204px,#00c4ff 205px,#0052ff 206px,#0014ff 207px,#00f 208px,#0000d8 210px,#0000cd 212px,#0000d6 214px,#00f 216px,#0031ff 217px,#009eff 218px,#00defd 219px,#0079ff 220px,#02f 221px,#00f 222px,#0000ea 225px,#00f 228px,#000aff 229px,#0000fc 231px,#0000e8 232px,#0000d2 234px,#0000b2 240px,#00009c 248px,#00008f 264px,#000083 288px,#000080 312px,#000080)}
.c64{background:linear-gradient(#000080,#000082 24px,#00008a 48px,#000096 64px,#0000ae 72px,#0000f8 84px,#0000fb 88px,#0000e8 94px,#0000f3 96px,#00f 97px,#0069ff 99px,#003cff 100px,#00f 101px,#0000d9 102px,#0000c3 103px,#0000b0 105px,#0000ab 107px,#0000b9 110px,#0000c8 111px,#0005ff 113px,#0058ff 114px,#00c4ff 115px,#00c4ff 116px,#0057ff 117px,#0002ff 118px,#0000c0 120px,#0000a4 122px,#000091 126px,#000084 144px,#000084 168px,#00008e 184px,#0000a5 192px,#0000c3 195px,#0008ff 198px,#0047ff 199px,#00b6ff 200px,#7fff78 201px,#ff5a00 202px,#b00 203px,#ffd500 204px,#33ffc4 205px,#0086ff 206px,#0032ff 207px,#0002ff 208px,#0000e1 210px,#0000d1 212px,#0000d6 214px,#0000e3 215px,#0000fd 216px,#001dff 217px,#007cff 218px,#01e7f6 219px,#00a8ff 220px,#003eff 221px,#0007ff 222px,#00e 225px,#00f 228px,#01f 229px,#0010ff 230px,#00f 231px,#0000d5 234px,#0000b3 240px,#00009d 248px,#00008f 264px,#000083 288px,#000080 312px,#000080)}
.c65{background:linear-gradient(#000080,#000082 24px,#00008a 48px,#000096 64px,#0000ae 72px,#0000f8 84px,#0000fb 88px,#0000eb 94px,#0000fa 96px,#000bff 97px,#0048ff 98px,#0067ff 99px,#02f 100px,#0000f4 101px,#0000d2 102px,#0000c0 103px,#0000b0 105px,#0000ac 107px,#0000bf 110px,#0000d3 111px,#0000f7 112px,#0026ff 113px,#008cff 114px,#00d1ff 115px,#0086ff 116px,#0020ff 117px,#0000f0 118px,#0000ca 119px,#0000b5 120px,#00009f 122px,#000090 126px,#000083 144px,#000084 168px,#00008d 184px,#0000a3 192px,#0000cb 196px,#00f 198px,#02f 199px,#0074ff 200px,#1dffda 201px,#f3fa04 202px,#c00 203px,#ff3800 204px,#9cff5b 205px,#00ceff 206px,#0059ff 207px,#0019ff 208px,#00f 209px,#00d 211px,#0000d3 213px,#0000e1 215px,#0000f6 216px,#000eff 217px,#005dff 218px,#00d9ff 219px,#00d9ff 220px,#0062ff 221px,#001aff 222px,#00f 223px,#0000f3 225px,#00f 228px,#0018ff 229px,#001dff 230px,#0003ff 231px,#0000cf 235px,#0000b3 240px,#00009d 248px,#00008f 264px,#000083 288px,#000080 312px,#000080)}
.c66{background:linear-gradient(#000080,#000082 24px,#00008a 48px,#000096 64px,#0000ae 72px,#0000f8 84px,#0000fb 88px,#0000ed 94px,#00f 96px,#001dff 97px,#005eff 98px,#0057ff 99px,#000bff 100px,#0000e7 101px,#00c 102px,#0000bd 103px,#0000ad 106px,#0000b9 109px,#0000c7 110px,#0001ff 112px,#0051ff 113px,#00b6ff 114px,#00b0ff 115px,#0048ff 116px,#00f 117px,#0000d8 118px,#0000ad 120px,#00009c 122px,#00008e 126px,#000083 144px,#000084 168px,#00008d 184px,#0000a0 192px,#0000c3 196px,#0007ff 199px,#04f 200px,#00b1ff 201px,#78ff7f 202px,#ff6400 203px,#b40000 204px,#ffc800 205px,#3bffbc 206px,#008cff 207px,#0036ff 208px,#0005ff 209px,#0000e4 211px,#0000d6 213px,#0000df 215px,#0000f1 216px,#0003ff 217px,#04f 218px,#00bdff 219px,#17ffe0 220px,#0094ff 221px,#0038ff 222px,#000dff 223px,#00f 224px,#0002ff 227px,#03f 229px,#0040ff 230px,#000aff 232px,#00f 233px,#0000c9 240px,#0000a0 249px,#00008f 264px,#000083 288px,#000080 312px,#000080)}
.c67{background:linear-gradient(#000080,#000082 24px,#00008a 48px,#000096 64px,#0000ae 72px,#0000f8 84px,#0000fb 88px,#0000ef 93px,#0001ff 96px,#006cff 98px,#003fff 99px,#00f 100px,#0000c7 102px,#0000b3 104px,#0000ae 106px,#0000bf 109px,#0000d1 110px,#0000f4 111px,#0021ff 112px,#0081ff 113px,#00c1ff 114px,#07f 115px,#0018ff 116px,#0000ea 117px,#0000c7 118px,#0000a6 120px,#000095 123px,#00008c 127px,#000083 144px,#000084 168px,#00008c 184px,#00009e 192px,#0000bc 196px,#0000e1 198px,#00f 199px,#02f 200px,#0072ff 201px,#1affdd 202px,#eeff09 203px,#cf0000 204px,#ff3100 205px,#a2ff55 206px,#00d2ff 207px,#005cff 208px,#001cff 209px,#00f 210px,#0000da 213px,#0000df 215px,#00e 216px,#00f 217px,#0030ff 218px,#009aff 219px,#23ffd4 220px,#0cf 221px,#0058ff 222px,#001eff 223px,#0005ff 224px,#0006ff 227px,#004dff 230px,#0014ff 232px,#00f 233px,#0000ca 240px,#0000a0 249px,#00008f 264px,#000083 288px,#000080 312px,#000080)}
.c68{background:linear-gradient(#000080,#000082 24px,#00008a 48px,#000096 64px,#0000ae 72px,#0000f8 84px,#0000fd 87px,#0000f1 93px,#00f 95px,#000fff 96px,#004bff 97px,#006aff 98px,#0025ff 99px,#0000f8 100px,#0000d6 101px,#0000c3 102px,#0000b3 104px,#0000af 106px,#0000c6 109px,#00f 111px,#0049ff 112px,#0af 113px,#00a4ff 114px,#0040ff 115px,#00f 116px,#0000d5 117px,#00b 118px,#0000a2 120px,#00008b 127px,#000083 144px,#000084 168px,#00008c 184px,#00009c 192px,#0000b7 196px,#0008ff 200px,#0045ff 201px,#00b1ff 202px,#78ff7f 203px,#ff6500 204px,#b50000 205px,#ffc900 206px,#3bffbc 207px,#008dff 208px,#0037ff 209px,#0008ff 210px,#0000df 213px,#0000e0 215px,#0000ec 216px,#00f 217px,#0020ff 218px,#0079ff 219px,#19ffde 220px,#19ffdd 221px,#0082ff 222px,#03f 223px,#01f 224px,#0004ff 225px,#000aff 227px,#001eff 228px,#005aff 230px,#0046ff 231px,#0004ff 233px,#00f 234px,#0000cb 240px,#0000a1 249px,#00008f 264px,#000083 288px,#000080 312px,#000080)}
.c69{background:linear-gradient(#000080,#000082 24px,#00008a 48px,#000097 64px,#0000ad 72px,#0000d9 83px,#0000d2 93px,#0000da 94px,#000aff 96px,#004dff 97px,#0049ff 98px,#00f 99px,#0000c4 101px,#0000ac 104px,#0000ad 106px,#0000bc 108px,#0000ce 109px,#0000ef 110px,#001aff 111px,#0076ff 112px,#00b6ff 113px,#0072ff 114px,#0015ff 115px,#0000e8 116px,#0000c6 117px,#0000b2 118px,#00009e 120px,#00008b 127px,#000083 144px,#000084 168px,#00008b 184px,#00009b 192px,#0000bd 197px,#0000e2 199px,#00f 200px,#0024ff 201px,#0075ff 202px,#1effd9 203px,#f4f903 204px,#cd0000 205px,#ff3b00 206px,#9aff5c 207px,#00ceff 208px,#005aff 209px,#001cff 210px,#00f 211px,#0000e0 214px,#0000eb 216px,#00f 217px,#0014ff 218px,#005dff 219px,#00e6f7 220px,#3effb9 221px,#00b6ff 222px,#004eff 223px,#001fff 224px,#000dff 225px,#000fff 227px,#02f 228px,#0067ff 230px,#0057ff 231px,#000cff 233px,#00f 234px,#00c 240px,#0000a1 249px,#00008f 264px,#000083 288px,#000080 312px,#000080)}
.c70{background:linear-gradient(#000080,#000082 24px,#00008a 48px,#000097 64px,#0000ad 72px,#0000d8 82px,#0000d2 92px,#0000e0 94px,#0000fa 95px,#0020ff 96px,#005aff 97px,#0000fd 99px,#0000d4 100px,#0000bf 101px,#0000ac 104px,#0000b0 106px,#0000c3 108px,#0000da 109px,#00f 110px,#003eff 111px,#009dff 112px,#00a1ff 113px,#0041ff 114px,#00f 115px,#0000d5 116px,#00b 117px,#00009b 120px,#00008a 127px,#000083 144px,#000084 168px,#00008a 183px,#009 192px,#0000b8 197px,#0000d7 199px,#0000f2 200px,#000bff 201px,#0049ff 202px,#00b9ff 203px,#83ff74 204px,#ff5600 205px,#c20000 206px,#ffde00 207px,#30ffc7 208px,#0087ff 209px,#0035ff 210px,#0008ff 211px,#0000e5 214px,#0000eb 216px,#0000fc 217px,#000bff 218px,#0047ff 219px,#00c1ff 220px,#4dffa9 221px,#0cf4eb 222px,#0072ff 223px,#0031ff 224px,#0017ff 225px,#000fff 226px,#0014ff 227px,#0026ff 228px,#0073ff 230px,#006aff 231px,#0014ff 233px,#00f 234px,#0000cd 240px,#0000a1 249px,#00008f 264px,#000083 288px,#000080 312px,#000080)}
.c71{background:linear-gradient(#000080,#000082 24px,#00008a 48px,#000097 64px,#0000ad 72px,#0000d8 82px,#0000d4 92px,#0000e7 94px,#00f 95px,#0036ff 96px,#005aff 97px,#001aff 98px,#0000ed 99px,#0000cd 100px,#0000bc 101px,#0000af 103px,#0000ae 105px,#00b 107px,#0000cb 108px,#0000ea 109px,#01f 110px,#0068ff 111px,#00b0ff 112px,#0078ff 113px,#001aff 114px,#0000ec 115px,#0000c8 116px,#0000b3 117px,#009 120px,#000089 128px,#000083 144px,#000084 168px,#00008a 183px,#000098 192px,#0000a4 195px,#0000be 198px,#00f 201px,#0029ff 202px,#007fff 203px,#2cffcb 204px,#ffdf00 205px,#c50000 206px,#ff5b00 207px,#83ff74 208px,#00bfff 209px,#0053ff 210px,#001aff 211px,#00f 212px,#0000ea 214px,#0000ec 216px,#0005ff 218px,#0037ff 219px,#009eff 220px,#45ffb1 221px,#3fffb8 222px,#009fff 223px,#0048ff 224px,#0024ff 225px,#0017ff 226px,#001aff 227px,#002bff 228px,#007eff 230px,#007dff 231px,#001eff 233px,#0003ff 234px,#00f 235px,#0000ce 240px,#0000a2 249px,#00008f 264px,#000084 288px,#000080 312px,#000080)}
.c72{background:linear-gradient(#000080,#000082 24px,#00008a 48px,#000097 64px,#0000ad 72px,#0000d8 82px,#0000d7 92px,#0000f0 94px,#000aff 95px,#004bff 96px,#004dff 97px,#0005ff 98px,#0000c7 100px,#0000b9 101px,#0000ae 104px,#0000c1 107px,#0000d6 108px,#0000fd 109px,#0031ff 110px,#008fff 111px,#00a6ff 112px,#004cff 113px,#00f 114px,#0000be 116px,#0000a3 118px,#000097 120px,#000089 128px,#000083 144px,#000084 168px,#00008a 183px,#000097 192px,#0000b9 198px,#0000da 200px,#0000f6 201px,#01f 202px,#0054ff 203px,#00cdff 204px,#9fff58 205px,#ff3800 206px,#e30000 207px,#e3ff13 208px,#18ffdf 209px,#07f 210px,#002dff 211px,#0004ff 212px,#0000ed 214px,#0000ea 216px,#00f 218px,#0027ff 219px,#007dff 220px,#2bffcc 221px,#68ff8f 222px,#00d6ff 223px,#06f 224px,#0036ff 225px,#0026ff 226px,#0028ff 227px,#003bff 228px,#0062ff 229px,#0098ff 230px,#00a3ff 231px,#0041ff 233px,#0023ff 234px,#0005ff 236px,#00f 238px,#0000ed 240px,#0000c3 245px,#0000a7 250px,#000090 264px,#000084 288px,#000080 312px,#000080)}
.c73{background:linear-gradient(#000080,#000082 24px,#00008a 48px,#000097 64px,#0000ae 72px,#0000d8 82px,#0000d9 92px,#0000e3 93px,#0000fb 94px,#001dff 95px,#0059ff 96px,#0039ff 97px,#00f 98px,#0000d8 99px,#0000c3 100px,#0000af 103px,#0000ba 106px,#0000c8 107px,#0004ff 109px,#00a9ff 111px,#0087ff 112px,#0027ff 113px,#0000f4 114px,#00c 115px,#0000b6 116px,#000096 120px,#008 128px,#000083 144px,#000083 168px,#000096 192px,#0000b5 198px,#0000d1 200px,#00f 202px,#0034ff 203px,#0092ff 204px,#49ffae 205px,#ffaf00 206px,#c30000 207px,#ff9800 208px,#5bff9c 209px,#00a4ff 210px,#0046ff 211px,#0012ff 212px,#00f 213px,#0000ec 215px,#0000ec 216px,#00f 218px,#001dff 219px,#0065ff 220px,#0df5ea 221px,#7eff79 222px,#27ffd0 223px,#008aff 224px,#0048ff 225px,#0031ff 226px,#002fff 227px,#0040ff 228px,#0067ff 229px,#00a1ff 230px,#00b7ff 231px,#004cff 233px,#002bff 234px,#0016ff 235px,#00f 237px,#00e 240px,#0000c3 245px,#0000a7 250px,#000090 264px,#000084 288px,#000080 312px,#000080)}
.c74{background:linear-gradient(#000080,#000082 24px,#00008a 48px,#000097 64px,#0000ae 72px,#0000d8 82px,#0000d8 91px,#0000e9 93px,#00f 94px,#005dff 96px,#0024ff 97px,#0000f5 98px,#0000d2 99px,#0000c0 100px,#0000af 103px,#0000be 106px,#0000d0 107px,#0000f2 108px,#001dff 109px,#0079ff 110px,#00acff 111px,#0061ff 112px,#000aff 113px,#0000c2 115px,#0000b0 116px,#000095 120px,#008 128px,#000083 144px,#000083 168px,#000095 192px,#0000a4 196px,#0000bc 199px,#0000df 201px,#0000fe 202px,#001cff 203px,#0067ff 204px,#08f0ee 205px,#cfff27 206px,#fa0f00 207px,#ff3400 208px,#a8ff4f 209px,#00d9ff 210px,#0062ff 211px,#0023ff 212px,#00f 213px,#00e 216px,#00f 218px,#0015ff 219px,#0052ff 220px,#00d0ff 221px,#7cff7a 222px,#5dff9a 223px,#00b6ff 224px,#005fff 225px,#003dff 226px,#0037ff 227px,#0046ff 228px,#006cff 229px,#0af 230px,#00caff 231px,#0059ff 233px,#03f 234px,#001bff 235px,#00f 237px,#0000ef 240px,#0000c4 245px,#0000a8 250px,#000090 264px,#000084 288px,#000080 312px,#000080)}
.c75{background:linear-gradient(#000080,#000082 24px,#00008a 48px,#000096 63px,#0000af 72px,#0000ce 81px,#0000cd 91px,#0000d4 92px,#00f 94px,#003cff 95px,#004eff 96px,#000aff 97px,#0000c7 99px,#0000b9 100px,#0000ae 103px,#0000c3 106px,#0000d9 107px,#00f 108px,#0039ff 109px,#0096ff 110px,#009aff 111px,#003eff 112px,#00f 113px,#0000d4 114px,#00b 115px,#0000a2 117px,#000094 120px,#000083 144px,#000083 168px,#000095 192px,#0000a2 196px,#0000b8 199px,#0000d7 201px,#0000f1 202px,#0009ff 203px,#0047ff 204px,#00b4ff 205px,#7bff7c 206px,#ff6800 207px,#e00000 208px,#fbf000 209px,#28ffcf 210px,#0083ff 211px,#0035ff 212px,#000aff 213px,#00f 214px,#0000f1 216px,#00f 218px,#000fff 219px,#04f 220px,#00b0ff 221px,#69ff8d 222px,#8cff6b 223px,#03e9f4 224px,#0079ff 225px,#004bff 226px,#0040ff 227px,#004cff 228px,#0071ff 229px,#00b2ff 230px,#00dcff 231px,#00abff 232px,#0067ff 233px,#003bff 234px,#0020ff 235px,#0002ff 237px,#0000f1 240px,#0000c4 245px,#0000a8 250px,#000090 264px,#000084 288px,#000080 312px,#000080)}
.c76{background:linear-gradient(#000080,#000082 24px,#00008a 48px,#000096 63px,#0000af 72px,#0000ce 81px,#00c 90px,#0000d8 92px,#0000ed 93px,#000aff 94px,#004bff 95px,#0040ff 96px,#00f 97px,#0000da 98px,#0000c3 99px,#0000af 102px,#0000ba 105px,#0000c9 106px,#0006ff 108px,#00a7ff 110px,#007eff 111px,#0021ff 112px,#0000f0 113px,#0000ca 114px,#0000b5 115px,#0000a0 117px,#000093 120px,#000083 144px,#000083 168px,#000094 192px,#0000a0 196px,#0000b5 199px,#0000d0 201px,#00f 203px,#002eff 204px,#0087ff 205px,#39ffbe 206px,#fc0 207px,#da0000 208px,#ff9500 209px,#60ff97 210px,#00a8ff 211px,#0049ff 212px,#0016ff 213px,#00f 214px,#0000f4 216px,#00f 218px,#000bff 219px,#0039ff 220px,#0097ff 221px,#4fffa7 222px,#b0ff47 223px,#34ffc3 224px,#09f 225px,#005cff 226px,#004aff 227px,#0053ff 228px,#07f 229px,#00b9ff 230px,#06ecf1 231px,#00c1ff 232px,#0076ff 233px,#04f 234px,#0026ff 235px,#0005ff 237px,#0000fd 239px,#0000f2 240px,#0000c5 245px,#0000a8 250px,#000090 264px,#000084 288px,#000080 312px,#000080)}
.c77{background:linear-gradient(#000080,#000082 24px,#00008a 48px,#000096 63px,#0000af 72px,#0000ce 81px,#0000cd 90px,#0000dc 92px,#0000f6 93px,#001aff 94px,#0054ff 95px,#002fff 96px,#0000fc 97px,#0000d4 98px,#0000c0 99px,#0000af 102px,#0000be 105px,#0000cf 106px,#0000f0 107px,#001aff 108px,#0074ff 109px,#00a8ff 110px,#0060ff 111px,#000aff 112px,#0000c3 114px,#0000b0 115px,#00009e 117px,#000092 120px,#000083 144px,#000083 168px,#000093 192px,#0000b2 199px,#0000ca 201px,#0000fe 203px,#001bff 204px,#0065ff 205px,#06edf1 206px,#caff2c 207px,#ff1d00 208px,#ff4900 209px,#9cff5b 210px,#00d1ff 211px,#005fff 212px,#0023ff 213px,#0002ff 214px,#0000f7 216px,#0009ff 219px,#0031ff 220px,#0083ff 221px,#35ffc2 222px,#c2ff34 223px,#69ff8d 224px,#00c0ff 225px,#0070ff 226px,#0056ff 227px,#005bff 228px,#007cff 229px,#00c0ff 230px,#12fce5 231px,#00d6ff 232px,#0085ff 233px,#004dff 234px,#002cff 235px,#0007ff 237px,#00f 239px,#0000f4 240px,#0000c6 245px,#0000a9 250px,#000090 264px,#000084 288px,#000080 312px,#000080)}
.c78{background:linear-gradient(#000080,#000082 24px,#00008a 48px,#000096 63px,#0000af 72px,#0000cf 81px,#0000cf 90px,#0000e1 92px,#00f 93px,#0056ff 95px,#001eff 96px,#0000f0 97px,#0000ce 98px,#0000be 99px,#0000af 102px,#0000c2 105px,#0000d6 106px,#0000fd 107px,#002fff 108px,#008bff 109px,#009dff 110px,#0045ff 111px,#00f 112px,#0000d7 113px,#0000ad 115px,#000091 120px,#000083 144px,#000083 168px,#000093 192px,#0000af 199px,#0000c6 201px,#0000f3 203px,#000cff 204px,#004bff 205px,#00bdff 206px,#87ff70 207px,#ff5f00 208px,#ff1900 209px,#d9ff1e 210px,#14fee3 211px,#07f 212px,#0030ff 213px,#000aff 214px,#0000fb 216px,#0007ff 219px,#002cff 220px,#0075ff 221px,#1dffda 222px,#c5ff32 223px,#a0ff57 224px,#06ecf1 225px,#0087ff 226px,#0062ff 227px,#0063ff 228px,#0082ff 229px,#00c6ff 230px,#1effd9 231px,#04eaf3 232px,#0094ff 233px,#0056ff 234px,#0032ff 235px,#001aff 236px,#00f 238px,#0000f5 240px,#0000c6 245px,#0000a9 250px,#000090 264px,#000084 288px,#000080 312px,#000080)}
.c79{background:linear-gradient(#000080,#000082 24px,#00008a 48px,#000096 63px,#0000af 72px,#0000cf 81px,#0000d0 90px,#0000d7 91px,#00f 93px,#0038ff 94px,#0051ff 95px,#0010ff 96px,#0000e8 97px,#0000ca 98px,#0000bc 99px,#0000b0 102px,#0000c6 105px,#00f 107px,#0045ff 108px,#009cff 109px,#008bff 110px,#002eff 111px,#0000f9 112px,#0000cf 113px,#00a 115px,#000091 120px,#000083 144px,#000083 168px,#000093 192px,#0000a1 197px,#0000b6 200px,#0000d3 202px,#00f 204px,#0037ff 205px,#0097ff 206px,#51ffa6 207px,#ffa900 208px,#f30900 209px,#ffd700 210px,#38ffbf 211px,#008eff 212px,#003bff 213px,#000eff 214px,#00f 215px,#0000f8 216px,#00f 219px,#001bff 220px,#005bff 221px,#00e0fb 222px,#acff4a 223px,#c1ff36 224px,#1bffdc 225px,#0087ff 226px,#0056ff 227px,#0050ff 228px,#006cff 229px,#00b0ff 230px,#11fbe5 231px,#00e3f9 232px,#0089ff 233px,#0047ff 234px,#0021ff 235px,#000bff 236px,#00f 237px,#00f 238px,#0000eb 240px,#0000bf 246px,#0000a7 251px,#000090 264px,#000084 288px,#000081 312px,#000080)}
.c80{background:linear-gradient(#000080,#000082 24px,#00008a 48px,#000096 63px,#0000af 72px,#0000cf 81px,#0000d2 90px,#0000ec 92px,#0005ff 93px,#0045ff 94px,#0049ff 95px,#0004ff 96px,#0000c7 98px,#0000b0 101px,#00b 104px,#0000ca 105px,#0008ff 107px,#00a4ff 109px,#07f 110px,#001bff 111px,#0000ed 112px,#0000c9 113px,#0000a8 115px,#000090 120px,#000083 144px,#000083 168px,#000092 192px,#0000a0 197px,#0000b4 200px,#0000ce 202px,#00f 204px,#0026ff 205px,#007aff 206px,#25ffd1 207px,#fbf100 208px,#ff1600 209px,#ff9f00 210px,#5dff9a 211px,#00a6ff 212px,#0048ff 213px,#0016ff 214px,#00f 215px,#0000fb 216px,#0000f6 217px,#00f 219px,#0018ff 220px,#0052ff 221px,#00cbff 222px,#9cff5a 223px,#eaff0c 224px,#46ffb0 225px,#00a3ff 226px,#0065ff 227px,#0059ff 228px,#0073ff 229px,#00b5ff 230px,#1affdc 231px,#0df6ea 232px,#0098ff 233px,#0050ff 234px,#0027ff 235px,#00f 237px,#00f 238px,#0000ed 240px,#0000bf 246px,#0000a7 251px,#000091 264px,#000084 288px,#000081 312px,#000080)}
.c81{background:linear-gradient(#000080,#000082 24px,#00008a 48px,#000096 63px,#0000af 72px,#0000cf 81px,#0000d0 89px,#0000dc 91px,#0000f1 92px,#000fff 93px,#004eff 94px,#003fff 95px,#00f 96px,#0000dc 97px,#0000c5 98px,#0000b1 101px,#0000be 104px,#0000ce 105px,#0000ed 106px,#0015ff 107px,#006cff 108px,#00a5ff 109px,#0063ff 110px,#000dff 111px,#0000e4 112px,#0000c4 113px,#0000b1 114px,#00009e 116px,#000090 120px,#000083 144px,#000083 168px,#000092 192px,#00009f 197px,#0000b2 200px,#0000ca 202px,#0000fc 204px,#0019ff 205px,#0062ff 206px,#02e8f5 207px,#c3ff34 208px,#ff3900 209px,#ff7900 210px,#7dff7a 211px,#00bcff 212px,#0054ff 213px,#001cff 214px,#00f 215px,#0000fe 216px,#0000f8 217px,#00f 219px,#0015ff 220px,#004bff 221px,#00baff 222px,#8aff6d 223px,#ffe200 224px,#72ff85 225px,#00c1ff 226px,#0074ff 227px,#0062ff 228px,#0079ff 229px,#0bf 230px,#22ffd4 231px,#1bffdc 232px,#00a6ff 233px,#0059ff 234px,#002cff 235px,#0001ff 237px,#00e 240px,#0000c0 246px,#0000a7 251px,#000091 264px,#000084 288px,#000081 312px,#000080)}
.c82{background:linear-gradient(#000080,#000082 24px,#00008a 48px,#009 63px,#0000c1 72px,#0000ef 80px,#0000f3 84px,#0000e8 89px,#0000f1 91px,#00f 92px,#0024ff 93px,#005dff 94px,#003dff 95px,#00f 96px,#0000c8 98px,#0000b3 101px,#0000c1 104px,#0000d3 105px,#0000f5 106px,#0021ff 107px,#007bff 108px,#00a1ff 109px,#0001ff 111px,#0000c0 113px,#0000af 114px,#00009d 116px,#000090 120px,#000083 144px,#000083 168px,#000091 192px,#0000af 200px,#0000c6 202px,#0000f4 204px,#000dff 205px,#004eff 206px,#00c4ff 207px,#92ff65 208px,#ff6700 209px,#ff6400 210px,#98ff5f 211px,#00cfff 212px,#005eff 213px,#02f 214px,#0001ff 215px,#00f 216px,#0000f9 217px,#00f 219px,#0013ff 220px,#0045ff 221px,#00adff 222px,#78ff7f 223px,#ffce00 224px,#9cff5b 225px,#00defd 226px,#0083ff 227px,#006bff 228px,#007eff 229px,#00bfff 230px,#29ffce 231px,#27ffcf 232px,#00b3ff 233px,#0061ff 234px,#0031ff 235px,#0003ff 237px,#0000ef 240px,#0000c7 245px,#0000ab 250px,#000091 264px,#000084 288px,#000081 312px,#000080)}
.c83{background:linear-gradient(#000080,#000082 24px,#00008a 48px,#009 63px,#0000c1 72px,#0000ef 80px,#0000f4 83px,#0000e9 89px,#00f 92px,#0060ff 94px,#00f 96px,#0000da 97px,#0000c6 98px,#0000b3 101px,#0000c3 104px,#0000d6 105px,#0000fc 106px,#002cff 107px,#0087ff 108px,#009bff 109px,#0045ff 110px,#00f 111px,#0000d7 112px,#0000ad 114px,#00009d 116px,#000090 120px,#000083 144px,#000083 168px,#000091 192px,#0000ae 200px,#0000c3 202px,#0004ff 205px,#003eff 206px,#00a8ff 207px,#6aff8d 208px,#ff9800 209px,#ff5f00 210px,#adff4a 211px,#00dffc 212px,#0065ff 213px,#0025ff 214px,#0004ff 215px,#00f 216px,#00f 219px,#0012ff 220px,#0042ff 221px,#00a3ff 222px,#6aff8d 223px,#ffc100 224px,#c4ff33 225px,#12fce4 226px,#0093ff 227px,#0073ff 228px,#0084ff 229px,#00c4ff 230px,#2fffc8 231px,#32ffc5 232px,#00bfff 233px,#0069ff 234px,#0036ff 235px,#0005ff 237px,#0000f0 240px,#0000c7 245px,#0000ac 250px,#000091 264px,#000084 288px,#000081 312px,#000080)}
.c84{background:linear-gradient(#000080,#000082 24px,#00008a 48px,#009 63px,#0000c1 72px,#0000ef 80px,#0000f4 83px,#0000e9 89px,#00f 92px,#0061ff 94px,#0000fd 96px,#0000d8 97px,#0000c5 98px,#0000b3 101px,#0000c4 104px,#0000d9 105px,#00f 106px,#0036ff 107px,#008fff 108px,#0094ff 109px,#003aff 110px,#00f 111px,#0000d3 112px,#0000ac 114px,#00009c 116px,#00008f 120px,#000083 144px,#000083 168px,#000091 192px,#00009d 197px,#0000b5 201px,#0000d0 203px,#00f 205px,#0032ff 206px,#0092ff 207px,#4affac 208px,#ffc400 209px,#ff6400 210px,#bbff3c 211px,#04eaf3 212px,#006bff 213px,#0028ff 214px,#0005ff 215px,#00f 216px,#00f 219px,#01f 220px,#0040ff 221px,#009eff 222px,#61ff96 223px,#ffb700 224px,#e9ff0e 225px,#2affcd 226px,#00a2ff 227px,#007cff 228px,#0089ff 229px,#00c8ff 230px,#34ffc3 231px,#3bffbb 232px,#00c9ff 233px,#006fff 234px,#003aff 235px,#0007ff 237px,#0000f1 240px,#0000c8 245px,#0000ac 250px,#000091 264px,#000084 288px,#000081 312px,#000080)}
.c85{background:linear-gradient(#000080,#000082 24px,#00008a 48px,#009 63px,#0000c1 72px,#0000ef 80px,#0000f4 83px,#0000ea 89px,#0003ff 92px,#0038ff 93px,#0061ff 94px,#0026ff 95px,#0000f9 96px,#0000d6 97px,#0000c4 98px,#0000b4 101px,#0000c6 104px,#0000dc 105px,#00f 106px,#003dff 107px,#0095ff 108px,#008dff 109px,#0032ff 110px,#0000fb 111px,#0000d1 112px,#0000ab 114px,#00009c 116px,#00008f 120px,#000083 144px,#000083 168px,#000090 192px,#00009c 197px,#0000b3 201px,#0000cd 203px,#00f 205px,#0028ff 206px,#0081ff 207px,#32ffc5 208px,#ffe900 209px,#ff6f00 210px,#c3ff34 211px,#09f1ed 212px,#006eff 213px,#0029ff 214px,#0004ff 215px,#00f 216px,#0000f7 217px,#00f 219px,#000bff 220px,#0038ff 221px,#0092ff 222px,#53ffa3 223px,#ffba00 224px,#ffed00 225px,#34ffc2 226px,#00a0ff 227px,#0073ff 228px,#007cff 229px,#00b9ff 230px,#29ffce 231px,#33ffc4 232px,#00beff 233px,#0061ff 234px,#002aff 235px,#000bff 236px,#00f 237px,#0000e3 240px,#0000c1 245px,#0000a7 251px,#000091 264px,#000084 288px,#000081 312px,#000080)}
.c86{background:linear-gradient(#000080,#000082 24px,#00008a 48px,#009 63px,#0000c1 72px,#0000ef 80px,#0000f4 83px,#0000ea 89px,#0000f8 91px,#0005ff 92px,#003cff 93px,#0060ff 94px,#02f 95px,#0000f7 96px,#0000d5 97px,#0000c4 98px,#0000b4 101px,#0000c7 104px,#00f 106px,#0043ff 107px,#0098ff 108px,#08f 109px,#002cff 110px,#0000f8 111px,#0000cf 112px,#00a 114px,#00008f 120px,#000083 144px,#000083 168px,#000090 192px,#00009c 197px,#0000b2 201px,#0000cb 203px,#00f 205px,#0021ff 206px,#0075ff 207px,#21ffd5 208px,#eaff0d 209px,#ff7b00 210px,#c7ff2f 211px,#0df6ea 212px,#0070ff 213px,#002aff 214px,#0005ff 215px,#00f 216px,#0000f7 217px,#00f 219px,#000bff 220px,#0038ff 221px,#0091ff 222px,#50ffa7 223px,#ffb500 224px,#ffd100 225px,#45ffb2 226px,#00abff 227px,#0079ff 228px,#0080ff 229px,#0bf 230px,#2bffcb 231px,#38ffbf 232px,#00c4ff 233px,#0065ff 234px,#002dff 235px,#000cff 236px,#00f 237px,#0000e3 240px,#0000c2 245px,#0000a7 251px,#000091 264px,#000084 288px,#000081 312px,#000080)}
.c87{background:linear-gradient(#000080,#000082 24px,#00008a 48px,#009 63px,#0000c1 72px,#0000ef 80px,#0000ea 89px,#0000f9 91px,#0007ff 92px,#003fff 93px,#005fff 94px,#0020ff 95px,#0000f5 96px,#0000d5 97px,#0000c4 98px,#0000b4 101px,#0000c8 104px,#00f 106px,#0046ff 107px,#009aff 108px,#0085ff 109px,#0029ff 110px,#0000f6 111px,#0000ce 112px,#00a 114px,#00008f 120px,#000083 144px,#000083 168px,#000090 192px,#00009b 197px,#0000b1 201px,#0000c9 203px,#0000fe 205px,#001dff 206px,#006eff 207px,#18ffdf 208px,#dcff1b 209px,#ff8300 210px,#c9ff2e 211px,#0ff8e8 212px,#0071ff 213px,#002aff 214px,#0005ff 215px,#00f 216px,#0000f7 217px,#00f 219px,#000cff 220px,#0038ff 221px,#0090ff 222px,#4fffa8 223px,#ffb100 224px,#ffbf00 225px,#50ffa7 226px,#00b2ff 227px,#007dff 228px,#0083ff 229px,#00bdff 230px,#2dffca 231px,#3bffbc 232px,#00c7ff 233px,#0067ff 234px,#002eff 235px,#000dff 236px,#00f 237px,#0000e4 240px,#0000c2 245px,#0000a7 251px,#000091 264px,#000084 288px,#000081 312px,#000080)}
.c88{background:linear-gradient(#000080,#000082 24px,#00008a 48px,#009 63px,#0000c1 72px,#0000ef 80px,#0000ea 89px,#0000f9 91px,#0007ff 92px,#003fff 93px,#005fff 94px,#0020ff 95px,#0000f5 96px,#0000d4 97px,#0000c3 98px,#0000b4 101px,#0000c8 104px,#00f 106px,#0047ff 107px,#009bff 108px,#0084ff 109px,#0028ff 110px,#0000f5 111px,#0000cd 112px,#00a 114px,#00008f 120px,#000083 144px,#000083 168px,#000090 192px,#00009b 197px,#0000b1 201px,#0000c9 203px,#0000fd 205px,#001cff 206px,#006cff 207px,#15ffe2 208px,#d8ff1f 209px,#ff8600 210px,#c9ff2e 211px,#0ff8e8 212px,#0071ff 213px,#002aff 214px,#0005ff 215px,#00f 216px,#0000f7 217px,#00f 219px,#000cff 220px,#0038ff 221px,#0090ff 222px,#4fffa8 223px,#ffb000 224px,#fb0 225px,#53ffa4 226px,#00b4ff 227px,#007eff 228px,#0083ff 229px,#00beff 230px,#2effc9 231px,#3cffbb 232px,#00c8ff 233px,#0067ff 234px,#002eff 235px,#000dff 236px,#00f 237px,#0000e4 240px,#0000c2 245px,#0000a7 251px,#000091 264px,#000084 288px,#000081 312px,#000080)}
.d0{background:linear-gradient(#000081,#000084 18px,#00008e 24px,#00009e 26px,#00d 29px,#00009d 32px,#00008e 34px,#008 48px,#000090 55px,#0000a4 60px,#0000c7 63px,#00f 65px,#002fff 66px,#0093ff 67px,#51ffa6 68px,#ffba00 69px,#ff5a00 70px,#c2ff35 71px,#02e8f5 72px,#005dff 73px,#01f 74px,#0000f2 75px,#0000bf 77px,#00009b 81px,#00008d 86px,#000085 96px,#000081 120px,#000080 144px,#000080 168px,#000080 192px,#000081 216px,#000086 233px,#000095 240px,#0000ae 243px,#0000c2 244px,#0000e3 245px,#000cff 246px,#006aff 247px,#00e3f9 248px,#02e9f4 249px,#0072ff 250px,#01f 251px,#0000e6 252px,#0000c3 253px,#0000af 254px,#00009b 256px,#000086 264px,#000084 283px,#000089 286px,#000098 288px,#0000a0 290px,#00008d 292px,#000083 296px,#000080 312px,#000080)}
.d1{background:linear-gradient(#000081,#000084 18px,#00008e 24px,#00009e 26px,#00d 29px,#00009d 32px,#00008e 34px,#008 48px,#000090 55px,#0000a4 60px,#0000c7 63px,#00f 65px,#002fff 66px,#0093ff 67px,#51ffa6 68px,#ffba00 69px,#ff5900 70px,#c3ff34 71px,#02e9f4 72px,#005eff 73px,#01f 74px,#0000f2 75px,#0000bf 77px,#00009b 81px,#00008d 86px,#000085 96px,#000081 120px,#000080 144px,#000080 168px,#000080 192px,#000081 216px,#000086 233px,#000095 240px,#0000ae 243px,#0000c2 244px,#0000e3 245px,#000cff 246px,#006aff 247px,#00e3f9 248px,#02e8f4 249px,#0071ff 250px,#01f 251px,#0000e6 252px,#0000c3 253px,#0000af 254px,#00009b 256px,#000086 264px,#000084 283px,#000089 286px,#000098 288px,#0000a0 290px,#00008d 292px,#000083 296px,#000080 312px,#000080)}
.d2{background:linear-gradient(#000081,#000084 18px,#00008e 24px,#00009e 26px,#00d 29px,#00009d 32px,#00008e 34px,#008 48px,#000090 55px,#0000a4 60px,#0000c8 63px,#00f 65px,#002fff 66px,#0093ff 67px,#50ffa7 68px,#ffba00 69px,#ff5300 70px,#c9ff2d 71px,#06eef0 72px,#0060ff 73px,#0013ff 74px,#0000f3 75px,#0000c0 77px,#00009b 81px,#00008d 86px,#000085 96px,#000081 120px,#000080 144px,#000080 168px,#000080 192px,#000081 216px,#000086 233px,#000095 240px,#0000af 243px,#0000c2 244px,#0000e4 245px,#000eff 246px,#006cff 247px,#00e5f7 248px,#02e7f5 249px,#0070ff 250px,#0010ff 251px,#0000e5 252px,#0000c3 253px,#0000af 254px,#00009b 256px,#000086 264px,#000084 283px,#000089 286px,#000098 288px,#0000a0 290px,#00008d 292px,#000083 296px,#000080 312px,#000080)}
.d3{background:linear-gradient(#000081,#000084 18px,#00008e 24px,#00009e 26px,#00d 29px,#00009d 32px,#00008e 34px,#008 48px,#000090 55px,#0000a4 60px,#0000c8 63px,#00f 65px,#002fff 66px,#0092ff 67px,#4effa9 68px,#ffba00 69px,#ff4900 70px,#d5ff22 71px,#0ef7e9 72px,#06f 73px,#0016ff 74px,#0000f6 75px,#0000c1 77px,#00009c 81px,#00008d 86px,#000085 96px,#000081 120px,#000080 144px,#000080 168px,#000080 192px,#000081 216px,#000086 233px,#000095 240px,#0000af 243px,#0000c3 244px,#0000e5 245px,#0010ff 246px,#0070ff 247px,#02e8f5 248px,#00e6f7 249px,#006dff 250px,#000eff 251px,#0000e4 252px,#0000c3 253px,#0000a3 255px,#000091 258px,#000086 264px,#000084 283px,#000089 286px,#000098 288px,#0000a0 290px,#00008d 292px,#000083 296px,#000080 312px,#000080)}
.d4{background:linear-gradient(#000081,#000084 18px,#00008e 24px,#00009e 26px,#0000dc 29px,#00009d 32px,#00008e 34px,#008 48px,#000090 55px,#0000a4 60px,#0000c8 63px,#00f 65px,#002eff 66px,#0090ff 67px,#4bffac 68px,#ffbd00 69px,#ff3c00 70px,#e6ff11 71px,#19ffde 72px,#006dff 73px,#001bff 74px,#0000f9 75px,#0000c2 77px,#00009c 81px,#00008d 86px,#000085 96px,#000081 120px,#000080 144px,#000080 168px,#000080 192px,#000081 216px,#000086 233px,#000095 240px,#0000b0 243px,#0000c5 244px,#0000e7 245px,#0013ff 246px,#0076ff 247px,#06edf1 248px,#00e3f9 249px,#0068ff 250px,#000bff 251px,#0000c2 253px,#0000a2 255px,#000091 258px,#000086 264px,#000084 283px,#000089 286px,#000098 288px,#0000a0 290px,#00008d 292px,#000083 296px,#000080 312px,#000080)}
.d5{background:linear-gradient(#000081,#000084 18px,#00008e 24px,#00009e 26px,#0000dc 29px,#00009d 32px,#00008e 34px,#008 48px,#000090 55px,#0000a4 60px,#0000c8 63px,#00f 65px,#002cff 66px,#008cff 67px,#45ffb2 68px,#ffc200 69px,#ff2e00 70px,#fbf100 71px,#27ffd0 72px,#07f 73px,#0020ff 74px,#0000fd 75px,#0000db 76px,#0000c4 77px,#0000ab 79px,#00009d 81px,#00008e 86px,#000085 96px,#000081 120px,#000080 144px,#000080 168px,#000080 192px,#000081 216px,#000086 233px,#000096 240px,#0000b1 243px,#0000c6 244px,#0000ea 245px,#0018ff 246px,#007eff 247px,#0bf3ec 248px,#00defd 249px,#0063ff 250px,#0008ff 251px,#0000c0 253px,#0000a2 255px,#000091 258px,#000086 264px,#000084 283px,#000089 286px,#000098 288px,#0000a0 290px,#00008d 292px,#000083 296px,#000080 312px,#000080)}
.d6{background:linear-gradient(#000081,#000084 18px,#00008e 24px,#00009e 26px,#0000dc 29px,#00009c 32px,#00008e 34px,#008 48px,#000091 55px,#0000a4 60px,#0000c7 63px,#00f 65px,#002aff 66px,#0087ff 67px,#3dffba 68px,#fc0 69px,#ff2000 70px,#ffd400 71px,#38ffbf 72px,#0083ff 73px,#0027ff 74px,#00f 75px,#0000c7 77px,#0000ac 79px,#00009e 81px,#00008e 86px,#000085 96px,#000081 120px,#000080 144px,#000080 168px,#000080 192px,#000081 216px,#000087 233px,#000096 240px,#0000b3 243px,#0000c9 244px,#00e 245px,#001fff 246px,#08f 247px,#10f9e7 248px,#00d8ff 249px,#005bff 250px,#0004ff 251px,#0000bf 253px,#0000a1 255px,#000090 258px,#000086 264px,#000084 283px,#000089 286px,#000098 288px,#0000a0 290px,#00008d 292px,#000083 296px,#000080 312px,#000080)}
.d7{background:linear-gradient(#000081,#000084 18px,#00008e 24px,#00009e 26px,#0000dc 29px,#00009c 32px,#00008e 34px,#008 48px,#000091 55px,#0000a4 60px,#0000c7 63px,#00f 65px,#0026ff 66px,#0080ff 67px,#32ffc5 68px,#ffdc00 69px,#ff1700 70px,#ffb400 71px,#4cffaa 72px,#0092ff 73px,#0030ff 74px,#00f 75px,#0000c9 77px,#0000b9 78px,#00009f 81px,#00008e 86px,#000085 96px,#000081 120px,#000080 144px,#000080 168px,#000080 192px,#000081 216px,#000087 233px,#000097 240px,#0000b4 243px,#0000cb 244px,#0000f3 245px,#0027ff 246px,#0095ff 247px,#15ffe1 248px,#00cfff 249px,#0053ff 250px,#00f 251px,#0000bd 253px,#0000a1 255px,#000090 258px,#000086 264px,#000084 283px,#000089 286px,#000098 288px,#0000a0 290px,#00008d 292px,#000083 296px,#000080 312px,#000080)}
.d8{background:linear-gradient(#000081,#000084 18px,#00008e 24px,#00009e 26px,#0000db 29px,#00009c 32px,#00008e 34px,#008 48px,#000091 55px,#0000a4 60px,#0000c6 63px,#0000dc 64px,#0000fe 65px,#0021ff 66px,#07f 67px,#25ffd2 68px,#faf200 69px,#ff1300 70px,#ff9000 71px,#64ff93 72px,#00a2ff 73px,#0039ff 74px,#00f 75px,#00b 78px,#0000a0 81px,#00008f 86px,#000085 96px,#000081 120px,#000080 144px,#000080 168px,#000080 192px,#000081 216px,#000087 233px,#000097 240px,#0000b7 243px,#0000cf 244px,#0000fa 245px,#0031ff 246px,#00a4ff 247px,#1affdd 248px,#00c5ff 249px,#0049ff 250px,#00f 251px,#0000bc 253px,#0000a0 255px,#000090 258px,#000086 264px,#000084 283px,#000089 286px,#000098 288px,#0000a0 290px,#00008d 292px,#000083 296px,#000080 312px,#000080)}
.d9{background:linear-gradient(#000081,#000084 18px,#00008e 24px,#00009d 26px,#0000db 29px,#00009c 32px,#00008e 34px,#008 48px,#000090 55px,#0000a3 60px,#0000c4 63px,#0000fa 65px,#001bff 66px,#006cff 67px,#14ffe3 68px,#e2ff15 69px,#ff1800 70px,#ff6c00 71px,#7fff78 72px,#00b5ff 73px,#04f 74px,#0004ff 75px,#0000bd 78px,#0000a0 81px,#00008f 86px,#000085 96px,#000081 120px,#000080 144px,#000080 168px,#000080 192px,#000081 216px,#000087 233px,#000098 240px,#0000b9 243px,#0000d3 244px,#00f 245px,#003dff 246px,#00b5ff 247px,#1dffd9 248px,#00b8ff 249px,#003fff 250px,#00f 251px,#0000d4 252px,#0000ba 253px,#00009f 255px,#000090 258px,#000086 264px,#000084 283px,#000089 286px,#000098 288px,#0000a0 290px,#00008d 292px,#000083 296px,#000080 312px,#000080)}
.d10{background:linear-gradient(#000081,#000084 18px,#00008e 24px,#00009d 26px,#0000da 29px,#00009c 32px,#00008e 34px,#008 48px,#000090 55px,#0000a3 60px,#0000c2 63px,#0000f6 65px,#0014ff 66px,#0060ff 67px,#02e8f5 68px,#c4ff32 69px,#ff2800 70px,#ff4900 71px,#9eff58 72px,#0cf 73px,#0050ff 74px,#000cff 75px,#0000f0 76px,#0000bf 78px,#00009c 82px,#00008e 87px,#000086 96px,#000081 120px,#000080 144px,#000080 168px,#000080 192px,#000081 216px,#000087 233px,#009 240px,#0000bc 243px,#00f 245px,#004bff 246px,#00c8ff 247px,#1effd8 248px,#00a9ff 249px,#0034ff 250px,#0000fc 251px,#0000d0 252px,#0000b7 253px,#00009e 255px,#00008f 258px,#000086 264px,#000084 283px,#00008a 286px,#000098 288px,#0000a0 290px,#00008d 292px,#000083 296px,#000080 312px,#000080)}
.d11{background:linear-gradient(#000081,#000084 18px,#00008e 24px,#00009d 26px,#0000da 29px,#00009c 32px,#00008e 34px,#008 48px,#000090 55px,#0000a2 60px,#0000c0 63px,#0000f1 65px,#000dff 66px,#0053ff 67px,#00d0ff 68px,#a4ff53 69px,#ff4100 70px,#ff2700 71px,#c3ff34 72px,#01e7f6 73px,#005fff 74px,#0014ff 75px,#0000f6 76px,#0000c2 78px,#00009d 82px,#00008e 87px,#000086 96px,#000081 120px,#000080 144px,#000080 168px,#000080 192px,#000081 216px,#000087 233px,#00009a 240px,#0000c0 243px,#0005ff 245px,#005dff 246px,#00ddfe 247px,#1cffdb 248px,#0097ff 249px,#0028ff 250px,#0000f5 251px,#00c 252px,#0000b5 253px,#00009d 255px,#00008f 258px,#000086 264px,#000084 283px,#00008a 286px,#000098 288px,#0000a2 289px,#0000a0 290px,#00008d 292px,#000083 296px,#000080 312px,#000080)}
.d12{background:linear-gradient(#000081,#000084 18px,#00008d 24px,#00009d 26px,#0000d9 29px,#00009c 32px,#00008e 34px,#008 48px,#000090 55px,#0000a1 60px,#0000be 63px,#0006ff 66px,#0046ff 67px,#00b8ff 68px,#82ff75 69px,#ff6500 70px,#f40a00 71px,#edff0a 72px,#1bffdb 73px,#0071ff 74px,#001eff 75px,#0000fd 76px,#0000c5 78px,#0000a4 81px,#000090 86px,#000086 96px,#000081 120px,#000080 144px,#000080 168px,#000080 192px,#000081 216px,#008 233px,#00009b 240px,#0000b0 242px,#0000c4 243px,#0000e6 244px,#01f 245px,#0072ff 246px,#0af2ed 247px,#15ffe2 248px,#0084ff 249px,#001cff 250px,#0000ed 251px,#0000c8 252px,#0000b3 253px,#00009c 255px,#00008f 258px,#000086 264px,#000084 283px,#00008a 286px,#000098 288px,#0000a2 289px,#0000a0 290px,#00008d 292px,#000083 296px,#000080 312px,#000080)}
.d13{background:linear-gradient(#000081,#000084 18px,#00008d 24px,#00009d 26px,#0000d9 29px,#00009b 32px,#00008e 34px,#008 48px,#000092 56px,#0000a7 61px,#0000cd 64px,#00f 66px,#0038ff 67px,#009fff 68px,#5fff98 69px,#ff9200 70px,#dc0000 71px,#ffca00 72px,#3bffbc 73px,#0087ff 74px,#002bff 75px,#00f 76px,#0000c9 78px,#0000b9 79px,#00009f 82px,#00008f 87px,#000086 96px,#000081 120px,#000080 144px,#000080 168px,#000080 192px,#000081 216px,#008 233px,#00009d 240px,#0000b4 242px,#0000ca 243px,#0000f0 244px,#001fff 245px,#008aff 246px,#1affdd 247px,#09f1ed 248px,#0070ff 249px,#0010ff 250px,#0000e6 251px,#0000c4 252px,#0000b0 253px,#00009b 255px,#000086 264px,#000084 283px,#00008a 286px,#000098 288px,#0000a2 289px,#0000a0 290px,#00008d 292px,#000083 296px,#000080 312px,#000080)}
.d14{background:linear-gradient(#000081,#000084 18px,#00008d 24px,#00009c 26px,#0000d8 29px,#00009b 32px,#00008e 34px,#008 48px,#000091 56px,#0000a5 61px,#0000c9 64px,#00f 66px,#002bff 67px,#08f 68px,#3cffbb 69px,#ffc800 70px,#d80000 71px,#ff8f00 72px,#61ff96 73px,#00a1ff 74px,#0039ff 75px,#00f 76px,#0000bc 79px,#0000a0 82px,#00008f 87px,#000086 96px,#000081 120px,#000080 144px,#000080 168px,#000080 192px,#000081 216px,#008 233px,#00009f 240px,#0000b8 242px,#0000d0 243px,#0000fb 244px,#0031ff 245px,#00a6ff 246px,#26ffd1 247px,#00ddfe 248px,#005bff 249px,#0004ff 250px,#0000c0 252px,#0000a2 254px,#00008e 258px,#000086 264px,#000084 283px,#00008a 286px,#000098 288px,#0000a2 289px,#0000a0 290px,#00008d 292px,#000083 296px,#000080 312px,#000080)}
.d15{background:linear-gradient(#000081,#000084 18px,#00008d 24px,#00009c 26px,#0000d7 29px,#00009b 32px,#00008e 34px,#008 48px,#000091 56px,#0000a4 61px,#0000c6 64px,#0000fd 66px,#001fff 67px,#0071ff 68px,#1affdd 69px,#ecff0b 70px,#eb0300 71px,#ff5300 72px,#8fff68 73px,#00c1ff 74px,#004bff 75px,#0009ff 76px,#00e 77px,#0000bf 79px,#0000a1 82px,#000090 87px,#000086 96px,#000081 120px,#000080 144px,#000080 168px,#000080 192px,#000082 216px,#008 233px,#0000a1 240px,#0000bc 242px,#00f 244px,#0047ff 245px,#00c5ff 246px,#2cffcb 247px,#00c4ff 248px,#0046ff 249px,#00f 250px,#0000d7 251px,#0000bc 252px,#0000a1 254px,#00008e 258px,#000086 264px,#000084 283px,#00008a 286px,#000098 288px,#0000a3 289px,#0000a1 290px,#00008d 292px,#000083 296px,#000080 312px,#000080)}
.d16{background:linear-gradient(#000081,#000084 18px,#00008d 24px,#00009c 26px,#0000d6 29px,#00009b 32px,#00008d 34px,#008 48px,#000090 56px,#0000a3 61px,#0000c2 64px,#0000f5 66px,#0012ff 67px,#005bff 68px,#00defd 69px,#b7ff40 70px,#ff2800 71px,#ff1c00 72px,#c4ff32 73px,#02e8f5 74px,#0060ff 75px,#0015ff 76px,#0000f7 77px,#0000c3 79px,#0000a3 82px,#000090 87px,#000086 96px,#000081 120px,#000080 144px,#000080 168px,#000080 192px,#000082 216px,#000089 233px,#000091 237px,#0000a3 240px,#0000c2 242px,#0008ff 244px,#0061ff 245px,#00e6f6 246px,#2affcd 247px,#00a7ff 248px,#0032ff 249px,#0000fb 250px,#0000d1 251px,#0000b8 252px,#00009f 254px,#00008d 258px,#000086 264px,#000084 283px,#00008a 286px,#000098 288px,#0000a3 289px,#0000a1 290px,#00008d 292px,#000083 296px,#000080 312px,#000080)}
.d17{background:linear-gradient(#000081,#000084 18px,#00008d 24px,#00009c 26px,#0000d6 29px,#00009b 32px,#00008d 34px,#000087 48px,#000090 56px,#0000a1 61px,#0000bf 64px,#0006ff 67px,#0046ff 68px,#00b8ff 69px,#82ff75 70px,#ff6000 71px,#d90000 72px,#ffe900 73px,#28ffcf 74px,#007aff 75px,#0024ff 76px,#00f 77px,#0000c7 79px,#0000a5 82px,#000091 87px,#000086 96px,#000081 120px,#000080 144px,#000080 168px,#000080 192px,#000082 216px,#000089 233px,#000092 237px,#0000a6 240px,#0000c8 242px,#0000ec 243px,#001aff 244px,#0080ff 245px,#19ffdd 246px,#1fffd8 247px,#0089ff 248px,#001fff 249px,#0000f0 250px,#0000ca 251px,#0000b4 252px,#00009d 254px,#00008d 258px,#000086 264px,#000084 283px,#00008a 286px,#009 288px,#0000a3 289px,#0000a1 290px,#00008d 292px,#000083 296px,#000080 312px,#000080)}
.d18{background:linear-gradient(#000081,#000084 18px,#00008d 24px,#00009b 26px,#0000d5 29px,#00009a 32px,#00008d 34px,#000087 48px,#00008f 56px,#0000a0 61px,#00b 64px,#00f 67px,#03f 68px,#0095ff 69px,#50ffa7 70px,#ffa700 71px,#c70000 72px,#ff9c00 73px,#57ffa0 74px,#009aff 75px,#0036ff 76px,#00f 77px,#00b 80px,#0000a0 83px,#00008f 88px,#000087 96px,#000081 120px,#000080 144px,#000080 168px,#000080 192px,#000082 216px,#00008b 234px,#000098 238px,#0000a9 240px,#0000d0 242px,#0000fa 243px,#0030ff 244px,#00a5ff 245px,#2dffca 246px,#0bf3ec 247px,#006bff 248px,#000dff 249px,#0000e5 250px,#0000c4 251px,#0000b0 252px,#00009c 254px,#00008c 258px,#000085 264px,#000084 283px,#00008a 286px,#009 288px,#0000a3 289px,#0000a1 290px,#00008d 292px,#000083 296px,#000080 312px,#000080)}
.d19{background:linear-gradient(#000081,#000084 18px,#00008d 24px,#00009b 26px,#0000d4 29px,#00009a 32px,#00008d 34px,#000087 48px,#000091 57px,#0000a5 62px,#0000c7 65px,#00f 67px,#02f 68px,#0076ff 69px,#22ffd5 70px,#f8f400 71px,#db0000 72px,#ff4f00 73px,#8fff68 74px,#00c1ff 75px,#004bff 76px,#000aff 77px,#0000ef 78px,#0000bf 80px,#0000a2 83px,#000090 88px,#000087 96px,#000081 120px,#000080 144px,#000080 168px,#000080 192px,#000082 216px,#00008c 234px,#00009a 238px,#0000ad 240px,#0000be 241px,#00f 243px,#004bff 244px,#00cdff 245px,#37ffc0 246px,#00d2ff 247px,#004fff 248px,#00f 249px,#0000be 251px,#0000a2 253px,#00008e 257px,#000085 264px,#000084 283px,#00008a 286px,#009 288px,#0000a3 289px,#0000a1 290px,#00008e 292px,#000083 296px,#000080 312px,#000080)}
.d20{background:linear-gradient(#000081,#000083 18px,#00008c 24px,#00009b 26px,#0000d3 29px,#00009a 32px,#00008d 34px,#000087 48px,#000090 57px,#0000a3 62px,#0000c2 65px,#0000f5 67px,#0012ff 68px,#005aff 69px,#00dbff 70px,#b4ff43 71px,#ff2700 72px,#f80d00 73px,#d1ff25 74px,#0af1ed 75px,#06f 76px,#0019ff 77px,#0000f9 78px,#0000c4 80px,#0000a4 83px,#000090 88px,#000087 96px,#000081 120px,#000080 144px,#000080 168px,#000080 192px,#000082 216px,#00008c 234px,#00009c 238px,#0000b1 240px,#0000c5 241px,#0000e6 242px,#000fff 243px,#006dff 244px,#0ef7e9 245px,#34ffc2 246px,#00adff 247px,#0035ff 248px,#0000fe 249px,#0000d2 250px,#0000b9 251px,#0000a0 253px,#00008e 257px,#000085 264px,#000084 283px,#00008a 286px,#009 288px,#0000a4 289px,#0000a2 290px,#00008e 292px,#000083 296px,#000080 312px,#000080)}
.d21{background:linear-gradient(#000081,#000083 18px,#00008c 24px,#00009b 26px,#0000d2 29px,#009 32px,#00008d 34px,#000087 48px,#000090 57px,#0000a1 62px,#0000be 65px,#0004ff 68px,#0041ff 69px,#00aeff 70px,#74ff83 71px,#ff7200 72px,#c70000 73px,#ffcb00 74px,#39ffbe 75px,#0086ff 76px,#002bff 77px,#00f 78px,#0000ca 80px,#0000a6 83px,#000091 88px,#000087 96px,#000081 120px,#000081 144px,#000080 168px,#000080 192px,#000082 216px,#00008d 234px,#00009f 238px,#0000b6 240px,#0000cd 241px,#0000f5 242px,#0026ff 243px,#0095ff 244px,#2cffcb 245px,#24ffd3 246px,#08f 247px,#001eff 248px,#0000f0 249px,#0000cb 250px,#0000b5 251px,#00009e 253px,#00008d 257px,#000085 264px,#000084 283px,#00008a 286px,#009 288px,#0000a4 289px,#0000a2 290px,#00008e 292px,#000083 296px,#000080 312px,#000080)}
.d22{background:linear-gradient(#000081,#00008c 24px,#00009a 26px,#0000d1 29px,#009 32px,#00008d 34px,#000087 48px,#00008f 57px,#00009f 62px,#0000ba 65px,#0000ca 66px,#00f 68px,#002bff 69px,#0086ff 70px,#3affbd 71px,#ffca00 72px,#c70000 73px,#ff7200 74px,#73ff84 75px,#00aeff 76px,#0041ff 77px,#0003ff 78px,#0000be 81px,#0000a1 84px,#000090 89px,#000087 96px,#000082 120px,#000081 144px,#000080 168px,#000080 192px,#000082 216px,#00008e 234px,#0000a1 238px,#0000bd 240px,#00f 242px,#04f 243px,#00c4ff 244px,#40ffb7 245px,#09f0ee 246px,#0065ff 247px,#000aff 248px,#0000c4 250px,#00009c 253px,#00008d 257px,#000085 264px,#000084 283px,#00008a 286px,#00009a 288px,#0000a5 289px,#0000a2 290px,#00008e 292px,#000083 296px,#000080 312px,#000080)}
.d23{background:linear-gradient(#000081,#00008c 24px,#00009a 26px,#0000d0 29px,#009 32px,#00008c 34px,#000087 48px,#00008f 57px,#00009e 62px,#0000c4 66px,#0000f9 68px,#0018ff 69px,#0064ff 70px,#08efef 71px,#ceff29 72px,#fb0f00 73px,#f20 74px,#b8ff3f 75px,#00dffc 76px,#005cff 77px,#0013ff 78px,#0000f5 79px,#0000c2 81px,#0000a3 84px,#000090 89px,#008 96px,#000082 120px,#000081 144px,#000080 168px,#000080 192px,#000082 216px,#00008f 234px,#0000a5 238px,#0000c4 240px,#0000e5 241px,#000cff 242px,#0068ff 243px,#0df5ea 244px,#44ffb3 245px,#00c7ff 246px,#0046ff 247px,#00f 248px,#0000bd 250px,#0000a2 252px,#00008e 256px,#000085 264px,#000084 283px,#00008a 286px,#00009a 288px,#0000a5 289px,#0000a3 290px,#00008e 292px,#000083 296px,#000080 312px,#000080)}
.d24{background:linear-gradient(#000081,#00008c 24px,#00009a 26px,#0000cf 29px,#000098 32px,#00008c 34px,#000086 48px,#000090 58px,#0000a2 63px,#0000bf 66px,#0007ff 69px,#0047ff 70px,#00b9ff 71px,#84ff73 72px,#ff5c00 73px,#d20000 74px,#ffe400 75px,#2bffcc 76px,#007cff 77px,#0025ff 78px,#00f 79px,#0000c8 81px,#0000a5 84px,#000091 89px,#008 96px,#000082 120px,#000081 144px,#000080 168px,#000081 192px,#000082 216px,#000090 234px,#0000a9 238px,#0000ce 240px,#0000f5 241px,#0026ff 242px,#0094ff 243px,#32ffc5 244px,#37ffc0 245px,#009dff 246px,#002bff 247px,#0000f8 248px,#0000d0 249px,#0000b8 250px,#0000a0 252px,#00008e 256px,#000085 264px,#000084 283px,#00008a 286px,#00009a 288px,#0000a5 289px,#0000a3 290px,#00008e 292px,#000083 296px,#000080 312px,#000080)}
.d25{background:linear-gradient(#000081,#00008c 24px,#009 26px,#0000ce 29px,#000098 32px,#00008c 34px,#000086 48px,#00008e 57px,#0000a0 63px,#0000ba 66px,#0000ca 67px,#00f 69px,#002eff 70px,#008dff 71px,#43ffb4 72px,#fb0 73px,#c80000 74px,#ff8700 75px,#65ff92 76px,#00a4ff 77px,#003bff 78px,#00f 79px,#0000ce 81px,#0000a7 84px,#000091 89px,#008 96px,#000082 120px,#000081 144px,#000080 168px,#000081 192px,#000082 216px,#000091 234px,#0000ad 238px,#0000d9 240px,#00f 241px,#0045ff 242px,#00c7ff 243px,#4cffab 244px,#1bffdc 245px,#0075ff 246px,#0014ff 247px,#0000ea 248px,#0000c8 249px,#0000b3 250px,#00009e 252px,#00008d 256px,#000085 264px,#000084 283px,#00008b 286px,#00009b 288px,#0000a6 289px,#0000a4 290px,#00008e 292px,#000083 296px,#000080 312px,#000080)}
.d26{background:linear-gradient(#000081,#00008c 24px,#009 26px,#0000cd 29px,#000098 32px,#00008c 34px,#000086 48px,#00008d 57px,#00009e 63px,#0000c4 67px,#0000f9 69px,#0019ff 70px,#0067ff 71px,#0cf4eb 72px,#d5ff22 73px,#f90e00 74px,#f30 75px,#aaff4d 76px,#00d4ff 77px,#0056ff 78px,#000fff 79px,#0000f3 80px,#0000c1 82px,#0000a2 85px,#000092 89px,#008 96px,#000082 120px,#000081 144px,#000080 168px,#000081 192px,#000082 216px,#000087 228px,#000093 234px,#0000b2 238px,#0000c6 239px,#0000e7 240px,#000fff 241px,#006cff 242px,#14fee3 243px,#54ffa3 244px,#00dcff 245px,#0053ff 246px,#0001ff 247px,#0000c1 249px,#00009c 252px,#00008d 256px,#000085 264px,#000084 283px,#00008b 286px,#00009b 288px,#0000a6 289px,#0000a4 290px,#00008f 292px,#000083 296px,#000080 312px,#000080)}
.d27{background:linear-gradient(#000081,#00008b 24px,#000098 26px,#0000cb 29px,#000097 32px,#00008c 34px,#000086 48px,#00008e 58px,#0000a1 64px,#0000bf 67px,#0007ff 70px,#0048ff 71px,#0bf 72px,#87ff70 73px,#ff5c00 74px,#e30000 75px,#f7f600 76px,#21ffd6 77px,#0075ff 78px,#0021ff 79px,#00f 80px,#0000c6 82px,#0000a4 85px,#000093 89px,#008 96px,#000082 120px,#000081 144px,#000080 168px,#000081 192px,#000082 216px,#000089 229px,#009 235px,#0000b9 238px,#0000d0 239px,#0000f8 240px,#002aff 241px,#009bff 242px,#3dffba 243px,#49ffae 244px,#00afff 245px,#0035ff 246px,#00f 247px,#0000d4 248px,#00b 249px,#0000a1 251px,#00008c 256px,#000085 264px,#000084 283px,#00008b 286px,#00009b 288px,#0000a7 289px,#0000a5 290px,#00008f 292px,#000084 296px,#000080 312px,#000080)}
.d28{background:linear-gradient(#000081,#00008b 24px,#000098 26px,#0000ca 29px,#000097 32px,#00008b 34px,#000086 48px,#00008d 58px,#00009f 64px,#0000ba 67px,#0000ca 68px,#00f 70px,#002eff 71px,#008dff 72px,#44ffb3 73px,#ffbc00 74px,#d60000 75px,#ff9a00 76px,#59ff9e 77px,#009bff 78px,#0036ff 79px,#00f 80px,#00c 82px,#0000a6 85px,#000094 89px,#000089 96px,#000082 120px,#000081 144px,#000080 168px,#000081 192px,#000082 216px,#008 228px,#000096 234px,#0000a3 236px,#0000c0 238px,#00f 240px,#004bff 241px,#00d1ff 242px,#5bff9c 243px,#2effc9 244px,#0085ff 245px,#001dff 246px,#0000f0 247px,#00c 248px,#0000b6 249px,#009 252px,#00008c 256px,#000084 264px,#000084 283px,#00008b 286px,#00009c 288px,#0000a7 289px,#0000a5 290px,#00008f 292px,#000084 296px,#000080 312px,#000080)}
.d29{background:linear-gradient(#000081,#00008b 24px,#000098 26px,#0000c9 29px,#000097 32px,#00008b 34px,#000086 48px,#00008d 58px,#00009d 64px,#0000c4 68px,#0000f9 70px,#0019ff 71px,#0067ff 72px,#0cf4eb 73px,#d5ff22 74px,#ff1700 75px,#ff4a00 76px,#9aff5d 77px,#00c9ff 78px,#004fff 79px,#000bff 80px,#0000ef 81px,#0000bf 83px,#0000a9 85px,#000095 89px,#000089 96px,#000082 120px,#000081 144px,#000080 168px,#000081 192px,#000083 216px,#000089 228px,#000098 234px,#0000b4 237px,#0000c9 238px,#0000eb 239px,#0013ff 240px,#0073ff 241px,#1effd9 242px,#67ff90 243px,#0af2ed 244px,#0061ff 245px,#0009ff 246px,#0000c5 248px,#00009d 251px,#00008b 256px,#000084 264px,#000084 283px,#00008b 286px,#00009c 288px,#0000a8 289px,#0000a6 290px,#00008f 292px,#000084 296px,#000080 312px,#000080)}
.d30{background:linear-gradient(#000081,#00008b 24px,#000097 26px,#0000c8 29px,#000096 32px,#00008b 34px,#000085 48px,#00008c 58px,#00009c 64px,#0000be 68px,#0000ec 70px,#0007ff 71px,#0048ff 72px,#00bcff 73px,#88ff6f 74px,#ff5f00 75px,#ff1300 76px,#e1ff16 77px,#14fee3 78px,#006cff 79px,#001bff 80px,#0000fa 81px,#0000c4 83px,#0000a3 86px,#000092 90px,#000089 96px,#000082 120px,#000081 144px,#000080 168px,#000081 192px,#000083 216px,#000089 228px,#00009a 234px,#00b 237px,#0000d3 238px,#0000fc 239px,#002eff 240px,#00a3ff 241px,#4affad 242px,#5eff98 243px,#00c5ff 244px,#0043ff 245px,#00f 246px,#0000bf 248px,#00009c 251px,#00008b 256px,#000084 264px,#000085 283px,#00008b 286px,#00009d 288px,#0000a9 289px,#0000a6 290px,#00008f 292px,#000084 296px,#000080 312px,#000080)}
.d31{background:linear-gradient(#000081,#00008b 24px,#000097 26px,#0000c7 29px,#000096 32px,#00008b 34px,#000085 48px,#00008d 59px,#00009f 65px,#0000b9 68px,#0000ca 69px,#00f 71px,#002fff 72px,#008eff 73px,#47ffb0 74px,#ffb900 75px,#ed0400 76px,#ffbc00 77px,#45ffb2 78px,#008dff 79px,#002eff 80px,#00f 81px,#0000c9 83px,#0000a5 86px,#000093 90px,#000089 96px,#000082 120px,#000081 144px,#000080 168px,#000081 192px,#000083 216px,#000089 227px,#000097 233px,#0000b0 236px,#0000c2 237px,#00f 239px,#004fff 240px,#00d8ff 241px,#6bff8c 242px,#46ffb1 243px,#009bff 244px,#002aff 245px,#0000f9 246px,#0000d2 247px,#0000ba 248px,#00009a 251px,#00008b 256px,#000084 264px,#000085 283px,#00008b 286px,#00009d 288px,#0000a9 289px,#0000a7 290px,#000090 292px,#000084 296px,#000080 312px,#000080)}
.d32{background:linear-gradient(#000081,#00008a 24px,#000096 26px,#0000c5 29px,#000095 32px,#00008b 34px,#000085 48px,#00008d 59px,#00009d 65px,#0000c3 69px,#0000f9 71px,#001aff 72px,#006aff 73px,#12fce5 74px,#deff19 75px,#ff1e00 76px,#ff7100 77px,#7dff7a 78px,#00b3ff 79px,#0043ff 80px,#0004ff 81px,#0000bd 84px,#0000a7 86px,#000094 90px,#000089 96px,#000082 120px,#000081 144px,#000080 168px,#000081 192px,#000083 216px,#000089 227px,#009 233px,#0000b6 236px,#0000ca 237px,#0000ec 238px,#0015ff 239px,#0075ff 240px,#24ffd3 241px,#7dff7a 242px,#26ffd0 243px,#0078ff 244px,#0016ff 245px,#0000ed 246px,#0000cb 247px,#0000b6 248px,#009 251px,#00008b 256px,#000084 264px,#000085 283px,#00008c 286px,#00009e 288px,#00a 289px,#0000a8 290px,#000090 292px,#000084 296px,#000080 312px,#000080)}
.d33{background:linear-gradient(#000081,#00008a 24px,#000096 26px,#0000c4 29px,#000095 32px,#00008a 34px,#000085 48px,#00008c 59px,#00009c 65px,#0000be 69px,#00e 71px,#0009ff 72px,#004dff 73px,#00c6ff 74px,#97ff60 75px,#ff5700 76px,#ff3b00 77px,#b8ff3f 78px,#00dffc 79px,#005aff 80px,#01f 81px,#0000f3 82px,#0000c1 84px,#0000a9 86px,#000094 90px,#00008a 96px,#000082 120px,#000081 144px,#000080 168px,#000081 192px,#000083 216px,#00008a 227px,#00009b 233px,#0000bc 236px,#0000d4 237px,#0000fd 238px,#002eff 239px,#00a2ff 240px,#51ffa6 241px,#7dff79 242px,#05ecf1 243px,#005bff 244px,#0007ff 245px,#0000c6 247px,#00009e 250px,#00008c 255px,#000084 264px,#000085 283px,#00008c 286px,#00009e 288px,#0000ab 289px,#0000a8 290px,#000090 292px,#000084 296px,#000080 312px,#000080)}
.d34{background:linear-gradient(#000080,#00008a 24px,#000096 26px,#0000c3 29px,#000095 32px,#00008a 34px,#000085 48px,#00008d 60px,#00009f 66px,#0000ba 69px,#0000cb 70px,#00f 72px,#0035ff 73px,#009cff 74px,#5bff9c 75px,#ffa000 76px,#ff2100 77px,#f4f903 78px,#21ffd6 79px,#0074ff 80px,#001fff 81px,#0000fc 82px,#0000c4 84px,#0000ab 86px,#000095 90px,#00008a 96px,#000082 120px,#000081 144px,#000080 168px,#000081 192px,#000083 216px,#000089 226px,#000098 232px,#0000b1 235px,#0000c3 236px,#00f 238px,#004cff 239px,#00d4ff 240px,#78ff7e 241px,#70ff86 242px,#00c7ff 243px,#04f 244px,#00f 245px,#0000c1 247px,#00009d 250px,#00008c 255px,#000084 264px,#000085 283px,#00008c 286px,#00009f 288px,#0000ac 289px,#0000a9 290px,#000091 292px,#000084 296px,#000080 312px,#000080)}
.d35{background:linear-gradient(#000080,#00008a 24px,#000095 26px,#0000c2 29px,#000094 32px,#00008a 34px,#000085 48px,#00008c 60px,#00009d 66px,#0000ab 68px,#0000c5 70px,#0000db 71px,#0000fe 72px,#0021ff 73px,#0079ff 74px,#28ffce 75px,#feed00 76px,#ff2800 77px,#ffbd00 78px,#48ffaf 79px,#008eff 80px,#002dff 81px,#00f 82px,#0000c8 84px,#0000ad 86px,#000096 90px,#00008a 96px,#000082 120px,#000081 144px,#000080 168px,#000081 192px,#000083 216px,#00008a 226px,#00009a 232px,#0000b6 235px,#0000cb 236px,#0000eb 237px,#0012ff 238px,#006dff 239px,#1dffda 240px,#96ff61 241px,#5bff9c 242px,#00a7ff 243px,#0032ff 244px,#00f 245px,#0000d6 246px,#0000be 247px,#00009c 250px,#00008c 255px,#000084 264px,#000085 283px,#00008c 286px,#00009f 288px,#0000ac 289px,#00a 290px,#000091 292px,#000084 296px,#000080 312px,#000080)}
.d36{background:linear-gradient(#000080,#00008a 24px,#000095 26px,#0000c1 29px,#000094 32px,#00008a 34px,#000084 48px,#00008c 60px,#00009c 66px,#0000c0 70px,#0000f2 72px,#01f 73px,#005cff 74px,#00e4f8 75px,#beff39 76px,#ff4a00 77px,#ff8f00 78px,#6eff88 79px,#00a9ff 80px,#003cff 81px,#00f 82px,#0000cb 84px,#0000a5 87px,#000093 91px,#00008a 96px,#000082 120px,#000081 144px,#000080 168px,#000081 192px,#000084 216px,#00008c 227px,#00009c 232px,#0000bc 235px,#0000d3 236px,#0000f9 237px,#0026ff 238px,#0092ff 239px,#49ffae 240px,#a7ff50 241px,#43ffb3 242px,#008dff 243px,#0024ff 244px,#0000f7 245px,#0000d2 246px,#00b 247px,#00009c 250px,#00008c 255px,#000084 264px,#000085 283px,#00008d 286px,#0000a0 288px,#0000ad 289px,#0000ab 290px,#000091 292px,#000084 296px,#000080 312px,#000080)}
.d37{background:linear-gradient(#000080,#000089 24px,#000094 26px,#0000bf 29px,#000093 32px,#00008a 34px,#000084 48px,#00008b 60px,#00009a 66px,#00b 70px,#0000e8 72px,#0003ff 73px,#04f 74px,#00baff 75px,#86ff71 76px,#ff7d00 77px,#ff7300 78px,#92ff65 79px,#00c2ff 80px,#0049ff 81px,#0006ff 82px,#0000bc 85px,#0000a6 87px,#000093 91px,#00008a 96px,#000082 120px,#000081 144px,#000080 168px,#000081 192px,#000084 216px,#00008c 227px,#00009e 232px,#0000c2 235px,#00f 237px,#003dff 238px,#00baff 239px,#73ff84 240px,#adff4a 241px,#2dffca 242px,#0078ff 243px,#0019ff 244px,#0000f1 245px,#0000ce 246px,#0000b9 247px,#00009b 250px,#00008c 255px,#000084 264px,#000085 283px,#00008d 286px,#0000a0 288px,#0000ae 289px,#0000ac 290px,#000092 292px,#000084 296px,#000080 312px,#000080)}
.d38{background:linear-gradient(#000080,#000089 24px,#000094 26px,#0000be 29px,#000093 32px,#000089 34px,#000084 48px,#00008b 60px,#009 66px,#0000b7 70px,#0000e0 72px,#00f 73px,#0031ff 74px,#0097ff 75px,#57ffa0 76px,#ffb600 77px,#ff6a00 78px,#b0ff47 79px,#00d9ff 80px,#05f 81px,#000cff 82px,#00e 83px,#0000bd 85px,#0000a7 87px,#000093 91px,#00008a 96px,#000082 120px,#000081 144px,#000080 168px,#000081 192px,#000084 216px,#00008b 226px,#00009a 231px,#0000b5 234px,#0000c7 235px,#0006ff 237px,#05f 238px,#00e3f9 239px,#98ff5f 240px,#acff4b 241px,#19ffde 242px,#0068ff 243px,#0010ff 244px,#0000ec 245px,#00c 246px,#0000b8 247px,#00009b 250px,#00008c 255px,#000084 264px,#000085 283px,#00008d 286px,#0000a1 288px,#0000af 289px,#0000ac 290px,#000092 292px,#000084 296px,#000080 312px,#000080)}
.d39{background:linear-gradient(#000080,#000089 24px,#000094 26px,#0000bd 29px,#000093 32px,#000089 34px,#000084 48px,#00008a 60px,#000097 66px,#0000b4 70px,#0000d9 72px,#0000fc 73px,#0021ff 74px,#007cff 75px,#30ffc7 76px,#feed00 77px,#ff7100 78px,#c6ff30 79px,#06edf1 80px,#005fff 81px,#01f 82px,#0000f1 83px,#0000be 85px,#0000a7 87px,#000093 91px,#00008a 96px,#000082 120px,#000081 144px,#000080 168px,#000081 192px,#000084 216px,#00008c 226px,#00009c 231px,#0000b9 234px,#0000cd 235px,#00e 236px,#0014ff 237px,#006dff 238px,#1fffd8 239px,#b7ff3f 240px,#a7ff50 241px,#09f0ee 242px,#005dff 243px,#000bff 244px,#0000e9 245px,#0000b7 247px,#00009b 250px,#00008c 255px,#000085 264px,#000085 283px,#00008d 286px,#0000a2 288px,#0000b0 289px,#0000ad 290px,#000092 292px,#000084 296px,#000080 312px,#000080)}
.d40{background:linear-gradient(#000080,#000089 24px,#000093 26px,#0000bc 29px,#000092 32px,#000089 34px,#000084 48px,#00008a 60px,#000096 66px,#0000b1 70px,#0000d3 72px,#0000f3 73px,#0014ff 74px,#06f 75px,#11fae6 76px,#d3ff24 77px,#ff8200 78px,#d5ff22 79px,#12fce5 80px,#0067ff 81px,#0015ff 82px,#0000f3 83px,#0000bf 85px,#0000a7 87px,#000093 91px,#00008a 96px,#000082 120px,#000081 144px,#000080 168px,#000081 192px,#000084 216px,#00008c 226px,#00009d 231px,#0000bd 234px,#0000d3 235px,#0000f7 236px,#0021ff 237px,#0085ff 238px,#3effb9 239px,#d1ff26 240px,#a1ff56 241px,#00e2fa 242px,#0054ff 243px,#0007ff 244px,#0000b6 247px,#00009b 250px,#00008c 255px,#000085 264px,#000085 283px,#00008e 286px,#0000a2 288px,#0000b1 289px,#0000ae 290px,#000093 292px,#000085 296px,#000080 312px,#000080)}
.d41{background:linear-gradient(#000080,#000089 24px,#000093 26px,#00b 29px,#000092 32px,#000089 34px,#000084 48px,#000095 66px,#0000ae 70px,#0000ce 72px,#000aff 74px,#0054ff 75px,#00dcff 76px,#afff48 77px,#ff9a00 78px,#dcff1b 79px,#1affdd 80px,#006cff 81px,#0017ff 82px,#0000f4 83px,#0000bf 85px,#0000a7 87px,#000093 91px,#00008a 96px,#000082 120px,#000081 144px,#000080 168px,#000081 192px,#000084 216px,#00008d 226px,#00009f 231px,#0000c1 234px,#0000d9 235px,#00f 236px,#002eff 237px,#009bff 238px,#5aff9c 239px,#e6ff11 240px,#9cff5b 241px,#00d8ff 242px,#004fff 243px,#0004ff 244px,#0000b6 247px,#00009b 250px,#00008c 255px,#000085 264px,#000086 283px,#00008e 286px,#0000a3 288px,#0000b2 289px,#0000af 290px,#000093 292px,#000085 296px,#000080 312px,#000080)}
.d42{background:linear-gradient(#000080,#008 24px,#000092 26px,#0000b9 29px,#000092 32px,#000089 34px,#000084 48px,#000094 66px,#0000ac 70px,#0000ca 72px,#0002ff 74px,#0047ff 75px,#00c5ff 76px,#92ff65 77px,#ffb200 78px,#dcff1a 79px,#1dffd9 80px,#006dff 81px,#0017ff 82px,#0000f4 83px,#0000be 85px,#0000a6 87px,#000092 91px,#000089 96px,#000082 120px,#000081 144px,#000080 168px,#000081 192px,#000084 216px,#00008e 226px,#0000a0 231px,#0000c4 234px,#00f 236px,#0039ff 237px,#00afff 238px,#73ff84 239px,#f7f500 240px,#9bff5c 241px,#00d4ff 242px,#004dff 243px,#0004ff 244px,#0000b6 247px,#00009b 250px,#00008c 255px,#000085 264px,#000086 283px,#00008e 286px,#0000a4 288px,#0000b3 289px,#0000b0 290px,#000093 292px,#000085 296px,#000080 312px,#000080)}
.d43{background:linear-gradient(#000080,#008 24px,#000092 26px,#0000b8 29px,#000091 32px,#008 34px,#000083 48px,#000094 66px,#00a 70px,#0000c7 72px,#00f 74px,#003dff 75px,#00b4ff 76px,#7dff7a 77px,#ffc900 78px,#d7ff20 79px,#1cffdb 80px,#006cff 81px,#0016ff 82px,#0000f3 83px,#0000bd 85px,#0000a5 87px,#000092 91px,#000089 96px,#000081 120px,#000081 144px,#000080 168px,#000081 192px,#000085 216px,#00008e 226px,#0000a1 231px,#0000c7 234px,#00f 236px,#0042ff 237px,#00beff 238px,#86ff71 239px,#ffe300 240px,#9eff59 241px,#00d5ff 242px,#004eff 243px,#0005ff 244px,#0000b7 247px,#00009c 250px,#00008c 255px,#000085 264px,#000086 283px,#00008e 286px,#0000a5 288px,#0000b4 289px,#0000b1 290px,#000094 292px,#000085 296px,#000081 312px,#000080)}
.d44{background:linear-gradient(#000080,#008 24px,#000092 26px,#0000b7 29px,#000091 32px,#008 34px,#000083 48px,#000093 66px,#0000a9 70px,#0000c5 72px,#00f 74px,#0037ff 75px,#00a9ff 76px,#6fff88 77px,#ffdb00 78px,#cdff2a 79px,#17ffe0 80px,#0068ff 81px,#0013ff 82px,#0000f0 83px,#0000bc 85px,#0000a5 87px,#000091 91px,#000089 96px,#000081 120px,#000081 144px,#000080 168px,#000081 192px,#000085 216px,#00008c 225px,#00009c 230px,#0000b7 233px,#0000c9 234px,#0002ff 236px,#0048ff 237px,#00c9ff 238px,#94ff63 239px,#ffd300 240px,#a6ff51 241px,#00daff 242px,#0052ff 243px,#0007ff 244px,#0000b8 247px,#00009c 250px,#00008d 255px,#000085 264px,#000086 283px,#00008f 286px,#0000a5 288px,#0000b5 289px,#0000b2 290px,#000094 292px,#000085 296px,#000081 312px,#000080)}
.d45{background:linear-gradient(#000080,#008 24px,#000091 26px,#0000b6 29px,#000090 32px,#008 34px,#000083 48px,#000093 66px,#0000a8 70px,#0000c3 72px,#00f 74px,#0034ff 75px,#00a4ff 76px,#67ff8f 77px,#ffea00 78px,#bfff38 79px,#0df6e9 80px,#0061ff 81px,#000fff 82px,#0000ed 83px,#0000ba 85px,#0000a4 87px,#000091 91px,#000089 96px,#000081 120px,#000081 144px,#000080 168px,#000081 192px,#000085 216px,#00008d 225px,#00009d 230px,#0000b8 233px,#0004ff 236px,#004cff 237px,#00cfff 238px,#9dff5a 239px,#ffc200 240px,#b5ff42 241px,#00e5f7 242px,#0058ff 243px,#000bff 244px,#0000eb 245px,#0000ba 247px,#00009d 250px,#00008d 255px,#000085 264px,#000086 283px,#00008f 286px,#0000a6 288px,#0000b6 289px,#0000b3 290px,#000095 292px,#000085 296px,#000081 312px,#000080)}
.d46{background:linear-gradient(#000080,#008 24px,#000091 26px,#0000b5 29px,#000090 32px,#008 34px,#000083 48px,#000092 66px,#0000a7 70px,#0000c3 72px,#00f 74px,#0032ff 75px,#00a3ff 76px,#65ff92 77px,#f6f701 78px,#abff4c 79px,#00e4f8 80px,#0057ff 81px,#0009ff 82px,#0000b8 85px,#0000a2 87px,#000090 91px,#008 96px,#000081 120px,#000081 144px,#000080 168px,#000081 192px,#000085 216px,#00008d 225px,#00009d 230px,#0000b9 233px,#0006ff 236px,#004eff 237px,#00d1ff 238px,#a1ff56 239px,#ffb100 240px,#caff2d 241px,#0ff8e8 242px,#0063ff 243px,#0012ff 244px,#0000f0 245px,#0000bc 247px,#00009e 250px,#00008e 255px,#000085 264px,#000086 283px,#00008f 286px,#0000a7 288px,#0000b7 289px,#0000b4 290px,#000095 292px,#000085 296px,#000081 312px,#000080)}
.d47{background:linear-gradient(#000080,#008 24px,#000091 26px,#0000b4 29px,#000090 32px,#008 34px,#000083 48px,#000092 66px,#0000a7 70px,#0000c2 72px,#00f 74px,#0034ff 75px,#00a6ff 76px,#68ff8f 77px,#ebff0c 78px,#93ff64 79px,#00ceff 80px,#004aff 81px,#0001ff 82px,#0000c7 84px,#0000a9 86px,#000093 90px,#008 96px,#000081 120px,#000081 144px,#000080 168px,#000081 192px,#000085 216px,#00008d 225px,#00009e 230px,#0000ba 233px,#0006ff 236px,#004dff 237px,#00cfff 238px,#9fff58 239px,#ffa000 240px,#e7ff10 241px,#24ffd3 242px,#0072ff 243px,#001aff 244px,#0000f6 245px,#0000d5 246px,#0000bf 247px,#0000a0 250px,#00008e 255px,#000086 264px,#000086 283px,#000090 286px,#0000a8 288px,#0000b8 289px,#0000b5 290px,#000096 292px,#000085 296px,#000081 312px,#000080)}
.d48{background:linear-gradient(#000080,#000087 24px,#000090 26px,#0000b3 29px,#00008f 32px,#008 34px,#000083 48px,#000092 66px,#0000a7 70px,#0000c2 72px,#00f 74px,#0037ff 75px,#00adff 76px,#6eff88 77px,#dfff18 78px,#76ff81 79px,#00b5ff 80px,#003bff 81px,#00f 82px,#0000c3 84px,#0000a7 86px,#000092 90px,#008 96px,#000081 120px,#000080 144px,#000080 168px,#000081 192px,#000085 216px,#00008e 225px,#00009e 230px,#0000ba 233px,#0005ff 236px,#004aff 237px,#00c7ff 238px,#97ff60 239px,#ff9400 240px,#ffdf00 241px,#3fffb8 242px,#0086ff 243px,#0026ff 244px,#0000fe 245px,#0000da 246px,#0000c3 247px,#0000a1 250px,#00008f 255px,#000086 264px,#000087 283px,#000090 286px,#0000a9 288px,#0000ba 289px,#0000b6 290px,#000096 292px,#000085 296px,#000081 312px,#000080)}
.d49{background:linear-gradient(#000080,#000087 24px,#000090 26px,#0000b2 29px,#00008f 32px,#000087 34px,#000083 48px,#000092 66px,#0000a7 70px,#0000c3 72px,#00f 74px,#003dff 75px,#00b9ff 76px,#79ff7e 77px,#cfff28 78px,#55ffa1 79px,#09f 80px,#002bff 81px,#0000fe 82px,#0000d7 83px,#0000bf 84px,#0000a5 86px,#000091 90px,#008 96px,#000081 120px,#000080 144px,#000080 168px,#000081 192px,#000085 216px,#00008e 225px,#00009e 230px,#0000ba 233px,#0002ff 236px,#04f 237px,#0bf 238px,#88ff6f 239px,#ff9000 240px,#ffb100 241px,#62ff95 242px,#009fff 243px,#0034ff 244px,#00f 245px,#0000c8 247px,#0000a3 250px,#00008f 255px,#000086 264px,#000087 283px,#000090 286px,#0000a9 288px,#00b 289px,#0000b7 290px,#000096 292px,#000086 296px,#000081 312px,#000080)}
.d50{background:linear-gradient(#000080,#000087 24px,#000090 26px,#0000b1 29px,#00008f 32px,#000087 34px,#000083 48px,#000092 66px,#0000a7 70px,#0000c4 72px,#00f 74px,#0047ff 75px,#00caff 76px,#85ff72 77px,#baff3d 78px,#32ffc5 79px,#007cff 80px,#001bff 81px,#0000f3 82px,#0000d0 83px,#0000ba 84px,#0000a3 86px,#000090 90px,#000087 96px,#000081 120px,#000080 144px,#000080 168px,#000081 192px,#000085 216px,#00008e 225px,#00009e 230px,#0000b9 233px,#0000ca 234px,#00f 236px,#003cff 237px,#00abff 238px,#73ff84 239px,#ff9800 240px,#ff8200 241px,#8dff6a 242px,#00bfff 243px,#0046ff 244px,#0004ff 245px,#00b 248px,#00009f 251px,#00008e 256px,#000086 264px,#000087 283px,#000091 286px,#00a 288px,#0000bc 289px,#0000b8 290px,#000097 292px,#000086 296px,#000081 312px,#000080)}
.d51{background:linear-gradient(#000080,#000087 24px,#00008f 26px,#0000b0 29px,#00008f 32px,#000087 34px,#000083 48px,#000092 66px,#0000a8 70px,#0000c7 72px,#0004ff 74px,#0053ff 75px,#00e0fb 76px,#91ff65 77px,#9eff59 78px,#0cf5ea 79px,#005fff 80px,#000bff 81px,#0000e8 82px,#0000b6 84px,#0000a0 86px,#00008f 90px,#000087 96px,#000081 120px,#000080 144px,#000080 168px,#000081 192px,#000085 216px,#00008e 225px,#00009e 230px,#0000b8 233px,#0000c8 234px,#00f 236px,#0032ff 237px,#09f 238px,#58ff9e 239px,#ffaf00 240px,#ff5600 241px,#c1ff36 242px,#01e6f6 243px,#005dff 244px,#01f 245px,#0000f2 246px,#0000bf 248px,#0000a1 251px,#00008f 256px,#000087 264px,#000087 283px,#000091 286px,#0000ab 288px,#0000bd 289px,#0000ba 290px,#000097 292px,#000086 296px,#000081 312px,#000080)}
.d52{background:linear-gradient(#000080,#000087 24px,#00008f 26px,#0000af 29px,#00008e 32px,#000087 34px,#000083 48px,#000092 66px,#0000a9 70px,#0000c9 72px,#0000e9 73px,#000dff 74px,#0064ff 75px,#12fce5 76px,#9aff5d 77px,#7aff7d 78px,#00c7ff 79px,#04f 80px,#00f 81px,#0000c3 83px,#0000a6 85px,#000091 89px,#000086 96px,#000081 120px,#000080 144px,#000081 168px,#000081 192px,#000086 216px,#000090 226px,#0000a3 231px,#0000c6 234px,#00f 236px,#0027ff 237px,#0084ff 238px,#3affbd 239px,#ffd400 240px,#ff3800 241px,#fcf000 242px,#28ffcf 243px,#0078ff 244px,#0020ff 245px,#0000fd 246px,#0000da 247px,#0000c4 248px,#0000a3 251px,#000090 256px,#000087 264px,#000087 283px,#000091 286px,#0000ac 288px,#0000be 289px,#00b 290px,#000098 292px,#000086 296px,#000081 312px,#000080)}
.d53{background:linear-gradient(#000080,#000087 24px,#00008f 26px,#0000ae 29px,#00008e 32px,#000087 34px,#000083 48px,#000092 66px,#00a 70px,#0000cd 72px,#0000f0 73px,#0018ff 74px,#0079ff 75px,#2cffcb 76px,#9bff5c 77px,#50ffa6 78px,#009bff 79px,#002bff 80px,#0000fc 81px,#0000d4 82px,#0000bc 83px,#0000a3 85px,#000090 89px,#000086 96px,#000081 120px,#000080 144px,#000081 168px,#000081 192px,#000086 216px,#000090 226px,#0000a2 231px,#0000c3 234px,#0000fa 236px,#001cff 237px,#006eff 238px,#19ffde 239px,#e8ff0f 240px,#ff2f00 241px,#ffa700 242px,#58ff9f 243px,#09f 244px,#03f 245px,#00f 246px,#0000ca 248px,#0000a5 251px,#000090 256px,#000087 264px,#000087 283px,#000092 286px,#0000ad 288px,#0000c0 289px,#0000bc 290px,#000098 292px,#000086 296px,#000081 312px,#000080)}
.d54{background:linear-gradient(#000080,#000087 24px,#00008e 26px,#0000ad 29px,#00008e 32px,#000087 34px,#000083 48px,#000092 66px,#0000ac 70px,#0000d2 72px,#0000f8 73px,#0027ff 74px,#0094ff 75px,#47ffb0 76px,#90ff67 77px,#23ffd3 78px,#0073ff 79px,#0014ff 80px,#0000ed 81px,#0000cb 82px,#0000b7 83px,#0000a0 85px,#00008f 89px,#000086 96px,#000081 120px,#000080 144px,#000080 168px,#000081 192px,#000085 216px,#00008d 225px,#00009c 230px,#0000c0 234px,#0000f2 236px,#000fff 237px,#0058ff 238px,#00dcff 239px,#b4ff43 240px,#ff4300 241px,#ff6100 242px,#91ff66 243px,#00c2ff 244px,#004aff 245px,#0007ff 246px,#0000bd 249px,#0000a0 252px,#00008f 257px,#000087 264px,#000087 283px,#000092 286px,#0000ae 288px,#0000c1 289px,#0000bd 290px,#009 292px,#000086 296px,#000081 312px,#000080)}
.d55{background:linear-gradient(#000080,#000086 24px,#00008e 26px,#0000ac 29px,#00008e 32px,#000087 34px,#000083 48px,#000093 66px,#0000ae 70px,#0000d8 72px,#00f 73px,#0039ff 74px,#00b5ff 75px,#60ff97 76px,#77ff80 77px,#00daff 78px,#004fff 79px,#0001ff 80px,#0000c3 82px,#00009d 85px,#00008e 89px,#000086 96px,#000081 120px,#000080 144px,#000080 168px,#000081 192px,#000085 216px,#00008f 226px,#0000a0 231px,#0000bc 234px,#0003ff 237px,#0043ff 238px,#00b4ff 239px,#7dff79 240px,#ff7300 241px,#ff2a00 242px,#d3ff24 243px,#0bf3ec 244px,#0065ff 245px,#0017ff 246px,#0000f7 247px,#0000c2 249px,#0000a2 252px,#000090 257px,#008 264px,#008 283px,#000093 286px,#0000ae 288px,#0000c2 289px,#0000be 290px,#009 292px,#000086 296px,#000081 312px,#000081)}
.d56{background:linear-gradient(#000080,#000086 24px,#00008e 26px,#0000ac 29px,#00008d 32px,#000086 34px,#000083 48px,#000093 66px,#0000b1 70px,#0000e0 72px,#0001ff 73px,#0050ff 74px,#00dbff 75px,#72ff85 76px,#52ffa5 77px,#00a6ff 78px,#0030ff 79px,#0000fe 80px,#0000d4 81px,#0000bc 82px,#0000a2 84px,#00008f 88px,#000085 96px,#000081 120px,#000080 144px,#000080 168px,#000081 192px,#000085 216px,#00008f 226px,#00009f 231px,#0000b9 234px,#0000c9 235px,#00f 237px,#002fff 238px,#008fff 239px,#49ffae 240px,#ffb700 241px,#f70d00 242px,#ffca00 243px,#3dffba 244px,#0087ff 245px,#002aff 246px,#00f 247px,#0000c8 249px,#0000a5 252px,#000091 257px,#008 264px,#008 283px,#000093 286px,#0000af 288px,#0000c3 289px,#0000bf 290px,#00009a 292px,#000086 296px,#000081 312px,#000081)}
.d57{background:linear-gradient(#000080,#000086 24px,#00008e 26px,#0000ab 29px,#00008d 32px,#000086 34px,#000083 48px,#008 60px,#000094 66px,#0000b4 70px,#0000c8 71px,#0000e9 72px,#01f 73px,#006eff 74px,#1affdd 75px,#76ff81 76px,#25ffd2 77px,#0078ff 78px,#0016ff 79px,#0000ed 80px,#0000ca 81px,#0000b6 82px,#00009f 84px,#00008e 88px,#000085 96px,#000081 120px,#000080 144px,#000080 168px,#000081 192px,#000085 216px,#00008e 226px,#00009d 231px,#0000c4 235px,#0000fb 237px,#001dff 238px,#006fff 239px,#19ffde 240px,#e9ff0e 241px,#ff1500 242px,#ff7300 243px,#79ff7d 244px,#00b1ff 245px,#0042ff 246px,#0003ff 247px,#0000bd 250px,#0000a7 252px,#000091 257px,#008 264px,#008 283px,#000093 286px,#0000b0 288px,#0000c4 289px,#0000c0 290px,#00009a 292px,#000087 296px,#000081 312px,#000081)}
.d58{background:linear-gradient(#000080,#000086 24px,#00008d 26px,#00a 29px,#00008d 32px,#000086 34px,#000083 48px,#008 60px,#000095 66px,#0000a0 68px,#0000b9 70px,#0000cf 71px,#0000f5 72px,#0024ff 73px,#0091ff 74px,#3cffbb 75px,#68ff8f 76px,#00daff 77px,#0050ff 78px,#00f 79px,#0000c2 81px,#00009d 84px,#00008d 88px,#000085 96px,#000081 120px,#000080 144px,#000080 168px,#000081 192px,#000085 216px,#00008c 225px,#00009c 231px,#0000c0 235px,#0000f1 237px,#000dff 238px,#0052ff 239px,#00d0ff 240px,#a4ff53 241px,#ff4200 242px,#ff2800 243px,#c2ff35 244px,#00e6f6 245px,#005fff 246px,#0014ff 247px,#0000f5 248px,#0000c2 250px,#0000a3 253px,#000092 257px,#008 264px,#008 283px,#000094 286px,#0000b1 288px,#0000c5 289px,#0000c1 290px,#00009b 292px,#000087 296px,#000081 312px,#000081)}
.d59{background:linear-gradient(#000080,#000086 24px,#00008d 26px,#00a 29px,#00008d 32px,#000086 34px,#000083 48px,#008 60px,#000096 66px,#0000a3 68px,#0000bd 70px,#0000d8 71px,#00f 72px,#003dff 73px,#0bf 74px,#56ffa1 75px,#48ffaf 76px,#00a4ff 77px,#002fff 78px,#0000fc 79px,#0000d3 80px,#0000ba 81px,#0000a1 83px,#00008c 88px,#000085 96px,#000081 120px,#000080 144px,#000080 168px,#000081 192px,#000085 216px,#00008d 226px,#0000a0 232px,#0000bc 235px,#00f 238px,#003aff 239px,#00a2ff 240px,#63ff93 241px,#ff8d00 242px,#e20000 243px,#ffd400 244px,#35ffc2 245px,#0082ff 246px,#0028ff 247px,#00f 248px,#0000c8 250px,#0000a5 253px,#000093 257px,#000089 264px,#008 283px,#000094 286px,#0000b2 288px,#0000c7 289px,#0000c2 290px,#00009b 292px,#000087 296px,#000081 312px,#000081)}
.d60{background:linear-gradient(#000080,#000086 24px,#00008d 26px,#0000a9 29px,#00008c 32px,#000086 34px,#000083 48px,#008 60px,#000097 66px,#0000b1 69px,#0000c3 70px,#0005ff 72px,#005aff 73px,#02e8f4 74px,#61ff96 75px,#1dffd9 76px,#0073ff 77px,#0013ff 78px,#0000ea 79px,#0000c8 80px,#0000b4 81px,#000098 84px,#000084 96px,#000081 120px,#000080 144px,#000080 168px,#000081 192px,#000085 216px,#00008d 226px,#00009e 232px,#0000ad 234px,#0000c7 236px,#00f 238px,#0025ff 239px,#007cff 240px,#2bffcc 241px,#ffe500 242px,#e10000 243px,#ff7400 244px,#75ff82 245px,#00aeff 246px,#0041ff 247px,#0003ff 248px,#0000bd 251px,#0000a8 253px,#000094 257px,#000089 264px,#008 283px,#000094 286px,#0000b2 288px,#0000c8 289px,#0000c4 290px,#00009b 292px,#000087 296px,#000081 312px,#000081)}
.d61{background:linear-gradient(#000080,#000086 24px,#00008d 26px,#0000a8 29px,#00008c 32px,#000086 34px,#000083 48px,#000089 60px,#000098 66px,#0000b5 69px,#0000ca 70px,#00e 71px,#0019ff 72px,#007eff 73px,#26ffd1 74px,#57ffa0 75px,#00d1ff 76px,#004bff 77px,#00f 78px,#0000c0 80px,#00009c 83px,#00008b 88px,#000084 96px,#000081 120px,#000080 144px,#000080 168px,#000081 192px,#000085 216px,#00008d 226px,#00009d 232px,#0000c2 236px,#0000f5 238px,#0012ff 239px,#005bff 240px,#00dffc 241px,#b8ff3f 242px,#ff2800 243px,#ff2100 244px,#c0ff37 245px,#00e5f7 246px,#005fff 247px,#0014ff 248px,#0000f6 249px,#0000c3 251px,#0000a3 254px,#000093 258px,#000089 264px,#000089 283px,#000095 286px,#0000b3 288px,#0000c9 289px,#0000c5 290px,#00009c 292px,#000087 296px,#000081 312px,#000081)}
.d62{background:linear-gradient(#000080,#000086 24px,#00008d 26px,#0000a8 29px,#00008c 32px,#000086 34px,#000083 48px,#000089 60px,#00009a 66px,#0000ba 69px,#0000d2 70px,#0000fc 71px,#0031ff 72px,#00a7ff 73px,#42ffb5 74px,#3bffbc 75px,#009bff 76px,#002aff 77px,#0000f8 78px,#0000d0 79px,#0000b8 80px,#009 83px,#00008a 88px,#000084 96px,#000081 120px,#000080 144px,#000080 168px,#000081 192px,#000085 216px,#00008c 226px,#00009c 232px,#0000bd 236px,#0003ff 239px,#0040ff 240px,#00adff 241px,#72ff85 242px,#ff7600 243px,#d20000 244px,#ffd400 245px,#35ffc2 246px,#0083ff 247px,#0029ff 248px,#00f 249px,#0000c9 251px,#0000a5 254px,#000093 258px,#00008a 264px,#000089 283px,#000095 286px,#0000b4 288px,#0000ca 289px,#0000c6 290px,#00009c 292px,#000087 296px,#000081 312px,#000081)}
.d63{background:linear-gradient(#000080,#000086 24px,#00008d 26px,#0000a7 29px,#00008c 32px,#000086 34px,#000083 48px,#008 59px,#000096 65px,#0000a3 67px,#0000c0 69px,#00f 71px,#004dff 72px,#00d4ff 73px,#4fffa8 74px,#13fde4 75px,#006dff 76px,#000fff 77px,#0000e7 78px,#0000c6 79px,#0000b2 80px,#000097 83px,#00008a 88px,#000084 96px,#000081 120px,#000080 144px,#000080 168px,#000081 192px,#000085 216px,#00008d 227px,#00009f 233px,#0000ae 235px,#0000c9 237px,#00f 239px,#0029ff 240px,#0083ff 241px,#35ffc1 242px,#ffd200 243px,#ce0000 244px,#ff7200 245px,#74ff83 246px,#00aeff 247px,#0041ff 248px,#0004ff 249px,#0000be 252px,#0000a8 254px,#000094 258px,#00008a 264px,#000089 283px,#000095 286px,#0000b5 288px,#0000cb 289px,#0000c7 290px,#00009d 292px,#000087 296px,#000081 312px,#000081)}
.d64{background:linear-gradient(#000080,#000086 24px,#00008c 26px,#0000a7 29px,#00008c 32px,#000086 34px,#000083 48px,#008 59px,#000097 65px,#0000b2 68px,#0000c6 69px,#0000e8 70px,#0010ff 71px,#006fff 72px,#14ffe2 73px,#49ffae 74px,#00c8ff 75px,#0046ff 76px,#00f 77px,#0000be 79px,#00009b 82px,#00008a 87px,#000084 96px,#000081 120px,#000080 144px,#000080 168px,#000081 192px,#000085 216px,#00008d 227px,#00009d 233px,#0000c3 237px,#0000f7 239px,#0016ff 240px,#0061ff 241px,#03e9f4 242px,#c6ff31 243px,#ff1700 244px,#ff1e00 245px,#beff39 246px,#00e3f9 247px,#005eff 248px,#0014ff 249px,#0000f6 250px,#0000c3 252px,#0000ab 254px,#000096 258px,#00008b 264px,#000089 283px,#000096 286px,#0000b6 288px,#00c 289px,#0000c8 290px,#00009d 292px,#000087 296px,#000081 312px,#000081)}
.d65{background:linear-gradient(#000080,#000086 24px,#00008c 26px,#0000a6 29px,#00008c 32px,#000086 34px,#000083 48px,#000089 59px,#000098 65px,#0000b7 68px,#0000ce 69px,#0000f5 70px,#0026ff 71px,#0095ff 72px,#30ffc6 73px,#31ffc6 74px,#0096ff 75px,#0026ff 76px,#0000f5 77px,#0000ce 78px,#0000b7 79px,#000098 82px,#00008a 87px,#000083 96px,#000081 120px,#000080 144px,#000080 168px,#000081 192px,#000085 216px,#00008c 227px,#00009c 233px,#0000be 237px,#0006ff 240px,#0045ff 241px,#00b6ff 242px,#7eff78 243px,#ff6300 244px,#cd0000 245px,#ffda00 246px,#30ffc7 247px,#0080ff 248px,#0027ff 249px,#00f 250px,#0000c9 252px,#0000ae 254px,#000097 258px,#00008b 264px,#000089 283px,#000096 286px,#0000b6 288px,#0000cd 289px,#0000c9 290px,#00009e 292px,#000087 296px,#000081 312px,#000081)}
.d66{background:linear-gradient(#000080,#000086 24px,#00008c 26px,#0000a6 29px,#00008c 32px,#000086 34px,#000083 48px,#000089 59px,#00009a 65px,#0000bc 68px,#0000d7 69px,#00f 70px,#0040ff 71px,#00beff 72px,#3fffb7 73px,#0ef7e9 74px,#006aff 75px,#000dff 76px,#0000e5 77px,#0000c5 78px,#0000b1 79px,#000096 82px,#000089 87px,#000083 96px,#000081 120px,#000080 144px,#000080 168px,#000081 192px,#000084 216px,#00008d 228px,#0000a0 234px,#0000ba 237px,#0000ca 238px,#00f 240px,#002eff 241px,#008cff 242px,#41ffb5 243px,#ffbd00 244px,#c40000 245px,#ff7e00 246px,#6bff8c 247px,#00a8ff 248px,#003eff 249px,#0002ff 250px,#0000bd 253px,#0000a8 255px,#000094 259px,#00008b 264px,#000089 283px,#000096 286px,#0000b7 288px,#0000ce 289px,#0000ca 290px,#00009e 292px,#008 296px,#000081 312px,#000081)}
.d67{background:linear-gradient(#000080,#000085 24px,#00008c 26px,#0000a5 29px,#00008b 32px,#000086 34px,#000083 48px,#000089 59px,#00009b 65px,#0000c2 68px,#0006ff 70px,#005dff 71px,#01e6f6 72px,#3effb9 73px,#00c7ff 74px,#0046ff 75px,#00f 76px,#0000bd 78px,#00009a 81px,#00008a 86px,#000083 96px,#000081 120px,#000080 144px,#000080 168px,#000081 192px,#000084 216px,#00008d 228px,#00009e 234px,#0000c5 238px,#0000fb 240px,#001bff 241px,#0069ff 242px,#0ff8e8 243px,#daff1d 244px,#ef0600 245px,#ff2e00 246px,#adff4a 247px,#00d6ff 248px,#0057ff 249px,#0010ff 250px,#0000f3 251px,#0000c2 253px,#00a 255px,#000095 259px,#00008c 264px,#000089 283px,#000096 286px,#0000b8 288px,#0000cf 289px,#0000ca 290px,#00009e 292px,#008 296px,#000081 312px,#000081)}
.d68{background:linear-gradient(#000080,#000085 24px,#00008c 26px,#0000a5 29px,#00008b 32px,#000086 34px,#000083 48px,#000089 59px,#000097 64px,#0000b3 67px,#0000c8 68px,#0000ec 69px,#0019ff 70px,#007eff 71px,#1cffdb 72px,#2dffca 73px,#009aff 74px,#0029ff 75px,#0000f6 76px,#0000ce 77px,#0000b7 78px,#000098 81px,#00008a 86px,#000083 96px,#000081 120px,#000080 144px,#000080 168px,#000081 192px,#000084 216px,#00008c 228px,#00009c 234px,#0000c0 238px,#0000f0 240px,#000bff 241px,#004eff 242px,#00c5ff 243px,#94ff62 244px,#ff4800 245px,#dc0000 246px,#f4f903 247px,#1fffd8 248px,#0074ff 249px,#0021ff 250px,#00f 251px,#0000c7 253px,#0000ad 255px,#000096 259px,#00008c 264px,#00008a 283px,#000097 286px,#0000b8 288px,#0000d0 289px,#0000cb 290px,#00009f 292px,#008 296px,#000081 312px,#000081)}
.d69{background:linear-gradient(#000080,#000085 24px,#00008c 26px,#0000a5 29px,#00008b 32px,#000086 34px,#000083 48px,#00008a 59px,#000098 64px,#0000b8 67px,#0000d0 68px,#0000f9 69px,#002eff 70px,#00a2ff 71px,#2effc9 72px,#12fce5 73px,#0073ff 74px,#0012ff 75px,#0000e8 76px,#0000c6 77px,#0000b2 78px,#000096 81px,#000089 86px,#000083 96px,#000081 120px,#000080 144px,#000080 168px,#000081 192px,#000084 216px,#00008c 228px,#00009b 234px,#0000bc 238px,#0000e6 240px,#00f 241px,#0037ff 242px,#009cff 243px,#59ff9e 244px,#ff9800 245px,#c40000 246px,#ffa700 247px,#50ffa7 248px,#0095ff 249px,#03f 250px,#00f 251px,#00c 253px,#0000af 255px,#000097 259px,#00008c 264px,#00008a 283px,#000097 286px,#0000b9 288px,#0000d1 289px,#00c 290px,#00009f 292px,#008 296px,#000081 312px,#000081)}
.d70{background:linear-gradient(#000080,#000085 24px,#00008c 26px,#0000a4 29px,#00008b 32px,#000086 34px,#000083 48px,#00008a 59px,#00009a 64px,#0000bc 67px,#00f 69px,#0046ff 70px,#00c5ff 71px,#34ffc2 72px,#00d5ff 73px,#0052ff 74px,#00f 75px,#0000bf 77px,#00009a 80px,#00008a 85px,#000083 96px,#000081 120px,#000080 144px,#000080 168px,#000081 192px,#000084 216px,#00008c 228px,#00009a 234px,#0000b8 238px,#0000de 240px,#00f 241px,#0024ff 242px,#007aff 243px,#28ffcf 244px,#ffea00 245px,#d70000 246px,#ff5b00 247px,#85ff71 248px,#00baff 249px,#0048ff 250px,#0007ff 251px,#0000bf 254px,#0000a9 256px,#000098 259px,#00008d 264px,#00008a 283px,#000097 286px,#0000ba 288px,#0000d2 289px,#0000cd 290px,#00009f 292px,#008 296px,#000081 312px,#000081)}
.d71{background:linear-gradient(#000080,#000085 24px,#00008c 26px,#0000a4 29px,#00008b 32px,#000086 34px,#000083 48px,#00008a 59px,#00009b 64px,#0000c2 67px,#0007ff 69px,#0060ff 70px,#00e5f7 71px,#2effc8 72px,#00afff 73px,#0036ff 74px,#0000fe 75px,#0000d2 76px,#0000b9 77px,#009 80px,#00008a 85px,#000083 96px,#000081 120px,#000080 144px,#000080 168px,#000081 192px,#000084 216px,#000095 233px,#00a 237px,#0000d7 240px,#0000f6 241px,#0014ff 242px,#005fff 243px,#00e5f8 244px,#c0ff37 245px,#ff1e00 246px,#ff2000 247px,#beff38 248px,#00e3f9 249px,#005eff 250px,#0014ff 251px,#0000f6 252px,#0000c3 254px,#0000ab 256px,#009 259px,#00008d 264px,#00008a 283px,#000097 286px,#0000ba 288px,#0000d3 289px,#0000ce 290px,#0000a0 292px,#008 296px,#000081 312px,#000081)}
.d72{background:linear-gradient(#000080,#000085 24px,#00008c 26px,#0000a4 29px,#00008b 32px,#000085 34px,#000083 48px,#000089 58px,#000096 63px,#0000b2 66px,#0000c7 67px,#0000ea 68px,#0016ff 69px,#007bff 70px,#15ffe2 71px,#1fffd8 72px,#008bff 73px,#0020ff 74px,#0000f0 75px,#0000ca 76px,#0000b4 77px,#000097 80px,#000089 85px,#000083 96px,#000081 120px,#000080 144px,#000080 168px,#000081 192px,#000084 216px,#000094 233px,#0000a8 237px,#0000d1 240px,#0008ff 242px,#0048ff 243px,#00bcff 244px,#87ff6f 245px,#ff5a00 246px,#e00000 247px,#f9f300 248px,#22ffd4 249px,#0076ff 250px,#02f 251px,#00f 252px,#0000c7 254px,#0000ad 256px,#00009a 259px,#00008d 264px,#00008a 283px,#000098 286px,#00b 288px,#0000d3 289px,#0000cf 290px,#0000a0 292px,#008 296px,#000081 312px,#000081)}
.d73{background:linear-gradient(#000080,#000085 24px,#0000a4 29px,#00008b 32px,#000085 34px,#000083 48px,#000089 58px,#000097 63px,#0000b6 66px,#0000cd 67px,#0000f4 68px,#0027ff 69px,#0096ff 70px,#23ffd4 71px,#09f1ed 72px,#006dff 73px,#000eff 74px,#0000e5 75px,#0000c4 76px,#0000b0 77px,#000096 80px,#000089 85px,#000083 96px,#000081 120px,#000080 144px,#000080 168px,#000081 192px,#000084 216px,#000094 233px,#0000a6 237px,#00c 240px,#00f 242px,#0036ff 243px,#009aff 244px,#57ff9f 245px,#ff9d00 246px,#d10000 247px,#ffb300 248px,#49ffae 249px,#0090ff 250px,#0030ff 251px,#00f 252px,#0000cb 254px,#0000af 256px,#00009b 259px,#00008e 264px,#00008a 283px,#000098 286px,#00b 288px,#0000d4 289px,#0000cf 290px,#0000a0 292px,#008 296px,#000081 312px,#000081)}
.d74{background:linear-gradient(#000080,#000085 24px,#0000a4 29px,#00008b 32px,#000085 34px,#000083 48px,#00008a 58px,#000098 63px,#0000b9 66px,#0000d3 67px,#00f 68px,#0039ff 69px,#00b1ff 70px,#28ffce 71px,#00d4ff 72px,#0053ff 73px,#00f 74px,#0000be 76px,#00009a 79px,#008 85px,#000082 96px,#000080 120px,#000080 144px,#000080 168px,#000081 192px,#000084 216px,#000093 233px,#0000a5 237px,#0000c8 240px,#00f 242px,#0026ff 243px,#007fff 244px,#2fffc8 245px,#fd0 246px,#d00 247px,#ff7900 248px,#71ff86 249px,#00acff 250px,#003fff 251px,#0002ff 252px,#0000cf 254px,#0000b1 256px,#00009c 259px,#00008e 264px,#00008a 283px,#000098 286px,#0000bc 288px,#0000d5 289px,#0000d0 290px,#0000a1 292px,#008 296px,#000081 312px,#000081)}
.d75{background:linear-gradient(#000080,#000085 24px,#0000a3 29px,#00008b 32px,#000085 34px,#000083 48px,#00008a 58px,#009 63px,#0000bd 66px,#00f 68px,#004aff 69px,#00c9ff 70px,#27ffd0 71px,#00b7ff 72px,#003dff 73px,#00f 74px,#0000d4 75px,#0000ba 76px,#000098 79px,#008 85px,#000082 96px,#000080 120px,#000080 144px,#000080 168px,#000081 192px,#000084 216px,#000093 233px,#0000a3 237px,#0000c4 240px,#0000f9 242px,#001aff 243px,#0068ff 244px,#0ef7e9 245px,#d8ff1e 246px,#ff1300 247px,#ff4900 248px,#99ff5d 249px,#00c8ff 250px,#004fff 251px,#000bff 252px,#0000f0 253px,#0000c0 255px,#0000a9 257px,#00008e 264px,#00008a 283px,#000098 286px,#0000bc 288px,#0000d6 289px,#0000d1 290px,#0000a1 292px,#008 296px,#000081 312px,#000081)}
.d76{background:linear-gradient(#000080,#000085 24px,#0000a3 29px,#00008b 32px,#000085 34px,#000083 48px,#00008a 58px,#00009a 63px,#0000c0 66px,#0005ff 68px,#005dff 69px,#00defd 70px,#1fffd7 71px,#009cff 72px,#002bff 73px,#0000f6 74px,#0000ce 75px,#0000b6 76px,#000097 79px,#008 85px,#000082 96px,#000080 120px,#000080 144px,#000080 168px,#000081 192px,#000084 216px,#000092 233px,#0000a2 237px,#0000c1 240px,#0000f2 242px,#000fff 243px,#0056ff 244px,#00d5ff 245px,#abff4c 246px,#ff3900 247px,#ff2600 248px,#c1ff35 249px,#00e5f7 250px,#005fff 251px,#0014ff 252px,#0000f6 253px,#0000c2 255px,#00a 257px,#00008e 264px,#00008a 283px,#000098 286px,#0000bd 288px,#0000d6 289px,#0000d1 290px,#0000a1 292px,#008 296px,#000081 312px,#000081)}
.d77{background:linear-gradient(#000080,#000085 24px,#0000a3 29px,#00008b 32px,#000085 34px,#000083 48px,#000089 57px,#000095 62px,#0000b0 65px,#0000c4 66px,#0000e5 67px,#000fff 68px,#006eff 69px,#07eef0 70px,#14ffe3 71px,#0084ff 72px,#001cff 73px,#0000ed 74px,#0000c8 75px,#0000b3 76px,#000096 79px,#008 85px,#000082 96px,#000080 120px,#000080 144px,#000080 168px,#000081 192px,#000084 216px,#000091 233px,#0000a1 237px,#0000be 240px,#0006ff 243px,#0046ff 244px,#00b9ff 245px,#84ff73 246px,#ff6400 247px,#fa0f00 248px,#e7ff10 249px,#18ffdf 250px,#006eff 251px,#001dff 252px,#0000fc 253px,#0000c5 255px,#0000ab 257px,#00008f 264px,#00008a 283px,#009 286px,#0000bd 288px,#0000d7 289px,#0000d2 290px,#0000a1 292px,#008 296px,#000081 312px,#000081)}
.d78{background:linear-gradient(#000080,#000085 24px,#0000a3 29px,#00008b 32px,#000085 34px,#000083 48px,#000089 57px,#000096 62px,#0000b2 65px,#0000c7 66px,#0000eb 67px,#0019ff 68px,#007fff 69px,#10f9e7 70px,#07eef0 71px,#0070ff 72px,#0010ff 73px,#0000e6 74px,#0000c4 75px,#0000b0 76px,#000095 79px,#000087 85px,#000082 96px,#000080 120px,#000080 144px,#000080 168px,#000081 192px,#000083 216px,#000091 233px,#0000a0 237px,#00b 240px,#00f 243px,#0039ff 244px,#00a2ff 245px,#63ff94 246px,#ff8f00 247px,#ee0500 248px,#ffe000 249px,#2fffc8 250px,#007eff 251px,#0025ff 252px,#00f 253px,#0000c7 255px,#0000ad 257px,#00009a 260px,#00008f 264px,#00008a 283px,#009 286px,#0000be 288px,#0000d7 289px,#0000d2 290px,#0000a2 292px,#008 296px,#000081 312px,#000081)}
.d79{background:linear-gradient(#000080,#000085 24px,#0000a3 29px,#00008b 32px,#000085 34px,#000083 48px,#000089 57px,#000097 62px,#0000b4 65px,#0000ca 66px,#0000f1 67px,#02f 68px,#008eff 69px,#16ffe1 70px,#00ddfd 71px,#005fff 72px,#0006ff 73px,#0000df 74px,#0000c0 75px,#0000ae 76px,#000095 79px,#000087 85px,#000082 96px,#000080 120px,#000080 144px,#000080 168px,#000081 192px,#000083 216px,#000091 233px,#00009f 237px,#0000b9 240px,#0000c9 241px,#00f 243px,#002fff 244px,#008eff 245px,#47ffb0 246px,#ffb900 247px,#ee0500 248px,#ffbd00 249px,#45ffb2 250px,#008dff 251px,#002eff 252px,#00f 253px,#0000c9 255px,#0000ae 257px,#00009a 260px,#00008f 264px,#00008a 283px,#009 286px,#0000be 288px,#0000d8 289px,#0000d3 290px,#0000a2 292px,#00008f 294px,#008 296px,#000081 312px,#000081)}
.d80{background:linear-gradient(#000080,#000085 24px,#0000a3 29px,#00008b 32px,#000085 34px,#000083 48px,#000089 57px,#000097 62px,#0000b5 65px,#0000cd 66px,#0000f6 67px,#002bff 68px,#009cff 69px,#19ffde 70px,#00cdff 71px,#0050ff 72px,#00f 73px,#0000bd 75px,#009 78px,#008 84px,#000082 96px,#000080 120px,#000080 144px,#000080 168px,#000081 192px,#000083 216px,#000090 233px,#00009e 237px,#0000b7 240px,#0000de 242px,#00f 243px,#0025ff 244px,#007eff 245px,#2fffc7 246px,#ffdf00 247px,#f90e00 248px,#ffa000 249px,#59ff9e 250px,#009aff 251px,#0035ff 252px,#00f 253px,#0000cb 255px,#0000ae 257px,#00009b 260px,#00008f 264px,#00008b 283px,#009 286px,#0000be 288px,#0000d8 289px,#0000d3 290px,#0000a2 292px,#00008f 294px,#000089 296px,#000081 312px,#000081)}
.d81{background:linear-gradient(#000080,#000085 24px,#0000a3 29px,#00008b 32px,#000085 34px,#000083 48px,#000089 57px,#000097 62px,#0000b7 65px,#0000d0 66px,#0000fb 67px,#03f 68px,#00a8ff 69px,#19ffdd 70px,#00beff 71px,#04f 72px,#00f 73px,#0000d6 74px,#0000ba 75px,#000098 78px,#008 84px,#000082 96px,#000080 120px,#000080 144px,#000080 168px,#000081 192px,#000083 216px,#000090 233px,#00009d 237px,#0000b5 240px,#0000da 242px,#0000fb 243px,#001dff 244px,#0070ff 245px,#1bffdc 246px,#ebff0c 247px,#ff1e00 248px,#ff8c00 249px,#69ff8e 250px,#00a5ff 251px,#003bff 252px,#00f 253px,#00c 255px,#0000af 257px,#00009b 260px,#00008f 264px,#000087 274px,#00008b 283px,#009 286px,#0000be 288px,#0000d9 289px,#0000d3 290px,#0000a2 292px,#00008f 294px,#000089 296px,#000081 312px,#000081)}
.d82{background:linear-gradient(#000080,#000085 24px,#0000a3 29px,#00008b 32px,#000085 34px,#000083 48px,#000089 57px,#000098 62px,#0000b8 65px,#0000d2 66px,#00f 67px,#003bff 68px,#00b2ff 69px,#18ffde 70px,#00b1ff 71px,#003aff 72px,#00f 73px,#0000d2 74px,#0000b8 75px,#000098 78px,#008 84px,#000082 96px,#000080 120px,#000080 144px,#000080 168px,#000081 192px,#000083 216px,#00008f 233px,#00009c 237px,#0000b4 240px,#0000d6 242px,#0000f6 243px,#0016ff 244px,#0063ff 245px,#09f1ee 246px,#cfff28 247px,#f30 248px,#ff7f00 249px,#76ff81 250px,#00aeff 251px,#003fff 252px,#0001ff 253px,#0000cd 255px,#0000af 257px,#00009b 260px,#00008f 264px,#000087 274px,#00008b 283px,#009 286px,#0000bf 288px,#0000d9 289px,#0000d4 290px,#0000a2 292px,#00008f 294px,#000089 296px,#000081 312px,#000081)}
.d83{background:linear-gradient(#000080,#000085 24px,#0000a3 29px,#00008b 32px,#000085 34px,#000083 48px,#000089 57px,#000098 62px,#0000ba 65px,#0000d5 66px,#00f 67px,#0041ff 68px,#00baff 69px,#16ffe0 70px,#00a6ff 71px,#03f 72px,#0000fb 73px,#0000cf 74px,#0000b7 75px,#000097 78px,#008 84px,#000082 96px,#000080 120px,#000080 144px,#000080 168px,#000081 192px,#000083 216px,#00008f 233px,#00009c 237px,#0000b2 240px,#0000d3 242px,#0000f2 243px,#0010ff 244px,#0059ff 245px,#00defd 246px,#b7ff40 247px,#ff4800 248px,#ff7800 249px,#80ff77 250px,#00b5ff 251px,#0043ff 252px,#0003ff 253px,#0000ce 255px,#0000af 257px,#00009b 260px,#00008f 264px,#000087 274px,#00008b 283px,#009 286px,#0000bf 288px,#0000d9 289px,#0000d4 290px,#0000a2 292px,#00008f 294px,#000089 296px,#000081 312px,#000081)}
.d84{background:linear-gradient(#000080,#000085 24px,#0000a3 29px,#00008b 32px,#000085 34px,#000083 48px,#000089 57px,#000098 62px,#00b 65px,#0000d6 66px,#00f 67px,#0047ff 68px,#00c0ff 69px,#14ffe3 70px,#009dff 71px,#002dff 72px,#0000f7 73px,#0000cd 74px,#0000b5 75px,#000097 78px,#008 84px,#000082 96px,#000080 120px,#000080 144px,#000080 168px,#000081 192px,#000083 216px,#00008f 233px,#00009b 237px,#0000b1 240px,#0000d1 242px,#00e 243px,#000aff 244px,#0050ff 245px,#00cfff 246px,#a3ff54 247px,#ff5d00 248px,#ff7600 249px,#86ff70 250px,#00baff 251px,#0045ff 252px,#0004ff 253px,#0000ce 255px,#0000af 257px,#00009b 260px,#00008f 264px,#000087 274px,#00008b 283px,#009 286px,#0000bf 288px,#0000d9 289px,#0000d4 290px,#0000a2 292px,#00008f 294px,#000089 296px,#000081 312px,#000081)}
.d85{background:linear-gradient(#000080,#000085 24px,#0000a3 29px,#00008b 32px,#000085 34px,#000083 48px,#000089 57px,#009 62px,#00b 65px,#00f 67px,#004bff 68px,#00c4ff 69px,#12fce5 70px,#0097ff 71px,#0028ff 72px,#0000f4 73px,#00c 74px,#0000b4 75px,#000096 78px,#008 84px,#000082 96px,#000080 120px,#000080 144px,#000080 168px,#000081 192px,#000083 216px,#00008f 233px,#00009a 237px,#0000af 240px,#0000cf 242px,#0006ff 244px,#004aff 245px,#00c3ff 246px,#93ff64 247px,#ff6f00 248px,#ff7600 249px,#8bff6c 250px,#00bdff 251px,#0046ff 252px,#0004ff 253px,#0000ce 255px,#0000af 257px,#00009a 260px,#00008f 264px,#000087 274px,#00008b 283px,#009 286px,#0000bf 288px,#0000da 289px,#0000d4 290px,#0000a2 292px,#00008f 294px,#000089 296px,#000081 312px,#000081)}
.d86{background:linear-gradient(#000080,#000085 24px,#0000a3 29px,#00008b 32px,#000085 34px,#000083 48px,#000089 57px,#009 62px,#0000bc 65px,#00f 67px,#004dff 68px,#00c7ff 69px,#10fae6 70px,#0092ff 71px,#0025ff 72px,#0000f2 73px,#0000cb 74px,#0000b4 75px,#000096 78px,#000087 84px,#000082 96px,#000080 120px,#000080 144px,#000080 168px,#000081 192px,#000083 216px,#00008e 233px,#00009a 237px,#0000af 240px,#0000cd 242px,#0003ff 244px,#0045ff 245px,#0bf 246px,#88ff6f 247px,#ff7d00 248px,#ff7800 249px,#8dff6a 250px,#00bfff 251px,#0047ff 252px,#0005ff 253px,#0000ce 255px,#0000af 257px,#00009a 260px,#00008f 264px,#000086 274px,#00008a 283px,#009 286px,#0000bf 288px,#0000da 289px,#0000d4 290px,#0000a2 292px,#00008f 294px,#000089 296px,#000081 312px,#000081)}
.d87{background:linear-gradient(#000080,#000085 24px,#0000a3 29px,#00008b 32px,#000085 34px,#000083 48px,#000089 57px,#009 62px,#0000bc 65px,#00f 67px,#004fff 68px,#00c9ff 69px,#0ff9e7 70px,#008fff 71px,#0023ff 72px,#0000f1 73px,#0000ca 74px,#0000b3 75px,#000096 78px,#000087 84px,#000082 96px,#000080 120px,#000080 144px,#000080 168px,#000081 192px,#000083 216px,#00008e 233px,#00009a 237px,#0000ae 240px,#00c 242px,#0002ff 244px,#0042ff 245px,#00b6ff 246px,#81ff75 247px,#ff8500 248px,#ff7a00 249px,#8eff69 250px,#00bfff 251px,#0047ff 252px,#0005ff 253px,#0000ce 255px,#0000af 257px,#00009a 260px,#00008f 264px,#000086 274px,#00008a 283px,#009 286px,#0000bf 288px,#0000da 289px,#0000d4 290px,#0000a2 292px,#00008f 294px,#000089 296px,#000081 312px,#000081)}
.d88{background:linear-gradient(#000080,#000085 24px,#0000a3 29px,#00008b 32px,#000085 34px,#000083 48px,#000089 57px,#009 62px,#0000bc 65px,#00f 67px,#004fff 68px,#00c9ff 69px,#0ff8e8 70px,#008fff 71px,#0023ff 72px,#0000f1 73px,#0000ca 74px,#0000b3 75px,#000096 78px,#000087 84px,#000082 96px,#000080 120px,#000080 144px,#000080 168px,#000081 192px,#000083 216px,#00008e 233px,#00009a 237px,#0000ae 240px,#00c 242px,#0001ff 244px,#0041ff 245px,#00b5ff 246px,#80ff77 247px,#ff8600 248px,#ff7b00 249px,#8eff69 250px,#00bfff 251px,#0047ff 252px,#0005ff 253px,#0000ce 255px,#0000af 257px,#00009a 260px,#00008f 264px,#000086 274px,#00008a 283px,#009 286px,#0000bf 288px,#0000da 289px,#0000d4 290px,#0000a2 292px,#00008f 294px,#000089 296px,#000081 312px,#000081)}
</style></head>
<body><div id="f">
<div class="hm" style="left:80px;top:10px;width:354.6px;height:317px"><i class="a0" style="left:0px;width:2px"></i><i class="a1" style="left:2px;width:2px"></i><i class="a2" style="left:4px;width:2px"></i><i class="a3" style="left:6px;width:2px"></i><i class="a4" style="left:8px;width:2px"></i><i class="a5" style="left:10px;width:2px"></i><i class="a6" style="left:12px;width:2px"></i><i class="a7" style="left:14px;width:2px"></i><i class="a8" style="left:16px;width:2px"></i><i class="a9" style="left:18px;width:2px"></i><i class="a10" style="left:20px;width:2px"></i><i class="a11" style="left:22px;width:2px"></i><i class="a12" style="left:24px;width:2px"></i><i class="a13" style="left:26px;width:2px"></i><i class="a14" style="left:28px;width:2px"></i><i class="a15" style="left:30px;width:2px"></i><i class="a16" style="left:32px;width:2px"></i><i class="a17" style="left:34px;width:2px"></i><i class="a18" style="left:36px;width:2px"></i><i class="a19" style="left:38px;width:2px"></i><i class="a20" style="left:40px;width:2px"></i><i class="a21" style="left:42px;width:2px"></i><i class="a22" style="left:44px;width:2px"></i><i class="a23" style="left:46px;width:2px"></i><i class="a24" style="left:48px;width:2px"></i><i class="a25" style="left:50px;width:2px"></i><i class="a26" style="left:52px;width:2px"></i><i class="a27" style="left:54px;width:2px"></i><i class="a28" style="left:56px;width:2px"></i><i class="a29" style="left:58px;width:2px"></i><i class="a30" style="left:60px;width:2px"></i><i class="a31" style="left:62px;width:2px"></i><i class="a32" style="left:64px;width:2px"></i><i class="a33" style="left:66px;width:2px"></i><i class="a34" style="left:68px;width:2px"></i><i class="a35" style="left:70px;width:2px"></i><i class="a36" style="left:72px;width:2px"></i><i class="a37" style="left:74px;width:2px"></i><i class="a38" style="left:76px;width:2px"></i><i class="a39" style="left:78px;width:2px"></i><i class="a40" style="left:80px;width:2px"></i><i class="a41" style="left:82px;width:2px"></i><i class="a42" style="left:84px;width:2px"></i><i class="a43" style="left:86px;width:2px"></i><i class="a44" style="left:88px;width:2px"></i><i class="a45" style="left:90px;width:2px"></i><i class="a46" style="left:92px;width:2px"></i><i class="a47" style="left:94px;width:2px"></i><i class="a48" style="left:96px;width:2px"></i><i class="a49" style="left:98px;width:2px"></i><i class="a50" style="left:100px;width:2px"></i><i class="a51" style="left:102px;width:2px"></i><i class="a52" style="left:104px;width:2px"></i><i class="a53" style="left:106px;width:2px"></i><i class="a54" style="left:108px;width:2px"></i><i class="a55" style="left:110px;width:2px"></i><i class="a56" style="left:112px;width:2px"></i><i class="a57" style="left:114px;width:2px"></i><i class="a58" style="left:116px;width:2px"></i><i class="a59" style="left:118px;width:2px"></i><i class="a60" style="left:120px;width:2px"></i><i class="a61" style="left:122px;width:2px"></i><i class="a62" style="left:124px;width:2px"></i><i class="a63" style="left:126px;width:2px"></i><i class="a64" style="left:128px;width:2px"></i><i class="a65" style="left:130px;width:2px"></i><i class="a66" style="left:132px;width:2px"></i><i class="a67" style="left:134px;width:2px"></i><i class="a68" style="left:136px;width:2px"></i><i class="a69" style="left:138px;width:2px"></i><i class="a70" style="left:140px;width:2px"></i><i class="a71" style="left:142px;width:2px"></i><i class="a72" style="left:144px;width:2px"></i><i class="a73" style="left:146px;width:2px"></i><i class="a74" style="left:148px;width:2px"></i><i class="a75" style="left:150px;width:2px"></i><i class="a76" style="left:152px;width:2px"></i><i class="a77" style="left:154px;width:2px"></i><i class="a78" style="left:156px;width:2px"></i><i class="a79" style="left:158px;width:2px"></i><i class="a80" style="left:160px;width:2px"></i><i class="a81" style="left:162px;width:2px"></i><i class="a82" style="left:164px;width:2px"></i><i class="a83" style="left:166px;width:2px"></i><i class="a84" style="left:168px;width:2px"></i><i class="a85" style="left:170px;width:2px"></i><i class="a86" style="left:172px;width:2px"></i><i class="a87" style="left:174px;width:2px"></i><i class="a88" style="left:176px;width:2px"></i><i class="a88" style="left:178px;width:1px"></i><i class="a87" style="left:179px;width:2px"></i><i class="a86" style="left:181px;width:2px"></i><i class="a85" style="left:183px;width:2px"></i><i class="a84" style="left:185px;width:2px"></i><i class="a83" style="left:187px;width:2px"></i><i class="a82" style="left:189px;width:2px"></i><i class="a81" style="left:191px;width:2px"></i><i class="a80" style="left:193px;width:2px"></i><i class="a79" style="left:195px;width:2px"></i><i class="a78" style="left:197px;width:2px"></i><i class="a77" style="left:199px;width:2px"></i><i class="a76" style="left:201px;width:2px"></i><i class="a75" style="left:203px;width:2px"></i><i class="a74" style="left:205px;width:2px"></i><i class="a73" style="left:207px;width:2px"></i><i class="a72" style="left:209px;width:2px"></i><i class="a71" style="left:211px;width:2px"></i><i class="a70" style="left:213px;width:2px"></i><i class="a69" style="left:215px;width:2px"></i><i class="a68" style="left:217px;width:2px"></i><i class="a67" style="left:219px;width:2px"></i><i class="a66" style="left:221px;width:2px"></i><i class="a65" style="left:223px;width:2px"></i><i class="a64" style="left:225px;width:2px"></i><i class="a63" style="left:227px;width:2px"></i><i class="a62" style="left:229px;width:2px"></i><i class="a61" style="left:231px;width:2px"></i><i class="a60" style="left:233px;width:2px"></i><i class="a59" style="left:235px;width:2px"></i><i class="a58" style="left:237px;width:2px"></i><i class="a57" style="left:239px;width:2px"></i><i class="a56" style="left:241px;width:2px"></i><i class="a55" style="left:243px;width:2px"></i><i class="a54" style="left:245px;width:2px"></i><i class="a53" style="left:247px;width:2px"></i><i class="a52" style="left:249px;width:2px"></i><i class="a51" style="left:251px;width:2px"></i><i class="a50" style="left:253px;width:2px"></i><i class="a49" style="left:255px;width:2px"></i><i class="a48" style="left:257px;width:2px"></i><i class="a47" style="left:259px;width:2px"></i><i class="a46" style="left:261px;width:2px"></i><i class="a45" style="left:263px;width:2px"></i><i class="a44" style="left:265px;width:2px"></i><i class="a43" style="left:267px;width:2px"></i><i class="a42" style="left:269px;width:2px"></i><i class="a41" style="left:271px;width:2px"></i><i class="a40" style="left:273px;width:2px"></i><i class="a39" style="left:275px;width:2px"></i><i class="a38" style="left:277px;width:2px"></i><i class="a37" style="left:279px;width:2px"></i><i class="a36" style="left:281px;width:2px"></i><i class="a35" style="left:283px;width:2px"></i><i class="a34" style="left:285px;width:2px"></i><i class="a33" style="left:287px;width:2px"></i><i class="a32" style="left:289px;width:2px"></i><i class="a31" style="left:291px;width:2px"></i><i class="a30" style="left:293px;width:2px"></i><i class="a29" style="left:295px;width:2px"></i><i class="a28" style="left:297px;width:2px"></i><i class="a27" style="left:299px;width:2px"></i><i class="a26" style="left:301px;width:2px"></i><i class="a25" style="left:303px;width:2px"></i><i class="a24" style="left:305px;width:2px"></i><i class="a23" style="left:307px;width:2px"></i><i class="a22" style="left:309px;width:2px"></i><i class="a21" style="left:311px;width:2px"></i><i class="a20" style="left:313px;width:2px"></i><i class="a19" style="left:315px;width:2px"></i><i class="a18" style="left:317px;width:2px"></i><i class="a17" style="left:319px;width:2px"></i><i class="a16" style="left:321px;width:2px"></i><i class="a15" style="left:323px;width:2px"></i><i class="a14" style="left:325px;width:2px"></i><i class="a13" style="left:327px;width:2px"></i><i class="a12" style="left:329px;width:2px"></i><i class="a11" style="left:331px;width:2px"></i><i class="a10" style="left:333px;width:2px"></i><i class="a9" style="left:335px;width:2px"></i><i class="a8" style="left:337px;width:2px"></i><i class="a7" style="left:339px;width:2px"></i><i class="a6" style="left:341px;width:2px"></i><i class="a5" style="left:343px;width:2px"></i><i class="a4" style="left:345px;width:2px"></i><i class="a3" style="left:347px;width:2px"></i><i class="a2" style="left:349px;width:2px"></i><i class="a1" style="left:351px;width:2px"></i><i class="a0" style="left:353px;width:2px"></i></div>
<div class="cb" style="left:455.0px;top:10.9px;width:15.7px;height:315.7px"></div>
<div class="hm" style="left:587px;top:10px;width:354.4px;height:317px"><i class="b0" style="left:0px;width:2px"></i><i class="b1" style="left:2px;width:2px"></i><i class="b2" style="left:4px;width:2px"></i><i class="b3" style="left:6px;width:2px"></i><i class="b4" style="left:8px;width:2px"></i><i class="b5" style="left:10px;width:2px"></i><i class="b6" style="left:12px;width:2px"></i><i class="b7" style="left:14px;width:2px"></i><i class="b8" style="left:16px;width:2px"></i><i class="b9" style="left:18px;width:2px"></i><i class="b10" style="left:20px;width:2px"></i><i class="b11" style="left:22px;width:2px"></i><i class="b12" style="left:24px;width:2px"></i><i class="b13" style="left:26px;width:2px"></i><i class="b14" style="left:28px;width:2px"></i><i class="b15" style="left:30px;width:2px"></i><i class="b16" style="left:32px;width:2px"></i><i class="b17" style="left:34px;width:2px"></i><i class="b18" style="left:36px;width:2px"></i><i class="b19" style="left:38px;width:2px"></i><i class="b20" style="left:40px;width:2px"></i><i class="b21" style="left:42px;width:2px"></i><i class="b22" style="left:44px;width:2px"></i><i class="b23" style="left:46px;width:2px"></i><i class="b24" style="left:48px;width:2px"></i><i class="b25" style="left:50px;width:2px"></i><i class="b26" style="left:52px;width:2px"></i><i class="b27" style="left:54px;width:2px"></i><i class="b28" style="left:56px;width:2px"></i><i class="b29" style="left:58px;width:2px"></i><i class="b30" style="left:60px;width:2px"></i><i class="b31" style="left:62px;width:2px"></i><i class="b32" style="left:64px;width:2px"></i><i class="b33" style="left:66px;width:2px"></i><i class="b34" style="left:68px;width:2px"></i><i class="b35" style="left:70px;width:2px"></i><i class="b36" style="left:72px;width:2px"></i><i class="b37" style="left:74px;width:2px"></i><i class="b38" style="left:76px;width:2px"></i><i class="b39" style="left:78px;width:2px"></i><i class="b40" style="left:80px;width:2px"></i><i class="b41" style="left:82px;width:2px"></i><i class="b42" style="left:84px;width:2px"></i><i class="b43" style="left:86px;width:2px"></i><i class="b44" style="left:88px;width:2px"></i><i class="b45" style="left:90px;width:2px"></i><i class="b46" style="left:92px;width:2px"></i><i class="b47" style="left:94px;width:2px"></i><i class="b48" style="left:96px;width:2px"></i><i class="b49" style="left:98px;width:2px"></i><i class="b50" style="left:100px;width:2px"></i><i class="b51" style="left:102px;width:2px"></i><i class="b52" style="left:104px;width:2px"></i><i class="b53" style="left:106px;width:2px"></i><i class="b54" style="left:108px;width:2px"></i><i class="b55" style="left:110px;width:2px"></i><i class="b56" style="left:112px;width:2px"></i><i class="b57" style="left:114px;width:2px"></i><i class="b58" style="left:116px;width:2px"></i><i class="b59" style="left:118px;width:2px"></i><i class="b60" style="left:120px;width:2px"></i><i class="b61" style="left:122px;width:2px"></i><i class="b62" style="left:124px;width:2px"></i><i class="b63" style="left:126px;width:2px"></i><i class="b64" style="left:128px;width:2px"></i><i class="b65" style="left:130px;width:2px"></i><i class="b66" style="left:132px;width:2px"></i><i class="b67" style="left:134px;width:2px"></i><i class="b68" style="left:136px;width:2px"></i><i class="b69" style="left:138px;width:2px"></i><i class="b70" style="left:140px;width:2px"></i><i class="b71" style="left:142px;width:2px"></i><i class="b72" style="left:144px;width:2px"></i><i class="b73" style="left:146px;width:2px"></i><i class="b74" style="left:148px;width:2px"></i><i class="b75" style="left:150px;width:2px"></i><i class="b76" style="left:152px;width:2px"></i><i class="b77" style="left:154px;width:2px"></i><i class="b78" style="left:156px;width:2px"></i><i class="b79" style="left:158px;width:2px"></i><i class="b80" style="left:160px;width:2px"></i><i class="b81" style="left:162px;width:2px"></i><i class="b82" style="left:164px;width:2px"></i><i class="b83" style="left:166px;width:2px"></i><i class="b84" style="left:168px;width:2px"></i><i class="b85" style="left:170px;width:2px"></i><i class="b86" style="left:172px;width:2px"></i><i class="b87" style="left:174px;width:2px"></i><i class="b88" style="left:176px;width:2px"></i><i class="b88" style="left:178px;width:1px"></i><i class="b87" style="left:179px;width:2px"></i><i class="b86" style="left:181px;width:2px"></i><i class="b85" style="left:183px;width:2px"></i><i class="b84" style="left:185px;width:2px"></i><i class="b83" style="left:187px;width:2px"></i><i class="b82" style="left:189px;width:2px"></i><i class="b81" style="left:191px;width:2px"></i><i class="b80" style="left:193px;width:2px"></i><i class="b79" style="left:195px;width:2px"></i><i class="b78" style="left:197px;width:2px"></i><i class="b77" style="left:199px;width:2px"></i><i class="b76" style="left:201px;width:2px"></i><i class="b75" style="left:203px;width:2px"></i><i class="b74" style="left:205px;width:2px"></i><i class="b73" style="left:207px;width:2px"></i><i class="b72" style="left:209px;width:2px"></i><i class="b71" style="left:211px;width:2px"></i><i class="b70" style="left:213px;width:2px"></i><i class="b69" style="left:215px;width:2px"></i><i class="b68" style="left:217px;width:2px"></i><i class="b67" style="left:219px;width:2px"></i><i class="b66" style="left:221px;width:2px"></i><i class="b65" style="left:223px;width:2px"></i><i class="b64" style="left:225px;width:2px"></i><i class="b63" style="left:227px;width:2px"></i><i class="b62" style="left:229px;width:2px"></i><i class="b61" style="left:231px;width:2px"></i><i class="b60" style="left:233px;width:2px"></i><i class="b59" style="left:235px;width:2px"></i><i class="b58" style="left:237px;width:2px"></i><i class="b57" style="left:239px;width:2px"></i><i class="b56" style="left:241px;width:2px"></i><i class="b55" style="left:243px;width:2px"></i><i class="b54" style="left:245px;width:2px"></i><i class="b53" style="left:247px;width:2px"></i><i class="b52" style="left:249px;width:2px"></i><i class="b51" style="left:251px;width:2px"></i><i class="b50" style="left:253px;width:2px"></i><i class="b49" style="left:255px;width:2px"></i><i class="b48" style="left:257px;width:2px"></i><i class="b47" style="left:259px;width:2px"></i><i class="b46" style="left:261px;width:2px"></i><i class="b45" style="left:263px;width:2px"></i><i class="b44" style="left:265px;width:2px"></i><i class="b43" style="left:267px;width:2px"></i><i class="b42" style="left:269px;width:2px"></i><i class="b41" style="left:271px;width:2px"></i><i class="b40" style="left:273px;width:2px"></i><i class="b39" style="left:275px;width:2px"></i><i class="b38" style="left:277px;width:2px"></i><i class="b37" style="left:279px;width:2px"></i><i class="b36" style="left:281px;width:2px"></i><i class="b35" style="left:283px;width:2px"></i><i class="b34" style="left:285px;width:2px"></i><i class="b33" style="left:287px;width:2px"></i><i class="b32" style="left:289px;width:2px"></i><i class="b31" style="left:291px;width:2px"></i><i class="b30" style="left:293px;width:2px"></i><i class="b29" style="left:295px;width:2px"></i><i class="b28" style="left:297px;width:2px"></i><i class="b27" style="left:299px;width:2px"></i><i class="b26" style="left:301px;width:2px"></i><i class="b25" style="left:303px;width:2px"></i><i class="b24" style="left:305px;width:2px"></i><i class="b23" style="left:307px;width:2px"></i><i class="b22" style="left:309px;width:2px"></i><i class="b21" style="left:311px;width:2px"></i><i class="b20" style="left:313px;width:2px"></i><i class="b19" style="left:315px;width:2px"></i><i class="b18" style="left:317px;width:2px"></i><i class="b17" style="left:319px;width:2px"></i><i class="b16" style="left:321px;width:2px"></i><i class="b15" style="left:323px;width:2px"></i><i class="b14" style="left:325px;width:2px"></i><i class="b13" style="left:327px;width:2px"></i><i class="b12" style="left:329px;width:2px"></i><i class="b11" style="left:331px;width:2px"></i><i class="b10" style="left:333px;width:2px"></i><i class="b9" style="left:335px;width:2px"></i><i class="b8" style="left:337px;width:2px"></i><i class="b7" style="left:339px;width:2px"></i><i class="b6" style="left:341px;width:2px"></i><i class="b5" style="left:343px;width:2px"></i><i class="b4" style="left:345px;width:2px"></i><i class="b3" style="left:347px;width:2px"></i><i class="b2" style="left:349px;width:2px"></i><i class="b1" style="left:351px;width:2px"></i><i class="b0" style="left:353px;width:2px"></i></div>
<div class="cb" style="left:961.8px;top:10.9px;width:15.7px;height:315.7px"></div>
<div class="hm" style="left:80px;top:373px;width:354.6px;height:318px"><i class="c0" style="left:0px;width:2px"></i><i class="c1" style="left:2px;width:2px"></i><i class="c2" style="left:4px;width:2px"></i><i class="c3" style="left:6px;width:2px"></i><i class="c4" style="left:8px;width:2px"></i><i class="c5" style="left:10px;width:2px"></i><i class="c6" style="left:12px;width:2px"></i><i class="c7" style="left:14px;width:2px"></i><i class="c8" style="left:16px;width:2px"></i><i class="c9" style="left:18px;width:2px"></i><i class="c10" style="left:20px;width:2px"></i><i class="c11" style="left:22px;width:2px"></i><i class="c12" style="left:24px;width:2px"></i><i class="c13" style="left:26px;width:2px"></i><i class="c14" style="left:28px;width:2px"></i><i class="c15" style="left:30px;width:2px"></i><i class="c16" style="left:32px;width:2px"></i><i class="c17" style="left:34px;width:2px"></i><i class="c18" style="left:36px;width:2px"></i><i class="c19" style="left:38px;width:2px"></i><i class="c20" style="left:40px;width:2px"></i><i class="c21" style="left:42px;width:2px"></i><i class="c22" style="left:44px;width:2px"></i><i class="c23" style="left:46px;width:2px"></i><i class="c24" style="left:48px;width:2px"></i><i class="c25" style="left:50px;width:2px"></i><i class="c26" style="left:52px;width:2px"></i><i class="c27" style="left:54px;width:2px"></i><i class="c28" style="left:56px;width:2px"></i><i class="c29" style="left:58px;width:2px"></i><i class="c30" style="left:60px;width:2px"></i><i class="c31" style="left:62px;width:2px"></i><i class="c32" style="left:64px;width:2px"></i><i class="c33" style="left:66px;width:2px"></i><i class="c34" style="left:68px;width:2px"></i><i class="c35" style="left:70px;width:2px"></i><i class="c36" style="left:72px;width:2px"></i><i class="c37" style="left:74px;width:2px"></i><i class="c38" style="left:76px;width:2px"></i><i class="c39" style="left:78px;width:2px"></i><i class="c40" style="left:80px;width:2px"></i><i class="c41" style="left:82px;width:2px"></i><i class="c42" style="left:84px;width:2px"></i><i class="c43" style="left:86px;width:2px"></i><i class="c44" style="left:88px;width:2px"></i><i class="c45" style="left:90px;width:2px"></i><i class="c46" style="left:92px;width:2px"></i><i class="c47" style="left:94px;width:2px"></i><i class="c48" style="left:96px;width:2px"></i><i class="c49" style="left:98px;width:2px"></i><i class="c50" style="left:100px;width:2px"></i><i class="c51" style="left:102px;width:2px"></i><i class="c52" style="left:104px;width:2px"></i><i class="c53" style="left:106px;width:2px"></i><i class="c54" style="left:108px;width:2px"></i><i class="c55" style="left:110px;width:2px"></i><i class="c56" style="left:112px;width:2px"></i><i class="c57" style="left:114px;width:2px"></i><i class="c58" style="left:116px;width:2px"></i><i class="c59" style="left:118px;width:2px"></i><i class="c60" style="left:120px;width:2px"></i><i class="c61" style="left:122px;width:2px"></i><i class="c62" style="left:124px;width:2px"></i><i class="c63" style="left:126px;width:2px"></i><i class="c64" style="left:128px;width:2px"></i><i class="c65" style="left:130px;width:2px"></i><i class="c66" style="left:132px;width:2px"></i><i class="c67" style="left:134px;width:2px"></i><i class="c68" style="left:136px;width:2px"></i><i class="c69" style="left:138px;width:2px"></i><i class="c70" style="left:140px;width:2px"></i><i class="c71" style="left:142px;width:2px"></i><i class="c72" style="left:144px;width:2px"></i><i class="c73" style="left:146px;width:2px"></i><i class="c74" style="left:148px;width:2px"></i><i class="c75" style="left:150px;width:2px"></i><i class="c76" style="left:152px;width:2px"></i><i class="c77" style="left:154px;width:2px"></i><i class="c78" style="left:156px;width:2px"></i><i class="c79" style="left:158px;width:2px"></i><i class="c80" style="left:160px;width:2px"></i><i class="c81" style="left:162px;width:2px"></i><i class="c82" style="left:164px;width:2px"></i><i class="c83" style="left:166px;width:2px"></i><i class="c84" style="left:168px;width:2px"></i><i class="c85" style="left:170px;width:2px"></i><i class="c86" style="left:172px;width:2px"></i><i class="c87" style="left:174px;width:2px"></i><i class="c88" style="left:176px;width:2px"></i><i class="c88" style="left:178px;width:1px"></i><i class="c87" style="left:179px;width:2px"></i><i class="c86" style="left:181px;width:2px"></i><i class="c85" style="left:183px;width:2px"></i><i class="c84" style="left:185px;width:2px"></i><i class="c83" style="left:187px;width:2px"></i><i class="c82" style="left:189px;width:2px"></i><i class="c81" style="left:191px;width:2px"></i><i class="c80" style="left:193px;width:2px"></i><i class="c79" style="left:195px;width:2px"></i><i class="c78" style="left:197px;width:2px"></i><i class="c77" style="left:199px;width:2px"></i><i class="c76" style="left:201px;width:2px"></i><i class="c75" style="left:203px;width:2px"></i><i class="c74" style="left:205px;width:2px"></i><i class="c73" style="left:207px;width:2px"></i><i class="c72" style="left:209px;width:2px"></i><i class="c71" style="left:211px;width:2px"></i><i class="c70" style="left:213px;width:2px"></i><i class="c69" style="left:215px;width:2px"></i><i class="c68" style="left:217px;width:2px"></i><i class="c67" style="left:219px;width:2px"></i><i class="c66" style="left:221px;width:2px"></i><i class="c65" style="left:223px;width:2px"></i><i class="c64" style="left:225px;width:2px"></i><i class="c63" style="left:227px;width:2px"></i><i class="c62" style="left:229px;width:2px"></i><i class="c61" style="left:231px;width:2px"></i><i class="c60" style="left:233px;width:2px"></i><i class="c59" style="left:235px;width:2px"></i><i class="c58" style="left:237px;width:2px"></i><i class="c57" style="left:239px;width:2px"></i><i class="c56" style="left:241px;width:2px"></i><i class="c55" style="left:243px;width:2px"></i><i class="c54" style="left:245px;width:2px"></i><i class="c53" style="left:247px;width:2px"></i><i class="c52" style="left:249px;width:2px"></i><i class="c51" style="left:251px;width:2px"></i><i class="c50" style="left:253px;width:2px"></i><i class="c49" style="left:255px;width:2px"></i><i class="c48" style="left:257px;width:2px"></i><i class="c47" style="left:259px;width:2px"></i><i class="c46" style="left:261px;width:2px"></i><i class="c45" style="left:263px;width:2px"></i><i class="c44" style="left:265px;width:2px"></i><i class="c43" style="left:267px;width:2px"></i><i class="c42" style="left:269px;width:2px"></i><i class="c41" style="left:271px;width:2px"></i><i class="c40" style="left:273px;width:2px"></i><i class="c39" style="left:275px;width:2px"></i><i class="c38" style="left:277px;width:2px"></i><i class="c37" style="left:279px;width:2px"></i><i class="c36" style="left:281px;width:2px"></i><i class="c35" style="left:283px;width:2px"></i><i class="c34" style="left:285px;width:2px"></i><i class="c33" style="left:287px;width:2px"></i><i class="c32" style="left:289px;width:2px"></i><i class="c31" style="left:291px;width:2px"></i><i class="c30" style="left:293px;width:2px"></i><i class="c29" style="left:295px;width:2px"></i><i class="c28" style="left:297px;width:2px"></i><i class="c27" style="left:299px;width:2px"></i><i class="c26" style="left:301px;width:2px"></i><i class="c25" style="left:303px;width:2px"></i><i class="c24" style="left:305px;width:2px"></i><i class="c23" style="left:307px;width:2px"></i><i class="c22" style="left:309px;width:2px"></i><i class="c21" style="left:311px;width:2px"></i><i class="c20" style="left:313px;width:2px"></i><i class="c19" style="left:315px;width:2px"></i><i class="c18" style="left:317px;width:2px"></i><i class="c17" style="left:319px;width:2px"></i><i class="c16" style="left:321px;width:2px"></i><i class="c15" style="left:323px;width:2px"></i><i class="c14" style="left:325px;width:2px"></i><i class="c13" style="left:327px;width:2px"></i><i class="c12" style="left:329px;width:2px"></i><i class="c11" style="left:331px;width:2px"></i><i class="c10" style="left:333px;width:2px"></i><i class="c9" style="left:335px;width:2px"></i><i class="c8" style="left:337px;width:2px"></i><i class="c7" style="left:339px;width:2px"></i><i class="c6" style="left:341px;width:2px"></i><i class="c5" style="left:343px;width:2px"></i><i class="c4" style="left:345px;width:2px"></i><i class="c3" style="left:347px;width:2px"></i><i class="c2" style="left:349px;width:2px"></i><i class="c1" style="left:351px;width:2px"></i><i class="c0" style="left:353px;width:2px"></i></div>
<div class="cb" style="left:455.0px;top:374.3px;width:15.7px;height:315.7px"></div>
<div class="hm" style="left:587px;top:373px;width:354.4px;height:318px"><i class="d0" style="left:0px;width:2px"></i><i class="d1" style="left:2px;width:2px"></i><i class="d2" style="left:4px;width:2px"></i><i class="d3" style="left:6px;width:2px"></i><i class="d4" style="left:8px;width:2px"></i><i class="d5" style="left:10px;width:2px"></i><i class="d6" style="left:12px;width:2px"></i><i class="d7" style="left:14px;width:2px"></i><i class="d8" style="left:16px;width:2px"></i><i class="d9" style="left:18px;width:2px"></i><i class="d10" style="left:20px;width:2px"></i><i class="d11" style="left:22px;width:2px"></i><i class="d12" style="left:24px;width:2px"></i><i class="d13" style="left:26px;width:2px"></i><i class="d14" style="left:28px;width:2px"></i><i class="d15" style="left:30px;width:2px"></i><i class="d16" style="left:32px;width:2px"></i><i class="d17" style="left:34px;width:2px"></i><i class="d18" style="left:36px;width:2px"></i><i class="d19" style="left:38px;width:2px"></i><i class="d20" style="left:40px;width:2px"></i><i class="d21" style="left:42px;width:2px"></i><i class="d22" style="left:44px;width:2px"></i><i class="d23" style="left:46px;width:2px"></i><i class="d24" style="left:48px;width:2px"></i><i class="d25" style="left:50px;width:2px"></i><i class="d26" style="left:52px;width:2px"></i><i class="d27" style="left:54px;width:2px"></i><i class="d28" style="left:56px;width:2px"></i><i class="d29" style="left:58px;width:2px"></i><i class="d30" style="left:60px;width:2px"></i><i class="d31" style="left:62px;width:2px"></i><i class="d32" style="left:64px;width:2px"></i><i class="d33" style="left:66px;width:2px"></i><i class="d34" style="left:68px;width:2px"></i><i class="d35" style="left:70px;width:2px"></i><i class="d36" style="left:72px;width:2px"></i><i class="d37" style="left:74px;width:2px"></i><i class="d38" style="left:76px;width:2px"></i><i class="d39" style="left:78px;width:2px"></i><i class="d40" style="left:80px;width:2px"></i><i class="d41" style="left:82px;width:2px"></i><i class="d42" style="left:84px;width:2px"></i><i class="d43" style="left:86px;width:2px"></i><i class="d44" style="left:88px;width:2px"></i><i class="d45" style="left:90px;width:2px"></i><i class="d46" style="left:92px;width:2px"></i><i class="d47" style="left:94px;width:2px"></i><i class="d48" style="left:96px;width:2px"></i><i class="d49" style="left:98px;width:2px"></i><i class="d50" style="left:100px;width:2px"></i><i class="d51" style="left:102px;width:2px"></i><i class="d52" style="left:104px;width:2px"></i><i class="d53" style="left:106px;width:2px"></i><i class="d54" style="left:108px;width:2px"></i><i class="d55" style="left:110px;width:2px"></i><i class="d56" style="left:112px;width:2px"></i><i class="d57" style="left:114px;width:2px"></i><i class="d58" style="left:116px;width:2px"></i><i class="d59" style="left:118px;width:2px"></i><i class="d60" style="left:120px;width:2px"></i><i class="d61" style="left:122px;width:2px"></i><i class="d62" style="left:124px;width:2px"></i><i class="d63" style="left:126px;width:2px"></i><i class="d64" style="left:128px;width:2px"></i><i class="d65" style="left:130px;width:2px"></i><i class="d66" style="left:132px;width:2px"></i><i class="d67" style="left:134px;width:2px"></i><i class="d68" style="left:136px;width:2px"></i><i class="d69" style="left:138px;width:2px"></i><i class="d70" style="left:140px;width:2px"></i><i class="d71" style="left:142px;width:2px"></i><i class="d72" style="left:144px;width:2px"></i><i class="d73" style="left:146px;width:2px"></i><i class="d74" style="left:148px;width:2px"></i><i class="d75" style="left:150px;width:2px"></i><i class="d76" style="left:152px;width:2px"></i><i class="d77" style="left:154px;width:2px"></i><i class="d78" style="left:156px;width:2px"></i><i class="d79" style="left:158px;width:2px"></i><i class="d80" style="left:160px;width:2px"></i><i class="d81" style="left:162px;width:2px"></i><i class="d82" style="left:164px;width:2px"></i><i class="d83" style="left:166px;width:2px"></i><i class="d84" style="left:168px;width:2px"></i><i class="d85" style="left:170px;width:2px"></i><i class="d86" style="left:172px;width:2px"></i><i class="d87" style="left:174px;width:2px"></i><i class="d88" style="left:176px;width:2px"></i><i class="d88" style="left:178px;width:1px"></i><i class="d87" style="left:179px;width:2px"></i><i class="d86" style="left:181px;width:2px"></i><i class="d85" style="left:183px;width:2px"></i><i class="d84" style="left:185px;width:2px"></i><i class="d83" style="left:187px;width:2px"></i><i class="d82" style="left:189px;width:2px"></i><i class="d81" style="left:191px;width:2px"></i><i class="d80" style="left:193px;width:2px"></i><i class="d79" style="left:195px;width:2px"></i><i class="d78" style="left:197px;width:2px"></i><i class="d77" style="left:199px;width:2px"></i><i class="d76" style="left:201px;width:2px"></i><i class="d75" style="left:203px;width:2px"></i><i class="d74" style="left:205px;width:2px"></i><i class="d73" style="left:207px;width:2px"></i><i class="d72" style="left:209px;width:2px"></i><i class="d71" style="left:211px;width:2px"></i><i class="d70" style="left:213px;width:2px"></i><i class="d69" style="left:215px;width:2px"></i><i class="d68" style="left:217px;width:2px"></i><i class="d67" style="left:219px;width:2px"></i><i class="d66" style="left:221px;width:2px"></i><i class="d65" style="left:223px;width:2px"></i><i class="d64" style="left:225px;width:2px"></i><i class="d63" style="left:227px;width:2px"></i><i class="d62" style="left:229px;width:2px"></i><i class="d61" style="left:231px;width:2px"></i><i class="d60" style="left:233px;width:2px"></i><i class="d59" style="left:235px;width:2px"></i><i class="d58" style="left:237px;width:2px"></i><i class="d57" style="left:239px;width:2px"></i><i class="d56" style="left:241px;width:2px"></i><i class="d55" style="left:243px;width:2px"></i><i class="d54" style="left:245px;width:2px"></i><i class="d53" style="left:247px;width:2px"></i><i class="d52" style="left:249px;width:2px"></i><i class="d51" style="left:251px;width:2px"></i><i class="d50" style="left:253px;width:2px"></i><i class="d49" style="left:255px;width:2px"></i><i class="d48" style="left:257px;width:2px"></i><i class="d47" style="left:259px;width:2px"></i><i class="d46" style="left:261px;width:2px"></i><i class="d45" style="left:263px;width:2px"></i><i class="d44" style="left:265px;width:2px"></i><i class="d43" style="left:267px;width:2px"></i><i class="d42" style="left:269px;width:2px"></i><i class="d41" style="left:271px;width:2px"></i><i class="d40" style="left:273px;width:2px"></i><i class="d39" style="left:275px;width:2px"></i><i class="d38" style="left:277px;width:2px"></i><i class="d37" style="left:279px;width:2px"></i><i class="d36" style="left:281px;width:2px"></i><i class="d35" style="left:283px;width:2px"></i><i class="d34" style="left:285px;width:2px"></i><i class="d33" style="left:287px;width:2px"></i><i class="d32" style="left:289px;width:2px"></i><i class="d31" style="left:291px;width:2px"></i><i class="d30" style="left:293px;width:2px"></i><i class="d29" style="left:295px;width:2px"></i><i class="d28" style="left:297px;width:2px"></i><i class="d27" style="left:299px;width:2px"></i><i class="d26" style="left:301px;width:2px"></i><i class="d25" style="left:303px;width:2px"></i><i class="d24" style="left:305px;width:2px"></i><i class="d23" style="left:307px;width:2px"></i><i class="d22" style="left:309px;width:2px"></i><i class="d21" style="left:311px;width:2px"></i><i class="d20" style="left:313px;width:2px"></i><i class="d19" style="left:315px;width:2px"></i><i class="d18" style="left:317px;width:2px"></i><i class="d17" style="left:319px;width:2px"></i><i class="d16" style="left:321px;width:2px"></i><i class="d15" style="left:323px;width:2px"></i><i class="d14" style="left:325px;width:2px"></i><i class="d13" style="left:327px;width:2px"></i><i class="d12" style="left:329px;width:2px"></i><i class="d11" style="left:331px;width:2px"></i><i class="d10" style="left:333px;width:2px"></i><i class="d9" style="left:335px;width:2px"></i><i class="d8" style="left:337px;width:2px"></i><i class="d7" style="left:339px;width:2px"></i><i class="d6" style="left:341px;width:2px"></i><i class="d5" style="left:343px;width:2px"></i><i class="d4" style="left:345px;width:2px"></i><i class="d3" style="left:347px;width:2px"></i><i class="d2" style="left:349px;width:2px"></i><i class="d1" style="left:351px;width:2px"></i><i class="d0" style="left:353px;width:2px"></i></div>
<div class="cb" style="left:961.8px;top:374.3px;width:15.7px;height:315.7px"></div>
<svg width="1025" height="772" viewBox="0 0 1025 772">
<rect x="80.30" y="10.90" width="352.80" height="315.70" class="sp"/>
<rect x="455.00" y="10.90" width="15.70" height="315.70" class="sp"/>
<path class="tk" d="M80.30 89.83h6.4M433.10 89.83h-6.4"/>
<path class="tk" d="M80.30 168.75h6.4M433.10 168.75h-6.4"/>
<path class="tk" d="M80.30 247.67h6.4M433.10 247.67h-6.4"/>
<path class="tk" d="M82.00 10.90v6.4M82.00 326.60v-6.4"/>
<path class="tk" d="M256.70 10.90v6.4M256.70 326.60v-6.4"/>
<path class="tk" d="M431.40 10.90v6.4M431.40 326.60v-6.4"/>
<path class="tk" d="M470.70 326.60h-6.4"/>
<text class="t" transform="translate(476.8 340.4) scale(.945 1)">0.0</text>
<path class="tk" d="M470.70 222.58h-6.4"/>
<text class="t" transform="translate(476.8 236.4) scale(.945 1)">0.2</text>
<path class="tk" d="M470.70 118.56h-6.4"/>
<text class="t" transform="translate(476.8 132.4) scale(.945 1)">0.4</text>
<path class="tk" d="M470.70 14.54h-6.4"/>
<text class="t" transform="translate(476.8 28.3) scale(.945 1)">0.6</text>
<text class="t" text-anchor="end" transform="translate(75.1 24.9) scale(.945 1)">16</text>
<text class="t" text-anchor="end" transform="translate(75.1 103.8) scale(.945 1)">8</text>
<text class="t" text-anchor="end" transform="translate(75.1 182.8) scale(.945 1)">0</text>
<text class="t" text-anchor="end" transform="translate(75.1 261.7) scale(.945 1)">-8</text>
<text class="t" text-anchor="end" transform="translate(75.1 340.6) scale(.945 1)">-16</text>
<text class="t" text-anchor="middle" transform="translate(85.8 359.4) scale(.945 1)">-1.0</text>
<text class="t" text-anchor="middle" transform="translate(256.7 359.4) scale(.945 1)">0.0</text>
<text class="t" text-anchor="middle" transform="translate(432.3 359.4) scale(.945 1)">1.0</text>
<text class="ttl" transform="translate(82.7 50.3) scale(1.127 1)">(a)</text>
<text class="ttl" transform="translate(146.1 50.3) scale(1.225 1)">V=0.0</text>
<text class="om" transform="translate(17.6 168.8) rotate(-90)" text-anchor="middle">ω</text>
<rect x="587.10" y="10.90" width="352.80" height="315.70" class="sp"/>
<rect x="961.80" y="10.90" width="15.70" height="315.70" class="sp"/>
<line x1="962.80" y1="11.90" x2="962.80" y2="325.60" stroke="#ccc" stroke-width="0.7"/>
<path class="tk" d="M587.10 89.83h6.4M939.90 89.83h-6.4"/>
<path class="tk" d="M587.10 168.75h6.4M939.90 168.75h-6.4"/>
<path class="tk" d="M587.10 247.67h6.4M939.90 247.67h-6.4"/>
<path class="tk" d="M588.80 10.90v6.4M588.80 326.60v-6.4"/>
<path class="tk" d="M763.50 10.90v6.4M763.50 326.60v-6.4"/>
<path class="tk" d="M938.20 10.90v6.4M938.20 326.60v-6.4"/>
<path class="tk" d="M977.50 326.60h-6.4"/>
<text class="t" transform="translate(983.6 340.4) scale(.945 1)">0.0</text>
<path class="tk" d="M977.50 241.04h-6.4"/>
<text class="t" transform="translate(983.6 254.8) scale(.945 1)">0.2</text>
<path class="tk" d="M977.50 155.49h-6.4"/>
<text class="t" transform="translate(983.6 169.3) scale(.945 1)">0.4</text>
<path class="tk" d="M977.50 69.93h-6.4"/>
<text class="t" transform="translate(983.6 83.7) scale(.945 1)">0.6</text>
<text class="t" text-anchor="end" transform="translate(581.9 24.9) scale(.945 1)">16</text>
<text class="t" text-anchor="end" transform="translate(581.9 103.8) scale(.945 1)">8</text>
<text class="t" text-anchor="end" transform="translate(581.9 182.8) scale(.945 1)">0</text>
<text class="t" text-anchor="end" transform="translate(581.9 261.7) scale(.945 1)">-8</text>
<text class="t" text-anchor="end" transform="translate(581.9 340.6) scale(.945 1)">-16</text>
<text class="t" text-anchor="middle" transform="translate(592.6 359.4) scale(.945 1)">-1.0</text>
<text class="t" text-anchor="middle" transform="translate(763.5 359.4) scale(.945 1)">0.0</text>
<text class="t" text-anchor="middle" transform="translate(939.1 359.4) scale(.945 1)">1.0</text>
<text class="ttl" transform="translate(589.5 50.3) scale(1.127 1)">(b)</text>
<text class="ttl" transform="translate(655.3 50.3) scale(1.225 1)">V=4.5</text>
<rect x="80.30" y="374.30" width="352.80" height="315.70" class="sp"/>
<rect x="455.00" y="374.30" width="15.70" height="315.70" class="sp"/>
<path class="tk" d="M80.30 453.22h6.4M433.10 453.22h-6.4"/>
<path class="tk" d="M80.30 532.15h6.4M433.10 532.15h-6.4"/>
<path class="tk" d="M80.30 611.07h6.4M433.10 611.07h-6.4"/>
<path class="tk" d="M82.00 374.30v6.4M82.00 690.00v-6.4"/>
<path class="tk" d="M256.70 374.30v6.4M256.70 690.00v-6.4"/>
<path class="tk" d="M431.40 374.30v6.4M431.40 690.00v-6.4"/>
<path class="tk" d="M470.70 690.00h-6.4"/>
<text class="t" transform="translate(476.8 703.8) scale(.945 1)">0.0</text>
<path class="tk" d="M470.70 582.89h-6.4"/>
<text class="t" transform="translate(476.8 596.7) scale(.945 1)">0.2</text>
<path class="tk" d="M470.70 475.78h-6.4"/>
<text class="t" transform="translate(476.8 489.6) scale(.945 1)">0.4</text>
<text class="t" text-anchor="end" transform="translate(75.1 388.3) scale(.945 1)">16</text>
<text class="t" text-anchor="end" transform="translate(75.1 467.2) scale(.945 1)">8</text>
<text class="t" text-anchor="end" transform="translate(75.1 546.1) scale(.945 1)">0</text>
<text class="t" text-anchor="end" transform="translate(75.1 625.1) scale(.945 1)">-8</text>
<text class="t" text-anchor="end" transform="translate(75.1 704.0) scale(.945 1)">-16</text>
<text class="t" text-anchor="middle" transform="translate(85.8 722.8) scale(.945 1)">-1.0</text>
<text class="t" text-anchor="middle" transform="translate(256.7 722.8) scale(.945 1)">0.0</text>
<text class="t" text-anchor="middle" transform="translate(432.3 722.8) scale(.945 1)">1.0</text>
<text class="ttl" transform="translate(82.7 413.7) scale(1.127 1)">(c)</text>
<text class="ttl" transform="translate(144.6 413.7) scale(1.225 1)">V=5.5</text>
<text class="om" transform="translate(17.6 532.1) rotate(-90)" text-anchor="middle">ω</text>
<text class="xl" y="763.5"><tspan class="it" x="229.1">k</tspan><tspan class="sl" x="248.2" dy="9">/</tspan><tspan class="it" x="265.2" dy="-9">π</tspan></text>
<rect x="587.10" y="374.30" width="352.80" height="315.70" class="sp"/>
<rect x="961.80" y="374.30" width="15.70" height="315.70" class="sp"/>
<line x1="962.80" y1="375.30" x2="962.80" y2="689.00" stroke="#ccc" stroke-width="0.7"/>
<path class="tk" d="M587.10 453.22h6.4M939.90 453.22h-6.4"/>
<path class="tk" d="M587.10 532.15h6.4M939.90 532.15h-6.4"/>
<path class="tk" d="M587.10 611.07h6.4M939.90 611.07h-6.4"/>
<path class="tk" d="M588.80 374.30v6.4M588.80 690.00v-6.4"/>
<path class="tk" d="M763.50 374.30v6.4M763.50 690.00v-6.4"/>
<path class="tk" d="M938.20 374.30v6.4M938.20 690.00v-6.4"/>
<path class="tk" d="M977.50 690.00h-6.4"/>
<text class="t" transform="translate(983.6 703.8) scale(.945 1)">0.0</text>
<path class="tk" d="M977.50 627.92h-6.4"/>
<text class="t" transform="translate(983.6 641.7) scale(.945 1)">0.2</text>
<path class="tk" d="M977.50 565.83h-6.4"/>
<text class="t" transform="translate(983.6 579.6) scale(.945 1)">0.4</text>
<path class="tk" d="M977.50 503.75h-6.4"/>
<text class="t" transform="translate(983.6 517.5) scale(.945 1)">0.6</text>
<path class="tk" d="M977.50 441.66h-6.4"/>
<text class="t" transform="translate(983.6 455.5) scale(.945 1)">0.8</text>
<text class="t" text-anchor="end" transform="translate(581.9 388.3) scale(.945 1)">16</text>
<text class="t" text-anchor="end" transform="translate(581.9 467.2) scale(.945 1)">8</text>
<text class="t" text-anchor="end" transform="translate(581.9 546.1) scale(.945 1)">0</text>
<text class="t" text-anchor="end" transform="translate(581.9 625.1) scale(.945 1)">-8</text>
<text class="t" text-anchor="end" transform="translate(581.9 704.0) scale(.945 1)">-16</text>
<text class="t" text-anchor="middle" transform="translate(592.6 722.8) scale(.945 1)">-1.0</text>
<text class="t" text-anchor="middle" transform="translate(763.5 722.8) scale(.945 1)">0.0</text>
<text class="t" text-anchor="middle" transform="translate(939.1 722.8) scale(.945 1)">1.0</text>
<text class="ttl" transform="translate(589.5 413.7) scale(1.127 1)">(d)</text>
<text class="ttl" transform="translate(655.3 413.7) scale(1.225 1)">V=7.0</text>
<text class="xl" y="763.5"><tspan class="it" x="735.9">k</tspan><tspan class="sl" x="755.0" dy="9">/</tspan><tspan class="it" x="772.0" dy="-9">π</tspan></text>
</svg>
</div></body></html>
